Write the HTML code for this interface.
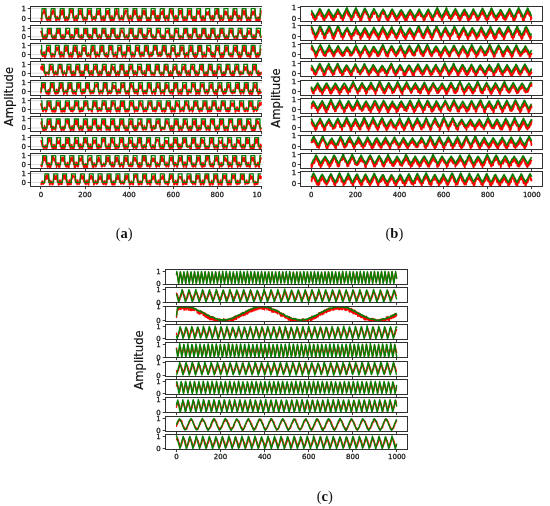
<!DOCTYPE html>
<html><head><meta charset="utf-8"><style>
html,body{margin:0;padding:0;background:#fff;width:550px;height:506px;overflow:hidden}
svg{display:block}

.tk{font-family:"DejaVu Sans","Liberation Sans",sans-serif;font-size:7px;fill:#111;stroke:#111;stroke-width:0.25px}
.yl{font-family:"DejaVu Sans","Liberation Sans",sans-serif;font-size:11.6px;fill:#111;stroke:#111;stroke-width:0.2px}
.cap{font-family:"Liberation Serif","DejaVu Serif",serif;font-size:14.5px;fill:#111}
</style></head><body>
<svg width="550" height="506" viewBox="0 0 550 506">
<rect width="550" height="506" fill="#fff"/>
<defs><clipPath id="ca"><rect x="0" y="0" width="262" height="506"/></clipPath><clipPath id="ra0"><rect x="30.30" y="6.35" width="242.50" height="15.05"/></clipPath><clipPath id="ra1"><rect x="30.30" y="25.30" width="242.50" height="14.60"/></clipPath><clipPath id="ra2"><rect x="30.30" y="43.20" width="242.50" height="15.00"/></clipPath><clipPath id="ra3"><rect x="30.30" y="61.30" width="242.50" height="15.10"/></clipPath><clipPath id="ra4"><rect x="30.30" y="80.20" width="242.50" height="15.00"/></clipPath><clipPath id="ra5"><rect x="30.30" y="98.30" width="242.50" height="14.70"/></clipPath><clipPath id="ra6"><rect x="30.30" y="116.60" width="242.50" height="14.70"/></clipPath><clipPath id="ra7"><rect x="30.30" y="135.10" width="242.50" height="14.70"/></clipPath><clipPath id="ra8"><rect x="30.30" y="153.30" width="242.50" height="15.00"/></clipPath><clipPath id="ra9"><rect x="30.30" y="171.30" width="242.50" height="15.20"/></clipPath><clipPath id="rb0"><rect x="300.60" y="6.35" width="242.50" height="15.25"/></clipPath><clipPath id="rb1"><rect x="300.60" y="25.10" width="242.50" height="15.10"/></clipPath><clipPath id="rb2"><rect x="300.60" y="43.30" width="242.50" height="15.40"/></clipPath><clipPath id="rb3"><rect x="300.60" y="61.50" width="242.50" height="15.20"/></clipPath><clipPath id="rb4"><rect x="300.60" y="80.00" width="242.50" height="15.00"/></clipPath><clipPath id="rb5"><rect x="300.60" y="98.50" width="242.50" height="14.70"/></clipPath><clipPath id="rb6"><rect x="300.60" y="116.60" width="242.50" height="14.60"/></clipPath><clipPath id="rb7"><rect x="300.60" y="135.10" width="242.50" height="14.70"/></clipPath><clipPath id="rb8"><rect x="300.60" y="153.60" width="242.50" height="14.60"/></clipPath><clipPath id="rb9"><rect x="300.60" y="171.70" width="242.50" height="14.70"/></clipPath><clipPath id="rc0"><rect x="165.20" y="269.10" width="242.50" height="15.00"/></clipPath><clipPath id="rc1"><rect x="165.20" y="287.90" width="242.50" height="14.30"/></clipPath><clipPath id="rc2"><rect x="165.20" y="306.30" width="242.50" height="14.70"/></clipPath><clipPath id="rc3"><rect x="165.20" y="324.50" width="242.50" height="14.70"/></clipPath><clipPath id="rc4"><rect x="165.20" y="342.60" width="242.50" height="15.20"/></clipPath><clipPath id="rc5"><rect x="165.20" y="361.50" width="242.50" height="14.70"/></clipPath><clipPath id="rc6"><rect x="165.20" y="379.30" width="242.50" height="15.00"/></clipPath><clipPath id="rc7"><rect x="165.20" y="397.30" width="242.50" height="15.20"/></clipPath><clipPath id="rc8"><rect x="165.20" y="416.00" width="242.50" height="15.00"/></clipPath><clipPath id="rc9"><rect x="165.20" y="434.80" width="242.50" height="14.40"/></clipPath></defs>
<g clip-path="url(#ca)"><line x1="30.30" x2="272.80" y1="18.20" y2="18.20" stroke="#d4d4d4" stroke-width="0.9"/><line x1="30.30" x2="272.80" y1="8.30" y2="8.30" stroke="#d4d4d4" stroke-width="0.9"/><g clip-path="url(#ra0)"><g transform="scale(0.1)"><path d="M409 189l2-6 2-1 3 22 2-47 2 0 2-10 2-23 3 9 2 1 2 2 2-10 2-4 3-2 2-24 2 11 2 9 2-20 3 42 2 3 2-24 2 46 3-13 2 20 2-14 2 12 2 30 3-1 2 1 2-9 2 14 2 3 3-8 2-26 2 10 2 0 2-6 3-14 2 37 2-12 2 14 2-16 3 4 2 21 2-11 2-50 2 2 3-2 2-19 2-13 2 29 2-17 3 3 2 9 2-35 2 23 2-32 3 21 2-1 2-2 2-2 3 28 2 23 2 1 2-11 2 18 3-14 2 23 2 26 2-24 2 3 3 18 2-7 2-5 2-25 2-4 3 14 2-1 2 7 2 15 2-15 3 11 2 4 2-17 2 20 2-12 3-40 2 10 2 7 2-64 2 22 3-4 2 12 2-23 2 39 2-19 3 19 2-5 2-45 2 16 3 12 2-5 2-18 2 28 2 44 3-1 2-19 2 9 2 9 2 29 3 10 2-19 2 10 2 0 2-19 3-13 2-7 2 14 2-6 2 1 3 28 2-9 2 11 2-23 2 6 3 10 2-13 2-39 2 22 2-15 3 3 2-19 2-37 2 28 2-29 3 25 2-1 2-20 2 9 2 8 3 9 2-25 2 25 2-27 3 46 2 13 2 16 2-11 2 2 3-6 2 44 2 0 2-20 2 21 3-6 2-11 2 13 2-30 2-7 3 21 2-30 2 29 2 19 2-2 3-17 2 18 2-22 2 6 2-1 3-42 2 14 2-7 2-4 2-19 3-19 2-2 2 4 2 33 2-42 3 5 2-4 2 19 2-21 3 47 2 1 2 0 2 14 2-14 3 26 2-12 2-12 2 41 2 9 3-1 2 3 2-16 2 0 2 10 3-27 2 11 2 1 2 5 2-8 3 26 2-21 2 3 2-3 2 3 3 0 2 12 2-53 2 15 2-6 3-21 2-30 2 4 2 35 2-34 3-6 2 37 2-20 2-4 3 2 2 27 2-30 2 2 2-11 3 45 2 16 2 1 2 6 2-23 3 54 2-14 2-9 2 16 2-6 3-3 2 2 2-8 2-16 2-1 3-1 2 8 2 24 2-3 2-5 3 14 2-20 2 10 2-7 2-47 3 15 2 1 2-9 2-36 2 9 3 15 2 12 2-36 2 33 3 0 2 0 2 3 2-44 2 34 3-2 2-28 2 11 2 32 2 9 3 8 2-9 2 7 2 49 2-16 3 6 2-4 2-1 2 0 2-26 3 16 2-24 2 15 2-17 2 44 3-6 2-10 2 23 2-25 2 1 3 11 2-45 2-7 2 15 2-11 3-43 2 20 2-13 2 24 2-30 3 0 2 2 2 15 2 3 3-2 2 21 2-44 2 16 2 9 3 46 2-18 2 3 2-1 2 5 3 45 2-11 2 11 2-13 2-7 3 13 2 4 2-49 2 11 2 7 3 10 2 3 2 13 2-12 2-2 3 20 2-19 2-6 2 12 2-49 3-7 2 27 2-17 2-15 2 0 3-22 2 14 2 21 2-50 3 6 2-2 2 36 2-8 2 9 3 6 2 5 2 11 2 14 2-22 3 22 2-7 2 35 2-10 2-1 3-7 2 1 2 14 2-8 2-16 3 11 2-5 2-25 2 7 2 33 3-3 2-3 2 5 2 6 2-15 3 15 2-43 2-16 2 22 2-16 3-15 2-15 2 29 2-9 3-13 2-22 2 7 2-4 2 4 3 2 2-7 2 9 2-3 2 53 3 8 2-6 2-10 2 16 2 25 3-12 2 22 2-21 2 18 2-8 3-6 2-20 2-13 2 3 2-1 3 17 2 16 2-1 2-6 2 21 3 3 2-22 2 17 2-63 2-1 3 27 2-58 2 38 2-36 3 39 2-51 2 26 2 3 2-16 3 10 2-11 2 35 2-26 2 0 3-20 2 48 2 17 2 3 2-5 3 9 2-3 2 35 2-20 2 2 3 4 2 17 2 4 2-45 2-4 3 0 2 21 2-22 2 39 2-10 3 11 2-14 2-3 2 24 2-17 3-32 2 1 2 4 2-5 3-27 2-26 2 24 2-25 2 3 3 18 2-14 2 36 2-19 2-25 3 15 2 2 2-6 2-1 2 44 3-9 2 5 2 22 2-13 2 45 3-14 2-6 2 21 2-13 2 0 3 13 2-33 2 2 2-5 2 10 3 27 2-8 2-9 2 7 2 12 3-27 2 20 2-5 2-49 3-1 2 6 2-47 2 17 2 4 3-9 2 19 2-7 2-20 2-4 3 38 2-36 2-4 2 20 2 20 3-33 2 54 2 4 2 6 2-4 3-21 2 50 2-20 2 6 2 15 3-7 2 11 2-8 2-43 2 12 3-11 2 31 2-30 2 24 2 26 3-7 2 10 2-11 2-1 2-4 3-46 2-9 2 15 2-24 3 5 2-10 2-3 2 19 2-16 3-11 2 27 2 0 2-2 2-6 3-36 2 50 2-8 2 36 2-25 3 17 2-10 2-6 2 35 2 15 3 2 2 5 2-17 2-10 2 2 3-25 2 4 2 1 2-10 2 16 3 20 2 0 2-1 2 19 2-4 3 6 2-28 2-42 2 4 3-2 2-42 2-4 2 21 2-3 3-1 2 6 2-21 2 19 2 14 3-9 2 26 2-37 2 1 2 15 3-23 2 58 2 10 2-1 2-5 3 1 2 38 2-8 2-16 2 11 3 0 2 9 2-45 2 27 2 5 3-30 2 17 2 11 2 13 2 4 3-22 2 13 2 9 2 4 3-41 2-6 2 0 2-16 2-22 3 25 2-27 2-16 2 41 2-10 3-27 2 9 2 16 2-17 2 9 3-22 2 31 2-25 2 63 2-11 3 6 2-9 2 3 2 39 2 9 3-22 2 15 2-4 2 10 2-7 3-28 2-8 2 13 2-1 2 14 3-8 2 10 2 18 2-30 3 24 2-4 2-6 2-53 2 23 3-7 2-39 2 3 2 23 2-2 3-41 2 22 2-18 2 40 2-28 3-15 2 0 2 46 2-28 2 9 3 47 2-7 2-8 2-6 2 10 3 25 2-10 2 3 2 24 2-12 3-9 2 22 2-44 2 22 2-1 3-19 2-1 2 35 2 2 2-5 3-13 2 10 2-2 2 15 3-59 2 8 2-18 2-33 2 36 3-22 2-10 2 18 2 7 2-6 3-9 2-7 2 6 2 25 2-38 3-6 2 44 2 27 2-10 2 7 3 2 2-4 2 16 2 29 2-1 3-1 2-26 2 16 2-14 2-28 3 18 2-15 2 15 2 3 2 10 3 21 2-27 2 15 2 3 3-10 2 13 2-53 2 8 2-1 3-43 2 8 2 18 2 2 2-8 3 13 2-9 2 4 2-18 2 6 3-12 2 16 2 14 2-16 2-23 3 48 2 9 2-14 2 1 2 14 3 25 2 7 2 3 2-6 2-6 3-7 2-5 2-19 2 17 2-16 3-4 2 50 2-24 2 22 3-14 2 0 2-7 2 8 2-37 3-6 2-2 2 0 2-29 2 29 3-27 2 6 2-6 2-9 2 3 3-17 2 45 2-35 2 21 2-20 3-5 2-6 2 76 2-22 2 1 3 15 2-10 2 28 2 10 2 15 3-8 2 3 2 3 2-11 2-40 3 22 2-20 2 18 2 14 3 7 2-1 2 6 2-4 2-2 3 5 2-15 2-41 2 12 2-17 3-1 2 5 2-32 2-3 2 24 3-18 2 33 2-20 2-10 2 18 3-5 2-14 2 1 2 23 2 22 3-13 2 16 2-11 2 3 2 24 3 28 2-19 2 20 2-17 2 14 3-17 2-9 2-23 2 20 3-3 2-15 2 42 2 3 2-1 3-11 2 4 2-12 2 10 2-37 3-20 2 28 2-29 2-27 2 38 3-13 2-38 2 3 2 14 2 29 3-12 2 16 2-10 2 10 2-5 3-28 2 48 2-4 2 5 2-3 3-11 2 59 2-4 2 4 2-23 3 9 2 2 2-4 2-39 3 12 2 9 2 2 2-14 2 17 3 14 2 3 2-13 2 26 2 0 3-23 2-30 2 5 2-23 2-35 3-7 2 39 2-33 2 25 2 5 3-11 2 27 2-23 2 13 2-28 3 11 2-19 2-2 2 31 2 38 3-2 2-7 2-3 2-7 2 54 3-21 2 8 2 17 2 2 2-27 3 6 2-1 2-18 2 8 3-3 2 20 2 6 2 0 2 3 3-13 2-10 2 27 2-53 2-6 3-10 2 20 2-39 2 25 2-20 3-12 2 32 2-10 2 12 2-28 3 9 2-7 2 12 2-20 2 26 3-39 2 50 2 7 2-8 2 14 3-11 2 36 2 20 2-9 2-7 3-10 2 17 2 6 2-17 3-8 2-3 2-9 2 35 2-8 3-13 2-2 2 26 2-13 2-4 3 17 2-69 2 26 2-8 2-18 3-35 2-1" fill="none" stroke="#ff0000" stroke-width="15" stroke-linejoin="round"/><path d="M409 182l2 0 2 0 3 0 2 0 2-96 2 0 2 0 3 0 2 0 2 0 2 0 2 0 3 0 2 0 2 0 2 0 2 0 3 0 2 0 2 0 2 0 3 0 2 0 2 96 2 0 2 0 3 0 2 0 2 0 2 0 2 0 3 0 2 0 2 0 2 0 2 0 3 0 2 0 2 0 2 0 2 0 3 0 2 0 2 0 2 0 2-79 3-17 2 0 2 0 2 0 2 0 3 0 2 0 2 0 2 0 2 0 3 0 2 0 2 0 2 0 3 0 2 0 2 0 2 0 2 83 3 13 2 0 2 0 2 0 2 0 3 0 2 0 2 0 2 0 2 0 3 0 2 0 2 0 2 0 2 0 3 0 2 0 2 0 2 0 2 0 3 0 2-40 2-56 2 0 2 0 3 0 2 0 2 0 2 0 2 0 3 0 2 0 2 0 2 0 3 0 2 0 2 0 2 0 2 0 3 0 2 44 2 52 2 0 2 0 3 0 2 0 2 0 2 0 2 0 3 0 2 0 2 0 2 0 2 0 3 0 2 0 2 0 2 0 2 0 3 0 2 0 2 0 2-1 2-95 3 0 2 0 2 0 2 0 2 0 3 0 2 0 2 0 2 0 2 0 3 0 2 0 2 0 2 0 3 0 2 0 2 0 2 5 2 91 3 0 2 0 2 0 2 0 2 0 3 0 2 0 2 0 2 0 2 0 3 0 2 0 2 0 2 0 2 0 3 0 2 0 2 0 2 0 2 0 3 0 2-96 2 0 2 0 2 0 3 0 2 0 2 0 2 0 2 0 3 0 2 0 2 0 2 0 3 0 2 0 2 0 2 0 2 0 3 0 2 96 2 0 2 0 2 0 3 0 2 0 2 0 2 0 2 0 3 0 2 0 2 0 2 0 2 0 3 0 2 0 2 0 2 0 2 0 3 0 2 0 2 0 2-79 2-17 3 0 2 0 2 0 2 0 2 0 3 0 2 0 2 0 2 0 3 0 2 0 2 0 2 0 2 0 3 0 2 0 2 0 2 83 2 13 3 0 2 0 2 0 2 0 2 0 3 0 2 0 2 0 2 0 2 0 3 0 2 0 2 0 2 0 2 0 3 0 2 0 2 0 2 0 2 0 3-40 2-56 2 0 2 0 2 0 3 0 2 0 2 0 2 0 3 0 2 0 2 0 2 0 2 0 3 0 2 0 2 0 2 0 2 0 3 44 2 52 2 0 2 0 2 0 3 0 2 0 2 0 2 0 2 0 3 0 2 0 2 0 2 0 2 0 3 0 2 0 2 0 2 0 2 0 3 0 2 0 2-1 2-95 2 0 3 0 2 0 2 0 2 0 2 0 3 0 2 0 2 0 2 0 3 0 2 0 2 0 2 0 2 0 3 0 2 0 2 5 2 91 2 0 3 0 2 0 2 0 2 0 2 0 3 0 2 0 2 0 2 0 2 0 3 0 2 0 2 0 2 0 2 0 3 0 2 0 2 0 2 0 2 0 3-96 2 0 2 0 2 0 2 0 3 0 2 0 2 0 2 0 3 0 2 0 2 0 2 0 2 0 3 0 2 0 2 0 2 0 2 0 3 96 2 0 2 0 2 0 2 0 3 0 2 0 2 0 2 0 2 0 3 0 2 0 2 0 2 0 2 0 3 0 2 0 2 0 2 0 2 0 3 0 2 0 2-79 2-17 2 0 3 0 2 0 2 0 2 0 3 0 2 0 2 0 2 0 2 0 3 0 2 0 2 0 2 0 2 0 3 0 2 0 2 83 2 13 2 0 3 0 2 0 2 0 2 0 2 0 3 0 2 0 2 0 2 0 2 0 3 0 2 0 2 0 2 0 2 0 3 0 2 0 2 0 2 0 2-40 3-56 2 0 2 0 2 0 3 0 2 0 2 0 2 0 2 0 3 0 2 0 2 0 2 0 2 0 3 0 2 0 2 0 2 0 2 44 3 52 2 0 2 0 2 0 2 0 3 0 2 0 2 0 2 0 2 0 3 0 2 0 2 0 2 0 2 0 3 0 2 0 2 0 2 0 2 0 3 0 2-1 2-95 2 0 3 0 2 0 2 0 2 0 2 0 3 0 2 0 2 0 2 0 2 0 3 0 2 0 2 0 2 0 2 0 3 0 2 5 2 91 2 0 2 0 3 0 2 0 2 0 2 0 2 0 3 0 2 0 2 0 2 0 2 0 3 0 2 0 2 0 2 0 2 0 3 0 2 0 2 0 2 0 3-96 2 0 2 0 2 0 2 0 3 0 2 0 2 0 2 0 2 0 3 0 2 0 2 0 2 0 2 0 3 0 2 0 2 0 2 0 2 96 3 0 2 0 2 0 2 0 2 0 3 0 2 0 2 0 2 0 2 0 3 0 2 0 2 0 2 0 2 0 3 0 2 0 2 0 2 0 2 0 3 0 2-79 2-17 2 0 3 0 2 0 2 0 2 0 2 0 3 0 2 0 2 0 2 0 2 0 3 0 2 0 2 0 2 0 2 0 3 0 2 83 2 13 2 0 2 0 3 0 2 0 2 0 2 0 2 0 3 0 2 0 2 0 2 0 2 0 3 0 2 0 2 0 2 0 2 0 3 0 2 0 2 0 2-40 3-56 2 0 2 0 2 0 2 0 3 0 2 0 2 0 2 0 2 0 3 0 2 0 2 0 2 0 2 0 3 0 2 0 2 0 2 44 2 52 3 0 2 0 2 0 2 0 2 0 3 0 2 0 2 0 2 0 2 0 3 0 2 0 2 0 2 0 2 0 3 0 2 0 2 0 2 0 3 0 2-1 2-95 2 0 2 0 3 0 2 0 2 0 2 0 2 0 3 0 2 0 2 0 2 0 2 0 3 0 2 0 2 0 2 0 2 0 3 5 2 91 2 0 2 0 2 0 3 0 2 0 2 0 2 0 2 0 3 0 2 0 2 0 2 0 2 0 3 0 2 0 2 0 2 0 3 0 2 0 2 0 2 0 2-96 3 0 2 0 2 0 2 0 2 0 3 0 2 0 2 0 2 0 2 0 3 0 2 0 2 0 2 0 2 0 3 0 2 0 2 0 2 96 2 0 3 0 2 0 2 0 2 0 2 0 3 0 2 0 2 0 2 0 2 0 3 0 2 0 2 0 2 0 2 0 3 0 2 0 2 0 2 0 3 0 2-79 2-17 2 0 2 0 3 0 2 0 2 0 2 0 2 0 3 0 2 0 2 0 2 0 2 0 3 0 2 0 2 0 2 0 2 0 3 82 2 14 2 0 2 0 2 0 3 0 2 0 2 0 2 0 2 0 3 0 2 0 2 0 2 0 2 0 3 0 2 0 2 0 2 0 3 0 2 0 2 0 2-40 2-56 3 0 2 0 2 0 2 0 2 0 3 0 2 0 2 0 2 0 2 0 3 0 2 0 2 0 2 0 2 0 3 0 2 0 2 44 2 52 2 0 3 0 2 0 2 0 2 0 2 0 3 0 2 0 2 0 2 0 2 0 3 0 2 0 2 0 2 0 3 0 2 0 2 0 2 0 2 0 3-1 2-95 2 0 2 0 2 0 3 0 2 0 2 0 2 0 2 0 3 0 2 0 2 0 2 0 2 0 3 0 2 0 2 0 2 0 2 5 3 91 2 0 2 0 2 0 2 0 3 0 2 0 2 0 2 0 2 0 3 0 2 0 2 0 2 0 3 0 2 0 2 0 2 0 2 0 3 0 2 0 2 0 2-96 2 0 3 0 2 0 2 0 2 0 2 0 3 0 2 0 2 0 2 0 2 0 3 0 2 0 2 0 2 0 2 0 3 0 2 0 2 96 2 0 2 0 3 0 2 0 2 0 2 0 2 0 3 0 2 0 2 0 2 0 3 0 2 0 2 0 2 0 2 0 3 0 2 0 2 0 2 0 2 0 3-79 2-17 2 0 2 0 2 0 3 0 2 0 2 0 2 0 2 0 3 0 2 0 2 0 2 0 2 0 3 0 2 0 2 0 2 0 2 82 3 14 2 0 2 0 2 0 2 0 3 0 2 0 2 0 2 0 3 0 2 0 2 0 2 0 2 0 3 0 2 0 2 0 2 0 2 0 3 0 2 0 2-40 2-56 2 0 3 0 2 0 2 0 2 0 2 0 3 0 2 0 2 0 2 0 2 0 3 0 2 0 2 0 2 0 2 0 3 0 2 44 2 52 2 0 2 0 3 0 2 0 2 0 2 0 2 0 3 0 2 0 2 0 2 0 3 0 2 0 2 0 2 0 2 0 3 0 2 0 2 0 2 0 2-1 3-95 2 0 2 0 2 0 2 0 3 0 2 0 2 0 2 0 2 0 3 0 2 0 2 0 2 0 2 0 3 0 2 0 2 0 2 5 2 91 3 0 2 0 2 0 2 0 2 0 3 0 2 0 2 0 2 0 3 0 2 0 2 0 2 0 2 0 3 0 2 0 2 0 2 0 2 0 3 0 2 0 2-96 2 0 2 0 3 0 2 0" fill="none" stroke="#008000" stroke-width="13" stroke-linejoin="round"/></g></g><rect x="30.5" y="6.5" width="242.0" height="15.0" fill="none" stroke="#303030" stroke-width="1"/><line x1="27.70" x2="30.50" y1="8.5" y2="8.5" stroke="#262626" stroke-width="0.9"/><text x="25.90" y="10.70" class="tk" text-anchor="end">1</text><line x1="27.70" x2="30.50" y1="18.5" y2="18.5" stroke="#262626" stroke-width="0.9"/><text x="25.90" y="20.60" class="tk" text-anchor="end">0</text><line x1="40.5" x2="40.5" y1="21.5" y2="24.1" stroke="#262626" stroke-width="0.9"/><line x1="85.5" x2="85.5" y1="21.5" y2="24.1" stroke="#262626" stroke-width="0.9"/><line x1="129.5" x2="129.5" y1="21.5" y2="24.1" stroke="#262626" stroke-width="0.9"/><line x1="173.5" x2="173.5" y1="21.5" y2="24.1" stroke="#262626" stroke-width="0.9"/><line x1="217.5" x2="217.5" y1="21.5" y2="24.1" stroke="#262626" stroke-width="0.9"/><line x1="261.5" x2="261.5" y1="21.5" y2="24.1" stroke="#262626" stroke-width="0.9"/><line x1="30.30" x2="272.80" y1="36.80" y2="36.80" stroke="#d4d4d4" stroke-width="0.9"/><line x1="30.30" x2="272.80" y1="28.10" y2="28.10" stroke="#d4d4d4" stroke-width="0.9"/><g clip-path="url(#ra1)"><g transform="scale(0.1)"><path d="M409 308l2 16 2-11 3 22 2 3 2 17 2 3 2-13 3-5 2 45 2 4 2-11 2 14 3-5 2 2 2-15 2-15 2 15 3-17 2-12 2 8 2 32 3-1 2-5 2 13 2-25 2 23 3-21 2-22 2 2 2 4 2-55 3 4 2 32 2-11 2-25 2 6 3 35 2-29 2 23 2-17 2-23 3 43 2-35 2 16 2-24 2 51 3-5 2 14 2-9 2 12 2 18 3 2 2 9 2-18 2 26 2-6 3-13 2-9 2 0 2-13 3 2 2 40 2-16 2 5 2-8 3 4 2 5 2 10 2-59 2-5 3-1 2-13 2 19 2-38 2 18 3-16 2 37 2-29 2 15 2-8 3-4 2-10 2-4 2 35 2-32 3 35 2 17 2-5 2 10 2-3 3-4 2 41 2 0 2-13 2 8 3 8 2-4 2-31 2-1 3-12 2 12 2 11 2 5 2 18 3-16 2-5 2-4 2 8 2 3 3-32 2-4 2 1 2 4 2-26 3 18 2-40 2 22 2 15 2-9 3 1 2 10 2-13 2 7 2-2 3-21 2 24 2 6 2 8 2-1 3 9 2-14 2 10 2 25 2 10 3-17 2 18 2 3 2 4 2-6 3-43 2 0 2 8 2 13 3-5 2 14 2 5 2-11 2 11 3 10 2-17 2-4 2-20 2 4 3-1 2-42 2 26 2-36 2 38 3-9 2-4 2 12 2-40 2-2 3 3 2 33 2-30 2 23 2 3 3 35 2-16 2 17 2-15 2 2 3 28 2-2 2 2 2-10 2 0 3 4 2 10 2-26 2 13 3-6 2-17 2 23 2 26 2-22 3 8 2-9 2 9 2-9 2 3 3-32 2-1 2-10 2-14 2-10 3-10 2 13 2 22 2-8 2-28 3 41 2-8 2-19 2-11 2 2 3 4 2 1 2 49 2-7 2 15 3-10 2-11 2 30 2-1 2 0 3 16 2-10 2 4 2 2 3-39 2 3 2 4 2 10 2-8 3 24 2 0 2 6 2-7 2 0 3-3 2 16 2-42 2 3 2-13 3-42 2 24 2-17 2 3 2 21 3 4 2-26 2-10 2-1 2 30 3 13 2-12 2 12 2-43 2 32 3 32 2-12 2 12 2 2 2-2 3 26 2-16 2 26 2-17 3 4 2-11 2 3 2-16 2-10 3 24 2-17 2 18 2-2 2 21 3-10 2-13 2 25 2-18 2-32 3-6 2-5 2-21 2 21 2-35 3 38 2-6 2-29 2 13 2 12 3-22 2 7 2 25 2-6 2-27 3 0 2 35 2 21 2 3 2-20 3 10 2-3 2 36 2 11 2-8 3-18 2 17 2-2 2-18 3-18 2 4 2 18 2-1 2 16 3-15 2 10 2-11 2-1 2 3 3 13 2-49 2-1 2 20 2-6 3-49 2 25 2-1 2 6 2-32 3 1 2 22 2 1 2 13 2-40 3 15 2-14 2 16 2 5 2 43 3-5 2-9 2 6 2 5 2 21 3 0 2 0 2-2 2 20 3-8 2-1 2-38 2 6 2 8 3-7 2 18 2 9 2 7 2-7 3 7 2-16 2 19 2-18 2-42 3 12 2 9 2-27 2-5 2-4 3-1 2-10 2-5 2-6 2 14 3 19 2-15 2 7 2 9 2-4 3 5 2 12 2 10 2 12 2-23 3 9 2 33 2 1 2-6 3-5 2 0 2-4 2 7 2-9 3-13 2 20 2-25 2 27 2 8 3 8 2 0 2-3 2-18 2 15 3-15 2-16 2-18 2-2 2-6 3-13 2 17 2 1 2-38 2 3 3 37 2-35 2 36 2-13 2-30 3 2 2 22 2-11 2 46 2 6 3-2 2-12 2 1 2 29 3 18 2-2 2-20 2 19 2-20 3 10 2-22 2 3 2 14 2-21 3 6 2 33 2-21 2-2 2-2 3 9 2 2 2 11 2-36 2-8 3 9 2-39 2-2 2 14 2-7 3-18 2-3 2 0 2 14 2-15 3 35 2-40 2 44 2-40 2 5 3 19 2 27 2 4 2-12 3 21 2-20 2 31 2 9 2-12 3 16 2 5 2-6 2-40 2 10 3 9 2-13 2 0 2 39 2 2 3-9 2-7 2 11 2-18 2 26 3-61 2 21 2-19 2-5 2 7 3-33 2 35 2-27 2 10 2-13 3 3 2 5 2-14 2 9 2-15 3 15 2-14 2 1 2 60 3-13 2 11 2-1 2-13 2 30 3 5 2 2 2-2 2 5 2-5 3-28 2 13 2 10 2-1 2-1 3 16 2-5 2-9 2 10 2-13 3 9 2 12 2-47 2 6 2 4 3-23 2 6 2-6 2-36 2 6 3 12 2-3 2-6 2-3 2 27 3-26 2 7 2 17 2 0 2 5 3 11 2 21 2-25 2 2 3 11 2 28 2-1 2 1 2-1 3-3 2-8 2 25 2-34 2-8 3 8 2 5 2-4 2 26 2-8 3 8 2-18 2 22 2-6 2 1 3-53 2 22 2-23 2 4 2-5 3-9 2-8 2 2 2 8 2-14 3-4 2 23 2 1 2-18 2 10 3-20 2 39 2 0 2 2 3 16 2-8 2-11 2 46 2-17 3 21 2-20 2 17 2-4 2-14 3 0 2-17 2 18 2 5 2-10 3 12 2 18 2-2 2-23 2 6 3-3 2 18 2-39 2-18 2 22 3-32 2-13 2-5 2-7 2 31 3 0 2-8 2 5 2-24 2 21 3 0 2-6 2-3 2 10 3 15 2 24 2-18 2 16 2-10 3 24 2 11 2-17 2 17 2 4 3 3 2-23 2-13 2 0 2 10 3 1 2-2 2 5 2-3 2 7 3 16 2-24 2 6 2 16 2-54 3-3 2 6 2-33 2 29 2 4 3-7 2-37 2 25 2 14 2-24 3 14 2-9 2-21 2 14 3 8 2-22 2 24 2 38 2-11 3 8 2-11 2 9 2 27 2 14 3-3 2-7 2-7 2-3 2-23 3 2 2-5 2 0 2 9 2 16 3 19 2-8 2-7 2 20 2-22 3 3 2-38 2 11 2 2 2-31 3 11 2-27 2-4 2 18 2-17 3 27 2-27 2-5 2 14 2-14 3 11 2 2 2 10 2 19 3 25 2 1 2-20 2 5 2 13 3 26 2-3 2-2 2-15 2 19 3-10 2-6 2 1 2-4 2-21 3 4 2 36 2 2 2-1 2 8 3-20 2 5 2-3 2-36 2 3 3 11 2-3 2-41 2-11 2 21 3 12 2-35 2-1 2-3 2 45 3-26 2-2 2 4 2 16 3-34 2 18 2 47 2-13 2-1 3 14 2-3 2 21 2 13 2-12 3 7 2 1 2-12 2 7 2-9 3-2 2-27 2 27 2-22 2 42 3-19 2 11 2-14 2 23 2-15 3 14 2-59 2 9 2 13 2-30 3-28 2 13 2-6 2 12 2 14 3-34 2 31 2 4 2-22 3 26 2-32 2 3 2 15 2 23 3 12 2-14 2 2 2 5 2 37 3-16 2 21 2-14 2 12 2-21 3 0 2 6 2-19 2 4 2 5 3-17 2 22 2 19 2-14 2 15 3-8 2 4 2-9 2-24 2-4 3-8 2-12 2-35 2 27 2-10 3 23 2-21 2-1 2-8 3-9 2 24 2 7 2 7 2-8 3-6 2 37 2 3 2-12 2 2 3-10 2 40 2 7 2 8 2-25 3 4 2 12 2-5 2-15 2 7 3-22 2 17 2 5 2 20 2-13 3-10 2 3 2-3 2 22 2-18 3-40 2 10 2-4 2-31 2-1 3 22 2-3 2-22 2 18 3 2 2-28 2 19 2 0 2-3 3 26 2-16 2-19 2 7 2 49 3-20 2 9 2 7 2 3 2 11 3 5 2 19 2-21 2 0 2 0 3 3 2-2 2-7 2 10 2-21 3 25 2 8 2-19 2 8 2-4 3 21 2-19 2-23 2-17 2 9 3-9 2-15 2 11 2-22 3-2 2-1 2 18 2-12 2 19 3-34 2-1 2 43 2-25 2-7 3 22 2 11 2 16 2-4 2 8 3-1 2 24 2-15 2 14 2 6 3 2 2 3 2-33 2-5 2-1 3 1 2 14 2 0 2 21 2-2 3-2 2 2 2-4 2-11 2-39 3 1 2-4 2 19 2-43 2 2 3 0 2 31 2-10 2-6 3 4 2-6 2 0 2 2 2 16 3-40 2-5 2 16 2 32 2 9 3-12 2 6 2-6 2 39 2 0 3-8 2 8 2 14 2-15 2 9 3-24 2-12 2 9 2-10 2 22 3 23 2-1 2 1 2-6 2-1 3-2 2-9 2-37 2 6 2 4 3-36 2-2 2 15 2-15 3-11 2 19 2-15 2 11 2 0 3-4 2 22 2-4 2 2 2-17 3 28 2 13 2 7 2-1 2-5 3 20 2-7" fill="none" stroke="#ff0000" stroke-width="15" stroke-linejoin="round"/><path d="M409 284l2 0 2 0 3 0 2 0 2 0 2 0 2 82 3 2 2 0 2 0 2 0 2 0 3 0 2 0 2 0 2 0 2 0 3 0 2 0 2 0 2 0 3 0 2 0 2 0 2 0 2 0 3 0 2 0 2-49 2-35 2 0 3 0 2 0 2 0 2 0 2 0 3 0 2 0 2 0 2 0 2 0 3 0 2 0 2 0 2 0 2 0 3 0 2 55 2 29 2 0 2 0 3 0 2 0 2 0 2 0 2 0 3 0 2 0 2 0 2 0 3 0 2 0 2 0 2 0 2 0 3 0 2 0 2 0 2 0 2-22 3-62 2 0 2 0 2 0 2 0 3 0 2 0 2 0 2 0 2 0 3 0 2 0 2 0 2 0 2 0 3 0 2 0 2 0 2 28 2 56 3 0 2 0 2 0 2 0 2 0 3 0 2 0 2 0 2 0 3 0 2 0 2 0 2 0 2 0 3 0 2 0 2 0 2 0 2 0 3 0 2 0 2-84 2 0 2 0 3 0 2 0 2 0 2 0 2 0 3 0 2 0 2 0 2 0 2 0 3 0 2 0 2 0 2 0 2 0 3 1 2 83 2 0 2 0 2 0 3 0 2 0 2 0 2 0 2 0 3 0 2 0 2 0 2 0 3 0 2 0 2 0 2 0 2 0 3 0 2 0 2 0 2 0 2-84 3 0 2 0 2 0 2 0 2 0 3 0 2 0 2 0 2 0 2 0 3 0 2 0 2 0 2 0 2 0 3 0 2 0 2 0 2 84 2 0 3 0 2 0 2 0 2 0 2 0 3 0 2 0 2 0 2 0 3 0 2 0 2 0 2 0 2 0 3 0 2 0 2 0 2 0 2 0 3 0 2-76 2-8 2 0 2 0 3 0 2 0 2 0 2 0 2 0 3 0 2 0 2 0 2 0 2 0 3 0 2 0 2 0 2 0 2 0 3 83 2 1 2 0 2 0 2 0 3 0 2 0 2 0 2 0 3 0 2 0 2 0 2 0 2 0 3 0 2 0 2 0 2 0 2 0 3 0 2 0 2 0 2-49 2-35 3 0 2 0 2 0 2 0 2 0 3 0 2 0 2 0 2 0 2 0 3 0 2 0 2 0 2 0 2 0 3 0 2 0 2 55 2 29 2 0 3 0 2 0 2 0 2 0 3 0 2 0 2 0 2 0 2 0 3 0 2 0 2 0 2 0 2 0 3 0 2 0 2 0 2 0 2 0 3-22 2-62 2 0 2 0 2 0 3 0 2 0 2 0 2 0 2 0 3 0 2 0 2 0 2 0 2 0 3 0 2 0 2 0 2 0 2 28 3 56 2 0 2 0 2 0 2 0 3 0 2 0 2 0 2 0 3 0 2 0 2 0 2 0 2 0 3 0 2 0 2 0 2 0 2 0 3 0 2 0 2 0 2-84 2 0 3 0 2 0 2 0 2 0 2 0 3 0 2 0 2 0 2 0 2 0 3 0 2 0 2 0 2 0 2 0 3 0 2 1 2 83 2 0 2 0 3 0 2 0 2 0 2 0 3 0 2 0 2 0 2 0 2 0 3 0 2 0 2 0 2 0 2 0 3 0 2 0 2 0 2 0 2 0 3-84 2 0 2 0 2 0 2 0 3 0 2 0 2 0 2 0 2 0 3 0 2 0 2 0 2 0 2 0 3 0 2 0 2 0 2 0 2 84 3 0 2 0 2 0 2 0 3 0 2 0 2 0 2 0 2 0 3 0 2 0 2 0 2 0 2 0 3 0 2 0 2 0 2 0 2 0 3 0 2 0 2-76 2-8 2 0 3 0 2 0 2 0 2 0 2 0 3 0 2 0 2 0 2 0 2 0 3 0 2 0 2 0 2 0 2 0 3 0 2 83 2 1 2 0 3 0 2 0 2 0 2 0 2 0 3 0 2 0 2 0 2 0 2 0 3 0 2 0 2 0 2 0 2 0 3 0 2 0 2 0 2 0 2-49 3-35 2 0 2 0 2 0 2 0 3 0 2 0 2 0 2 0 2 0 3 0 2 0 2 0 2 0 2 0 3 0 2 0 2 0 2 55 3 29 2 0 2 0 2 0 2 0 3 0 2 0 2 0 2 0 2 0 3 0 2 0 2 0 2 0 2 0 3 0 2 0 2 0 2 0 2 0 3 0 2-22 2-62 2 0 2 0 3 0 2 0 2 0 2 0 2 0 3 0 2 0 2 0 2 0 2 0 3 0 2 0 2 0 2 0 3 0 2 28 2 56 2 0 2 0 3 0 2 0 2 0 2 0 2 0 3 0 2 0 2 0 2 0 2 0 3 0 2 0 2 0 2 0 2 0 3 0 2 0 2 0 2 0 2-84 3 0 2 0 2 0 2 0 2 0 3 0 2 0 2 0 2 0 2 0 3 0 2 0 2 0 2 0 2 0 3 0 2 0 2 1 2 83 3 0 2 0 2 0 2 0 2 0 3 0 2 0 2 0 2 0 2 0 3 0 2 0 2 0 2 0 2 0 3 0 2 0 2 0 2 0 2 0 3 0 2-84 2 0 2 0 2 0 3 0 2 0 2 0 2 0 2 0 3 0 2 0 2 0 2 0 2 0 3 0 2 0 2 0 2 0 3 0 2 84 2 0 2 0 2 0 3 0 2 0 2 0 2 0 2 0 3 0 2 0 2 0 2 0 2 0 3 0 2 0 2 0 2 0 2 0 3 0 2 0 2 0 2-76 2-8 3 0 2 0 2 0 2 0 2 0 3 0 2 0 2 0 2 0 2 0 3 0 2 0 2 0 2 0 3 0 2 0 2 0 2 83 2 1 3 0 2 0 2 0 2 0 2 0 3 0 2 0 2 0 2 0 2 0 3 0 2 0 2 0 2 0 2 0 3 0 2 0 2 0 2 0 2 0 3-49 2-35 2 0 2 0 2 0 3 0 2 0 2 0 2 0 2 0 3 0 2 0 2 0 2 0 3 0 2 0 2 0 2 0 2 0 3 55 2 29 2 0 2 0 2 0 3 0 2 0 2 0 2 0 2 0 3 0 2 0 2 0 2 0 2 0 3 0 2 0 2 0 2 0 2 0 3 0 2 0 2-22 2-62 2 0 3 0 2 0 2 0 2 0 2 0 3 0 2 0 2 0 2 0 2 0 3 0 2 0 2 0 2 0 3 0 2 0 2 28 2 56 2 0 3 0 2 0 2 0 2 0 2 0 3 0 2 0 2 0 2 0 2 0 3 0 2 0 2 0 2 0 2 0 3 0 2 0 2 0 2 0 2 0 3-84 2 0 2 0 2 0 2 0 3 0 2 0 2 0 2 0 2 0 3 0 2 0 2 0 2 0 3 0 2 0 2 0 2 0 2 1 3 83 2 0 2 0 2 0 2 0 3 0 2 0 2 0 2 0 2 0 3 0 2 0 2 0 2 0 2 0 3 0 2 0 2 0 2 0 2 0 3 0 2 0 2-84 2 0 2 0 3 0 2 0 2 0 2 0 2 0 3 0 2 0 2 0 2 0 3 0 2 0 2 0 2 0 2 0 3 0 2 0 2 84 2 0 2 0 3 0 2 0 2 0 2 0 2 0 3 0 2 0 2 0 2 0 2 0 3 0 2 0 2 0 2 0 2 0 3 0 2 0 2 0 2 0 2-76 3-8 2 0 2 0 2 0 2 0 3 0 2 0 2 0 2 0 3 0 2 0 2 0 2 0 2 0 3 0 2 0 2 0 2 0 2 83 3 1 2 0 2 0 2 0 2 0 3 0 2 0 2 0 2 0 2 0 3 0 2 0 2 0 2 0 2 0 3 0 2 0 2 0 2 0 2 0 3 0 2-49 2-35 2 0 2 0 3 0 2 0 2 0 2 0 3 0 2 0 2 0 2 0 2 0 3 0 2 0 2 0 2 0 2 0 3 0 2 55 2 29 2 0 2 0 3 0 2 0 2 0 2 0 2 0 3 0 2 0 2 0 2 0 2 0 3 0 2 0 2 0 2 0 2 0 3 0 2 0 2 0 2-22 2-62 3 0 2 0 2 0 2 0 3 0 2 0 2 0 2 0 2 0 3 0 2 0 2 0 2 0 2 0 3 0 2 0 2 0 2 28 2 56 3 0 2 0 2 0 2 0 2 0 3 0 2 0 2 0 2 0 2 0 3 0 2 0 2 0 2 0 2 0 3 0 2 0 2 0 2 0 2 0 3 0 2-84 2 0 2 0 2 0 3 0 2 0 2 0 2 0 3 0 2 0 2 0 2 0 2 0 3 0 2 0 2 0 2 0 2 0 3 1 2 83 2 0 2 0 2 0 3 0 2 0 2 0 2 0 2 0 3 0 2 0 2 0 2 0 2 0 3 0 2 0 2 0 2 0 2 0 3 0 2 0 2 0 2-84 2 0 3 0 2 0 2 0 2 0 3 0 2 0 2 0 2 0 2 0 3 0 2 0 2 0 2 0 2 0 3 0 2 0 2 0 2 84 2 0 3 0 2 0" fill="none" stroke="#008000" stroke-width="13" stroke-linejoin="round"/></g></g><rect x="30.5" y="25.5" width="242.0" height="14.0" fill="none" stroke="#303030" stroke-width="1"/><line x1="27.70" x2="30.50" y1="28.5" y2="28.5" stroke="#262626" stroke-width="0.9"/><text x="25.90" y="30.50" class="tk" text-anchor="end">1</text><line x1="27.70" x2="30.50" y1="36.5" y2="36.5" stroke="#262626" stroke-width="0.9"/><text x="25.90" y="39.20" class="tk" text-anchor="end">0</text><line x1="40.5" x2="40.5" y1="39.5" y2="42.1" stroke="#262626" stroke-width="0.9"/><line x1="85.5" x2="85.5" y1="39.5" y2="42.1" stroke="#262626" stroke-width="0.9"/><line x1="129.5" x2="129.5" y1="39.5" y2="42.1" stroke="#262626" stroke-width="0.9"/><line x1="173.5" x2="173.5" y1="39.5" y2="42.1" stroke="#262626" stroke-width="0.9"/><line x1="217.5" x2="217.5" y1="39.5" y2="42.1" stroke="#262626" stroke-width="0.9"/><line x1="261.5" x2="261.5" y1="39.5" y2="42.1" stroke="#262626" stroke-width="0.9"/><line x1="30.30" x2="272.80" y1="54.60" y2="54.60" stroke="#d4d4d4" stroke-width="0.9"/><line x1="30.30" x2="272.80" y1="45.10" y2="45.10" stroke="#d4d4d4" stroke-width="0.9"/><g clip-path="url(#ra2)"><g transform="scale(0.1)"><path d="M409 495l2 39 2-13 3 5 2 6 2 0 2 25 2 0 3 7 2-1 2-7 2-5 2-28 3 14 2 12 2-28 2 32 2 17 3 4 2-4 2 3 2-11 3 0 2-17 2-40 2-1 2 24 3-51 2 7 2 12 2-15 2 6 3 22 2-33 2 13 2-22 2 2 3 40 2-8 2-22 2 25 2 22 3-8 2 17 2-1 2-7 2 39 3-20 2 19 2 8 2-2 2-26 3 17 2-25 2-4 2 15 2-1 3 0 2 0 2 16 2-2 3 9 2-8 2-15 2 0 2-30 3 0 2 5 2-11 2-18 2-20 3-1 2 6 2 10 2 18 2-12 3-17 2-2 2 8 2-14 2 17 3-15 2 70 2-13 2 0 2-15 3 17 2 39 2-7 2-18 2 23 3 3 2-4 2-46 2 20 2-20 3 20 2-1 2 5 2 17 3-7 2 13 2-7 2-11 2 22 3-40 2-6 2-12 2-28 2 23 3-13 2-27 2 45 2-37 2 23 3-23 2 30 2-25 2-10 2 40 3-45 2 43 2 10 2 14 2 1 3-1 2 2 2 10 2 26 2-13 3 1 2 2 2 5 2-1 2-39 3 26 2-28 2 12 2 11 2 21 3 5 2-10 2 8 2-9 3 5 2-58 2-3 2 1 2-27 3-13 2 43 2-10 2-24 2 13 3 6 2-21 2 40 2-48 2 35 3-30 2 1 2 0 2 11 2 51 3 1 2-12 2-10 2 46 2 14 3-11 2 11 2-28 2 19 2 3 3-24 2-23 2 23 2-14 2 20 3 14 2-11 2 13 2 5 3-17 2 6 2-15 2-38 2 10 3-11 2-12 2-12 2 11 2-14 3 32 2-14 2 13 2-32 2 17 3-18 2 0 2 37 2-30 2-10 3 64 2-2 2-9 2 0 2 4 3 28 2 3 2 2 2-15 2 11 3 6 2-25 2-4 2-8 2 18 3-3 2 13 2-3 2-1 3 5 2 12 2-14 2 19 2-52 3-13 2 12 2-29 2-9 2 27 3-3 2 6 2-19 2-31 2 12 3-4 2-3 2 35 2-22 2 12 3 3 2 44 2-14 2 3 2-14 3 17 2 41 2-7 2-9 2 14 3-11 2 0 2-4 2-35 2 20 3-8 2 16 2 6 2 6 3-10 2 8 2-10 2 21 2-4 3-39 2-20 2 6 2 12 2-41 3 18 2-30 2 24 2 18 2-33 3-17 2 13 2-12 2 44 2-9 3-25 2 16 2 15 2 16 2 3 3 2 2-5 2 10 2 19 2 5 3-3 2-4 2 17 2-2 2-20 3-13 2 12 2-16 2 24 2-4 3 27 2-18 2 3 2 3 3 3 2-2 2-53 2 11 2-17 3-3 2-36 2 25 2-11 2 1 3 12 2-21 2-2 2 21 2 9 3-32 2 12 2 17 2 10 2 30 3-7 2-1 2-2 2 12 2 29 3-20 2 17 2 2 2-15 2 8 3-12 2 0 2-18 2-6 2 26 3 0 2 7 2 16 2-24 3 9 2 9 2 7 2-58 2-1 3 12 2-28 2-15 2 15 2-21 3 26 2-19 2 22 2 1 2-33 3 8 2 4 2 9 2-15 2-14 3 66 2-19 2 1 2 20 2-11 3 38 2 10 2-7 2 5 2-15 3-3 2 0 2-22 2 24 2-34 3 30 2-22 2 32 2-4 3 19 2-25 2 13 2-10 2-42 3 17 2-5 2-16 2-38 2 14 3-12 2 11 2 29 2-27 2-8 3 14 2-11 2 13 2 18 2-39 3 34 2 0 2 19 2 7 2-16 3 23 2-1 2 17 2 13 2 5 3-25 2 16 2-15 2-12 2-12 3 19 2 6 2-8 2 17 3 13 2-2 2-22 2 17 2-11 3-7 2-35 2-2 2 1 2-45 3 29 2-18 2 36 2-9 2-13 3-12 2 28 2-32 2 12 2 23 3 5 2-19 2-22 2 63 2-20 3 2 2 18 2-9 2 38 2-1 3 5 2-13 2 15 2-23 2-17 3 15 2-25 2 26 2-21 3 22 2 13 2-8 2-2 2 3 3 8 2 2 2-39 2-8 2-5 3-3 2 2 2-16 2 13 2-43 3 30 2 20 2-33 2-3 2-12 3 36 2-4 2-22 2 7 2 55 3-6 2-11 2 5 2-11 2 34 3 19 2 3 2-11 2-6 2 11 3-15 2-10 2 9 2-27 3 5 2 7 2 18 2 13 2-15 3-1 2 2 2-3 2-30 2-8 3 1 2-6 2-32 2 20 2-25 3 35 2-22 2-7 2-10 2 31 3-26 2 15 2-2 2 19 2-31 3 41 2 29 2-16 2-3 2 7 3 1 2 35 2-8 2 1 2 2 3-5 2 5 2-35 2 8 2 8 3-20 2 1 2 44 2-17 3 9 2-11 2 12 2-12 2 6 3-48 2 4 2 1 2-17 2 17 3-1 2-16 2-27 2 23 2-24 3 25 2 2 2 23 2-4 2-40 3 9 2 7 2 52 2-16 2 19 3-3 2-7 2 26 2 8 2-3 3 9 2-18 2-5 2 4 2-14 3 9 2 4 2-19 2 31 3 7 2-20 2 18 2 4 2-9 3 10 2-58 2 13 2-10 2-48 3 38 2-1 2-27 2-3 2 26 3-24 2 17 2 17 2-12 2 5 3-15 2 0 2 4 2-27 2 50 3 22 2-3 2-5 2 17 2 12 3 9 2 1 2-5 2-11 2 15 3-35 2-5 2 3 2-6 3 5 2 20 2 3 2 6 2-8 3 10 2-12 2 2 2-29 2-6 3-14 2-23 2-5 2-9 2 31 3 12 2-28 2-10 2 5 2 13 3 11 2-24 2-6 2 32 2-25 3 62 2-4 2-10 2 13 2-6 3 36 2 4 2-15 2-4 2-9 3 22 2-35 2 20 2-8 3-12 2-7 2 27 2 2 2-1 3-8 2 13 2 12 2 3 2-63 3 13 2-2 2-17 2-5 2-4 3 10 2 8 2-47 2 29 2-12 3 26 2-38 2 5 2 37 2-9 3-28 2 38 2 20 2-20 2 12 3 1 2 33 2 2 2 0 2-3 3-6 2 0 2 21 2-43 2 3 3-5 2 10 2 8 2 26 3-24 2 5 2 4 2 4 2-4 3-33 2-19 2 24 2-9 2-57 3 10 2 28 2 10 2-45 2 10 3 8 2 5 2-24 2 46 2-5 3-9 2-35 2 16 2 40 2 3 3-2 2 9 2 42 2-7 2 9 3-4 2 0 2-11 2 4 2-21 3-19 2 23 2-4 2 4 3 7 2 17 2-17 2 11 2 5 3-2 2-17 2-38 2 8 2-12 3-12 2-18 2 14 2-20 2 14 3 2 2 2 2 24 2-29 2 21 3 5 2-1 2-3 2-23 2 40 3 6 2-10 2 3 2-6 2 47 3-12 2 1 2 12 2-12 2 18 3-45 2-1 2 29 2-12 3-4 2 31 2-10 2 4 2-6 3 18 2-24 2 12 2-54 2 17 3-3 2-56 2 38 2-39 2 18 3 0 2-3 2 21 2-9 2 11 3-30 2 25 2 9 2-38 2 28 3 21 2 16 2-13 2 10 2 7 3 10 2 25 2-2 2-16 2-6 3-4 2 26 2-42 2 1 3 4 2 6 2-11 2 43 2-13 3 11 2-11 2-2 2 2 2-49 3 9 2 7 2 1 2-35 2 19 3-15 2-10 2-20 2 36 2 8 3-34 2 7 2 14 2-2 2 3 3-17 2-11 2 45 2 15 2-15 3 24 2-7 2 19 2-2 2-3 3-1 2 18 2 4 2-18 3-20 2 2 2 8 2 10 2 9 3 6 2 5 2-20 2 6 2 13 3-18 2-40 2 14 2 4 2-39 3-3 2 14 2 3 2-31 2 8 3 27 2-34 2 39 2-41 2 1 3 36 2-44 2 4 2 60 2-4 3-7 2-4 2 7 2 33 2-9 3 17 2 13 2-6 2-6 3-22 2-17 2 2 2 19 2 8 3 22 2 0 2-20 2 8 2-4 3 4 2-8 2-45 2 4 2-4 3-21 2-4 2 22 2 5 2-33 3 0 2-14 2 25 2 22 2 0 3-46 2 12 2 29 2-13 2 37 3 8 2-8 2-12 2 0 2 32 3 13 2 0 2 1 2 2 2 0 3 0 2-41 2 23 2-11 3-6 2 12 2 9 2 19 2-3 3-13 2 0 2 18 2-43 2-15 3 16 2-17 2-21 2-18 2 36 3-14 2-16 2-14 2 37 2-40 3 16 2 24 2 10 2-47 2 13 3-2 2 42 2 10 2-12 2 12 3 9 2 30 2-11 2-10 2 15 3 11 2-7 2-37 2 18 3-17 2-4 2 3 2 32 2 8 3-12 2-1 2-1 2-4 2 5 3-26 2-8 2 5 2-32 2-4 3 6 2 1" fill="none" stroke="#ff0000" stroke-width="15" stroke-linejoin="round"/><path d="M409 454l2 0 2 0 3 0 2 92 2 0 2 0 2 0 3 0 2 0 2 0 2 0 2 0 3 0 2 0 2 0 2 0 2 0 3 0 2 0 2 0 2 0 3 0 2 0 2 0 2-22 2-70 3 0 2 0 2 0 2 0 2 0 3 0 2 0 2 0 2 0 2 0 3 0 2 0 2 0 2 0 2 0 3 0 2 0 2 88 2 4 2 0 3 0 2 0 2 0 2 0 2 0 3 0 2 0 2 0 2 0 2 0 3 0 2 0 2 0 2 0 3 0 2 0 2 0 2 0 2 0 3-92 2 0 2 0 2 0 2 0 3 0 2 0 2 0 2 0 2 0 3 0 2 0 2 0 2 0 2 0 3 0 2 0 2 0 2 33 2 59 3 0 2 0 2 0 2 0 2 0 3 0 2 0 2 0 2 0 2 0 3 0 2 0 2 0 2 0 3 0 2 0 2 0 2 0 2 0 3 0 2-64 2-28 2 0 2 0 3 0 2 0 2 0 2 0 2 0 3 0 2 0 2 0 2 0 2 0 3 0 2 0 2 0 2 0 2 0 3 92 2 0 2 0 2 0 2 0 3 0 2 0 2 0 2 0 2 0 3 0 2 0 2 0 2 0 2 0 3 0 2 0 2 0 2 0 3 0 2 0 2-9 2-83 2 0 3 0 2 0 2 0 2 0 2 0 3 0 2 0 2 0 2 0 2 0 3 0 2 0 2 0 2 0 2 0 3 0 2 75 2 17 2 0 2 0 3 0 2 0 2 0 2 0 2 0 3 0 2 0 2 0 2 0 2 0 3 0 2 0 2 0 2 0 3 0 2 0 2 0 2 0 2-92 3 0 2 0 2 0 2 0 2 0 3 0 2 0 2 0 2 0 2 0 3 0 2 0 2 0 2 0 2 0 3 0 2 0 2 20 2 72 2 0 3 0 2 0 2 0 2 0 2 0 3 0 2 0 2 0 2 0 2 0 3 0 2 0 2 0 2 0 3 0 2 0 2 0 2 0 2 0 3-51 2-41 2 0 2 0 2 0 3 0 2 0 2 0 2 0 2 0 3 0 2 0 2 0 2 0 2 0 3 0 2 0 2 0 2 0 2 92 3 0 2 0 2 0 2 0 2 0 3 0 2 0 2 0 2 0 2 0 3 0 2 0 2 0 2 0 3 0 2 0 2 0 2 0 2 0 3 0 2 0 2-92 2 0 2 0 3 0 2 0 2 0 2 0 2 0 3 0 2 0 2 0 2 0 2 0 3 0 2 0 2 0 2 0 2 0 3 62 2 30 2 0 2 0 2 0 3 0 2 0 2 0 2 0 2 0 3 0 2 0 2 0 2 0 2 0 3 0 2 0 2 0 2 0 3 0 2 0 2 0 2-92 2 0 3 0 2 0 2 0 2 0 2 0 3 0 2 0 2 0 2 0 2 0 3 0 2 0 2 0 2 0 2 0 3 0 2 7 2 85 2 0 2 0 3 0 2 0 2 0 2 0 2 0 3 0 2 0 2 0 2 0 2 0 3 0 2 0 2 0 2 0 3 0 2 0 2 0 2 0 2-38 3-54 2 0 2 0 2 0 2 0 3 0 2 0 2 0 2 0 2 0 3 0 2 0 2 0 2 0 2 0 3 0 2 0 2 0 2 92 2 0 3 0 2 0 2 0 2 0 2 0 3 0 2 0 2 0 2 0 2 0 3 0 2 0 2 0 2 0 3 0 2 0 2 0 2 0 2 0 3 0 2-92 2 0 2 0 2 0 3 0 2 0 2 0 2 0 2 0 3 0 2 0 2 0 2 0 2 0 3 0 2 0 2 0 2 0 2 49 3 43 2 0 2 0 2 0 2 0 3 0 2 0 2 0 2 0 2 0 3 0 2 0 2 0 2 0 3 0 2 0 2 0 2 0 2 0 3 0 2 0 2-81 2-11 2 0 3 0 2 0 2 0 2 0 2 0 3 0 2 0 2 0 2 0 2 0 3 0 2 0 2 0 2 0 2 0 3 0 2 92 2 0 2 0 2 0 3 0 2 0 2 0 2 0 2 0 3 0 2 0 2 0 2 0 3 0 2 0 2 0 2 0 2 0 3 0 2 0 2 0 2-25 2-67 3 0 2 0 2 0 2 0 2 0 3 0 2 0 2 0 2 0 2 0 3 0 2 0 2 0 2 0 2 0 3 0 2 0 2 91 2 1 2 0 3 0 2 0 2 0 2 0 2 0 3 0 2 0 2 0 2 0 3 0 2 0 2 0 2 0 2 0 3 0 2 0 2 0 2 0 2 0 3-92 2 0 2 0 2 0 2 0 3 0 2 0 2 0 2 0 2 0 3 0 2 0 2 0 2 0 2 0 3 0 2 0 2 0 2 36 2 56 3 0 2 0 2 0 2 0 2 0 3 0 2 0 2 0 2 0 2 0 3 0 2 0 2 0 2 0 3 0 2 0 2 0 2 0 2 0 3 0 2-68 2-24 2 0 2 0 3 0 2 0 2 0 2 0 2 0 3 0 2 0 2 0 2 0 2 0 3 0 2 0 2 0 2 0 2 0 3 92 2 0 2 0 2 0 2 0 3 0 2 0 2 0 2 0 2 0 3 0 2 0 2 0 2 0 3 0 2 0 2 0 2 0 2 0 3 0 2 0 2-13 2-79 2 0 3 0 2 0 2 0 2 0 2 0 3 0 2 0 2 0 2 0 2 0 3 0 2 0 2 0 2 0 2 0 3 0 2 78 2 14 2 0 2 0 3 0 2 0 2 0 2 0 2 0 3 0 2 0 2 0 2 0 3 0 2 0 2 0 2 0 2 0 3 0 2 0 2 0 2 0 2-92 3 0 2 0 2 0 2 0 2 0 3 0 2 0 2 0 2 0 2 0 3 0 2 0 2 0 2 0 2 0 3 0 2 0 2 23 2 69 2 0 3 0 2 0 2 0 2 0 2 0 3 0 2 0 2 0 2 0 3 0 2 0 2 0 2 0 2 0 3 0 2 0 2 0 2 0 2 0 3-55 2-37 2 0 2 0 2 0 3 0 2 0 2 0 2 0 2 0 3 0 2 0 2 0 2 0 2 0 3 0 2 0 2 0 2 0 2 92 3 0 2 0 2 0 2 0 2 0 3 0 2 0 2 0 2 0 2 0 3 0 2 0 2 0 2 0 3 0 2 0 2 0 2 0 2 0 3 0 2 0 2-92 2 0 2 0 3 0 2 0 2 0 2 0 2 0 3 0 2 0 2 0 2 0 2 0 3 0 2 0 2 0 2 0 2 0 3 65 2 27 2 0 2 0 2 0 3 0 2 0 2 0 2 0 2 0 3 0 2 0 2 0 2 0 3 0 2 0 2 0 2 0 2 0 3 0 2 0 2 0 2-92 2 0 3 0 2 0 2 0 2 0 2 0 3 0 2 0 2 0 2 0 2 0 3 0 2 0 2 0 2 0 2 0 3 0 2 10 2 82 2 0 2 0 3 0 2 0 2 0 2 0 2 0 3 0 2 0 2 0 2 0 3 0 2 0 2 0 2 0 2 0 3 0 2 0 2 0 2 0 2-42 3-50 2 0 2 0 2 0 2 0 3 0 2 0 2 0 2 0 2 0 3 0 2 0 2 0 2 0 2 0 3 0 2 0 2 0 2 92 2 0 3 0 2 0 2 0 2 0 2 0 3 0 2 0 2 0 2 0 3 0 2 0 2 0 2 0 2 0 3 0 2 0 2 0 2 0 2 0 3 0 2-92 2 0 2 0 2 0 3 0 2 0 2 0 2 0 2 0 3 0 2 0 2 0 2 0 2 0 3 0 2 0 2 0 2 0 2 52 3 40 2 0 2 0 2 0 2 0 3 0 2 0 2 0 2 0 3 0 2 0 2 0 2 0 2 0 3 0 2 0 2 0 2 0 2 0 3 0 2 0 2-84 2-8 2 0 3 0 2 0 2 0 2 0 2 0 3 0 2 0 2 0 2 0 2 0 3 0 2 0 2 0 2 0 2 0 3 0 2 92 2 0 2 0 2 0 3 0 2 0 2 0 2 0 3 0 2 0 2 0 2 0 2 0 3 0 2 0 2 0 2 0 2 0 3 0 2 0 2 0 2-29 2-63 3 0 2 0 2 0 2 0 2 0 3 0 2 0 2 0 2 0 2 0 3 0 2 0 2 0 2 0 2 0 3 0 2 0 2 92 2 0 2 0 3 0 2 0 2 0 2 0 2 0 3 0 2 0 2 0 2 0 3 0 2 0 2 0 2 0 2 0 3 0 2 0 2 0 2 0 2 0 3-92 2 0 2 0 2 0 2 0 3 0 2 0 2 0 2 0 2 0 3 0 2 0 2 0 2 0 2 0 3 0 2 0 2 0 2 39 2 53 3 0 2 0 2 0 2 0 2 0 3 0 2 0 2 0 2 0 3 0 2 0 2 0 2 0 2 0 3 0 2 0 2 0 2 0 2 0 3 0 2-71 2-21 2 0 2 0 3 0 2 0" fill="none" stroke="#008000" stroke-width="13" stroke-linejoin="round"/></g></g><rect x="30.5" y="43.5" width="242.0" height="15.0" fill="none" stroke="#303030" stroke-width="1"/><line x1="27.70" x2="30.50" y1="45.5" y2="45.5" stroke="#262626" stroke-width="0.9"/><text x="25.90" y="47.50" class="tk" text-anchor="end">1</text><line x1="27.70" x2="30.50" y1="54.5" y2="54.5" stroke="#262626" stroke-width="0.9"/><text x="25.90" y="57.00" class="tk" text-anchor="end">0</text><line x1="40.5" x2="40.5" y1="58.5" y2="61.1" stroke="#262626" stroke-width="0.9"/><line x1="85.5" x2="85.5" y1="58.5" y2="61.1" stroke="#262626" stroke-width="0.9"/><line x1="129.5" x2="129.5" y1="58.5" y2="61.1" stroke="#262626" stroke-width="0.9"/><line x1="173.5" x2="173.5" y1="58.5" y2="61.1" stroke="#262626" stroke-width="0.9"/><line x1="217.5" x2="217.5" y1="58.5" y2="61.1" stroke="#262626" stroke-width="0.9"/><line x1="261.5" x2="261.5" y1="58.5" y2="61.1" stroke="#262626" stroke-width="0.9"/><line x1="30.30" x2="272.80" y1="73.20" y2="73.20" stroke="#d4d4d4" stroke-width="0.9"/><line x1="30.30" x2="272.80" y1="64.10" y2="64.10" stroke="#d4d4d4" stroke-width="0.9"/><g clip-path="url(#ra3)"><g transform="scale(0.1)"><path d="M409 666l2 25 2-27 3 18 2-8 2-13 2 36 2 4 3-16 2-30 2 29 2-2 2-10 3 30 2 18 2-18 2 10 2 14 3-12 2 20 2 7 2 17 3-1 2-17 2-8 2-8 2 6 3 0 2-11 2 14 2 2 2-1 3 5 2-7 2 5 2-5 2 16 3-39 2-12 2 18 2-33 2 9 3-32 2 40 2-46 2 0 2 25 3 8 2 10 2-16 2-13 2 25 3-24 2 19 2 38 2-21 2 13 3-3 2 6 2 13 2 22 3-21 2-3 2 14 2-11 2-10 3-10 2-4 2 8 2 9 2 16 3-12 2 16 2 0 2-10 2-7 3 20 2-49 2 11 2-18 2-13 3-2 2-6 2-11 2-6 2 26 3-1 2-20 2 5 2 2 2-6 3-6 2 43 2-25 2 47 2-18 3 1 2 9 2 8 2 24 3-11 2 24 2-22 2 3 2-8 3 1 2-24 2 12 2 17 2-5 3 1 2 2 2 7 2 4 2 13 3-19 2-2 2-25 2-11 2 8 3-26 2-20 2 33 2-40 2 28 3 10 2-14 2 15 2-22 2-3 3 19 2 8 2-38 2 9 2 58 3-13 2 5 2 7 2-13 2 36 3-10 2 19 2-19 2 18 3-16 2-27 2 18 2-11 2-12 3 24 2 19 2-16 2-5 2 19 3-6 2 7 2 0 2-45 2 9 3-19 2-32 2 30 2-20 2-9 3 24 2-28 2 14 2 23 2-37 3 39 2-39 2 14 2 27 2-7 3 30 2-17 2 10 2-12 2 17 3 33 2-14 2-9 2 16 3 10 2-27 2-20 2 12 2-12 3 8 2-6 2 44 2-28 2 11 3 7 2-1 2-7 2 10 2-51 3 8 2-9 2-2 2-36 2 11 3 14 2-27 2 43 2-44 2 6 3 16 2-23 2 29 2 10 2 2 3-31 2 52 2 0 2 1 2-10 3-1 2 26 2 4 2 16 3-22 2 11 2 3 2-22 2 2 3-19 2 6 2-4 2 37 2-15 3 19 2-18 2 23 2-21 2 25 3-56 2 4 2-12 2 3 2-32 3 1 2 0 2 10 2 18 2-10 3 5 2-35 2 9 2-7 2 17 3 25 2-34 2 57 2-8 2-13 3 24 2-5 2 22 2 14 3-2 2-2 2-15 2 17 2-3 3-40 2 26 2-19 2-4 2 16 3 15 2-11 2 1 2 20 2-10 3 2 2-50 2 12 2 2 2-18 3-35 2 31 2 9 2-26 2 29 3-4 2-24 2-8 2 12 2-16 3 33 2-31 2 17 2 27 2 8 3-10 2 5 2 10 2 33 2 0 3-18 2 0 2-1 2 14 3 8 2-38 2 2 2-4 2 14 3 28 2-11 2 7 2 3 2-4 3-2 2-6 2-54 2 19 2 7 3-56 2 27 2-33 2 26 2-4 3-13 2 33 2-26 2 1 2 22 3 0 2 7 2-17 2-14 2 49 3-11 2 0 2 5 2-8 2 29 3 24 2-27 2 27 2-20 3 6 2 6 2-24 2 11 2-20 3-6 2 17 2 3 2 4 2 21 3-15 2-5 2 12 2-34 2-2 3-6 2 4 2-57 2 23 2 9 3-25 2 33 2-29 2 11 2-21 3 46 2-13 2-30 2 16 2 19 3-25 2 39 2 1 2 3 2-2 3 44 2-9 2 2 2-13 3 19 2 6 2-9 2-36 2 21 3-10 2 11 2-26 2 46 2-20 3 12 2 7 2-8 2 11 2-46 3-8 2 6 2 5 2-46 2 27 3 6 2-23 2-13 2 27 2-33 3 21 2-10 2-10 2 4 2 7 3 18 2 5 2 16 2 7 2-16 3 6 2 28 2 0 2 19 3-20 2 14 2-7 2 0 2-6 3-27 2 16 2 0 2-6 2 27 3-10 2 11 2 13 2-16 2 8 3-12 2-25 2-15 2-3 2 4 3-35 2 10 2 12 2-19 2 12 3 19 2-36 2 0 2 13 2-5 3 4 2 14 2 11 2 25 2-18 3 14 2-7 2-5 2 30 3 9 2-13 2 0 2 1 2 8 3-8 2 1 2-3 2-26 2 11 3 41 2-25 2 21 2 1 2-19 3 22 2-19 2-34 2-15 2 26 3-34 2-16 2 30 2-8 2-35 3 30 2 17 2-42 2 43 2-19 3-16 2-11 2 2 2-2 2 55 3-7 2 18 2 0 2-15 3 34 2 9 2-8 2 5 2-9 3 11 2-15 2-12 2 13 2 1 3 1 2 2 2 6 2 11 2-13 3 4 2 1 2-10 2-40 2 6 3 6 2-11 2-37 2 28 2 7 3-34 2-5 2 41 2-7 2-13 3-20 2 20 2 21 2-34 2-11 3 49 2 13 2 4 2-20 2 26 3 14 2-1 2-1 2-4 3 15 2 9 2-20 2-10 2-5 3-4 2 8 2 14 2-9 2 3 3-2 2-1 2 26 2-27 2-16 3-15 2 3 2-51 2 3 2 31 3-22 2 32 2-44 2 21 2 25 3-3 2-26 2-2 2 16 2-4 3-18 2 50 2-5 2 1 2 0 3 5 2 43 2-5 2-12 3-8 2 6 2 20 2-20 2-12 3-17 2 9 2 9 2 25 2 6 3-20 2 12 2 8 2-4 2 5 3-66 2 24 2 2 2-35 2 9 3-30 2 21 2 18 2-21 2 4 3 9 2-25 2 14 2-18 2 8 3-17 2 30 2 19 2 11 2 12 3-20 2 2 2 32 2-7 3 12 2-10 2 19 2-17 2-19 3-7 2 19 2 6 2-10 2 16 3 12 2-17 2 13 2 6 2-14 3-7 2-30 2 11 2-23 2 3 3 4 2-23 2 3 2-14 2 14 3-4 2-3 2 21 2-11 2-23 3-8 2 25 2 9 2 38 2-13 3-3 2 14 2-17 2 29 3 22 2-23 2 5 2 4 2-5 3-8 2-20 2 2 2 9 2-14 3 46 2-5 2-16 2 11 2 11 3-18 2 18 2-60 2-2 2 3 3-25 2-6 2 21 2-13 2 17 3-22 2 15 2-26 2 10 2 32 3-27 2 12 2 3 2 6 2 18 3 6 2 7 2 4 2-23 2 35 3 11 2 9 2-20 2 7 3-12 2-21 2-3 2 25 2 4 3-8 2 25 2-16 2 13 2-17 3 7 2-8 2 5 2-22 2-27 3 6 2-12 2 7 2-12 2-20 3 23 2-4 2-9 2 31 2-44 3 10 2 6 2 11 2-30 2 44 3 12 2 9 2-16 2 12 2 6 3 37 2-23 2-3 2 15 3 8 2-16 2 15 2-22 2-5 3-10 2 6 2 18 2 3 2-6 3 16 2-1 2 1 2 0 2-55 3 16 2-17 2-25 2 13 2 9 3-36 2 28 2-27 2-2 2 32 3-31 2-2 2 45 2-43 2 12 3 31 2 4 2 3 2 1 2 9 3-17 2 29 2 21 2 5 3-7 2-13 2-1 2 21 2-43 3-7 2 4 2 8 2 31 2-2 3-6 2-2 2 1 2 6 2 7 3-46 2 6 2 1 2-14 2-28 3 18 2-22 2 29 2-39 2 9 3 3 2 8 2-16 2 17 2-9 3 12 2 18 2 1 2 17 2-13 3 1 2 2 2 43 2-1 3-10 2 3 2-9 2 17 2 2 3-19 2-2 2-15 2-1 2 9 3 28 2-16 2-2 2 15 2-1 3-14 2-43 2 17 2 7 2-12 3-35 2-9 2-5 2 38 2-4 3 5 2-42 2 1 2 11 2 6 3 23 2-7 2 8 2-11 2 21 3 18 2-7 2 6 2 23 3-3 2-2 2 5 2-12 2 8 3 14 2-20 2-4 2-22 2 26 3-21 2 35 2 8 2-24 2 25 3-15 2 3 2-41 2 13 2-26 3 21 2-40 2-1 2 16 2-8 3-3 2-14 2-8 2 44 2-36 3 15 2-8 2 5 2-13 2 20 3 35 2-7 2 11 2-1 3 12 2 5 2 3 2 11 2-12 3 10 2-16 2-21 2 25 2-4 3 0 2-7 2 16 2-1 2-10 3 10 2-9 2 7 2-34 2-8 3 12 2 1 2-15 2-33 2 36 3-7 2 10 2-24 2 24 2-2 3-29 2 0 2 27 2-26 2 10 3-22 2 65 2-19 2 11 2 2 3-15 2 42 2-12 2 16 3-11 2 10 2 4 2-29 2 16 3-26 2 4 2 18 2-1 2 3 3 8 2 12 2-18 2 6 2-9 3-26 2 6 2-24 2 5 2-6 3-11 2-15 2 33 2-44 2 23 3 17 2-1 2-17 2 22 2-4 3-39 2 4 2 60 2 6 2-15 3 9 2 6 2 15 2-5 3 13 2-1 2 5 2 1 2-45 3 9 2 10 2 12 2-14 2 27 3-12 2 9 2-10 2 1 2-3 3 5 2-25" fill="none" stroke="#ff0000" stroke-width="15" stroke-linejoin="round"/><path d="M409 644l2 0 2 0 3 0 2 0 2 0 2 0 2 0 3 0 2 0 2 0 2 0 2 0 3 0 2 0 2 0 2 37 2 51 3 0 2 0 2 0 2 0 3 0 2 0 2 0 2 0 2 0 3 0 2 0 2 0 2 0 2 0 3 0 2 0 2 0 2 0 2 0 3 0 2-88 2 0 2 0 2 0 3 0 2 0 2 0 2 0 2 0 3 0 2 0 2 0 2 0 2 0 3 0 2 0 2 0 2 0 2 25 3 63 2 0 2 0 2 0 3 0 2 0 2 0 2 0 2 0 3 0 2 0 2 0 2 0 2 0 3 0 2 0 2 0 2 0 2 0 3 0 2 0 2-77 2-11 2 0 3 0 2 0 2 0 2 0 2 0 3 0 2 0 2 0 2 0 2 0 3 0 2 0 2 0 2 0 2 0 3 13 2 75 2 0 2 0 3 0 2 0 2 0 2 0 2 0 3 0 2 0 2 0 2 0 2 0 3 0 2 0 2 0 2 0 2 0 3 0 2 0 2 0 2-65 2-23 3 0 2 0 2 0 2 0 2 0 3 0 2 0 2 0 2 0 2 0 3 0 2 0 2 0 2 0 2 0 3 0 2 1 2 87 2 0 2 0 3 0 2 0 2 0 2 0 3 0 2 0 2 0 2 0 2 0 3 0 2 0 2 0 2 0 2 0 3 0 2 0 2 0 2 0 2-53 3-35 2 0 2 0 2 0 2 0 3 0 2 0 2 0 2 0 2 0 3 0 2 0 2 0 2 0 2 0 3 0 2 0 2 0 2 88 2 0 3 0 2 0 2 0 2 0 3 0 2 0 2 0 2 0 2 0 3 0 2 0 2 0 2 0 2 0 3 0 2 0 2 0 2 0 2 0 3-41 2-47 2 0 2 0 2 0 3 0 2 0 2 0 2 0 2 0 3 0 2 0 2 0 2 0 2 0 3 0 2 0 2 0 2 0 2 88 3 0 2 0 2 0 2 0 3 0 2 0 2 0 2 0 2 0 3 0 2 0 2 0 2 0 2 0 3 0 2 0 2 0 2 0 2 0 3 0 2-29 2-59 2 0 2 0 3 0 2 0 2 0 2 0 2 0 3 0 2 0 2 0 2 0 2 0 3 0 2 0 2 0 2 0 2 0 3 88 2 0 2 0 2 0 3 0 2 0 2 0 2 0 2 0 3 0 2 0 2 0 2 0 2 0 3 0 2 0 2 0 2 0 2 0 3 0 2 0 2-17 2-71 2 0 3 0 2 0 2 0 2 0 2 0 3 0 2 0 2 0 2 0 2 0 3 0 2 0 2 0 2 0 2 0 3 0 2 88 2 0 2 0 2 0 3 0 2 0 2 0 2 0 3 0 2 0 2 0 2 0 2 0 3 0 2 0 2 0 2 0 2 0 3 0 2 0 2 0 2-5 2-83 3 0 2 0 2 0 2 0 2 0 3 0 2 0 2 0 2 0 2 0 3 0 2 0 2 0 2 0 2 0 3 0 2 0 2 87 2 1 2 0 3 0 2 0 2 0 2 0 3 0 2 0 2 0 2 0 2 0 3 0 2 0 2 0 2 0 2 0 3 0 2 0 2 0 2 0 2 0 3-88 2 0 2 0 2 0 2 0 3 0 2 0 2 0 2 0 2 0 3 0 2 0 2 0 2 0 2 0 3 0 2 0 2 0 2 75 2 13 3 0 2 0 2 0 2 0 3 0 2 0 2 0 2 0 2 0 3 0 2 0 2 0 2 0 2 0 3 0 2 0 2 0 2 0 2 0 3 0 2-88 2 0 2 0 2 0 3 0 2 0 2 0 2 0 2 0 3 0 2 0 2 0 2 0 2 0 3 0 2 0 2 0 2 0 2 63 3 25 2 0 2 0 2 0 3 0 2 0 2 0 2 0 2 0 3 0 2 0 2 0 2 0 2 0 3 0 2 0 2 0 2 0 2 0 3 0 2 0 2-88 2 0 2 0 3 0 2 0 2 0 2 0 2 0 3 0 2 0 2 0 2 0 2 0 3 0 2 0 2 0 2 0 2 0 3 51 2 37 2 0 2 0 3 0 2 0 2 0 2 0 2 0 3 0 2 0 2 0 2 0 2 0 3 0 2 0 2 0 2 0 2 0 3 0 2 0 2 0 2-88 2 0 3 0 2 0 2 0 2 0 2 0 3 0 2 0 2 0 2 0 2 0 3 0 2 0 2 0 2 0 2 0 3 0 2 39 2 49 2 0 3 0 2 0 2 0 2 0 2 0 3 0 2 0 2 0 2 0 2 0 3 0 2 0 2 0 2 0 2 0 3 0 2 0 2 0 2 0 2-88 3 0 2 0 2 0 2 0 2 0 3 0 2 0 2 0 2 0 2 0 3 0 2 0 2 0 2 0 2 0 3 0 2 0 2 27 2 61 2 0 3 0 2 0 2 0 2 0 3 0 2 0 2 0 2 0 2 0 3 0 2 0 2 0 2 0 2 0 3 0 2 0 2 0 2 0 2 0 3-80 2-8 2 0 2 0 2 0 3 0 2 0 2 0 2 0 2 0 3 0 2 0 2 0 2 0 2 0 3 0 2 0 2 0 2 15 2 73 3 0 2 0 2 0 2 0 3 0 2 0 2 0 2 0 2 0 3 0 2 0 2 0 2 0 2 0 3 0 2 0 2 0 2 0 2 0 3 0 2-68 2-20 2 0 2 0 3 0 2 0 2 0 2 0 2 0 3 0 2 0 2 0 2 0 2 0 3 0 2 0 2 0 2 0 2 3 3 85 2 0 2 0 2 0 3 0 2 0 2 0 2 0 2 0 3 0 2 0 2 0 2 0 2 0 3 0 2 0 2 0 2 0 2 0 3 0 2 0 2-56 2-32 2 0 3 0 2 0 2 0 2 0 2 0 3 0 2 0 2 0 2 0 2 0 3 0 2 0 2 0 2 0 2 0 3 0 2 88 2 0 2 0 3 0 2 0 2 0 2 0 2 0 3 0 2 0 2 0 2 0 2 0 3 0 2 0 2 0 2 0 2 0 3 0 2 0 2 0 2-44 2-44 3 0 2 0 2 0 2 0 2 0 3 0 2 0 2 0 2 0 2 0 3 0 2 0 2 0 2 0 2 0 3 0 2 0 2 88 2 0 2 0 3 0 2 0 2 0 2 0 3 0 2 0 2 0 2 0 2 0 3 0 2 0 2 0 2 0 2 0 3 0 2 0 2 0 2 0 2-31 3-57 2 0 2 0 2 0 2 0 3 0 2 0 2 0 2 0 2 0 3 0 2 0 2 0 2 0 2 0 3 0 2 0 2 0 2 88 2 0 3 0 2 0 2 0 2 0 3 0 2 0 2 0 2 0 2 0 3 0 2 0 2 0 2 0 2 0 3 0 2 0 2 0 2 0 2 0 3-19 2-69 2 0 2 0 2 0 3 0 2 0 2 0 2 0 2 0 3 0 2 0 2 0 2 0 2 0 3 0 2 0 2 0 2 0 2 88 3 0 2 0 2 0 2 0 3 0 2 0 2 0 2 0 2 0 3 0 2 0 2 0 2 0 2 0 3 0 2 0 2 0 2 0 2 0 3 0 2-7 2-81 2 0 2 0 3 0 2 0 2 0 2 0 2 0 3 0 2 0 2 0 2 0 2 0 3 0 2 0 2 0 2 0 2 0 3 88 2 0 2 0 2 0 3 0 2 0 2 0 2 0 2 0 3 0 2 0 2 0 2 0 2 0 3 0 2 0 2 0 2 0 2 0 3 0 2 0 2 0 2-88 2 0 3 0 2 0 2 0 2 0 2 0 3 0 2 0 2 0 2 0 2 0 3 0 2 0 2 0 2 0 2 0 3 0 2 78 2 10 2 0 3 0 2 0 2 0 2 0 2 0 3 0 2 0 2 0 2 0 2 0 3 0 2 0 2 0 2 0 2 0 3 0 2 0 2 0 2 0 2-88 3 0 2 0 2 0 2 0 2 0 3 0 2 0 2 0 2 0 2 0 3 0 2 0 2 0 2 0 2 0 3 0 2 0 2 66 2 22 3 0 2 0 2 0 2 0 2 0 3 0 2 0 2 0 2 0 2 0 3 0 2 0 2 0 2 0 2 0 3 0 2 0 2 0 2 0 2 0 3-88 2 0 2 0 2 0 2 0 3 0 2 0 2 0 2 0 2 0 3 0 2 0 2 0 2 0 2 0 3 0 2 0 2 0 2 54 2 34 3 0 2 0 2 0 2 0 3 0 2 0 2 0 2 0 2 0 3 0 2 0 2 0 2 0 2 0 3 0 2 0 2 0 2 0 2 0 3 0 2-88 2 0 2 0 2 0 3 0 2 0 2 0 2 0 2 0 3 0 2 0 2 0 2 0 2 0 3 0 2 0 2 0 2 0 2 41 3 47 2 0 2 0 2 0 3 0 2 0 2 0 2 0 2 0 3 0 2 0 2 0 2 0 2 0 3 0 2 0 2 0 2 0 2 0 3 0 2 0" fill="none" stroke="#008000" stroke-width="13" stroke-linejoin="round"/></g></g><rect x="30.5" y="61.5" width="242.0" height="15.0" fill="none" stroke="#303030" stroke-width="1"/><line x1="27.70" x2="30.50" y1="64.5" y2="64.5" stroke="#262626" stroke-width="0.9"/><text x="25.90" y="66.50" class="tk" text-anchor="end">1</text><line x1="27.70" x2="30.50" y1="73.5" y2="73.5" stroke="#262626" stroke-width="0.9"/><text x="25.90" y="75.60" class="tk" text-anchor="end">0</text><line x1="40.5" x2="40.5" y1="76.5" y2="79.1" stroke="#262626" stroke-width="0.9"/><line x1="85.5" x2="85.5" y1="76.5" y2="79.1" stroke="#262626" stroke-width="0.9"/><line x1="129.5" x2="129.5" y1="76.5" y2="79.1" stroke="#262626" stroke-width="0.9"/><line x1="173.5" x2="173.5" y1="76.5" y2="79.1" stroke="#262626" stroke-width="0.9"/><line x1="217.5" x2="217.5" y1="76.5" y2="79.1" stroke="#262626" stroke-width="0.9"/><line x1="261.5" x2="261.5" y1="76.5" y2="79.1" stroke="#262626" stroke-width="0.9"/><line x1="30.30" x2="272.80" y1="91.60" y2="91.60" stroke="#d4d4d4" stroke-width="0.9"/><line x1="30.30" x2="272.80" y1="82.40" y2="82.40" stroke="#d4d4d4" stroke-width="0.9"/><g clip-path="url(#ra4)"><g transform="scale(0.1)"><path d="M409 934l2-54 2 2 3 17 2-10 2-6 2-25 2-20 3 35 2 0 2 0 2-13 2 9 3-13 2-18 2 43 2-42 2 8 3 7 2 33 2 10 2 4 3 9 2 16 2 5 2-8 2 3 3 13 2-16 2 17 2-31 2 8 3 1 2-13 2-8 2 42 2 2 3-11 2 6 2-1 2 3 2-54 3-7 2 14 2-4 2-9 2-16 3-26 2 35 2-2 2-26 2 4 3-1 2-3 2-7 2 42 2-19 3 6 2 1 2 38 2 2 3-21 2 26 2 21 2-14 2 17 3 4 2-25 2 21 2 6 2-22 3-27 2 3 2 23 2-20 2 16 3 20 2 3 2-21 2 1 2 11 3-53 2 21 2 6 2-25 2 6 3-46 2 44 2-2 2-38 2 44 3-41 2 3 2-7 2 14 2 19 3-37 2 11 2 25 2 33 3-10 2 1 2-11 2 58 2-8 3-14 2 6 2 8 2-1 2-5 3-20 2 2 2-5 2 1 2-7 3 20 2 3 2-3 2 23 2-19 3 5 2-51 2 22 2-23 2 18 3-56 2 6 2 26 2 12 2-29 3-1 2-12 2 43 2-10 2-35 3-3 2 33 2-27 2 3 2 43 3-1 2 8 2-6 2 35 3 9 2-17 2 24 2-2 2-20 3 18 2-36 2 12 2-2 2 12 3-4 2 19 2-18 2 15 2 7 3 2 2-24 2-24 2 4 2 1 3-21 2-10 2-28 2 24 2-19 3 19 2-27 2 43 2-32 2-10 3 7 2-3 2 27 2-12 2 3 3 25 2 20 2-3 2 7 3 14 2 13 2-4 2-16 2 24 3-20 2 7 2-34 2-2 2 13 3-13 2 18 2 24 2-15 2-4 3 1 2 13 2-8 2-26 2-10 3 14 2-16 2-13 2 0 2-28 3-3 2 2 2 19 2 9 2 13 3-44 2 46 2-39 2-2 2 2 3-2 2 47 2 19 2-3 3-12 2 38 2-3 2-7 2 17 3-1 2-21 2 7 2-15 2 10 3-16 2 14 2-3 2 6 2 15 3-12 2 9 2-6 2-1 2-38 3-8 2 19 2-20 2-7 2-21 3 12 2-5 2 11 2-21 2 13 3-17 2 19 2-19 2 2 2 27 3-1 2-34 2 52 2 3 3 2 2 2 2 30 2-10 2 25 3-9 2-13 2 19 2-21 2-5 3-11 2 13 2-9 2 1 2 8 3 12 2-2 2 14 2 1 2-7 3-35 2 1 2-15 2 15 2-47 3-12 2 39 2-30 2-10 2 9 3-2 2 34 2-6 2-36 2 32 3-15 2 3 2-20 2 69 2-2 3-11 2 18 2 31 2-17 3 0 2-5 2 8 2 6 2 1 3-30 2-6 2 24 2-9 2-7 3 25 2 0 2-4 2 6 2-12 3 4 2-24 2-10 2-14 2 5 3-20 2-23 2 27 2 17 2-19 3-4 2-5 2 27 2 0 2-4 3-1 2-3 2-21 2 14 2 31 3-11 2 16 2-7 2 34 3 8 2-2 2-9 2 4 2-5 3 10 2-41 2 27 2-16 2-14 3 19 2 6 2 9 2-9 2 6 3 10 2-5 2-40 2-7 2 10 3-17 2-39 2 34 2-9 2 3 3 3 2-6 2 15 2-15 2 3 3-25 2 27 2-26 2 10 2-10 3 56 2-10 2 22 2-1 3 17 2 8 2 7 2-23 2 3 3 17 2 4 2-30 2 10 2-9 3 7 2-14 2 29 2-8 2 3 3 15 2-9 2 6 2-58 2-7 3 7 2 5 2-30 2-21 2 33 3-32 2 29 2-28 2 18 2 14 3-11 2-4 2 11 2 13 2 5 3-25 2 42 2 10 2-20 3-7 2 40 2 5 2 7 2-8 3 7 2-12 2-8 2-1 2-19 3 28 2-27 2 21 2 18 2-3 3 8 2 2 2-19 2 17 2-44 3-9 2 12 2-13 2-28 2-6 3 30 2-18 2 11 2-38 2 46 3-13 2 3 2 6 2-7 2 4 3-20 2 2 2 47 2-11 3 10 2-5 2 36 2-19 2 2 3 24 2-6 2-5 2-10 2-16 3 10 2 7 2-19 2 15 2 16 3-3 2-17 2 9 2 14 2 1 3-41 2-5 2 9 2-5 2-43 3 5 2-17 2 35 2-2 2-8 3-30 2 39 2-14 2 11 2 12 3-40 2 20 2 4 2 17 3 1 2 24 2-3 2 25 2 6 3 1 2-8 2-16 2 1 2 2 3 2 2-1 2-17 2-10 2 28 3 13 2 9 2-24 2-2 2 22 3-4 2-47 2-12 2 12 2-4 3-22 2 12 2-25 2-11 2 30 3 9 2-14 2 14 2 2 2-16 3 1 2 22 2-47 2-2 2 51 3 4 2 5 2-11 2 42 3 13 2-4 2 1 2-6 2 2 3-1 2-27 2 11 2-16 2 23 3-23 2 27 2 0 2-10 2-1 3 27 2-11 2-39 2-10 2 0 3 9 2-41 2 7 2-18 2-1 3 1 2 44 2-35 2-3 2 6 3 22 2-9 2-2 2 16 2-25 3 45 2-3 2 7 2-1 3 13 2 11 2 2 2-7 2 15 3-21 2 11 2-18 2-9 2-1 3-3 2 9 2 36 2-22 2 21 3-5 2 0 2 5 2-45 2-2 3-8 2 16 2-64 2 29 2-27 3 47 2-37 2-6 2 2 2 9 3-17 2 38 2-11 2 11 2-28 3 12 2 40 2-5 2 15 3-11 2 45 2-19 2 13 2-2 3 2 2-4 2-14 2 4 2-25 3 6 2-7 2 9 2 32 2 6 3-24 2 19 2-18 2 17 2-54 3 2 2 13 2-19 2-12 2 4 3 4 2-24 2 1 2 20 2 4 3 5 2-1 2-32 2-2 2 16 3-15 2 12 2 35 2 1 3 10 2-7 2 41 2 2 2-17 3-4 2 4 2 6 2 11 2-34 3-6 2-8 2 19 2 3 2 6 3-1 2 3 2 3 2-3 2 6 3-35 2 8 2-6 2-5 2-45 3 9 2-10 2-6 2 10 2-3 3 18 2 6 2-31 2 31 2-28 3 21 2 21 2-28 2 47 2-15 3 1 2 0 2 50 2 4 3-15 2-13 2 17 2 6 2-1 3-40 2 19 2 4 2-24 2 8 3 28 2 8 2 0 2-11 2-8 3 20 2-41 2-4 2-9 2 5 3-28 2-20 2 0 2 15 2-17 3 18 2 8 2-11 2-14 2 16 3-13 2 22 2-15 2 5 2 35 3 0 2-4 2 20 2 14 3 1 2 13 2-7 2-12 2 7 3-3 2-26 2 8 2 16 2-24 3 5 2 41 2-14 2-8 2-2 3 3 2 9 2-28 2-6 2 1 3-3 2-10 2-27 2 14 2-15 3-2 2 12 2-23 2 2 2 38 3-42 2 8 2-6 2 27 2-5 3 24 2-3 2 16 2-4 3 20 2 13 2-4 2-12 2 16 3 10 2-13 2-17 2 7 2-1 3-21 2 16 2 8 2 24 2-28 3 9 2 12 2 6 2-51 2 9 3-25 2 12 2-27 2-1 2 23 3-5 2-1 2-37 2 1 2 1 3 31 2-8 2-6 2 24 2-4 3-17 2 47 2-24 2 25 3-19 2 25 2 7 2 9 2 3 3 1 2 3 2 4 2-31 2-4 3-2 2 5 2-20 2 23 2 21 3-19 2 20 2-8 2-3 2-24 3-22 2 11 2 9 2-26 2 11 3-13 2-19 2-11 2-2 2 6 3 10 2 20 2-5 2 5 2-18 3 24 2-35 2 64 2-20 3 18 2-3 2 21 2-6 2 10 3-8 2-1 2 4 2 12 2-26 3 1 2-14 2 20 2 3 2 8 3-12 2 7 2-6 2 1 2 12 3-51 2 15 2-9 2-10 2-18 3 2 2-13 2 29 2-2 2 6 3-17 2 21 2-46 2 26 2 4 3-29 2 4 2 32 2 22 3 4 2 4 2-14 2 34 2 0 3 14 2-2 2 4 2-23 2-3 3-14 2 22 2-29 2 15 2 2 3 9 2 9 2 0 2-8 2 17 3-13 2-37 2-10 2 1 2 22 3-21 2-36 2 14 2-1 2 23 3-41 2 12 2 14 2 18 2-21 3-25 2 11 2 37 2-37 2 55 3-12 2 4 2 6 2 24 3 8 2 3 2-21 2 10 2 18 3-9 2-14 2-21 2 14 2-10 3 19 2 21 2-21 2 9 2 11 3-17 2 12 2-51 2-2 2-1 3 12 2-17 2-9 2-16 2 18 3-30 2 17 2 20 2-15 2 14 3 2 2 1 2-3 2-1 2-39 3 72 2-20 2 1 2-5 3 40 2 9 2-8 2-1 2 18 3-21 2 14 2-18 2 4 2-29 3 11 2 9 2 19 2-10 2 8 3-5 2 6" fill="none" stroke="#ff0000" stroke-width="15" stroke-linejoin="round"/><path d="M409 916l2 0 2 0 3-89 2 0 2 0 2 0 2 0 3 0 2 0 2 0 2 0 2 0 3 0 2 0 2 0 2 0 2 0 3 0 2 0 2 0 2 89 3 0 2 0 2 0 2 0 2 0 3 0 2 0 2 0 2 0 2 0 3 0 2 0 2 0 2 0 2 0 3 0 2 0 2 0 2 0 2 0 3 0 2-89 2 0 2 0 2 0 3 0 2 0 2 0 2 0 2 0 3 0 2 0 2 0 2 0 2 0 3 0 2 0 2 0 2 0 3 87 2 2 2 0 2 0 2 0 3 0 2 0 2 0 2 0 2 0 3 0 2 0 2 0 2 0 2 0 3 0 2 0 2 0 2 0 2 0 3 0 2 0 2-89 2 0 2 0 3 0 2 0 2 0 2 0 2 0 3 0 2 0 2 0 2 0 2 0 3 0 2 0 2 0 2 0 3 0 2 86 2 3 2 0 2 0 3 0 2 0 2 0 2 0 2 0 3 0 2 0 2 0 2 0 2 0 3 0 2 0 2 0 2 0 2 0 3 0 2 0 2 0 2-89 2 0 3 0 2 0 2 0 2 0 2 0 3 0 2 0 2 0 2 0 2 0 3 0 2 0 2 0 2 0 2 0 3 0 2 85 2 4 2 0 3 0 2 0 2 0 2 0 2 0 3 0 2 0 2 0 2 0 2 0 3 0 2 0 2 0 2 0 2 0 3 0 2 0 2 0 2 0 2-89 3 0 2 0 2 0 2 0 2 0 3 0 2 0 2 0 2 0 2 0 3 0 2 0 2 0 2 0 2 0 3 0 2 0 2 84 2 5 3 0 2 0 2 0 2 0 2 0 3 0 2 0 2 0 2 0 2 0 3 0 2 0 2 0 2 0 2 0 3 0 2 0 2 0 2 0 2 0 3-89 2 0 2 0 2 0 2 0 3 0 2 0 2 0 2 0 2 0 3 0 2 0 2 0 2 0 2 0 3 0 2 0 2 0 2 83 3 6 2 0 2 0 2 0 2 0 3 0 2 0 2 0 2 0 2 0 3 0 2 0 2 0 2 0 2 0 3 0 2 0 2 0 2 0 2 0 3 0 2-89 2 0 2 0 2 0 3 0 2 0 2 0 2 0 2 0 3 0 2 0 2 0 2 0 2 0 3 0 2 0 2 0 2 0 3 82 2 7 2 0 2 0 2 0 3 0 2 0 2 0 2 0 2 0 3 0 2 0 2 0 2 0 2 0 3 0 2 0 2 0 2 0 2 0 3 0 2 0 2-89 2 0 2 0 3 0 2 0 2 0 2 0 2 0 3 0 2 0 2 0 2 0 2 0 3 0 2 0 2 0 2 0 2 0 3 81 2 8 2 0 2 0 3 0 2 0 2 0 2 0 2 0 3 0 2 0 2 0 2 0 2 0 3 0 2 0 2 0 2 0 2 0 3 0 2 0 2 0 2-89 2 0 3 0 2 0 2 0 2 0 2 0 3 0 2 0 2 0 2 0 2 0 3 0 2 0 2 0 2 0 2 0 3 0 2 80 2 9 2 0 3 0 2 0 2 0 2 0 2 0 3 0 2 0 2 0 2 0 2 0 3 0 2 0 2 0 2 0 2 0 3 0 2 0 2 0 2 0 2-89 3 0 2 0 2 0 2 0 2 0 3 0 2 0 2 0 2 0 2 0 3 0 2 0 2 0 2 0 2 0 3 0 2 0 2 79 2 10 3 0 2 0 2 0 2 0 2 0 3 0 2 0 2 0 2 0 2 0 3 0 2 0 2 0 2 0 2 0 3 0 2 0 2 0 2 0 2 0 3-89 2 0 2 0 2 0 2 0 3 0 2 0 2 0 2 0 2 0 3 0 2 0 2 0 2 0 2 0 3 0 2 0 2 0 2 78 3 11 2 0 2 0 2 0 2 0 3 0 2 0 2 0 2 0 2 0 3 0 2 0 2 0 2 0 2 0 3 0 2 0 2 0 2 0 2 0 3 0 2-89 2 0 2 0 2 0 3 0 2 0 2 0 2 0 2 0 3 0 2 0 2 0 2 0 2 0 3 0 2 0 2 0 2 0 3 77 2 12 2 0 2 0 2 0 3 0 2 0 2 0 2 0 2 0 3 0 2 0 2 0 2 0 2 0 3 0 2 0 2 0 2 0 2 0 3 0 2 0 2-89 2 0 2 0 3 0 2 0 2 0 2 0 2 0 3 0 2 0 2 0 2 0 2 0 3 0 2 0 2 0 2 0 3 0 2 76 2 13 2 0 2 0 3 0 2 0 2 0 2 0 2 0 3 0 2 0 2 0 2 0 2 0 3 0 2 0 2 0 2 0 2 0 3 0 2 0 2 0 2-89 2 0 3 0 2 0 2 0 2 0 2 0 3 0 2 0 2 0 2 0 2 0 3 0 2 0 2 0 2 0 2 0 3 0 2 75 2 14 2 0 3 0 2 0 2 0 2 0 2 0 3 0 2 0 2 0 2 0 2 0 3 0 2 0 2 0 2 0 2 0 3 0 2 0 2 0 2 0 2-89 3 0 2 0 2 0 2 0 2 0 3 0 2 0 2 0 2 0 2 0 3 0 2 0 2 0 2 0 2 0 3 0 2 0 2 74 2 15 3 0 2 0 2 0 2 0 2 0 3 0 2 0 2 0 2 0 2 0 3 0 2 0 2 0 2 0 2 0 3 0 2 0 2 0 2 0 2 0 3-89 2 0 2 0 2 0 2 0 3 0 2 0 2 0 2 0 2 0 3 0 2 0 2 0 2 0 2 0 3 0 2 0 2 0 2 73 3 16 2 0 2 0 2 0 2 0 3 0 2 0 2 0 2 0 2 0 3 0 2 0 2 0 2 0 2 0 3 0 2 0 2 0 2 0 2 0 3 0 2-89 2 0 2 0 2 0 3 0 2 0 2 0 2 0 2 0 3 0 2 0 2 0 2 0 2 0 3 0 2 0 2 0 2 0 3 72 2 17 2 0 2 0 2 0 3 0 2 0 2 0 2 0 2 0 3 0 2 0 2 0 2 0 2 0 3 0 2 0 2 0 2 0 2 0 3 0 2 0 2-89 2 0 2 0 3 0 2 0 2 0 2 0 2 0 3 0 2 0 2 0 2 0 2 0 3 0 2 0 2 0 2 0 2 0 3 71 2 18 2 0 2 0 3 0 2 0 2 0 2 0 2 0 3 0 2 0 2 0 2 0 2 0 3 0 2 0 2 0 2 0 2 0 3 0 2 0 2 0 2-89 2 0 3 0 2 0 2 0 2 0 2 0 3 0 2 0 2 0 2 0 2 0 3 0 2 0 2 0 2 0 2 0 3 0 2 70 2 19 2 0 3 0 2 0 2 0 2 0 2 0 3 0 2 0 2 0 2 0 2 0 3 0 2 0 2 0 2 0 2 0 3 0 2 0 2 0 2 0 2-89 3 0 2 0 2 0 2 0 2 0 3 0 2 0 2 0 2 0 2 0 3 0 2 0 2 0 2 0 2 0 3 0 2 0 2 69 2 20 3 0 2 0 2 0 2 0 2 0 3 0 2 0 2 0 2 0 2 0 3 0 2 0 2 0 2 0 2 0 3 0 2 0 2 0 2 0 2 0 3-89 2 0 2 0 2 0 2 0 3 0 2 0 2 0 2 0 2 0 3 0 2 0 2 0 2 0 2 0 3 0 2 0 2 0 2 68 3 21 2 0 2 0 2 0 2 0 3 0 2 0 2 0 2 0 2 0 3 0 2 0 2 0 2 0 2 0 3 0 2 0 2 0 2 0 2 0 3 0 2-89 2 0 2 0 2 0 3 0 2 0 2 0 2 0 2 0 3 0 2 0 2 0 2 0 2 0 3 0 2 0 2 0 2 0 3 67 2 22 2 0 2 0 2 0 3 0 2 0 2 0 2 0 2 0 3 0 2 0 2 0 2 0 2 0 3 0 2 0 2 0 2 0 2 0 3 0 2 0 2-89 2 0 2 0 3 0 2 0 2 0 2 0 2 0 3 0 2 0 2 0 2 0 2 0 3 0 2 0 2 0 2 0 3 0 2 66 2 23 2 0 2 0 3 0 2 0 2 0 2 0 2 0 3 0 2 0 2 0 2 0 2 0 3 0 2 0 2 0 2 0 2 0 3 0 2 0 2 0 2-89 2 0 3 0 2 0 2 0 2 0 2 0 3 0 2 0 2 0 2 0 2 0 3 0 2 0 2 0 2 0 2 0 3 0 2 65 2 24 2 0 3 0 2 0 2 0 2 0 2 0 3 0 2 0 2 0 2 0 2 0 3 0 2 0 2 0 2 0 2 0 3 0 2 0 2 0 2 0 2-89 3 0 2 0 2 0 2 0 2 0 3 0 2 0 2 0 2 0 2 0 3 0 2 0 2 0 2 0 2 0 3 0 2 0 2 64 2 25 3 0 2 0 2 0 2 0 2 0 3 0 2 0 2 0 2 0 2 0 3 0 2 0 2 0 2 0 2 0 3 0 2 0" fill="none" stroke="#008000" stroke-width="13" stroke-linejoin="round"/></g></g><rect x="30.5" y="80.5" width="242.0" height="15.0" fill="none" stroke="#303030" stroke-width="1"/><line x1="27.70" x2="30.50" y1="82.5" y2="82.5" stroke="#262626" stroke-width="0.9"/><text x="25.90" y="84.80" class="tk" text-anchor="end">1</text><line x1="27.70" x2="30.50" y1="91.5" y2="91.5" stroke="#262626" stroke-width="0.9"/><text x="25.90" y="94.00" class="tk" text-anchor="end">0</text><line x1="40.5" x2="40.5" y1="95.5" y2="98.1" stroke="#262626" stroke-width="0.9"/><line x1="85.5" x2="85.5" y1="95.5" y2="98.1" stroke="#262626" stroke-width="0.9"/><line x1="129.5" x2="129.5" y1="95.5" y2="98.1" stroke="#262626" stroke-width="0.9"/><line x1="173.5" x2="173.5" y1="95.5" y2="98.1" stroke="#262626" stroke-width="0.9"/><line x1="217.5" x2="217.5" y1="95.5" y2="98.1" stroke="#262626" stroke-width="0.9"/><line x1="261.5" x2="261.5" y1="95.5" y2="98.1" stroke="#262626" stroke-width="0.9"/><line x1="30.30" x2="272.80" y1="109.40" y2="109.40" stroke="#d4d4d4" stroke-width="0.9"/><line x1="30.30" x2="272.80" y1="100.60" y2="100.60" stroke="#d4d4d4" stroke-width="0.9"/><g clip-path="url(#ra5)"><g transform="scale(0.1)"><path d="M409 1057l2-21 2 0 3 36 2 7 2-14 2 21 2-4 3 33 2-15 2 16 2-8 2 3 3-12 2-8 2-13 2 0 2 9 3-14 2 20 2 11 2 4 3 7 2 4 2-23 2 8 2 2 3-33 2-12 2 10 2-53 2 16 3 10 2-15 2 2 2 16 2-25 3 37 2 5 2-8 2-22 2-16 3 28 2 13 2 23 2 2 2-19 3 19 2 4 2 19 2-9 2 19 3-22 2 17 2 1 2 6 2-26 3-8 2 10 2-3 2-19 3 39 2-1 2 8 2-8 2 5 3-2 2 2 2-38 2-21 2 20 3-52 2 10 2 18 2-20 2-8 3 29 2-6 2-9 2 15 2-22 3-6 2 17 2 20 2-14 2-18 3 35 2 10 2-9 2 14 2 7 3 19 2 11 2-11 2-13 2 3 3 3 2 19 2-32 2 5 3-10 2 4 2-6 2 30 2 6 3-21 2 22 2-17 2 14 2 4 3-59 2 15 2 5 2-61 2 24 3-10 2 29 2-32 2 31 2-8 3-25 2 5 2 17 2 11 2-1 3-31 2 24 2 1 2 33 2-2 3-9 2 1 2 6 2 17 2-5 3 17 2-15 2 16 2 3 2-15 3-13 2-16 2 21 2 7 3 19 2-25 2 6 2 9 2-6 3-8 2 6 2-44 2 2 2 12 3 4 2-40 2 15 2-14 2 20 3-37 2 7 2 31 2-2 2-14 3-5 2 14 2-25 2 36 2-22 3 31 2 16 2-13 2 5 2-2 3 33 2 10 2-10 2 7 2 2 3 0 2-4 2-29 2 4 3 0 2-15 2 15 2 18 2 8 3-1 2 0 2-16 2 1 2 8 3-28 2-14 2-8 2-28 2-9 3 22 2 23 2 0 2-15 2-31 3 27 2-21 2-2 2 25 2-19 3 6 2 3 2 15 2 16 2-3 3 4 2 11 2-1 2 18 2 11 3-15 2 6 2-2 2-4 3-4 2 4 2 1 2 3 2-1 3 5 2 0 2 14 2-16 2 7 3 13 2-18 2-43 2 4 2 1 3 9 2-32 2-18 2 28 2 0 3-31 2 9 2-9 2 13 2 32 3-27 2 10 2 4 2-19 2-7 3 58 2-6 2 8 2 3 2-4 3 33 2 0 2-16 2-7 3 6 2 9 2-4 2-29 2 8 3 12 2-19 2 7 2 22 2 4 3-13 2 4 2 9 2-8 2 6 3-38 2-10 2-3 2-18 2-6 3 15 2-4 2-14 2 23 2-6 3-10 2-17 2 13 2 19 2-31 3 31 2-10 2 11 2 36 2-19 3-6 2 20 2-11 2 45 2-20 3 12 2 0 2 7 2-15 3 8 2-29 2 3 2 10 2-16 3 34 2-10 2-7 2 0 2 13 3 3 2 9 2-14 2-41 2-8 3 1 2-40 2 41 2 5 2-21 3-6 2-19 2 3 2 12 2 5 3-11 2 22 2-11 2-3 2 25 3 4 2 5 2 8 2 11 2-9 3 25 2 7 2-4 2-7 3 19 2 1 2-12 2-33 2 9 3-9 2-1 2 22 2 11 2-5 3 13 2-3 2-16 2 20 2 3 3-62 2 15 2-6 2-39 2 9 3-11 2-2 2 15 2 24 2-44 3 37 2-19 2 28 2-1 2-39 3-6 2 33 2-9 2 41 2-12 3 3 2 14 2-17 2 47 3-3 2-21 2 5 2 13 2 6 3-15 2-10 2-3 2 6 2-6 3 6 2 14 2 9 2-4 2-11 3-7 2-2 2 12 2-39 2 5 3-14 2 2 2-6 2-30 2 3 3-4 2 20 2-5 2-19 2 7 3 32 2-31 2 25 2-17 2 28 3-18 2 25 2 7 2 8 3-9 2-11 2 45 2 9 2-26 3-1 2 17 2-3 2-6 2-30 3 4 2-6 2 10 2 27 2 5 3-4 2 9 2-18 2 8 2-3 3-34 2-2 2 5 2-8 2-28 3 19 2-34 2 0 2 27 2-18 3-10 2 19 2 3 2-7 2 29 3-4 2-20 2 6 2 17 3 23 2-4 2-11 2 4 2 42 3-15 2 16 2-5 2-18 2 9 3 8 2-30 2 15 2 4 2-28 3 10 2 21 2 13 2-4 2-11 3-5 2-3 2 0 2-38 2 10 3 10 2-37 2-2 2-14 2 5 3 1 2 13 2 3 2-16 2-5 3 29 2 6 2-9 2-4 3-28 2 9 2 41 2-2 2 19 3 2 2-1 2 26 2-14 2 5 3 2 2-11 2 15 2-28 2-2 3 16 2-12 2-12 2 45 2-19 3 20 2-23 2 16 2-15 2 13 3-38 2 4 2-2 2-6 2-22 3 11 2-29 2 11 2-3 2-3 3 16 2-23 2 39 2-22 2 1 3 0 2-4 2-5 2 44 3 3 2-2 2 1 2-4 2 35 3 5 2-2 2 5 2-1 2-13 3-1 2-18 2 16 2 0 2-8 3-13 2 29 2 11 2-15 2-12 3 23 2-4 2-8 2-25 2-5 3-12 2-31 2 21 2-31 2 3 3-4 2 16 2 1 2 11 2 15 3-35 2 7 2 15 2-13 3-14 2 34 2 22 2 7 2-2 3-16 2 9 2 35 2-8 2 16 3-17 2 17 2-5 2-16 2-28 3 27 2-6 2-8 2 23 2 4 3-4 2 12 2-10 2-12 2 1 3 16 2-57 2 16 2 2 2-50 3 32 2-31 2 32 2-16 2-21 3 37 2-3 2-11 2-10 3 29 2-18 2 8 2 1 2 18 3 5 2 1 2 2 2-13 2 52 3-17 2 9 2-4 2 4 2-7 3 6 2-18 2-4 2 6 2-18 3-5 2 27 2 7 2-3 2 13 3-12 2 11 2-21 2-32 2 19 3-9 2-48 2 19 2-8 2 17 3-20 2-10 2 26 2-21 3-7 2 17 2 10 2 2 2 14 3-15 2 2 2 37 2-13 2-6 3 1 2-5 2 50 2 2 2-16 3-5 2 9 2 3 2 0 2-14 3 2 2 1 2-12 2-11 2 25 3-1 2 24 2-17 2 7 2 2 3-19 2-35 2 17 2 0 2-24 3-30 2 9 2 27 2 3 2-9 3-31 2-2 2 20 2 20 3-17 2-17 2 14 2 23 2-21 3 28 2 5 2 2 2 8 2-11 3 25 2 7 2 10 2-21 2 16 3 10 2-25 2-12 2 12 2-15 3 1 2 15 2 1 2 15 2-12 3 0 2 12 2-19 2-13 2-14 3 10 2-4 2-19 2-4 2 7 3-35 2 1 2 26 2-26 3 38 2-28 2 22 2-31 2 38 3-13 2-17 2 58 2-15 2 11 3-5 2 1 2 40 2-26 2 0 3 20 2-22 2 12 2 11 2-39 3-6 2 20 2-19 2 1 2 46 3-5 2-10 2 6 2-1 2 5 3-6 2-27 2-20 2 1 2-3 3-17 2-9 2-9 2 23 3-2 2-23 2 39 2-22 2-10 3 23 2-28 2 10 2 21 2-23 3 52 2-3 2-1 2 10 2-15 3 20 2 8 2 7 2-16 2 1 3 20 2-16 2 2 2-29 2 11 3 13 2 3 2-4 2 12 2 8 3-12 2 11 2-1 2-35 2-18 3 12 2-16 2-22 2-4 3-8 2 16 2-19 2 10 2 30 3-13 2-14 2 24 2-32 2 4 3 8 2 18 2 17 2 3 2 15 3-8 2-4 2 35 2-16 2 7 3 9 2-9 2 15 2-22 2 0 3-18 2 9 2 12 2-20 2 39 3-1 2-8 2-7 2-1 2 14 3-14 2-26 2-7 2 9 3-48 2 21 2 6 2-22 2 24 3-3 2-18 2 24 2-1 2-26 3 8 2 17 2-21 2-8 2 13 3 29 2-5 2 14 2-9 2 9 3 40 2-8 2 8 2-5 2-14 3-4 2 8 2-8 2-26 2 0 3 3 2 8 2 16 2 14 2-7 3 1 2 7 2-5 2 7 3-39 2-3 2-4 2-33 2 3 3 7 2-13 2-11 2-1 2 38 3 0 2-11 2-17 2 27 2-3 3-3 2-12 2 40 2-16 2 2 3 16 2 3 2 24 2 3 2-13 3 8 2-8 2 17 2-11 2-14 3-4 2-12 2 15 2-13 2 24 3-1 2 16 2-10 2 4 2 2 3-16 2-17 2-8 2-10 3-37 2-4 2 23 2 17 2-37 3-4 2 41 2-8 2-2 2-1 3-25 2 25 2 14 2-34 2 12 3 47 2-1 2 2 2-18 2-7 3 53 2-21 2 8 2 11 2-7 3-8 2 3 2-32 2 21 2-4 3-16 2 15 2 7 2 1 2 17 3-13 2 6 2-4 2-5 3-32 2 13 2-8 2-13 2-14 3-1 2-4 2 26 2-35 2 4 3 4 2 12 2-13 2 2 2 15 3-6 2-26" fill="none" stroke="#ff0000" stroke-width="15" stroke-linejoin="round"/><path d="M409 1009l2 0 2 0 3 0 2 0 2 20 2 65 2 0 3 0 2 0 2 0 2 0 2 0 3 0 2 0 2 0 2 0 2 0 3 0 2 0 2 0 2 0 3 0 2 0 2 0 2 0 2 0 3 0 2-85 2 0 2 0 2 0 3 0 2 0 2 0 2 0 2 0 3 0 2 0 2 0 2 0 2 0 3 0 2 0 2 0 2 0 2 0 3 79 2 6 2 0 2 0 2 0 3 0 2 0 2 0 2 0 2 0 3 0 2 0 2 0 2 0 3 0 2 0 2 0 2 0 2 0 3 0 2 0 2 0 2-17 2-68 3 0 2 0 2 0 2 0 2 0 3 0 2 0 2 0 2 0 2 0 3 0 2 0 2 0 2 0 2 0 3 0 2 0 2 0 2 85 2 0 3 0 2 0 2 0 2 0 2 0 3 0 2 0 2 0 2 0 3 0 2 0 2 0 2 0 2 0 3 0 2 0 2 0 2 0 2 0 3 0 2-76 2-9 2 0 2 0 3 0 2 0 2 0 2 0 2 0 3 0 2 0 2 0 2 0 2 0 3 0 2 0 2 0 2 0 2 0 3 59 2 26 2 0 2 0 2 0 3 0 2 0 2 0 2 0 2 0 3 0 2 0 2 0 2 0 3 0 2 0 2 0 2 0 2 0 3 0 2 0 2 0 2 0 2-85 3 0 2 0 2 0 2 0 2 0 3 0 2 0 2 0 2 0 2 0 3 0 2 0 2 0 2 0 2 0 3 0 2 0 2 0 2 85 2 0 3 0 2 0 2 0 2 0 2 0 3 0 2 0 2 0 2 0 3 0 2 0 2 0 2 0 2 0 3 0 2 0 2 0 2 0 2 0 3 0 2-56 2-29 2 0 2 0 3 0 2 0 2 0 2 0 2 0 3 0 2 0 2 0 2 0 2 0 3 0 2 0 2 0 2 0 2 0 3 39 2 46 2 0 2 0 2 0 3 0 2 0 2 0 2 0 3 0 2 0 2 0 2 0 2 0 3 0 2 0 2 0 2 0 2 0 3 0 2 0 2 0 2 0 2-85 3 0 2 0 2 0 2 0 2 0 3 0 2 0 2 0 2 0 2 0 3 0 2 0 2 0 2 0 2 0 3 0 2 0 2 0 2 85 2 0 3 0 2 0 2 0 2 0 3 0 2 0 2 0 2 0 2 0 3 0 2 0 2 0 2 0 2 0 3 0 2 0 2 0 2 0 2 0 3 0 2-37 2-48 2 0 2 0 3 0 2 0 2 0 2 0 2 0 3 0 2 0 2 0 2 0 2 0 3 0 2 0 2 0 2 0 2 0 3 19 2 66 2 0 2 0 2 0 3 0 2 0 2 0 2 0 3 0 2 0 2 0 2 0 2 0 3 0 2 0 2 0 2 0 2 0 3 0 2 0 2 0 2 0 2-85 3 0 2 0 2 0 2 0 2 0 3 0 2 0 2 0 2 0 2 0 3 0 2 0 2 0 2 0 2 0 3 0 2 0 2 0 2 78 2 7 3 0 2 0 2 0 2 0 3 0 2 0 2 0 2 0 2 0 3 0 2 0 2 0 2 0 2 0 3 0 2 0 2 0 2 0 2 0 3 0 2-17 2-68 2 0 2 0 3 0 2 0 2 0 2 0 2 0 3 0 2 0 2 0 2 0 2 0 3 0 2 0 2 0 2 0 2 0 3 0 2 85 2 0 2 0 3 0 2 0 2 0 2 0 2 0 3 0 2 0 2 0 2 0 2 0 3 0 2 0 2 0 2 0 2 0 3 0 2 0 2 0 2 0 2-75 3-10 2 0 2 0 2 0 2 0 3 0 2 0 2 0 2 0 2 0 3 0 2 0 2 0 2 0 2 0 3 0 2 0 2 0 2 58 3 27 2 0 2 0 2 0 2 0 3 0 2 0 2 0 2 0 2 0 3 0 2 0 2 0 2 0 2 0 3 0 2 0 2 0 2 0 2 0 3 0 2 0 2-85 2 0 2 0 3 0 2 0 2 0 2 0 2 0 3 0 2 0 2 0 2 0 2 0 3 0 2 0 2 0 2 0 3 0 2 0 2 85 2 0 2 0 3 0 2 0 2 0 2 0 2 0 3 0 2 0 2 0 2 0 2 0 3 0 2 0 2 0 2 0 2 0 3 0 2 0 2 0 2 0 2-56 3-29 2 0 2 0 2 0 2 0 3 0 2 0 2 0 2 0 2 0 3 0 2 0 2 0 2 0 3 0 2 0 2 0 2 0 2 38 3 47 2 0 2 0 2 0 2 0 3 0 2 0 2 0 2 0 2 0 3 0 2 0 2 0 2 0 2 0 3 0 2 0 2 0 2 0 2 0 3 0 2 0 2-85 2 0 2 0 3 0 2 0 2 0 2 0 2 0 3 0 2 0 2 0 2 0 2 0 3 0 2 0 2 0 2 0 3 0 2 0 2 85 2 0 2 0 3 0 2 0 2 0 2 0 2 0 3 0 2 0 2 0 2 0 2 0 3 0 2 0 2 0 2 0 2 0 3 0 2 0 2 0 2 0 2-36 3-49 2 0 2 0 2 0 2 0 3 0 2 0 2 0 2 0 2 0 3 0 2 0 2 0 2 0 3 0 2 0 2 0 2 0 2 19 3 66 2 0 2 0 2 0 2 0 3 0 2 0 2 0 2 0 2 0 3 0 2 0 2 0 2 0 2 0 3 0 2 0 2 0 2 0 2 0 3 0 2 0 2-85 2 0 2 0 3 0 2 0 2 0 2 0 2 0 3 0 2 0 2 0 2 0 3 0 2 0 2 0 2 0 2 0 3 0 2 0 2 77 2 8 2 0 3 0 2 0 2 0 2 0 2 0 3 0 2 0 2 0 2 0 2 0 3 0 2 0 2 0 2 0 2 0 3 0 2 0 2 0 2 0 2-16 3-69 2 0 2 0 2 0 2 0 3 0 2 0 2 0 2 0 3 0 2 0 2 0 2 0 2 0 3 0 2 0 2 0 2 0 2 0 3 85 2 0 2 0 2 0 2 0 3 0 2 0 2 0 2 0 2 0 3 0 2 0 2 0 2 0 2 0 3 0 2 0 2 0 2 0 2 0 3 0 2 0 2-75 2-10 2 0 3 0 2 0 2 0 2 0 2 0 3 0 2 0 2 0 2 0 3 0 2 0 2 0 2 0 2 0 3 0 2 0 2 58 2 27 2 0 3 0 2 0 2 0 2 0 2 0 3 0 2 0 2 0 2 0 2 0 3 0 2 0 2 0 2 0 2 0 3 0 2 0 2 0 2 0 2 0 3-85 2 0 2 0 2 0 2 0 3 0 2 0 2 0 2 0 3 0 2 0 2 0 2 0 2 0 3 0 2 0 2 0 2 0 2 0 3 85 2 0 2 0 2 0 2 0 3 0 2 0 2 0 2 0 2 0 3 0 2 0 2 0 2 0 2 0 3 0 2 0 2 0 2 0 2 0 3 0 2 0 2-55 2-30 2 0 3 0 2 0 2 0 2 0 3 0 2 0 2 0 2 0 2 0 3 0 2 0 2 0 2 0 2 0 3 0 2 0 2 38 2 47 2 0 3 0 2 0 2 0 2 0 2 0 3 0 2 0 2 0 2 0 2 0 3 0 2 0 2 0 2 0 2 0 3 0 2 0 2 0 2 0 2 0 3-85 2 0 2 0 2 0 3 0 2 0 2 0 2 0 2 0 3 0 2 0 2 0 2 0 2 0 3 0 2 0 2 0 2 0 2 0 3 85 2 0 2 0 2 0 2 0 3 0 2 0 2 0 2 0 2 0 3 0 2 0 2 0 2 0 2 0 3 0 2 0 2 0 2 0 2 0 3 0 2 0 2-35 2-50 3 0 2 0 2 0 2 0 2 0 3 0 2 0 2 0 2 0 2 0 3 0 2 0 2 0 2 0 2 0 3 0 2 0 2 18 2 67 2 0 3 0 2 0 2 0 2 0 2 0 3 0 2 0 2 0 2 0 2 0 3 0 2 0 2 0 2 0 2 0 3 0 2 0 2 0 2 0 3 0 2-85 2 0 2 0 2 0 3 0 2 0 2 0 2 0 2 0 3 0 2 0 2 0 2 0 2 0 3 0 2 0 2 0 2 0 2 0 3 77 2 8 2 0 2 0 2 0 3 0 2 0 2 0 2 0 2 0 3 0 2 0 2 0 2 0 2 0 3 0 2 0 2 0 2 0 2 0 3 0 2 0 2-16 2-69 3 0 2 0 2 0 2 0 2 0 3 0 2 0 2 0 2 0 2 0 3 0 2 0 2 0 2 0 2 0 3 0 2 0 2 0 2 85 2 0 3 0 2 0 2 0 2 0 2 0 3 0 2 0 2 0 2 0 2 0 3 0 2 0 2 0 2 0 2 0 3 0 2 0 2 0 2 0 3 0 2-74 2-11 2 0 2 0 3 0 2 0 2 0 2 0 2 0 3 0 2 0 2 0 2 0 2 0 3 0 2 0" fill="none" stroke="#008000" stroke-width="13" stroke-linejoin="round"/></g></g><rect x="30.5" y="98.5" width="242.0" height="15.0" fill="none" stroke="#303030" stroke-width="1"/><line x1="27.70" x2="30.50" y1="100.5" y2="100.5" stroke="#262626" stroke-width="0.9"/><text x="25.90" y="103.00" class="tk" text-anchor="end">1</text><line x1="27.70" x2="30.50" y1="109.5" y2="109.5" stroke="#262626" stroke-width="0.9"/><text x="25.90" y="111.80" class="tk" text-anchor="end">0</text><line x1="40.5" x2="40.5" y1="113.5" y2="116.1" stroke="#262626" stroke-width="0.9"/><line x1="85.5" x2="85.5" y1="113.5" y2="116.1" stroke="#262626" stroke-width="0.9"/><line x1="129.5" x2="129.5" y1="113.5" y2="116.1" stroke="#262626" stroke-width="0.9"/><line x1="173.5" x2="173.5" y1="113.5" y2="116.1" stroke="#262626" stroke-width="0.9"/><line x1="217.5" x2="217.5" y1="113.5" y2="116.1" stroke="#262626" stroke-width="0.9"/><line x1="261.5" x2="261.5" y1="113.5" y2="116.1" stroke="#262626" stroke-width="0.9"/><line x1="30.30" x2="272.80" y1="128.00" y2="128.00" stroke="#d4d4d4" stroke-width="0.9"/><line x1="30.30" x2="272.80" y1="118.70" y2="118.70" stroke="#d4d4d4" stroke-width="0.9"/><g clip-path="url(#ra6)"><g transform="scale(0.1)"><path d="M409 1234l2 4 2-14 3-12 2 43 2 15 2 2 2 2 3 17 2-13 2 29 2-13 2-10 3 22 2 1 2-32 2-19 2 30 3-12 2-6 2 30 2-5 3-14 2 22 2-3 2-9 2-5 3-20 2-16 2-8 2-33 2 8 3-6 2 2 2-1 2 37 2-29 3 16 2 9 2-37 2 10 2 2 3-17 2 32 2 14 2 25 2-14 3 16 2-20 2 2 2 48 2-22 3-4 2 17 2 5 2-5 2-29 3 20 2-5 2-10 2 2 3 8 2 12 2 2 2-16 2 14 3 8 2-18 2-41 2 21 2-12 3-31 2 18 2 2 2-17 2-19 3 3 2-5 2 14 2 8 2 16 3-29 2 8 2-14 2 19 2 4 3 36 2 10 2-4 2 2 2-8 3 25 2 16 2-1 2 3 2-6 3-22 2-4 2 11 2-10 3-13 2 9 2 22 2-7 2 16 3-22 2 13 2-12 2-1 2-26 3 0 2 2 2-6 2-30 2-14 3 12 2-4 2-2 2 2 2-12 3 15 2 16 2 2 2-28 2-5 3 40 2-41 2 61 2 7 2-18 3-3 2 19 2 17 2 1 2 16 3-5 2-18 2 25 2-29 2 10 3-23 2 20 2-25 2 35 3-12 2 14 2 8 2-19 2 6 3 15 2-57 2 0 2-3 2 1 3-42 2 39 2-29 2 1 2 22 3-34 2 46 2-35 2 2 2 15 3-29 2 45 2-9 2-17 2 48 3-2 2-16 2 20 2-10 2 32 3 9 2-3 2-19 2 22 2-9 3-5 2-1 2-29 2 1 3 17 2-3 2 21 2 14 2-26 3 21 2 0 2-21 2 8 2-37 3 6 2-4 2-40 2 12 2-3 3-15 2 23 2 12 2-34 2 39 3-40 2 20 2 20 2-38 2 19 3 0 2 45 2-6 2 1 2-16 3 11 2 41 2 3 2-11 2 1 3 7 2-16 2 6 2-19 3-13 2 2 2 17 2-19 2 39 3-18 2 23 2 0 2-5 2-22 3 0 2-14 2-16 2 4 2-16 3 4 2-17 2 2 2 20 2-41 3 41 2-22 2-8 2-13 2 12 3-16 2 20 2 1 2 27 2 20 3-9 2 6 2-12 2 34 2 5 3 0 2 14 2-26 2 2 3 17 2-44 2 8 2 13 2-3 3-2 2 22 2-7 2-7 2 14 3-8 2-7 2 27 2-58 2-8 3 9 2-38 2 17 2-11 2 10 3 6 2-13 2-16 2 33 2-23 3 36 2-43 2 8 2 12 2 12 3-27 2 51 2 1 2-2 2 9 3-16 2 47 2-7 2-15 2 11 3 7 2 1 2-38 2 27 3-1 2-2 2-16 2 31 2 1 3 0 2 0 2-9 2 14 2 2 3-46 2-15 2 0 2-1 2-1 3-12 2-19 2 9 2 21 2-17 3-22 2 41 2-38 2 12 2-3 3-12 2 30 2-7 2 41 2-7 3 0 2-5 2 6 2 44 2-17 3 13 2 3 2-21 2 13 3-33 2-4 2 16 2 1 2-12 3 27 2-1 2 15 2-19 2 6 3 13 2-13 2-47 2 16 2-14 3-27 2 0 2 28 2-32 2 14 3-29 2 34 2-7 2-18 2-7 3 0 2 43 2-45 2 42 2-27 3 40 2 11 2 3 2-20 2 18 3 18 2-1 2-5 2-2 3 24 2-17 2 0 2-29 2 21 3-3 2-4 2 11 2 24 2-16 3 3 2 4 2 1 2 7 2-44 3-19 2 15 2-16 2-9 2 10 3-24 2 29 2-5 2-4 2-33 3 25 2-17 2 6 2 19 2 7 3-1 2-37 2 63 2-2 2-16 3 20 2-18 2 35 2-3 3 10 2-10 2 16 2-4 2 7 3-48 2 23 2-9 2-14 2 47 3-8 2-3 2 6 2 1 2-6 3-15 2-32 2 2 2 15 2-8 3-28 2 16 2-6 2-2 2 8 3 2 2-17 2 6 2 11 2 0 3-43 2 15 2 24 2-21 2 40 3-10 2-2 2 7 2-8 3 50 2-18 2 6 2 13 2 1 3-20 2 8 2-16 2-16 2 8 3 1 2 22 2 10 2-4 2-14 3 16 2 2 2-2 2-16 2-20 3 0 2-11 2-7 2-34 2 12 3-8 2 0 2 3 2-1 2-13 3 26 2-22 2 23 2-16 2 23 3-27 2 67 2-1 2 0 3-20 2 0 2 52 2 1 2-2 3 1 2-24 2 3 2 10 2-30 3-2 2-8 2 1 2 0 2 25 3 3 2 8 2-8 2 3 2-5 3 1 2-33 2-9 2 20 2-40 3-6 2 13 2 1 2-11 2-5 3 14 2 10 2-32 2 17 2-9 3 8 2-20 2 40 2 10 2 17 3-16 2 20 2-16 2 44 3-18 2 10 2 14 2-7 2 1 3-14 2-15 2 13 2-6 2 2 3-7 2 8 2 10 2-3 2-7 3 13 2-10 2 12 2-30 2-16 3 13 2-50 2 36 2-41 2 22 3-17 2-4 2 24 2-21 2 8 3 14 2-24 2 21 2 14 2-14 3 9 2 20 2 1 2 6 3 6 2-5 2 23 2 11 2-1 3-12 2 2 2 17 2-52 2 18 3-10 2-5 2 2 2 24 2 5 3 11 2 5 2 1 2-1 2-6 3-37 2-8 2-4 2-20 2 0 3-13 2-9 2 39 2-35 2 7 3 12 2 2 2 14 2-43 2 22 3-15 2 35 2-27 2 35 3-2 2 10 2 10 2-22 2 54 3-18 2 5 2 4 2 6 2-11 3-26 2 19 2-23 2 2 2 23 3-4 2 27 2-7 2 2 2-24 3 5 2 0 2-20 2-23 2 7 3 11 2-46 2-8 2 36 2-32 3 34 2-25 2-17 2 26 2-14 3 24 2 4 2-3 2 9 3-12 2 29 2 7 2 3 2-20 3 17 2 19 2 3 2 3 2 9 3-26 2 9 2-15 2-6 2 12 3 5 2-23 2 46 2-2 2 0 3-8 2 11 2-25 2 11 2-29 3-4 2 0 2 5 2-45 2 10 3 6 2 7 2-35 2 20 2-7 3 12 2 14 2-38 2 15 2-6 3-17 2 31 2 34 2-12 3 20 2-17 2-2 2 51 2 1 3-10 2-15 2-3 2 6 2 21 3-34 2 5 2-24 2 17 2 13 3-5 2 16 2 5 2-5 2-15 3 2 2 11 2-46 2 4 2-7 3-23 2-7 2-3 2 22 2 7 3-33 2 29 2 0 2 12 2 0 3-5 2-10 2 9 2-34 3 60 2-3 2-8 2 16 2-16 3 27 2 10 2 11 2-23 2 7 3 4 2-9 2 3 2 0 2-32 3 22 2-13 2 27 2 11 2-6 3-18 2 9 2 17 2-20 2-22 3-20 2-1 2-17 2-6 2-18 3 7 2 0 2 5 2 3 2 9 3-24 2 43 2-29 2 4 3 30 2-43 2 52 2-9 2 0 3 10 2 7 2 30 2 4 2-19 3 28 2-18 2 7 2 3 2-20 3-12 2 10 2-22 2 21 2 20 3-2 2-5 2-10 2 8 2 11 3-8 2-46 2 21 2-3 2-37 3-21 2 13 2 20 2-34 2 9 3 35 2-8 2-4 2-37 3 7 2 17 2-18 2 11 2-6 3 41 2 15 2 7 2-22 2 41 3 13 2-21 2 6 2 10 2 4 3-21 2-17 2 9 2-5 2 9 3-14 2 22 2 0 2 16 2-4 3-7 2 13 2-3 2-42 2 1 3 4 2-33 2 7 2-29 2-10 3 2 2 22 2-19 2 1 3 0 2 18 2-24 2 11 2-7 3 15 2 4 2 32 2-3 2 12 3 3 2 8 2 11 2-1 2 17 3-16 2-4 2 20 2-45 2 0 3 8 2 17 2-20 2 19 2 8 3 4 2 12 2-23 2-2 2 20 3-52 2-1 2 16 2-57 2 2 3-2 2 42 2-23 2-24 3 8 2 8 2 10 2 19 2-17 3-24 2 13 2 23 2-37 2 52 3 17 2 2 2 0 2-2 2 35 3-11 2-13 2-2 2 9 2 5 3-20 2-21 2 27 2 0 2-16 3 38 2-25 2 22 2-5 2-18 3 11 2-4 2-45 2 15 2-16 3 18 2-33 2-18 2 29 2-3 3-31 2 6 2 26 2-16 3 25 2-24 2 17 2 12 2-15 3-6 2 36 2-3 2-2 2 7 3-14 2 45 2-8 2 18 2-26 3 17 2-5 2 13 2-18 2-16 3-7 2-7 2 42 2 8 2-13 3 14 2-20 2-1 2 12 2-45 3-12 2 1 2 17 2-50 2-6 3 25 2 8 2-35 2 30 3 6 2 0 2-10 2-13 2 13 3 1 2 11 2-9 2 32 2 6 3-13 2 5 2 11 2 30 2-19 3-2 2 11" fill="none" stroke="#ff0000" stroke-width="15" stroke-linejoin="round"/><path d="M409 1190l2 0 2 0 3 0 2 0 2 0 2 76 2 14 3 0 2 0 2 0 2 0 2 0 3 0 2 0 2 0 2 0 2 0 3 0 2 0 2 0 2 0 3 0 2 0 2 0 2 0 2 0 3 0 2-44 2-46 2 0 2 0 3 0 2 0 2 0 2 0 2 0 3 0 2 0 2 0 2 0 2 0 3 0 2 0 2 0 2 0 2 0 3 54 2 36 2 0 2 0 2 0 3 0 2 0 2 0 2 0 2 0 3 0 2 0 2 0 2 0 3 0 2 0 2 0 2 0 2 0 3 0 2 0 2 0 2-22 2-68 3 0 2 0 2 0 2 0 2 0 3 0 2 0 2 0 2 0 2 0 3 0 2 0 2 0 2 0 2 0 3 0 2 0 2 32 2 58 2 0 3 0 2 0 2 0 2 0 2 0 3 0 2 0 2 0 2 0 3 0 2 0 2 0 2 0 2 0 3 0 2 0 2 0 2 0 2 0 3 0 2-90 2 0 2 0 2 0 3 0 2 0 2 0 2 0 2 0 3 0 2 0 2 0 2 0 2 0 3 0 2 0 2 0 2 0 2 10 3 80 2 0 2 0 2 0 2 0 3 0 2 0 2 0 2 0 2 0 3 0 2 0 2 0 2 0 3 0 2 0 2 0 2 0 2 0 3 0 2 0 2 0 2-90 2 0 3 0 2 0 2 0 2 0 2 0 3 0 2 0 2 0 2 0 2 0 3 0 2 0 2 0 2 0 2 0 3 0 2 0 2 90 2 0 2 0 3 0 2 0 2 0 2 0 2 0 3 0 2 0 2 0 2 0 3 0 2 0 2 0 2 0 2 0 3 0 2 0 2 0 2 0 2 0 3-90 2 0 2 0 2 0 2 0 3 0 2 0 2 0 2 0 2 0 3 0 2 0 2 0 2 0 2 0 3 0 2 0 2 0 2 0 2 90 3 0 2 0 2 0 2 0 2 0 3 0 2 0 2 0 2 0 3 0 2 0 2 0 2 0 2 0 3 0 2 0 2 0 2 0 2 0 3 0 2 0 2-79 2-11 2 0 3 0 2 0 2 0 2 0 2 0 3 0 2 0 2 0 2 0 2 0 3 0 2 0 2 0 2 0 2 0 3 0 2 89 2 1 2 0 2 0 3 0 2 0 2 0 2 0 3 0 2 0 2 0 2 0 2 0 3 0 2 0 2 0 2 0 2 0 3 0 2 0 2 0 2 0 2-57 3-33 2 0 2 0 2 0 2 0 3 0 2 0 2 0 2 0 2 0 3 0 2 0 2 0 2 0 2 0 3 0 2 0 2 0 2 67 2 23 3 0 2 0 2 0 2 0 2 0 3 0 2 0 2 0 2 0 3 0 2 0 2 0 2 0 2 0 3 0 2 0 2 0 2 0 2 0 3 0 2-35 2-55 2 0 2 0 3 0 2 0 2 0 2 0 2 0 3 0 2 0 2 0 2 0 2 0 3 0 2 0 2 0 2 0 2 0 3 45 2 45 2 0 2 0 2 0 3 0 2 0 2 0 2 0 3 0 2 0 2 0 2 0 2 0 3 0 2 0 2 0 2 0 2 0 3 0 2 0 2 0 2-13 2-77 3 0 2 0 2 0 2 0 2 0 3 0 2 0 2 0 2 0 2 0 3 0 2 0 2 0 2 0 2 0 3 0 2 0 2 23 2 67 2 0 3 0 2 0 2 0 2 0 3 0 2 0 2 0 2 0 2 0 3 0 2 0 2 0 2 0 2 0 3 0 2 0 2 0 2 0 2 0 3 0 2-90 2 0 2 0 2 0 3 0 2 0 2 0 2 0 2 0 3 0 2 0 2 0 2 0 2 0 3 0 2 0 2 0 2 0 2 0 3 90 2 0 2 0 2 0 3 0 2 0 2 0 2 0 2 0 3 0 2 0 2 0 2 0 2 0 3 0 2 0 2 0 2 0 2 0 3 0 2 0 2 0 2-90 2 0 3 0 2 0 2 0 2 0 2 0 3 0 2 0 2 0 2 0 2 0 3 0 2 0 2 0 2 0 2 0 3 0 2 0 2 90 2 0 3 0 2 0 2 0 2 0 2 0 3 0 2 0 2 0 2 0 2 0 3 0 2 0 2 0 2 0 2 0 3 0 2 0 2 0 2 0 2 0 3-90 2 0 2 0 2 0 2 0 3 0 2 0 2 0 2 0 2 0 3 0 2 0 2 0 2 0 2 0 3 0 2 0 2 0 2 0 3 90 2 0 2 0 2 0 2 0 3 0 2 0 2 0 2 0 2 0 3 0 2 0 2 0 2 0 2 0 3 0 2 0 2 0 2 0 2 0 3 0 2 0 2-70 2-20 2 0 3 0 2 0 2 0 2 0 2 0 3 0 2 0 2 0 2 0 2 0 3 0 2 0 2 0 2 0 2 0 3 0 2 80 2 10 2 0 3 0 2 0 2 0 2 0 2 0 3 0 2 0 2 0 2 0 2 0 3 0 2 0 2 0 2 0 2 0 3 0 2 0 2 0 2 0 2-48 3-42 2 0 2 0 2 0 2 0 3 0 2 0 2 0 2 0 2 0 3 0 2 0 2 0 2 0 2 0 3 0 2 0 2 0 2 58 3 32 2 0 2 0 2 0 2 0 3 0 2 0 2 0 2 0 2 0 3 0 2 0 2 0 2 0 2 0 3 0 2 0 2 0 2 0 2 0 3 0 2-26 2-64 2 0 2 0 3 0 2 0 2 0 2 0 2 0 3 0 2 0 2 0 2 0 2 0 3 0 2 0 2 0 2 0 3 0 2 36 2 54 2 0 2 0 3 0 2 0 2 0 2 0 2 0 3 0 2 0 2 0 2 0 2 0 3 0 2 0 2 0 2 0 2 0 3 0 2 0 2 0 2-3 2-87 3 0 2 0 2 0 2 0 2 0 3 0 2 0 2 0 2 0 2 0 3 0 2 0 2 0 2 0 3 0 2 0 2 0 2 13 2 77 3 0 2 0 2 0 2 0 2 0 3 0 2 0 2 0 2 0 2 0 3 0 2 0 2 0 2 0 2 0 3 0 2 0 2 0 2 0 2 0 3 0 2-90 2 0 2 0 2 0 3 0 2 0 2 0 2 0 2 0 3 0 2 0 2 0 2 0 2 0 3 0 2 0 2 0 2 0 3 0 2 90 2 0 2 0 2 0 3 0 2 0 2 0 2 0 2 0 3 0 2 0 2 0 2 0 2 0 3 0 2 0 2 0 2 0 2 0 3 0 2 0 2 0 2-90 2 0 3 0 2 0 2 0 2 0 2 0 3 0 2 0 2 0 2 0 2 0 3 0 2 0 2 0 2 0 3 0 2 0 2 0 2 90 2 0 3 0 2 0 2 0 2 0 2 0 3 0 2 0 2 0 2 0 2 0 3 0 2 0 2 0 2 0 2 0 3 0 2 0 2 0 2 0 2 0 3-83 2-7 2 0 2 0 2 0 3 0 2 0 2 0 2 0 2 0 3 0 2 0 2 0 2 0 3 0 2 0 2 0 2 0 2 0 3 90 2 0 2 0 2 0 2 0 3 0 2 0 2 0 2 0 2 0 3 0 2 0 2 0 2 0 2 0 3 0 2 0 2 0 2 0 2 0 3 0 2 0 2-61 2-29 2 0 3 0 2 0 2 0 2 0 2 0 3 0 2 0 2 0 2 0 3 0 2 0 2 0 2 0 2 0 3 0 2 0 2 71 2 19 2 0 3 0 2 0 2 0 2 0 2 0 3 0 2 0 2 0 2 0 2 0 3 0 2 0 2 0 2 0 2 0 3 0 2 0 2 0 2 0 2-39 3-51 2 0 2 0 2 0 2 0 3 0 2 0 2 0 2 0 3 0 2 0 2 0 2 0 2 0 3 0 2 0 2 0 2 0 2 49 3 41 2 0 2 0 2 0 2 0 3 0 2 0 2 0 2 0 2 0 3 0 2 0 2 0 2 0 2 0 3 0 2 0 2 0 2 0 2 0 3 0 2-16 2-74 2 0 2 0 3 0 2 0 2 0 2 0 3 0 2 0 2 0 2 0 2 0 3 0 2 0 2 0 2 0 2 0 3 0 2 26 2 64 2 0 2 0 3 0 2 0 2 0 2 0 2 0 3 0 2 0 2 0 2 0 2 0 3 0 2 0 2 0 2 0 2 0 3 0 2 0 2 0 2 0 2-90 3 0 2 0 2 0 2 0 2 0 3 0 2 0 2 0 2 0 3 0 2 0 2 0 2 0 2 0 3 0 2 0 2 0 2 4 2 86 3 0 2 0 2 0 2 0 2 0 3 0 2 0 2 0 2 0 2 0 3 0 2 0 2 0 2 0 2 0 3 0 2 0 2 0 2 0 2 0 3 0 2-90 2 0 2 0 2 0 3 0 2 0 2 0 2 0 3 0 2 0 2 0 2 0 2 0 3 0 2 0 2 0 2 0 2 0 3 0 2 90 2 0 2 0 2 0 3 0 2 0" fill="none" stroke="#008000" stroke-width="13" stroke-linejoin="round"/></g></g><rect x="30.5" y="116.5" width="242.0" height="15.0" fill="none" stroke="#303030" stroke-width="1"/><line x1="27.70" x2="30.50" y1="118.5" y2="118.5" stroke="#262626" stroke-width="0.9"/><text x="25.90" y="121.10" class="tk" text-anchor="end">1</text><line x1="27.70" x2="30.50" y1="128.5" y2="128.5" stroke="#262626" stroke-width="0.9"/><text x="25.90" y="130.40" class="tk" text-anchor="end">0</text><line x1="40.5" x2="40.5" y1="131.5" y2="134.1" stroke="#262626" stroke-width="0.9"/><line x1="85.5" x2="85.5" y1="131.5" y2="134.1" stroke="#262626" stroke-width="0.9"/><line x1="129.5" x2="129.5" y1="131.5" y2="134.1" stroke="#262626" stroke-width="0.9"/><line x1="173.5" x2="173.5" y1="131.5" y2="134.1" stroke="#262626" stroke-width="0.9"/><line x1="217.5" x2="217.5" y1="131.5" y2="134.1" stroke="#262626" stroke-width="0.9"/><line x1="261.5" x2="261.5" y1="131.5" y2="134.1" stroke="#262626" stroke-width="0.9"/><line x1="30.30" x2="272.80" y1="146.60" y2="146.60" stroke="#d4d4d4" stroke-width="0.9"/><line x1="30.30" x2="272.80" y1="137.30" y2="137.30" stroke="#d4d4d4" stroke-width="0.9"/><g clip-path="url(#ra7)"><g transform="scale(0.1)"><path d="M409 1416l2-5 2-7 3 27 2-15 2 37 2-13 2 21 3-11 2-2 2 17 2 13 2-6 3 13 2 5 2-16 2-3 2 0 3 0 2-17 2 17 2-22 3 15 2 21 2 9 2-4 2 1 3-16 2 2 2-35 2 4 2 2 3-18 2-1 2-6 2-33 2 3 3-7 2 30 2-10 2-18 2 1 3 10 2 7 2-3 2 32 2 15 3-15 2 19 2-16 2 3 2 40 3-9 2 3 2 8 2-17 2 26 3-23 2-7 2-17 2 26 3-13 2-9 2 38 2-2 2-19 3 26 2-24 2-2 2 23 2-40 3-14 2-11 2-13 2-25 2 40 3 9 2-1 2-13 2 9 2 4 3 0 2-24 2 17 2 5 2-11 3-23 2 45 2 10 2 6 2 1 3-3 2 26 2 10 2-8 2 1 3-13 2 13 2-2 2-39 3 15 2 7 2-23 2 28 2 22 3-17 2 10 2-13 2-6 2 11 3-39 2 9 2-10 2 5 2-46 3 19 2-26 2 23 2 6 2-4 3 17 2 0 2-7 2-39 2-1 3 48 2-9 2-35 2 66 2-1 3-14 2-3 2 7 2 27 2 19 3-5 2 0 2-6 2-1 2-13 3-20 2 11 2 12 2-3 3 20 2-11 2 0 2 5 2-8 3 2 2 9 2-52 2 17 2-2 3-10 2-23 2-26 2-2 2 9 3 31 2 7 2-17 2 19 2-13 3-14 2 24 2-28 2 0 2 18 3 35 2-14 2 13 2-18 2 7 3 23 2 21 2 1 2 0 2-16 3 3 2-35 2 22 2 8 3-19 2 19 2 1 2-3 2 23 3 1 2-28 2 4 2 1 2-44 3 25 2-22 2-23 2 0 2-20 3-1 2 37 2 4 2-28 2-13 3 43 2-18 2-18 2 8 2 2 3-1 2 10 2 33 2-1 2 1 3 1 2-10 2 49 2-18 2 25 3-26 2 25 2 3 2-32 3-1 2-19 2 10 2 1 2 20 3 21 2 1 2-14 2 12 2-8 3 4 2-47 2 9 2-8 2-43 3 23 2-9 2-13 2 34 2-29 3 5 2 15 2-16 2 18 2-2 3 0 2-26 2-1 2 36 2 15 3-1 2-9 2 15 2 30 2 2 3 1 2 4 2-26 2 25 3 1 2-49 2 5 2 2 2 3 3 7 2 20 2-2 2-8 2 6 3 0 2-6 2 9 2-28 2 1 3-5 2-60 2 24 2 0 2 11 3-23 2 6 2 4 2 5 2-22 3 7 2 14 2-25 2 14 2 1 3 41 2 13 2-1 2-7 2 4 3 40 2-4 2 3 2-26 2 13 3-3 2 11 2-19 2-3 3-8 2 0 2-16 2 51 2 1 3 2 2-12 2-14 2-1 2 23 3-56 2 18 2-15 2-20 2-10 3-8 2 14 2-28 2 18 2 20 3-34 2 37 2-5 2 13 2-16 3 1 2 6 2 16 2 15 2-4 3 4 2-17 2 51 2-24 2 22 3-10 2-12 2 26 2 2 3-49 2 18 2-3 2-2 2 20 3-13 2 6 2 11 2-12 2 11 3-12 2-26 2-12 2 13 2-5 3-36 2 14 2 2 2-24 2 17 3-23 2 26 2 7 2-32 2 27 3-31 2 29 2 2 2-20 2 50 3 14 2-16 2-4 2-1 2 52 3-18 2 14 2-2 2 5 3-18 2-4 2-22 2-3 2 19 3 10 2-1 2 3 2 15 2-6 3-15 2 7 2 3 2-47 2 4 3 6 2-19 2-38 2 1 2 14 3 33 2-40 2 12 2 27 2-1 3-17 2-9 2 17 2-3 2-2 3 18 2 26 2-4 2-5 2 0 3-18 2 35 2 14 2-8 3-2 2 2 2-6 2-18 2-11 3 29 2 2 2-19 2 17 2 21 3-16 2 19 2-18 2-10 2 9 3-46 2 2 2 20 2-40 2-14 3 19 2 11 2-16 2-12 2 15 3-28 2 14 2 32 2-29 2-7 3-8 2 7 2 0 2 63 2-9 3 3 2-3 2 37 2-3 3 2 2 8 2-21 2 13 2-14 3-4 2-16 2 1 2-4 2 21 3 5 2 2 2 5 2-15 2 15 3 10 2-22 2-37 2 6 2-12 3-33 2 39 2-10 2-1 2-30 3 30 2-27 2 0 2-3 2 14 3-15 2 24 2 20 2-4 2 23 3-1 2-13 2 21 2 1 3 14 2 15 2-22 2 14 2 3 3-5 2-3 2-17 2-11 2 2 3 5 2 11 2 9 2-5 2 23 3-12 2 8 2 0 2-12 2-51 3 10 2-6 2-28 2-9 2 26 3-9 2 2 2-16 2 10 2-7 3 5 2-10 2 3 2 11 2-1 3 2 2 41 2 5 2 6 2-27 3 6 2 47 2-8 2-12 3 11 2 1 2 14 2-18 2-13 3-11 2-1 2 14 2-18 2 40 3-5 2-4 2-3 2 15 2-20 3-4 2-39 2 13 2 8 2-36 3-6 2 2 2 10 2-5 2 13 3-18 2 6 2 22 2-26 2 5 3-4 2 22 2-16 2 22 2 4 3 11 2-3 2-10 2 24 3 18 2 9 2-17 2-1 2-5 3 15 2-38 2 17 2-22 2 12 3 14 2 2 2 3 2 18 2-10 3 6 2-19 2-40 2 18 2-6 3-12 2-27 2 8 2-17 2 3 3 37 2-33 2-3 2-2 2 11 3 20 2 9 2-40 2 4 2 18 3 39 2-5 2-2 2 4 3-11 2 46 2-13 2 19 2-12 3 5 2-7 2-26 2-10 2 4 3 19 2-10 2 37 2 0 2-20 3 2 2-6 2 6 2-5 2-42 3 5 2 2 2-46 2 2 2 45 3-21 2 8 2-10 2 6 2-25 3 27 2 6 2-38 2 34 2-21 3 10 2-11 2 50 2 9 3-11 2-4 2 10 2 12 2 8 3-6 2 2 2-4 2 1 2 2 3-5 2-2 2 6 2-14 2 13 3 28 2-19 2 15 2 1 2-12 3 14 2-62 2 10 2 1 2-55 3 0 2 13 2 27 2 6 2-31 3-2 2 30 2-16 2-15 2-12 3 5 2 3 2 35 2-40 2 59 3-9 2 13 2-18 2 44 3-13 2 5 2-4 2 25 2-21 3 21 2-49 2 28 2-17 2 7 3-2 2 26 2 8 2-25 2 23 3-16 2 1 2-2 2-41 2 8 3 9 2-33 2-2 2-22 2 26 3-4 2-14 2 30 2-36 2 30 3-15 2 12 2-14 2 12 2-6 3 26 2 3 2 13 2 3 3-24 2 55 2-4 2-3 2-9 3 0 2 14 2-17 2-10 2 10 3 0 2 1 2-10 2 11 2 16 3 0 2-8 2 10 2-15 2-1 3-30 2 4 2 0 2-33 2 5 3 5 2-5 2 11 2-44 2 28 3-29 2 37 2-8 2-28 2 34 3-8 2-5 2 37 2-12 3 16 2 4 2-12 2 38 2-3 3 10 2-10 2-5 2-3 2 7 3-10 2-19 2 7 2-2 2 3 3 23 2 9 2 0 2-16 2 9 3 10 2-46 2-5 2-5 2 11 3-39 2 17 2-14 2 4 2 10 3 1 2 1 2 8 2-4 2 1 3-10 2 10 2-28 2-3 3 44 2 14 2-14 2-3 2 9 3 37 2-9 2 15 2-7 2-6 3-11 2-27 2 4 2 16 2-2 3-4 2 13 2 0 2 1 2 18 3-10 2 13 2-23 2-17 2 0 3-26 2 0 2-10 2 14 2-42 3 4 2 40 2-15 2-5 2-6 3-3 2-2 2 19 2-5 3 16 2-19 2 44 2 4 2-9 3 0 2 2 2 23 2 15 2 2 3-14 2 10 2-3 2-11 2-5 3 0 2-27 2 4 2 35 2-12 3 16 2 1 2 8 2-13 2-6 3-38 2 9 2-21 2-26 2 23 3-26 2 26 2-11 2 0 2 14 3-13 2 22 2-32 2 1 3 32 2-17 2 2 2 14 2 20 3 7 2-21 2 15 2 1 2 14 3-3 2 0 2 21 2-6 2-16 3-5 2-14 2 6 2 2 2-11 3 26 2 11 2 3 2 6 2-20 3 2 2-5 2-17 2 3 2-10 3-32 2-23 2 40 2-16 2-23 3 0 2 47 2-40 2 34 2-4 3 9 2-12 2-23 2-2 3 4 2 36 2 2 2 10 2 3 3 13 2 22 2-20 2 16 2 3 3-20 2 22 2-28 2 2 2-9 3-9 2 5 2 41 2-11 2-7 3 3 2-5 2 14 2-18 2-29 3 14 2-8 2-52 2 19 2-11 3 12 2 21 2-25 2-11 2 20 3 11 2-36 2-4 2 3 3 5 2 26 2 36 2-10 2-10 3 16 2 1 2 17 2-5 2 22 3-14 2 16 2-20 2 18 2-46 3 30 2-25" fill="none" stroke="#ff0000" stroke-width="15" stroke-linejoin="round"/><path d="M409 1376l2 0 2 0 3 0 2 0 2 0 2 0 2 0 3 82 2 8 2 0 2 0 2 0 3 0 2 0 2 0 2 0 2 0 3 0 2 0 2 0 2 0 3 0 2 0 2 0 2 0 2 0 3 0 2 0 2 0 2-75 2-15 3 0 2 0 2 0 2 0 2 0 3 0 2 0 2 0 2 0 2 0 3 0 2 0 2 0 2 0 2 0 3 0 2 0 2 90 2 0 2 0 3 0 2 0 2 0 2 0 2 0 3 0 2 0 2 0 2 0 3 0 2 0 2 0 2 0 2 0 3 0 2 0 2 0 2 0 2 0 3-90 2 0 2 0 2 0 2 0 3 0 2 0 2 0 2 0 2 0 3 0 2 0 2 0 2 0 2 0 3 0 2 0 2 0 2 0 2 90 3 0 2 0 2 0 2 0 2 0 3 0 2 0 2 0 2 0 3 0 2 0 2 0 2 0 2 0 3 0 2 0 2 0 2 0 2 0 3 0 2 0 2-90 2 0 2 0 3 0 2 0 2 0 2 0 2 0 3 0 2 0 2 0 2 0 2 0 3 0 2 0 2 0 2 0 2 0 3 11 2 79 2 0 2 0 2 0 3 0 2 0 2 0 2 0 2 0 3 0 2 0 2 0 2 0 3 0 2 0 2 0 2 0 2 0 3 0 2 0 2 0 2-4 2-86 3 0 2 0 2 0 2 0 2 0 3 0 2 0 2 0 2 0 2 0 3 0 2 0 2 0 2 0 2 0 3 0 2 0 2 36 2 54 2 0 3 0 2 0 2 0 2 0 2 0 3 0 2 0 2 0 2 0 3 0 2 0 2 0 2 0 2 0 3 0 2 0 2 0 2 0 2 0 3-30 2-60 2 0 2 0 2 0 3 0 2 0 2 0 2 0 2 0 3 0 2 0 2 0 2 0 2 0 3 0 2 0 2 0 2 0 2 62 3 28 2 0 2 0 2 0 2 0 3 0 2 0 2 0 2 0 3 0 2 0 2 0 2 0 2 0 3 0 2 0 2 0 2 0 2 0 3 0 2 0 2-55 2-35 2 0 3 0 2 0 2 0 2 0 2 0 3 0 2 0 2 0 2 0 2 0 3 0 2 0 2 0 2 0 2 0 3 0 2 87 2 3 2 0 2 0 3 0 2 0 2 0 2 0 3 0 2 0 2 0 2 0 2 0 3 0 2 0 2 0 2 0 2 0 3 0 2 0 2 0 2 0 2-80 3-10 2 0 2 0 2 0 2 0 3 0 2 0 2 0 2 0 2 0 3 0 2 0 2 0 2 0 2 0 3 0 2 0 2 0 2 90 2 0 3 0 2 0 2 0 2 0 2 0 3 0 2 0 2 0 2 0 3 0 2 0 2 0 2 0 2 0 3 0 2 0 2 0 2 0 2 0 3 0 2-90 2 0 2 0 2 0 3 0 2 0 2 0 2 0 2 0 3 0 2 0 2 0 2 0 2 0 3 0 2 0 2 0 2 0 2 0 3 90 2 0 2 0 2 0 2 0 3 0 2 0 2 0 2 0 3 0 2 0 2 0 2 0 2 0 3 0 2 0 2 0 2 0 2 0 3 0 2 0 2 0 2-90 2 0 3 0 2 0 2 0 2 0 2 0 3 0 2 0 2 0 2 0 2 0 3 0 2 0 2 0 2 0 2 0 3 0 2 16 2 74 2 0 2 0 3 0 2 0 2 0 2 0 3 0 2 0 2 0 2 0 2 0 3 0 2 0 2 0 2 0 2 0 3 0 2 0 2 0 2 0 2-9 3-81 2 0 2 0 2 0 2 0 3 0 2 0 2 0 2 0 2 0 3 0 2 0 2 0 2 0 2 0 3 0 2 0 2 0 2 41 2 49 3 0 2 0 2 0 2 0 3 0 2 0 2 0 2 0 2 0 3 0 2 0 2 0 2 0 2 0 3 0 2 0 2 0 2 0 2 0 3 0 2-35 2-55 2 0 2 0 3 0 2 0 2 0 2 0 2 0 3 0 2 0 2 0 2 0 2 0 3 0 2 0 2 0 2 0 2 0 3 67 2 23 2 0 2 0 3 0 2 0 2 0 2 0 2 0 3 0 2 0 2 0 2 0 2 0 3 0 2 0 2 0 2 0 2 0 3 0 2 0 2 0 2-60 2-30 3 0 2 0 2 0 2 0 2 0 3 0 2 0 2 0 2 0 2 0 3 0 2 0 2 0 2 0 2 0 3 0 2 0 2 90 2 0 3 0 2 0 2 0 2 0 2 0 3 0 2 0 2 0 2 0 2 0 3 0 2 0 2 0 2 0 2 0 3 0 2 0 2 0 2 0 2 0 3-85 2-5 2 0 2 0 2 0 3 0 2 0 2 0 2 0 2 0 3 0 2 0 2 0 2 0 2 0 3 0 2 0 2 0 2 0 2 90 3 0 2 0 2 0 2 0 3 0 2 0 2 0 2 0 2 0 3 0 2 0 2 0 2 0 2 0 3 0 2 0 2 0 2 0 2 0 3 0 2 0 2-90 2 0 2 0 3 0 2 0 2 0 2 0 2 0 3 0 2 0 2 0 2 0 2 0 3 0 2 0 2 0 2 0 2 0 3 0 2 90 2 0 2 0 3 0 2 0 2 0 2 0 2 0 3 0 2 0 2 0 2 0 2 0 3 0 2 0 2 0 2 0 2 0 3 0 2 0 2 0 2 0 2-90 3 0 2 0 2 0 2 0 2 0 3 0 2 0 2 0 2 0 2 0 3 0 2 0 2 0 2 0 2 0 3 0 2 0 2 21 2 69 3 0 2 0 2 0 2 0 2 0 3 0 2 0 2 0 2 0 2 0 3 0 2 0 2 0 2 0 2 0 3 0 2 0 2 0 2 0 2 0 3-14 2-76 2 0 2 0 2 0 3 0 2 0 2 0 2 0 2 0 3 0 2 0 2 0 2 0 2 0 3 0 2 0 2 0 2 0 3 46 2 44 2 0 2 0 2 0 3 0 2 0 2 0 2 0 2 0 3 0 2 0 2 0 2 0 2 0 3 0 2 0 2 0 2 0 2 0 3 0 2 0 2-40 2-50 2 0 3 0 2 0 2 0 2 0 2 0 3 0 2 0 2 0 2 0 2 0 3 0 2 0 2 0 2 0 2 0 3 0 2 72 2 18 2 0 3 0 2 0 2 0 2 0 2 0 3 0 2 0 2 0 2 0 2 0 3 0 2 0 2 0 2 0 2 0 3 0 2 0 2 0 2 0 2-65 3-25 2 0 2 0 2 0 2 0 3 0 2 0 2 0 2 0 2 0 3 0 2 0 2 0 2 0 2 0 3 0 2 0 2 0 2 90 3 0 2 0 2 0 2 0 2 0 3 0 2 0 2 0 2 0 2 0 3 0 2 0 2 0 2 0 2 0 3 0 2 0 2 0 2 0 2 0 3 0 2-90 2 0 2 0 2 0 3 0 2 0 2 0 2 0 2 0 3 0 2 0 2 0 2 0 2 0 3 0 2 0 2 0 2 0 3 0 2 90 2 0 2 0 2 0 3 0 2 0 2 0 2 0 2 0 3 0 2 0 2 0 2 0 2 0 3 0 2 0 2 0 2 0 2 0 3 0 2 0 2 0 2-90 2 0 3 0 2 0 2 0 2 0 2 0 3 0 2 0 2 0 2 0 2 0 3 0 2 0 2 0 2 0 3 0 2 0 2 1 2 89 2 0 3 0 2 0 2 0 2 0 2 0 3 0 2 0 2 0 2 0 2 0 3 0 2 0 2 0 2 0 2 0 3 0 2 0 2 0 2 0 2 0 3-90 2 0 2 0 2 0 2 0 3 0 2 0 2 0 2 0 2 0 3 0 2 0 2 0 2 0 3 0 2 0 2 0 2 0 2 26 3 64 2 0 2 0 2 0 2 0 3 0 2 0 2 0 2 0 2 0 3 0 2 0 2 0 2 0 2 0 3 0 2 0 2 0 2 0 2 0 3 0 2-19 2-71 2 0 2 0 3 0 2 0 2 0 2 0 2 0 3 0 2 0 2 0 2 0 3 0 2 0 2 0 2 0 2 0 3 0 2 52 2 38 2 0 2 0 3 0 2 0 2 0 2 0 2 0 3 0 2 0 2 0 2 0 2 0 3 0 2 0 2 0 2 0 2 0 3 0 2 0 2 0 2-45 2-45 3 0 2 0 2 0 2 0 2 0 3 0 2 0 2 0 2 0 2 0 3 0 2 0 2 0 2 0 3 0 2 0 2 0 2 77 2 13 3 0 2 0 2 0 2 0 2 0 3 0 2 0 2 0 2 0 2 0 3 0 2 0 2 0 2 0 2 0 3 0 2 0 2 0 2 0 2 0 3-70 2-20 2 0 2 0 2 0 3 0 2 0 2 0 2 0 2 0 3 0 2 0 2 0 2 0 3 0 2 0 2 0 2 0 2 0 3 90 2 0 2 0 2 0 2 0 3 0 2 0 2 0 2 0 2 0 3 0 2 0" fill="none" stroke="#008000" stroke-width="13" stroke-linejoin="round"/></g></g><rect x="30.5" y="135.5" width="242.0" height="14.0" fill="none" stroke="#303030" stroke-width="1"/><line x1="27.70" x2="30.50" y1="137.5" y2="137.5" stroke="#262626" stroke-width="0.9"/><text x="25.90" y="139.70" class="tk" text-anchor="end">1</text><line x1="27.70" x2="30.50" y1="146.5" y2="146.5" stroke="#262626" stroke-width="0.9"/><text x="25.90" y="149.00" class="tk" text-anchor="end">0</text><line x1="40.5" x2="40.5" y1="149.5" y2="152.1" stroke="#262626" stroke-width="0.9"/><line x1="85.5" x2="85.5" y1="149.5" y2="152.1" stroke="#262626" stroke-width="0.9"/><line x1="129.5" x2="129.5" y1="149.5" y2="152.1" stroke="#262626" stroke-width="0.9"/><line x1="173.5" x2="173.5" y1="149.5" y2="152.1" stroke="#262626" stroke-width="0.9"/><line x1="217.5" x2="217.5" y1="149.5" y2="152.1" stroke="#262626" stroke-width="0.9"/><line x1="261.5" x2="261.5" y1="149.5" y2="152.1" stroke="#262626" stroke-width="0.9"/><line x1="30.30" x2="272.80" y1="164.60" y2="164.60" stroke="#d4d4d4" stroke-width="0.9"/><line x1="30.30" x2="272.80" y1="155.40" y2="155.40" stroke="#d4d4d4" stroke-width="0.9"/><g clip-path="url(#ra8)"><g transform="scale(0.1)"><path d="M409 1646l2 9 2 8 3 3 2-18 2 17 2-42 2 1 3-9 2 13 2-62 2 1 2 25 3 11 2-32 2-3 2 18 2-3 3-4 2 11 2 22 2-41 3 30 2-34 2 65 2-11 2 16 3-1 2-9 2 42 2-14 2 11 3-19 2 22 2-5 2-35 2 24 3-3 2-15 2-3 2 41 2-17 3 2 2-6 2 20 2-27 2 18 3-34 2-14 2-1 2 15 2-24 3-18 2-20 2 3 2 9 2-12 3 4 2 8 2 29 2-9 3-2 2 6 2-18 2 23 2 16 3-1 2 10 2-7 2-1 2 22 3 26 2-20 2 7 2-4 2 2 3-7 2-21 2 6 2-4 2-2 3 41 2-2 2-7 2 5 2 5 3-9 2-19 2-18 2 0 2-9 3-5 2-32 2 25 2-9 2-14 3-1 2-3 2 30 2-33 3 6 2 11 2 19 2-7 2-1 3-35 2 51 2 7 2-9 2 2 3 20 2 6 2 20 2-8 2-1 3 13 2 1 2-12 2-20 2-5 3-8 2 18 2 27 2-11 2-8 3 14 2 3 2 6 2-27 2-30 3 15 2-20 2 19 2-18 2-22 3-8 2 2 2 23 2-18 2 1 3-19 2 37 2-30 2-1 3-8 2 18 2-8 2 35 2 15 3 10 2-5 2-16 2 54 2-2 3-12 2 10 2 4 2-17 2 10 3-44 2 18 2-15 2 0 2-1 3 26 2 11 2-12 2 0 2 21 3-7 2 2 2-57 2 3 2 4 3-34 2 24 2 5 2-28 2 29 3-21 2-3 2-2 2 1 3 15 2-17 2 22 2-40 2 1 3 71 2-5 2 1 2 7 2-24 3 51 2-23 2 27 2-6 2-13 3 4 2 15 2-32 2 4 2-6 3 12 2-13 2 35 2-20 2 18 3-18 2 8 2-7 2 20 2-48 3 1 2-8 2-20 2 2 2 3 3-10 2 12 2-14 2-9 3 21 2-15 2 13 2-19 2-6 3 31 2-17 2 35 2 0 2-9 3 5 2-3 2 51 2-23 2 19 3 7 2-17 2 17 2-6 2-33 3-4 2 23 2-13 2 2 2 12 3-4 2 19 2-11 2 11 2-8 3-14 2-36 2 22 2-9 2-17 3-15 2 11 2 4 2-24 3 33 2-44 2 18 2-5 2-3 3 26 2 8 2-15 2-3 2 36 3-11 2 10 2-5 2 7 2 33 3 2 2-4 2-16 2 14 2 2 3-11 2-12 2-3 2 0 2-8 3 6 2 22 2-10 2 2 2 13 3-13 2-6 2 1 2-31 2 8 3 5 2-57 2 24 2-21 2 18 3 16 2-15 2-17 2 40 3-30 2 11 2-7 2-19 2 27 3-13 2 50 2-16 2 8 2-9 3-2 2 29 2 3 2 6 2 0 3 5 2 9 2-7 2-29 2-10 3 31 2-31 2 25 2 21 2 2 3-6 2 4 2-19 2 4 2 7 3-48 2 14 2-6 2-14 2-38 3 24 2 4 2 9 2 10 3-37 2 24 2 8 2-38 2 26 3-10 2 14 2 0 2 38 2-24 3 15 2 3 2-18 2 51 2 0 3-5 2 5 2-8 2-6 2-4 3-14 2 2 2 0 2-12 2 27 3 6 2-9 2 15 2 9 2-13 3 9 2-10 2-30 2-21 2 24 3-42 2-21 2 38 2-16 3-18 2 22 2-6 2-3 2 28 3-9 2-19 2-2 2 13 2-28 3 61 2-11 2 1 2 10 2 5 3 21 2 7 2-5 2-12 2 15 3 3 2-18 2-7 2 12 2-18 3-11 2 28 2 18 2-23 2 5 3-1 2 1 2 0 2 15 2-47 3-8 2-4 2-32 2 22 3 6 2 5 2-29 2 10 2 15 3-10 2 14 2-30 2 36 2-5 3-5 2-6 2 23 2 9 2-4 3 7 2 3 2 17 2 15 2-19 3-4 2 14 2-14 2 28 2-44 3 3 2 19 2-26 2 17 2 30 3-15 2-6 2-1 2-3 2 21 3-6 2-30 2 1 2-10 3-25 2-29 2 31 2 8 2-39 3 23 2-8 2-9 2 5 2 28 3-39 2 40 2-9 2 8 2-35 3 49 2-1 2 7 2-11 2 35 3 13 2-17 2 0 2 17 2-1 3-15 2-18 2 14 2-3 2-1 3 7 2 9 2 16 2-5 2-6 3-12 2-3 2 18 2-41 3-18 2 12 2-20 2-7 2 14 3 1 2 10 2-35 2 24 2-21 3 22 2 5 2 2 2-1 2-29 3 7 2 6 2 30 2-7 2 7 3-7 2 44 2-7 2-5 2 22 3-10 2-8 2 5 2-34 2 18 3 2 2-11 2 4 2 24 2-1 3 3 2-11 2 14 2-12 2-9 3-27 2-7 2 10 2-25 3-7 2-7 2-17 2 22 2-17 3 44 2-48 2 29 2-19 2 8 3 17 2 10 2-1 2-19 2 28 3 2 2-4 2 23 2-26 2 38 3-6 2 7 2-1 2 4 2 12 3-16 2-18 2-2 2-10 2 16 3 21 2-14 2 7 2 13 2 4 3-2 2 0 2-37 2-1 3-23 2-25 2 19 2-23 2 18 3 10 2-27 2 3 2 9 2-4 3 23 2-41 2 35 2-14 2 7 3-22 2 65 2-7 2 7 2-6 3-15 2 41 2 8 2-3 2-16 3-2 2 8 2-27 2 19 2-19 3 5 2 19 2-4 2 6 2 15 3-11 2 13 2-22 2 3 3-44 2 15 2 2 2-48 2 26 3-31 2 15 2 6 2 19 2-19 3-13 2-1 2 24 2-7 2 7 3 0 2-37 2 4 2 58 2-11 3 14 2-13 2 2 2 39 2-2 3-1 2 16 2-26 2 6 2-6 3-24 2 18 2 10 2-27 2 31 3-1 2 7 2 13 2-2 3-17 2-8 2-21 2-8 2-8 3-8 2-5 2-22 2 23 2-17 3-9 2 16 2-15 2 42 2-12 3-10 2-11 2 20 2-32 2 23 3 46 2-5 2-11 2 17 2-16 3 41 2-8 2-4 2 13 2-4 3 9 2-27 2 0 2-12 2 21 3-10 2 10 2 13 2-2 2 0 3 7 2-11 2-12 2-29 3-3 2 14 2-28 2-17 2 19 3-28 2 40 2-25 2 9 2-22 3 0 2-8 2 0 2 2 2 31 3-5 2 4 2 36 2 3 2-15 3 11 2-13 2 33 2 5 2 4 3-6 2 14 2-11 2-22 2-7 3-9 2 7 2 16 2 20 2-11 3 0 2 5 2 2 2-12 3 14 2-58 2 12 2 4 2-34 3-11 2-10 2 34 2 8 2-19 3 10 2-29 2-5 2 1 2 8 3 9 2-17 2-2 2 21 2 29 3 23 2-6 2 7 2-25 2 46 3-3 2 6 2 2 2-15 2 14 3-26 2 2 2 9 2-16 2-4 3 37 2-21 2 26 2-16 3-8 2 5 2 1 2-42 2-7 3 8 2 2 2-3 2-1 2-25 3 0 2 20 2-39 2 9 2 0 3-5 2 2 2 39 2-23 2 7 3 5 2 39 2 1 2-27 2 26 3-18 2 32 2 19 2-7 2-1 3-14 2 2 2-7 2-5 2-7 3-9 2 4 2 38 2-16 3 3 2-9 2 13 2-11 2 3 3-24 2-9 2-1 2-6 2-23 3-18 2 37 2-32 2 23 2-13 3-6 2 18 2-4 2 21 2-9 3-7 2-7 2 10 2 15 2 13 3 8 2-21 2 25 2 17 2 14 3-25 2 5 2 4 2 9 2-41 3 8 2 17 2-20 2 11 3 17 2-4 2 15 2-18 2 0 3 24 2-18 2-39 2-11 2 17 3-17 2-31 2 20 2-4 2 10 3 7 2-29 2-5 2 17 2 24 3-21 2-27 2 22 2 1 2 10 3 38 2-3 2-3 2-16 2 15 3 21 2 21 2-24 2 21 2-16 3-7 2 3 2-25 2-2 3 26 2-7 2 19 2-1 2 8 3 2 2-9 2-3 2-12 2-20 3-3 2 0 2-4 2-30 2 21 3-35 2 7 2 2 2 16 2 13 3-4 2-3 2-30 2 38 2-6 3-3 2-24 2 34 2 23 2-6 3-3 2-11 2 37 2 11 2-17 3 18 2-2 2-8 2-7 2-22 3 19 2-22 2 20 2 21 3-12 2 18 2-10 2-12 2 7 3 15 2-42 2-13 2-10 2 11 3-34 2-10 2 15 2-6 2 2 3-6 2 0 2 28 2-18 2 23 3-17 2-21 2 6 2 6 2 56 3-14 2 6 2-17 2 3 2 51 3-1 2-1 2-2 2-12 2-1 3 5 2-8 2-16 2 0 3-10 2 26 2 5 2 5 2 0 3 11 2 0 2 1 2-55 2-10 3 7 2 9 2-19 2-16 2-15 3 17 2-5" fill="none" stroke="#ff0000" stroke-width="15" stroke-linejoin="round"/><path d="M409 1646l2 0 2 0 3 0 2 0 2 0 2 0 2 0 3-89 2 0 2 0 2 0 2 0 3 0 2 0 2 0 2 0 2 0 3 0 2 0 2 0 2 0 3 0 2 0 2 0 2 0 2 9 3 80 2 0 2 0 2 0 2 0 3 0 2 0 2 0 2 0 2 0 3 0 2 0 2 0 2 0 2 0 3 0 2 0 2 0 2 0 2 0 3 0 2 0 2-89 2 0 2 0 3 0 2 0 2 0 2 0 2 0 3 0 2 0 2 0 2 0 3 0 2 0 2 0 2 0 2 0 3 0 2 2 2 87 2 0 2 0 3 0 2 0 2 0 2 0 2 0 3 0 2 0 2 0 2 0 2 0 3 0 2 0 2 0 2 0 2 0 3 0 2 0 2 0 2 0 2-89 3 0 2 0 2 0 2 0 2 0 3 0 2 0 2 0 2 0 3 0 2 0 2 0 2 0 2 0 3 0 2 0 2 0 2 0 2 89 3 0 2 0 2 0 2 0 2 0 3 0 2 0 2 0 2 0 2 0 3 0 2 0 2 0 2 0 2 0 3 0 2 0 2 0 2 0 2 0 3 0 2-89 2 0 2 0 2 0 3 0 2 0 2 0 2 0 2 0 3 0 2 0 2 0 2 0 3 0 2 0 2 0 2 0 2 0 3 0 2 89 2 0 2 0 2 0 3 0 2 0 2 0 2 0 2 0 3 0 2 0 2 0 2 0 2 0 3 0 2 0 2 0 2 0 2 0 3 0 2 0 2 0 2-89 2 0 3 0 2 0 2 0 2 0 2 0 3 0 2 0 2 0 2 0 3 0 2 0 2 0 2 0 2 0 3 0 2 0 2 0 2 89 2 0 3 0 2 0 2 0 2 0 2 0 3 0 2 0 2 0 2 0 2 0 3 0 2 0 2 0 2 0 2 0 3 0 2 0 2 0 2 0 2 0 3-89 2 0 2 0 2 0 2 0 3 0 2 0 2 0 2 0 3 0 2 0 2 0 2 0 2 0 3 0 2 0 2 0 2 0 2 0 3 89 2 0 2 0 2 0 2 0 3 0 2 0 2 0 2 0 2 0 3 0 2 0 2 0 2 0 2 0 3 0 2 0 2 0 2 0 2 0 3 0 2 0 2-89 2 0 2 0 3 0 2 0 2 0 2 0 3 0 2 0 2 0 2 0 2 0 3 0 2 0 2 0 2 0 2 0 3 0 2 0 2 89 2 0 2 0 3 0 2 0 2 0 2 0 2 0 3 0 2 0 2 0 2 0 2 0 3 0 2 0 2 0 2 0 2 0 3 0 2 0 2 0 2 0 2-88 3-1 2 0 2 0 2 0 2 0 3 0 2 0 2 0 2 0 3 0 2 0 2 0 2 0 2 0 3 0 2 0 2 0 2 0 2 89 3 0 2 0 2 0 2 0 2 0 3 0 2 0 2 0 2 0 2 0 3 0 2 0 2 0 2 0 2 0 3 0 2 0 2 0 2 0 2 0 3 0 2-81 2-8 2 0 2 0 3 0 2 0 2 0 2 0 3 0 2 0 2 0 2 0 2 0 3 0 2 0 2 0 2 0 2 0 3 0 2 89 2 0 2 0 2 0 3 0 2 0 2 0 2 0 2 0 3 0 2 0 2 0 2 0 2 0 3 0 2 0 2 0 2 0 2 0 3 0 2 0 2 0 2-74 2-15 3 0 2 0 2 0 2 0 3 0 2 0 2 0 2 0 2 0 3 0 2 0 2 0 2 0 2 0 3 0 2 0 2 0 2 89 2 0 3 0 2 0 2 0 2 0 2 0 3 0 2 0 2 0 2 0 2 0 3 0 2 0 2 0 2 0 2 0 3 0 2 0 2 0 2 0 2 0 3-67 2-22 2 0 2 0 3 0 2 0 2 0 2 0 2 0 3 0 2 0 2 0 2 0 2 0 3 0 2 0 2 0 2 0 2 0 3 84 2 5 2 0 2 0 2 0 3 0 2 0 2 0 2 0 2 0 3 0 2 0 2 0 2 0 2 0 3 0 2 0 2 0 2 0 2 0 3 0 2 0 2-60 2-29 3 0 2 0 2 0 2 0 2 0 3 0 2 0 2 0 2 0 2 0 3 0 2 0 2 0 2 0 2 0 3 0 2 0 2 77 2 12 2 0 3 0 2 0 2 0 2 0 2 0 3 0 2 0 2 0 2 0 2 0 3 0 2 0 2 0 2 0 2 0 3 0 2 0 2 0 2 0 3-53 2-36 2 0 2 0 2 0 3 0 2 0 2 0 2 0 2 0 3 0 2 0 2 0 2 0 2 0 3 0 2 0 2 0 2 0 2 70 3 19 2 0 2 0 2 0 2 0 3 0 2 0 2 0 2 0 2 0 3 0 2 0 2 0 2 0 2 0 3 0 2 0 2 0 2 0 2 0 3 0 2-46 2-43 2 0 3 0 2 0 2 0 2 0 2 0 3 0 2 0 2 0 2 0 2 0 3 0 2 0 2 0 2 0 2 0 3 0 2 63 2 26 2 0 2 0 3 0 2 0 2 0 2 0 2 0 3 0 2 0 2 0 2 0 2 0 3 0 2 0 2 0 2 0 2 0 3 0 2 0 2 0 2-39 3-50 2 0 2 0 2 0 2 0 3 0 2 0 2 0 2 0 2 0 3 0 2 0 2 0 2 0 2 0 3 0 2 0 2 0 2 56 2 33 3 0 2 0 2 0 2 0 2 0 3 0 2 0 2 0 2 0 2 0 3 0 2 0 2 0 2 0 2 0 3 0 2 0 2 0 2 0 3 0 2-32 2-57 2 0 2 0 3 0 2 0 2 0 2 0 2 0 3 0 2 0 2 0 2 0 2 0 3 0 2 0 2 0 2 0 2 0 3 49 2 40 2 0 2 0 2 0 3 0 2 0 2 0 2 0 2 0 3 0 2 0 2 0 2 0 2 0 3 0 2 0 2 0 2 0 3 0 2 0 2 0 2-25 2-64 3 0 2 0 2 0 2 0 2 0 3 0 2 0 2 0 2 0 2 0 3 0 2 0 2 0 2 0 2 0 3 0 2 0 2 42 2 47 2 0 3 0 2 0 2 0 2 0 2 0 3 0 2 0 2 0 2 0 2 0 3 0 2 0 2 0 2 0 2 0 3 0 2 0 2 0 2 0 3-18 2-71 2 0 2 0 2 0 3 0 2 0 2 0 2 0 2 0 3 0 2 0 2 0 2 0 2 0 3 0 2 0 2 0 2 0 2 35 3 54 2 0 2 0 2 0 2 0 3 0 2 0 2 0 2 0 2 0 3 0 2 0 2 0 2 0 2 0 3 0 2 0 2 0 2 0 3 0 2 0 2-11 2-78 2 0 3 0 2 0 2 0 2 0 2 0 3 0 2 0 2 0 2 0 2 0 3 0 2 0 2 0 2 0 2 0 3 0 2 28 2 61 2 0 2 0 3 0 2 0 2 0 2 0 2 0 3 0 2 0 2 0 2 0 2 0 3 0 2 0 2 0 2 0 3 0 2 0 2 0 2 0 2-4 3-85 2 0 2 0 2 0 2 0 3 0 2 0 2 0 2 0 2 0 3 0 2 0 2 0 2 0 2 0 3 0 2 0 2 0 2 21 2 68 3 0 2 0 2 0 2 0 2 0 3 0 2 0 2 0 2 0 2 0 3 0 2 0 2 0 2 0 3 0 2 0 2 0 2 0 2 0 3 0 2 0 2-89 2 0 2 0 3 0 2 0 2 0 2 0 2 0 3 0 2 0 2 0 2 0 2 0 3 0 2 0 2 0 2 0 2 0 3 14 2 75 2 0 2 0 2 0 3 0 2 0 2 0 2 0 2 0 3 0 2 0 2 0 2 0 3 0 2 0 2 0 2 0 2 0 3 0 2 0 2 0 2 0 2-89 3 0 2 0 2 0 2 0 2 0 3 0 2 0 2 0 2 0 2 0 3 0 2 0 2 0 2 0 2 0 3 0 2 0 2 7 2 82 2 0 3 0 2 0 2 0 2 0 2 0 3 0 2 0 2 0 2 0 3 0 2 0 2 0 2 0 2 0 3 0 2 0 2 0 2 0 2 0 3 0 2-89 2 0 2 0 2 0 3 0 2 0 2 0 2 0 2 0 3 0 2 0 2 0 2 0 2 0 3 0 2 0 2 0 2 0 2 0 3 89 2 0 2 0 2 0 2 0 3 0 2 0 2 0 2 0 2 0 3 0 2 0 2 0 2 0 3 0 2 0 2 0 2 0 2 0 3 0 2 0 2 0 2-89 2 0 3 0 2 0 2 0 2 0 2 0 3 0 2 0 2 0 2 0 2 0 3 0 2 0 2 0 2 0 2 0 3 0 2 0 2 89 2 0 2 0 3 0 2 0 2 0 2 0 2 0 3 0 2 0 2 0 2 0 3 0 2 0 2 0 2 0 2 0 3 0 2 0 2 0 2 0 2 0 3-89 2 0 2 0 2 0 2 0 3 0 2 0" fill="none" stroke="#008000" stroke-width="13" stroke-linejoin="round"/></g></g><rect x="30.5" y="153.5" width="242.0" height="15.0" fill="none" stroke="#303030" stroke-width="1"/><line x1="27.70" x2="30.50" y1="155.5" y2="155.5" stroke="#262626" stroke-width="0.9"/><text x="25.90" y="157.80" class="tk" text-anchor="end">1</text><line x1="27.70" x2="30.50" y1="164.5" y2="164.5" stroke="#262626" stroke-width="0.9"/><text x="25.90" y="167.00" class="tk" text-anchor="end">0</text><line x1="40.5" x2="40.5" y1="168.5" y2="171.1" stroke="#262626" stroke-width="0.9"/><line x1="85.5" x2="85.5" y1="168.5" y2="171.1" stroke="#262626" stroke-width="0.9"/><line x1="129.5" x2="129.5" y1="168.5" y2="171.1" stroke="#262626" stroke-width="0.9"/><line x1="173.5" x2="173.5" y1="168.5" y2="171.1" stroke="#262626" stroke-width="0.9"/><line x1="217.5" x2="217.5" y1="168.5" y2="171.1" stroke="#262626" stroke-width="0.9"/><line x1="261.5" x2="261.5" y1="168.5" y2="171.1" stroke="#262626" stroke-width="0.9"/><line x1="30.30" x2="272.80" y1="182.40" y2="182.40" stroke="#d4d4d4" stroke-width="0.9"/><line x1="30.30" x2="272.80" y1="173.60" y2="173.60" stroke="#d4d4d4" stroke-width="0.9"/><g clip-path="url(#ra9)"><g transform="scale(0.1)"><path d="M409 1850l2-3 2-13 3-6 2 8 2-19 2-6 2-1 3 13 2 6 2 14 2-12 2-7 3 6 2-7 2 1 2 7 2-30 3 5 2-17 2-27 2 11 3 20 2 0 2-14 2-26 2 9 3-13 2 37 2-6 2 6 2-2 3-30 2-5 2 49 2 3 2 16 3-6 2-17 2 47 2 3 2 5 3-18 2 4 2-4 2-24 2 19 3-7 2-3 2 5 2 15 2 12 3-9 2 3 2-6 2 9 2-14 3-42 2 9 2-5 2-45 3 16 2 23 2 6 2-20 2-6 3 23 2 2 2-35 2 28 2-6 3-24 2 34 2-16 2 21 2 23 3-12 2 14 2-9 2 21 2 18 3-11 2-4 2 12 2-8 2-16 3-21 2 22 2-9 2-8 2 36 3-9 2-9 2 15 2 2 2-3 3 2 2-42 2-12 2 14 3-24 2 0 2-11 2-14 2 33 3-20 2-11 2 29 2 5 2-14 3-5 2-17 2 44 2-42 2 26 3 32 2-16 2 1 2 6 2 29 3 18 2-10 2 8 2 2 2-3 3-15 2-5 2 1 2-23 2-1 3-4 2 47 2-5 2-14 2-1 3 9 2-3 2 13 2-59 2 9 3-5 2-21 2 19 2-33 3 11 2 10 2-24 2 12 2-1 3 5 2-3 2 4 2 0 2-2 3-6 2 43 2 7 2-9 2-8 3 21 2 14 2-1 2 1 2 1 3 15 2-9 2-22 2-15 2 22 3 8 2-5 2 3 2 11 2 8 3-15 2 6 2-3 2-6 2-38 3 16 2-13 2-37 2 18 3 8 2-33 2 23 2-5 2 11 3 4 2-19 2 6 2 26 2-17 3-8 2-12 2 60 2-12 2-1 3-1 2 8 2 21 2 5 2 2 3 0 2-14 2 20 2-36 2 20 3-13 2-16 2 4 2 26 2 1 3-2 2 14 2-11 2-6 2 22 3-50 2-5 2 9 2-41 3 16 2 14 2-14 2-18 2 7 3 20 2-9 2-23 2 18 2 4 3-3 2-6 2 24 2 15 2 0 3 11 2-3 2-15 2 48 2-18 3-5 2 16 2-10 2-9 2 4 3-13 2 4 2-13 2 10 2 15 3 11 2-6 2-2 2-3 2 6 3 2 2-42 2 9 2-12 3 12 2-48 2 10 2 24 2-11 3 13 2-12 2 1 2 1 2-7 3-18 2 35 2-7 2-18 2 17 3 33 2 1 2-14 2 4 2 3 3 26 2-3 2 10 2-7 2 5 3 0 2-32 2 2 2 8 2-4 3-7 2 28 2 5 2-4 2 10 3-23 2 6 2 9 2-30 2-20 3 11 2-53 2 22 2 22 3-38 2-2 2 18 2 19 2-5 3 4 2-32 2 15 2 6 2-29 3 37 2 9 2 7 2 6 2 11 3-18 2 36 2 8 2-20 2 15 3-14 2 25 2-28 2 2 2-11 3 10 2-16 2 38 2-23 2 21 3 3 2-17 2-5 2 0 2-14 3-22 2 13 2-12 2-12 3 16 2-3 2-14 2-5 2-21 3 13 2 30 2-17 2-19 2 12 3 13 2-1 2 29 2 8 2-9 3 10 2-15 2 22 2 8 2 6 3-1 2-1 2-6 2-3 2-3 3-16 2 10 2 6 2 4 2 7 3 5 2 0 2-1 2-12 2 6 3-49 2 18 2-1 2-4 3-41 2-1 2 11 2 2 2 25 3-7 2-23 2 5 2-17 2 8 3 18 2-24 2 9 2 27 2 18 3-8 2 15 2-11 2 13 2 29 3-10 2-7 2-3 2 19 2-21 3 3 2-10 2-8 2 8 2 3 3 10 2 11 2-13 2-5 2 21 3-6 2 8 2-38 2-10 3-3 2-40 2 2 2 16 2 3 3-14 2-2 2-6 2-4 2 5 3-7 2 11 2 21 2-4 2 2 3 31 2-14 2 8 2-7 2 9 3 42 2-21 2 8 2-6 2 19 3-3 2-16 2-17 2 5 2 5 3-11 2 17 2-3 2 19 2 1 3-21 2 19 2-21 2-11 3-11 2 3 2-47 2 23 2-29 3 18 2-6 2 4 2 19 2-33 3 21 2-20 2-4 2 12 2 27 3-16 2 42 2 3 2-7 2-16 3 10 2 39 2-15 2 5 2 7 3-7 2 5 2-14 2-6 2 9 3-24 2 19 2-18 2 43 2-15 3 2 2 15 2-23 2 5 3-35 2 3 2 11 2-13 2-39 3 23 2 11 2-15 2 0 2 7 3-8 2-13 2 26 2-25 2-9 3 30 2-21 2 0 2 54 2-18 3 0 2 3 2 15 2 20 2-7 3-7 2-1 2 20 2-8 2-16 3 8 2-4 2-11 2-10 2 22 3 5 2 6 2 12 2-2 2 1 3 2 2-58 2 6 2 3 3-15 2 1 2-9 2 2 2 15 3-30 2 19 2-21 2 26 2-35 3 7 2 8 2 23 2-26 2 33 3 14 2 7 2-22 2 21 2 12 3 7 2-4 2-4 2 12 2-3 3-16 2-7 2 16 2-5 2-10 3 33 2-25 2 4 2 23 2-4 3-8 2 0 2-34 2-16 3-1 2-6 2-30 2 33 2 9 3-15 2-24 2 22 2-8 2-4 3 15 2-28 2 4 2 2 2 14 3 46 2-7 2-4 2-2 2-9 3 53 2-4 2-5 2 6 2-7 3 3 2-12 2-9 2-14 2 21 3-19 2 17 2 12 2 7 2-9 3 12 2-14 2 9 2-37 3-16 2 7 2 3 2-15 2-21 3 0 2 15 2-6 2-2 2-4 3 8 2-5 2 4 2 14 2-6 3-15 2 17 2 19 2-3 2-5 3 21 2 9 2 25 2-3 2-13 3-5 2 15 2 0 2-43 2 16 3-9 2 5 2 8 2 19 2-7 3 1 2 10 2-18 2 13 3 5 2-52 2 12 2-16 2-24 3 15 2-13 2 17 2-20 2 3 3 23 2 0 2 2 2-35 2-2 3 1 2 34 2-24 2 52 2-9 3 8 2-3 2 3 2 14 2-5 3 8 2-7 2 5 2 16 2-36 3 10 2 8 2 1 2-11 2 8 3 0 2 14 2-16 2 6 2 17 3-6 2-34 2-18 2-4 3-33 2 25 2 16 2-18 2-19 3 11 2-14 2 26 2 5 2-10 3-16 2 26 2 1 2-22 2 52 3-11 2-9 2-1 2 12 2 41 3-6 2-11 2 17 2-9 2 1 3 1 2-33 2 10 2-6 2-10 3 29 2-3 2 4 2 17 2-5 3-14 2 4 2-37 2-2 3-7 2-26 2-3 2 6 2-15 3 27 2 9 2-6 2-23 2-5 3 15 2 19 2-23 2 30 2-44 3 4 2 61 2 1 2-3 2 2 3 30 2 6 2-16 2-6 2-4 3 27 2-25 2 5 2-9 2-3 3 3 2-19 2 36 2 4 2 1 3 3 2-7 2 5 2-18 3-26 2-15 2 25 2-19 2-6 3-31 2 34 2-39 2 9 2 23 3-4 2-12 2 11 2-20 2 35 3-39 2 20 2 32 2 14 2-7 3 8 2-20 2 50 2-15 2 13 3 0 2-16 2 0 2-10 2 5 3 1 2-26 2 7 2 36 2-19 3 14 2 11 2-15 2 13 3-21 2-41 2 17 2-9 2-40 3 22 2-18 2 25 2-23 2 1 3 22 2-10 2-17 2 8 2 0 3-3 2-5 2 36 2 14 2-10 3 3 2 1 2 4 2 21 2 18 3-15 2 22 2-6 2-18 2 24 3-35 2-2 2-10 2 11 2 12 3-1 2 21 2-2 2 0 3-1 2 4 2-40 2-10 2 14 3-31 2-25 2 26 2-23 2-6 3 33 2-4 2-4 2-13 2-7 3 18 2-18 2 21 2 8 2-35 3 54 2-3 2 12 2-12 2 35 3-6 2 1 2 3 2-1 2 13 3-10 2-34 2 22 2-20 2 6 3 2 2 28 2-14 2 13 3-5 2 0 2-8 2 6 2-40 3 16 2-13 2-39 2-6 2 11 3 9 2-5 2-13 2 34 2 7 3-5 2-37 2 36 2-37 2 4 3 22 2 26 2-6 2-1 2 18 3 0 2 30 2-16 2-1 2 5 3 6 2-7 2-8 2-22 2 2 3 21 2 6 2 3 2 0 2 6 3-10 2-6 2 8 2 1 3-28 2 7 2-14 2-38 2 11 3 23 2-18 2-22 2 4 2 24 3 5 2-21 2 16 2-9 2 3 3-9 2 9 2 22 2 11 2 10 3-3 2-15 2 28 2 2 2 17 3 0 2-3 2 5 2-27 2-4 3-3 2 3 2 3 2 4 2 17 3-7 2-6 2 13 2-11 3 9 2-43 2 3 2 2 2-31 3-23 2 40 2-26 2 0 2 15 3-18 2 26 2-27 2 4 2 20 3 2 2-21" fill="none" stroke="#ff0000" stroke-width="15" stroke-linejoin="round"/><path d="M409 1824l2 0 2 0 3 0 2 0 2 0 2 0 2 0 3 0 2 0 2 0 2 0 2 0 3 0 2 0 2 0 2 0 2 0 3-85 2 0 2 0 2 0 3 0 2 0 2 0 2 0 2 0 3 0 2 0 2 0 2 0 2 0 3 0 2 0 2 0 2 0 2 27 3 58 2 0 2 0 2 0 2 0 3 0 2 0 2 0 2 0 2 0 3 0 2 0 2 0 2 0 2 0 3 0 2 0 2 0 2 0 2 0 3 0 2-60 2-25 2 0 3 0 2 0 2 0 2 0 2 0 3 0 2 0 2 0 2 0 2 0 3 0 2 0 2 0 2 0 2 0 3 0 2 85 2 0 2 0 2 0 3 0 2 0 2 0 2 0 2 0 3 0 2 0 2 0 2 0 2 0 3 0 2 0 2 0 2 0 2 0 3 0 2 0 2-15 2-70 3 0 2 0 2 0 2 0 2 0 3 0 2 0 2 0 2 0 2 0 3 0 2 0 2 0 2 0 2 0 3 0 2 0 2 79 2 6 2 0 3 0 2 0 2 0 2 0 2 0 3 0 2 0 2 0 2 0 2 0 3 0 2 0 2 0 2 0 2 0 3 0 2 0 2 0 2 0 2-85 3 0 2 0 2 0 2 0 3 0 2 0 2 0 2 0 2 0 3 0 2 0 2 0 2 0 2 0 3 0 2 0 2 0 2 34 2 51 3 0 2 0 2 0 2 0 2 0 3 0 2 0 2 0 2 0 2 0 3 0 2 0 2 0 2 0 2 0 3 0 2 0 2 0 2 0 2 0 3-66 2-19 2 0 2 0 3 0 2 0 2 0 2 0 2 0 3 0 2 0 2 0 2 0 2 0 3 0 2 0 2 0 2 0 2 0 3 85 2 0 2 0 2 0 2 0 3 0 2 0 2 0 2 0 2 0 3 0 2 0 2 0 2 0 2 0 3 0 2 0 2 0 2 0 2 0 3 0 2-21 2-64 2 0 3 0 2 0 2 0 2 0 2 0 3 0 2 0 2 0 2 0 2 0 3 0 2 0 2 0 2 0 2 0 3 0 2 85 2 0 2 0 2 0 3 0 2 0 2 0 2 0 2 0 3 0 2 0 2 0 2 0 2 0 3 0 2 0 2 0 2 0 2 0 3 0 2 0 2 0 2-85 3 0 2 0 2 0 2 0 2 0 3 0 2 0 2 0 2 0 2 0 3 0 2 0 2 0 2 0 2 0 3 0 2 0 2 40 2 45 2 0 3 0 2 0 2 0 2 0 2 0 3 0 2 0 2 0 2 0 2 0 3 0 2 0 2 0 2 0 2 0 3 0 2 0 2 0 2 0 2-73 3-12 2 0 2 0 2 0 3 0 2 0 2 0 2 0 2 0 3 0 2 0 2 0 2 0 2 0 3 0 2 0 2 0 2 0 2 85 3 0 2 0 2 0 2 0 2 0 3 0 2 0 2 0 2 0 2 0 3 0 2 0 2 0 2 0 2 0 3 0 2 0 2 0 2 0 2 0 3-28 2-57 2 0 2 0 3 0 2 0 2 0 2 0 2 0 3 0 2 0 2 0 2 0 2 0 3 0 2 0 2 0 2 0 2 0 3 85 2 0 2 0 2 0 2 0 3 0 2 0 2 0 2 0 2 0 3 0 2 0 2 0 2 0 2 0 3 0 2 0 2 0 2 0 2 0 3 0 2 0 2-85 2 0 3 0 2 0 2 0 2 0 2 0 3 0 2 0 2 0 2 0 2 0 3 0 2 0 2 0 2 0 2 0 3 0 2 47 2 38 2 0 2 0 3 0 2 0 2 0 2 0 2 0 3 0 2 0 2 0 2 0 2 0 3 0 2 0 2 0 2 0 2 0 3 0 2 0 2 0 2-79 3-6 2 0 2 0 2 0 2 0 3 0 2 0 2 0 2 0 2 0 3 0 2 0 2 0 2 0 2 0 3 0 2 0 2 2 2 83 2 0 3 0 2 0 2 0 2 0 2 0 3 0 2 0 2 0 2 0 2 0 3 0 2 0 2 0 2 0 2 0 3 0 2 0 2 0 2 0 3-34 2-51 2 0 2 0 2 0 3 0 2 0 2 0 2 0 2 0 3 0 2 0 2 0 2 0 2 0 3 0 2 0 2 0 2 0 2 85 3 0 2 0 2 0 2 0 2 0 3 0 2 0 2 0 2 0 2 0 3 0 2 0 2 0 2 0 2 0 3 0 2 0 2 0 2 0 3 0 2 0 2-85 2 0 2 0 3 0 2 0 2 0 2 0 2 0 3 0 2 0 2 0 2 0 2 0 3 0 2 0 2 0 2 0 2 0 3 53 2 32 2 0 2 0 2 0 3 0 2 0 2 0 2 0 2 0 3 0 2 0 2 0 2 0 2 0 3 0 2 0 2 0 2 0 2 0 3 0 2 0 2-85 2 0 3 0 2 0 2 0 2 0 2 0 3 0 2 0 2 0 2 0 2 0 3 0 2 0 2 0 2 0 2 0 3 0 2 8 2 77 2 0 2 0 3 0 2 0 2 0 2 0 2 0 3 0 2 0 2 0 2 0 2 0 3 0 2 0 2 0 2 0 2 0 3 0 2 0 2 0 2-41 3-44 2 0 2 0 2 0 2 0 3 0 2 0 2 0 2 0 2 0 3 0 2 0 2 0 2 0 2 0 3 0 2 0 2 0 2 85 2 0 3 0 2 0 2 0 2 0 2 0 3 0 2 0 2 0 2 0 2 0 3 0 2 0 2 0 2 0 2 0 3 0 2 0 2 0 2 0 3 0 2-85 2 0 2 0 2 0 3 0 2 0 2 0 2 0 2 0 3 0 2 0 2 0 2 0 2 0 3 0 2 0 2 0 2 0 2 60 3 25 2 0 2 0 2 0 2 0 3 0 2 0 2 0 2 0 2 0 3 0 2 0 2 0 2 0 2 0 3 0 2 0 2 0 2 0 3 0 2 0 2-85 2 0 2 0 3 0 2 0 2 0 2 0 2 0 3 0 2 0 2 0 2 0 2 0 3 0 2 0 2 0 2 0 2 0 3 15 2 70 2 0 2 0 2 0 3 0 2 0 2 0 2 0 2 0 3 0 2 0 2 0 2 0 2 0 3 0 2 0 2 0 2 0 2 0 3 0 2 0 2-47 2-38 3 0 2 0 2 0 2 0 2 0 3 0 2 0 2 0 2 0 2 0 3 0 2 0 2 0 2 0 2 0 3 0 2 0 2 85 2 0 2 0 3 0 2 0 2 0 2 0 2 0 3 0 2 0 2 0 2 0 2 0 3 0 2 0 2 0 2 0 2 0 3 0 2 0 2 0 2-3 3-82 2 0 2 0 2 0 2 0 3 0 2 0 2 0 2 0 2 0 3 0 2 0 2 0 2 0 2 0 3 0 2 0 2 0 2 66 2 19 3 0 2 0 2 0 2 0 2 0 3 0 2 0 2 0 2 0 2 0 3 0 2 0 2 0 2 0 2 0 3 0 2 0 2 0 2 0 3 0 2-85 2 0 2 0 2 0 3 0 2 0 2 0 2 0 2 0 3 0 2 0 2 0 2 0 2 0 3 0 2 0 2 0 2 0 2 21 3 64 2 0 2 0 2 0 2 0 3 0 2 0 2 0 2 0 2 0 3 0 2 0 2 0 2 0 2 0 3 0 2 0 2 0 2 0 3 0 2 0 2-54 2-31 2 0 3 0 2 0 2 0 2 0 2 0 3 0 2 0 2 0 2 0 2 0 3 0 2 0 2 0 2 0 2 0 3 0 2 85 2 0 2 0 2 0 3 0 2 0 2 0 2 0 2 0 3 0 2 0 2 0 2 0 2 0 3 0 2 0 2 0 2 0 3 0 2 0 2 0 2-9 2-76 3 0 2 0 2 0 2 0 2 0 3 0 2 0 2 0 2 0 2 0 3 0 2 0 2 0 2 0 2 0 3 0 2 0 2 73 2 12 2 0 3 0 2 0 2 0 2 0 2 0 3 0 2 0 2 0 2 0 2 0 3 0 2 0 2 0 2 0 3 0 2 0 2 0 2 0 2 0 3-85 2 0 2 0 2 0 2 0 3 0 2 0 2 0 2 0 2 0 3 0 2 0 2 0 2 0 2 0 3 0 2 0 2 0 2 28 2 57 3 0 2 0 2 0 2 0 2 0 3 0 2 0 2 0 2 0 2 0 3 0 2 0 2 0 2 0 2 0 3 0 2 0 2 0 2 0 3 0 2-60 2-25 2 0 2 0 3 0 2 0 2 0 2 0 2 0 3 0 2 0 2 0 2 0 2 0 3 0 2 0 2 0 2 0 2 0 3 85 2 0 2 0 2 0 2 0 3 0 2 0 2 0 2 0 2 0 3 0 2 0 2 0 2 0 2 0 3 0 2 0 2 0 2 0 3 0 2 0 2-15 2-70 2 0 3 0 2 0 2 0 2 0 2 0 3 0 2 0 2 0 2 0 2 0 3 0 2 0" fill="none" stroke="#008000" stroke-width="13" stroke-linejoin="round"/></g></g><rect x="30.5" y="171.5" width="242.0" height="15.0" fill="none" stroke="#303030" stroke-width="1"/><line x1="27.70" x2="30.50" y1="173.5" y2="173.5" stroke="#262626" stroke-width="0.9"/><text x="25.90" y="176.00" class="tk" text-anchor="end">1</text><line x1="27.70" x2="30.50" y1="182.5" y2="182.5" stroke="#262626" stroke-width="0.9"/><text x="25.90" y="184.80" class="tk" text-anchor="end">0</text><line x1="40.5" x2="40.5" y1="186.5" y2="189.1" stroke="#262626" stroke-width="0.9"/><line x1="85.5" x2="85.5" y1="186.5" y2="189.1" stroke="#262626" stroke-width="0.9"/><line x1="129.5" x2="129.5" y1="186.5" y2="189.1" stroke="#262626" stroke-width="0.9"/><line x1="173.5" x2="173.5" y1="186.5" y2="189.1" stroke="#262626" stroke-width="0.9"/><line x1="217.5" x2="217.5" y1="186.5" y2="189.1" stroke="#262626" stroke-width="0.9"/><line x1="261.5" x2="261.5" y1="186.5" y2="189.1" stroke="#262626" stroke-width="0.9"/><text x="40.90" y="196.70" class="tk" text-anchor="middle">0</text><text x="85.00" y="196.70" class="tk" text-anchor="middle">200</text><text x="129.10" y="196.70" class="tk" text-anchor="middle">400</text><text x="173.20" y="196.70" class="tk" text-anchor="middle">600</text><text x="217.30" y="196.70" class="tk" text-anchor="middle">800</text><text x="261.40" y="196.70" class="tk" text-anchor="middle">1000</text></g>
<g><g clip-path="url(#rb0)"><g transform="scale(0.1)"><path d="M3113 138l2 7 2 5 3-28 2 15 2 1 2 3 2 36 3-37 2 36 2-28 2 41 2-26 3 18 2-19 2 10 2 22 2 16 3 2 2-40 2 11 2 5 3-12 2 14 2-10 2 8 2-46 3-5 2 19 2-15 2-7 2 5 3-15 2 26 2-3 2-1 2-27 3 3 2-32 2 18 2-6 2-3 3 8 2 24 2 0 2 30 2-5 3-29 2 33 2 3 2-28 2 47 3 2 2-35 2 50 2-14 2-16 3 5 2 9 2 14 2 7 3-7 2-26 2 2 2 4 2-17 3 19 2-14 2 9 2 3 2-20 3 8 2-30 2 15 2 4 2-10 3-4 2-25 2 3 2 16 2-15 3-5 2 32 2-12 2 2 2 21 3-19 2-7 2 32 2 16 2-40 3 17 2 13 2-14 2 15 2 28 3-25 2 31 2 0 2-13 3-4 2-3 2 27 2-5 2-31 3-21 2 35 2 0 2-36 2 20 3-38 2 25 2 15 2-11 2-33 3 13 2-1 2-29 2 29 2-20 3-28 2 26 2 10 2 7 2-16 3 23 2-25 2 17 2-5 2 14 3-5 2 2 2 24 2 15 2-32 3 21 2-12 2 25 2-17 2 16 3-10 2 21 2 14 2-7 3-6 2 6 2-50 2 12 2 19 3-4 2-45 2 3 2 23 2-6 3-11 2-33 2 10 2-8 2-15 3 31 2-4 2-33 2 37 2-20 3 1 2 37 2-2 2-27 2 34 3 9 2-18 2 10 2-19 2 17 3-2 2 6 2 24 2-6 2 20 3 5 2 3 2 5 2 16 3-6 2-27 2 16 2-29 2-1 3 3 2 4 2-20 2 2 2 10 3-6 2-34 2 4 2-25 2 0 3 23 2-2 2-36 2-5 2 3 3 16 2-4 2-1 2 30 2-3 3 21 2-10 2-25 2 17 2 15 3 19 2 2 2-24 2-4 2 32 3-14 2 22 2-10 2 35 3-26 2 24 2-28 2 29 2-35 3 26 2 1 2-39 2 10 2-13 3 20 2-21 2-18 2 8 2-25 3 27 2-37 2-3 2 16 2-18 3 6 2 0 2 5 2 8 2-28 3 17 2 11 2-7 2 26 2-2 3 1 2-2 2 2 2 6 2-7 3 5 2 34 2-6 2-10 3 27 2 6 2 17 2-15 2-7 3 11 2 3 2-32 2 9 2-14 3 1 2-8 2 14 2-40 2 5 3 26 2-46 2 15 2-13 2-7 3 22 2-6 2-14 2 8 2-4 3 19 2-18 2-2 2 5 2 6 3-3 2 1 2-3 2 2 2 6 3 8 2 29 2-6 2 13 3 1 2-4 2 8 2 8 2 13 3 4 2-1 2-5 2 2 2-3 3 4 2-27 2-10 2 12 2-42 3 33 2-36 2-9 2 0 2 17 3-22 2 11 2-19 2-9 2 21 3-4 2 13 2-30 2 33 2 5 3-21 2 4 2-8 2 10 2 11 3-4 2 39 2-15 2-1 2-2 3 35 2-24 2 1 2 9 3 18 2 16 2-29 2 16 2-19 3-2 2 14 2 10 2-17 2-4 3-18 2-12 2 29 2-25 2-24 3 33 2-16 2-35 2-4 2 31 3-30 2 22 2-11 2 7 2 14 3-23 2 5 2 9 2-3 2 9 3 26 2-11 2 2 2-17 2-2 3 47 2-3 2-12 2 5 3 27 2-3 2 1 2-24 2 29 3-26 2-1 2 1 2 21 2-4 3-30 2 16 2-18 2 8 2-36 3 31 2 11 2-37 2 20 2-17 3 17 2-19 2-22 2 7 2-12 3 31 2-3 2-5 2 13 2-21 3 11 2-17 2 25 2 16 2-27 3 39 2 1 2-16 2 26 3 3 2-5 2-10 2 29 2 12 3 6 2-35 2 3 2-23 2 27 3-19 2 11 2 15 2-45 2-11 3 12 2-9 2 28 2-38 2-12 3 18 2 0 2 9 2-22 2-3 3 6 2-32 2 27 2 7 2 11 3-24 2 4 2 20 2-8 2 14 3 8 2 7 2-1 2 17 3-13 2-9 2-13 2 22 2 25 3-23 2 40 2-7 2 3 2-27 3-4 2 30 2-31 2-6 2-9 3-1 2 9 2-25 2 11 2 1 3-1 2-19 2 4 2 4 2-11 3 18 2-47 2 2 2 20 2-4 3-10 2 22 2-17 2 3 2 10 3 32 2-21 2 11 2-1 3 10 2 6 2 1 2 1 2-2 3-3 2 0 2 25 2 2 2 12 3-5 2 9 2-15 2-28 2 11 3-10 2 30 2-22 2-29 2 15 3 0 2-22 2 15 2 13 2-46 3 36 2-12 2-21 2 15 2-32 3 4 2 29 2-40 2 38 2-2 3-13 2 9 2 11 2 19 2 4 3-2 2 16 2 0 2 1 3 3 2 7 2 11 2-31 2-5 3 3 2 40 2 0 2-9 2 15 3-48 2 9 2-20 2-9 2 3 3-3 2 18 2-1 2-39 2 16 3 0 2 4 2-12 2-4 2 1 3 3 2-12 2-36 2 3 2 24 3-4 2 36 2-27 2 35 2-10 3 6 2 3 2 19 2-27 3 21 2-14 2-5 2 25 2 2 3-4 2 19 2 6 2-21 2 31 3-11 2-11 2 21 2-1 2-13 3-29 2-16 2 25 2-14 2 16 3-2 2-39 2 14 2 9 2-42 3 36 2-14 2-14 2-26 2 1 3-7 2 49 2-7 2-11 2 36 3-1 2 1 2-32 2 29 3 10 2 15 2 8 2-21 2 19 3-9 2 12 2-15 2 4 2 8 3 21 2-27 2 7 2-16 2 20 3 3 2-33 2 3 2 23 2-14 3-23 2-12 2 31 2-38 2 34 3-7 2-23 2 9 2-20 2 6 3 8 2-40 2 17 2 32 2-10 3-22 2 32 2 12 2-1 3 2 2-23 2 23 2-10 2 39 3-9 2 13 2-2 2 3 2-27 3 43 2-7 2 11 2-11 2-22 3 7 2 18 2-10 2-8 2-24 3 8 2 13 2-14 2-14 2 12 3-34 2-4 2 14 2 11 2-25 3 27 2-36 2 33 2-12 2-28 3-7 2 7 2 24 2 17 2-21 3 25 2-32 2 29 2 9 3-27 2 28 2 26 2-12 2-10 3 36 2-38 2 11 2 2 2 27 3-17 2 5 2 8 2-3 2-4 3-14 2-4 2-2 2 13 2 1 3-17 2-11 2 9 2-28 2-7 3-11 2 0 2 26 2-35 2 7 3 6 2-16 2 3 2 33 2-27 3 24 2-14 2 2 2 15 3 12 2 13 2-32 2 40 2-1 3-12 2 21 2 2 2 17 2-5 3-31 2-1 2 28 2-4 2 8 3-20 2-3 2 11 2-27 2 0 3 4 2 7 2-18 2-14 2 4 3-8 2-17 2 29 2-38 2 38 3-47 2-3 2 4 2-14 2 39 3 12 2-33 2 5 2 40 3-9 2 20 2-32 2 4 2 31 3 6 2 17 2-28 2 2 2 22 3 14 2-18 2 7 2 26 2 0 3-23 2-5 2-1 2-21 2 26 3 3 2-11 2-1 2-24 2-8 3-21 2 18 2 10 2-26 2 19 3-21 2 12 2-23 2-16 2-15 3 36 2 1 2-25 2 29 3 17 2-25 2 34 2 13 2-27 3 13 2 10 2 15 2-33 2 29 3-14 2 8 2 15 2-9 2 25 3 19 2-8 2-38 2 13 2-11 3-11 2 29 2 5 2-32 2-2 3-17 2 12 2 17 2-34 2 19 3 7 2-12 2-1 2-29 2-4 3 12 2-6 2 13 2-7 3 18 2-33 2 38 2-13 2-17 3 36 2-21 2 18 2 25 2-14 3 4 2-6 2-6 2 34 2-17 3-13 2 11 2 17 2 9 2-17 3 6 2-16 2 22 2-41 2 18 3 12 2-19 2 7 2-38 2 32 3-23 2 11 2-1 2-16 2-23 3 4 2-3 2-24 2 41 3-28 2 34 2-4 2-8 2-7 3 8 2 36 2-18 2-6 2 19 3 6 2-10 2 3 2-9 2 35 3 17 2-38 2 27 2 21 2-12 3 8 2-30 2 0 2 24 2-6 3-29 2 20 2-37 2 15 2-21 3 26 2-25 2-22 2 0 2-11 3 23 2-4 2-33 2 14 2-18 3 15 2 5 2 14 2-14 3 19 2-27 2 2 2 17 2-1 3 15 2 22 2 5 2-14 2-4 3 3 2 20 2-7 2 4 2 26 3-20 2 37 2-29 2 28 2-41 3 37 2 0 2-49 2 28 2-24 3 13 2-13 2 12 2-26 2-1 3-1 2-22 2 2 2 20 2-11 3-38 2 37 2-29 2-9 3 3 2 41 2-11 2 7 2 11 3-6 2 15 2 6 2-2 2-29 3 14 2 21 2-10 2 46 2-34 3 11 2 11" fill="none" stroke="#ff0000" stroke-width="16" stroke-linejoin="round"/><path d="M3113 102l2 2 2 4 3 8 2 3 2 4 2 2 2 5 3 3 2 3 2 3 2 6 2 3 3 4 2 0 2 7 2 5 2 6 3 1 2-5 2-4 2-3 3-2 2-6 2-4 2-7 2-2 3-4 2-5 2-4 2-5 2-2 3-5 2-6 2-6 2-2 2-4 3-6 2-4 2 1 2 6 2 3 3 3 2 4 2 7 2 4 2 3 3 6 2 3 2 4 2 1 2 5 3 7 2 4 2 3 2 2 2 6 3 6 2 4 2 2 2-2 3-1 2-3 2-8 2-3 2-4 3-2 2-5 2-3 2-6 2-3 3-5 2-3 2-5 2-4 2-3 3-7 2-3 2-4 2-2 2 1 3 6 2 3 2 4 2 2 2 4 3 5 2 5 2 5 2 3 2 2 3 3 2 5 2 2 2 4 2 2 3 8 2 4 2 6 2 3 3 3 2-5 2-4 2-4 2-6 3-2 2-6 2-3 2-6 2-2 3-2 2-3 2-2 2-5 2-7 3-8 2-6 2-1 2-3 2-1 3-6 2 2 2 6 2 4 2 2 3 3 2 7 2 5 2 4 2 2 3 4 2 3 2 6 2 4 2 4 3 2 2 4 2 2 2 3 2 4 3 8 2 4 2-7 2-7 3-5 2-2 2-6 2-6 2-6 3-2 2-4 2-6 2-4 2-5 3 0 2-8 2-5 2-8 2-1 3-3 2-5 2-6 2 0 2 6 3 5 2 6 2 5 2 5 2 7 3 2 2 4 2 1 2 6 2 7 3 5 2 3 2 4 2 7 2 4 3 4 2 3 2 8 2 3 3-4 2-8 2-5 2-2 2-1 3-5 2-8 2-4 2-4 2-6 3-7 2-3 2-4 2-6 2-5 3-2 2-5 2-7 2-5 2-3 3 1 2 4 2 3 2 6 2 6 3 6 2 4 2 3 2 5 2 6 3 3 2 3 2 4 2 7 2 7 3 5 2 7 2 1 2 3 3 1 2 5 2-3 2-2 2-4 3-4 2-6 2-9 2-5 2-4 3 0 2-4 2-5 2-7 2-5 3-2 2-5 2-5 2-8 2-3 3-5 2 0 2 3 2 5 2 2 3 4 2 7 2 4 2 4 2 1 3 4 2 4 2 7 2 7 2 2 3 5 2 4 2 7 2 5 3 6 2 3 2 5 2 1 2-3 3-4 2-2 2-7 2-5 2-6 3-4 2-6 2-4 2-3 2-2 3-6 2-4 2-4 2-2 2-6 3-8 2-5 2-4 2-2 2 2 3 6 2 3 2 2 2 5 2 5 3 6 2 5 2 0 2 2 2 2 3 5 2 5 2 5 2 5 3 4 2 7 2 3 2 5 2 3 3 4 2-4 2-6 2-2 2 0 3-1 2-5 2-7 2-8 2-3 3-4 2 0 2-6 2-5 2-6 3-3 2-1 2-1 2-5 2-4 3-7 2 1 2 0 2 7 2 4 3 3 2 3 2 4 2 5 2 2 3 6 2 7 2 6 2 4 2 3 3 5 2 4 2 2 2 3 3 4 2 5 2 3 2-4 2-7 3-2 2-4 2-4 2-4 2-2 3-3 2-3 2-6 2-1 2-7 3-6 2-6 2-4 2-4 2-4 3-3 2-3 2-5 2-1 2 4 3 4 2 5 2 2 2 4 2 5 3 5 2 5 2 2 2 5 2 4 3 5 2 3 2 5 2 5 3 5 2 2 2 2 2 3 2 3 3-3 2-3 2-3 2-2 2-5 3-2 2-4 2-6 2-4 2-3 3-2 2-2 2-5 2-5 2-5 3-2 2-4 2-3 2-4 2-1 3-3 2 3 2 3 2 5 2 4 3 0 2 3 2 6 2 6 2 3 3 2 2 7 2 7 2 1 3 1 2 3 2 9 2 6 2 3 3 4 2 1 2-6 2-7 2-5 3 1 2 0 2-4 2-9 2-4 3-3 2-2 2-6 2-5 2-4 3-1 2-5 2-4 2-4 2-1 3-6 2-3 2-1 2 7 2 3 3 4 2 1 2 2 2 5 2 4 3 6 2 2 2 4 2 2 3 5 2 5 2 1 2 3 2 5 3 7 2 6 2 5 2 3 2-4 3-4 2-5 2-6 2-5 2-4 3-5 2-3 2-4 2-1 2-4 3-3 2-7 2-4 2-3 2-4 3-3 2-7 2-3 2-5 2 1 3 6 2 6 2 5 2 5 2 1 3 4 2 2 2 6 2 6 3 2 2 2 2 3 2 7 2 3 3 2 2 3 2 5 2 5 2 5 3 1 2-5 2-6 2 1 2-4 3-3 2-7 2-4 2-2 2-4 3-3 2-5 2-4 2-4 2-6 3-4 2-3 2-2 2-3 2-5 3-4 2-2 2 5 2 5 2 6 3 5 2 5 2 5 2 1 2 3 3 2 2 7 2 1 2 4 3 4 2 6 2 6 2 4 2 0 3 0 2 5 2 5 2-1 2-6 3-6 2-8 2-6 2 0 2-3 3-3 2-10 2-5 2-8 2-3 3-4 2-3 2-6 2-5 2-6 3-3 2-4 2-5 2 3 2 3 3 7 2 6 2 4 2 2 2 2 3 9 2 7 2 4 2 5 3 0 2 6 2 4 2 7 2 2 3 3 2 6 2 4 2 6 2 5 3-3 2-5 2-5 2-6 2-5 3-5 2-3 2-3 2-2 2-5 3-3 2-5 2-5 2-5 2-4 3-2 2-4 2-5 2-8 2-7 3-2 2 6 2 8 2 7 2 6 3 3 2 5 2 1 2 6 3 3 2 9 2 4 2 5 2 0 3 5 2 4 2 5 2 3 2 3 3 5 2 2 2-4 2-6 2-4 3-3 2-5 2-5 2-3 2-3 3-4 2-6 2-3 2-3 2-4 3-7 2-4 2-3 2-3 2-3 3-5 2-5 2 0 2 6 2 6 3 4 2 1 2 3 2 3 3 7 2 4 2 5 2 7 2 3 3 3 2 2 2 5 2 3 2 6 3 4 2 2 2 2 2 4 2 1 3 1 2-3 2-6 2-7 2-5 3-3 2-6 2-5 2-4 2-2 3-2 2-2 2-8 2-5 2-6 3 1 2-1 2-3 2-6 2-2 3 2 2 4 2 5 2 6 2 4 3 2 2 2 2 4 2 3 3 6 2 4 2 7 2 4 2 2 3 4 2 4 2 6 2 3 2 3 3 3 2-3 2-2 2-4 2-4 3-4 2-5 2-3 2-3 2-3 3-4 2-4 2-4 2-4 2-7 3-4 2-6 2-5 2-8 2-4 3 0 2 0 2 5 2 4 2 8 3 4 2 3 2 4 2 4 3 4 2 2 2 5 2 6 2 2 3 2 2 5 2 5 2 7 2 2 3 3 2-2 2 4 2-2 2-2 3-4 2-3 2-5 2-5 2-5 3-3 2-5 2-3 2-4 2-7 3-7 2-7 2-1 2-2 2-2 3-8 2-5 2-4 2 2 2 5 3 5 2 4 2 3 2 4 3 7 2 3 2 5 2 1 2 5 3 4 2 7 2 6 2 4 2 5 3 2 2 5 2 6 2 5 2 1 3-6 2-2 2-4 2-5 2-5 3-3 2-4 2-4 2-6 2-6 3-4 2-3 2-2 2-4 2-7 3-7 2-6 2-5 2-2 2-5 3 2 2 4 2 6 2 5 3 3 2 4 2 4 2 6 2 4 3 5 2 7 2 3 2 4 2 4 3 5 2 4 2 5 2 4 2 3 3 2 2 4 2-5 2-4 2-3 3-2 2-5 2-5 2-3 2-3 3-4 2-3 2-2 2-3 2-2 3-4 2-3 2-6 2-4 2-5 3-4 2-4 2 1 2 4 3 4 2 4 2 5 2 2 2 3 3 6 2 5 2 5 2 3 2 3 3 3 2 3 2 4 2 4 2 3 3 3 2 5 2 3 2 2 2-5 3-2 2-5 2-4 2-8 2-4 3-3 2-4 2-3 2-5 2-2 3-5 2-4 2-5 2-3 2-4 3-6 2-4 2-6 2-3 3 1 2 7 2 7 2 3 2 2 3 6 2 2 2 6 2 2 2 6 3 3 2 3 2 4 2 7 2 4 3 4 2 2 2 6 2 3 2 4 3 2 2-4 2-3 2-6 2-4 3-6 2-5 2-5 2-5 2-4 3-4 2-5 2-7 2-1 2-6 3-3 2-8 2-1 2-4 2-5 3-7 2 0 2 5 2 6 3 5 2 5 2 5 2 6 2 3 3 3 2 4 2 4 2 7 2 4 3 2 2 2 2 9 2 10 2 5 3 5 2 2 2 3 2-7 2-4 3-4 2-2 2-2 2-7 2-7 3-4 2-3 2-3 2-7 2-5 3-7 2-2 2-4 2-3 2-6 3-6 2-4 2-5 2 3 3 4 2 6 2 7 2 5 2 4 3 3 2 3 2 2 2 2 2 5 3 5 2 8 2 6 2 9 2 1 3 4 2 2" fill="none" stroke="#008000" stroke-width="16" stroke-linejoin="round"/></g></g><rect x="300.5" y="6.5" width="242.0" height="15.0" fill="none" stroke="#303030" stroke-width="1"/><line x1="297.70" x2="300.50" y1="7.5" y2="7.5" stroke="#262626" stroke-width="0.9"/><text x="296.20" y="9.80" class="tk" text-anchor="end">1</text><line x1="297.70" x2="300.50" y1="18.5" y2="18.5" stroke="#262626" stroke-width="0.9"/><text x="296.20" y="20.70" class="tk" text-anchor="end">0</text><line x1="311.5" x2="311.5" y1="21.5" y2="24.1" stroke="#262626" stroke-width="0.9"/><line x1="355.5" x2="355.5" y1="21.5" y2="24.1" stroke="#262626" stroke-width="0.9"/><line x1="399.5" x2="399.5" y1="21.5" y2="24.1" stroke="#262626" stroke-width="0.9"/><line x1="443.5" x2="443.5" y1="21.5" y2="24.1" stroke="#262626" stroke-width="0.9"/><line x1="487.5" x2="487.5" y1="21.5" y2="24.1" stroke="#262626" stroke-width="0.9"/><line x1="531.5" x2="531.5" y1="21.5" y2="24.1" stroke="#262626" stroke-width="0.9"/><g clip-path="url(#rb1)"><g transform="scale(0.1)"><path d="M3113 280l2-4 2 24 3-20 2 14 2 35 2-18 2-3 3 16 2 19 2-32 2 10 2 9 3 22 2-6 2 31 2-12 2 13 3 1 2 17 2-25 2 3 3-29 2 6 2 1 2 23 2-43 3 29 2-6 2-5 2-11 2-28 3 2 2 20 2-2 2-38 2-3 3-7 2-8 2-4 2 12 2-8 3 16 2 20 2-28 2 4 2 2 3 23 2-3 2 32 2 2 2-18 3 8 2 6 2 5 2-16 2 46 3-10 2 24 2-30 2 22 3 7 2-3 2-37 2 4 2 26 3-13 2-31 2 9 2-7 2-31 3 8 2 22 2-27 2 26 2-21 3-21 2 24 2-6 2-23 2-17 3 8 2 24 2-15 2-11 2 39 3 12 2-27 2 7 2-6 2 5 3 21 2 28 2-11 2-15 2 45 3 8 2 0 2-18 2 1 3 0 2 26 2 8 2-18 2-14 3 8 2-31 2-1 2 12 2 9 3-42 2 21 2-18 2-1 2 9 3-39 2 25 2-29 2-5 2-3 3 1 2-6 2-1 2 9 2 26 3-34 2 5 2 16 2 1 2 7 3 31 2-19 2 13 2 20 2-17 3 37 2 0 2-22 2 13 2 0 3-7 2 1 2 11 2 25 3-30 2 12 2-7 2-30 2 11 3 21 2-36 2-4 2-1 2 20 3-34 2-3 2 0 2-10 2 1 3-7 2-1 2 19 2 5 2-26 3 13 2 2 2 7 2-12 2 20 3-15 2 40 2-29 2 17 2-5 3 31 2-27 2 26 2 10 2-12 3 25 2-8 2 17 2-16 3 19 2-4 2-43 2 16 2-3 3-2 2-2 2-15 2-16 2 9 3 22 2-6 2-16 2-9 2 3 3 7 2-22 2-16 2-6 2-18 3 24 2 8 2-4 2-4 2 9 3 39 2-36 2 30 2-22 2 23 3-20 2 5 2 20 2-17 2 7 3 5 2 17 2-14 2 25 3 20 2-30 2 41 2-45 2 26 3-2 2-45 2 41 2-33 2 13 3 2 2 8 2-29 2 14 2-42 3 24 2-26 2 22 2-3 2-6 3 3 2-25 2 30 2-34 2 0 3 43 2 6 2-26 2-5 2 31 3 13 2-32 2 2 2 49 2-34 3 8 2 3 2-5 2 24 3-5 2 14 2 20 2-31 2 8 3 7 2-11 2-24 2 28 2-24 3-5 2-7 2 13 2-25 2 11 3-24 2 11 2 8 2-17 2-12 3-4 2-8 2 16 2-5 2-8 3 34 2-23 2 3 2 21 2 14 3-29 2 22 2 17 2-4 2-12 3 20 2-8 2 19 2-4 3-17 2-3 2 7 2 41 2-4 3-29 2 10 2 22 2-15 2-33 3-5 2 8 2 22 2-15 2-30 3-15 2 19 2-1 2 15 2-17 3-32 2-2 2 23 2-28 2 30 3-33 2 16 2 8 2 3 2 15 3-19 2 2 2 34 2-34 2 34 3-11 2 11 2 17 2-30 2 43 3-32 2 40 2-21 2 29 3 11 2-2 2-29 2 11 2-15 3-18 2 24 2 4 2 0 2-20 3-29 2 23 2-33 2 31 2 4 3-16 2-12 2-32 2-3 2 34 3-25 2 7 2-23 2 48 2-14 3 17 2-16 2 12 2-11 2-9 3 8 2 29 2-5 2-6 2 8 3 9 2 24 2-10 2 1 3-10 2 20 2-9 2 25 2-13 3 2 2-39 2 38 2-15 2 6 3-4 2-30 2-9 2 14 2-19 3 23 2-49 2 8 2 6 2 5 3 2 2-13 2-10 2-2 2 15 3-16 2 40 2-29 2 16 2-10 3 14 2 11 2 22 2-12 2 19 3 1 2 6 2 3 2-10 3-3 2-6 2 26 2 6 2 1 3 15 2-45 2 37 2-45 2 0 3 29 2-14 2 1 2-22 2-7 3 2 2 5 2-1 2-4 2-23 3 3 2-7 2-12 2 11 2 20 3-5 2-26 2 25 2-29 2 47 3-17 2-12 2 32 2 4 2-18 3 33 2-16 2 22 2-9 3-21 2 24 2 22 2-15 2 23 3 2 2-15 2-1 2-7 2-25 3-4 2 2 2 13 2-6 2-25 3 10 2-23 2-6 2 9 2 7 3-22 2 18 2 1 2-5 2-16 3-20 2 0 2-11 2 1 2 18 3 22 2 14 2-19 2 9 2 4 3-8 2 10 2 30 2 2 3 13 2-16 2-13 2 20 2 14 3 8 2 5 2 1 2-14 2-21 3 37 2-29 2-2 2 20 2-7 3-32 2-12 2 2 2 23 2-5 3-43 2 23 2-7 2 2 2-14 3-24 2 11 2 4 2 5 2 17 3-11 2 19 2-26 2 37 2-22 3 4 2-3 2 28 2-7 2 20 3 13 2 2 2-37 2 29 3-1 2 8 2 24 2 7 2-17 3-28 2 1 2-10 2 27 2-15 3 3 2-40 2-13 2 34 2-8 3-21 2-8 2 10 2-10 2 11 3-22 2 7 2 0 2-35 2 24 3 5 2 5 2-18 2 16 2 17 3 6 2-4 2 2 2 5 2-16 3 34 2-26 2 39 2-8 3 3 2 22 2-1 2-22 2 27 3-19 2 44 2-30 2-25 2 27 3-20 2 0 2-2 2 6 2-2 3-34 2-8 2 8 2 1 2-15 3 3 2 7 2-1 2 7 2-41 3 33 2-16 2-15 2 26 2 1 3-8 2 32 2-25 2 35 2-40 3 33 2 20 2-9 2-3 3-20 2 20 2 20 2-4 2 0 3-5 2 33 2 2 2-3 2-35 3-9 2 1 2 16 2-17 2 6 3-9 2-5 2-9 2-9 2 25 3-19 2 11 2-41 2 3 2 6 3-31 2 20 2 10 2-20 2-5 3 31 2 5 2-26 2 33 2 8 3-12 2 12 2 4 2 2 3-8 2-4 2 48 2-17 2-2 3-5 2 8 2 0 2 22 2 21 3-31 2-9 2 16 2-24 2 8 3 11 2-17 2 3 2-39 2 23 3 9 2-11 2-10 2-1 2 3 3-39 2 27 2-18 2 8 2-19 3-2 2 5 2 2 2 22 2-4 3 2 2-11 2 22 2 25 2-39 3 20 2 12 2-17 2 26 3-2 2 27 2-3 2-11 2 28 3-33 2 32 2-21 2 18 2-23 3-22 2-7 2 4 2 22 2-14 3 6 2-32 2 34 2-26 2 12 3-21 2-24 2 27 2-3 2-28 3-7 2 19 2-4 2 1 2 28 3-22 2 2 2 22 2 11 2-20 3 1 2 14 2 22 2-35 3 45 2-18 2 22 2 4 2 12 3 8 2-26 2 3 2-21 2-5 3 21 2 6 2-32 2-7 2 10 3-4 2 20 2-9 2 3 2-21 3-12 2-14 2-12 2 15 2-22 3-1 2-7 2 36 2-10 2 10 3-23 2 33 2-10 2 20 2-7 3 4 2-17 2 37 2-10 3-24 2 19 2 0 2-1 2 39 3-20 2 11 2 1 2 18 2 2 3-25 2 5 2-19 2-7 2 0 3 28 2-15 2 3 2-5 2-6 3-30 2-7 2 34 2-4 2-21 3 10 2-23 2 0 2 1 2 5 3-20 2 14 2-12 2-6 2 42 3-16 2-5 2 16 2 0 3 1 2 29 2 7 2-24 2-6 3 28 2 22 2-28 2 4 2 28 3-15 2 20 2-8 2-31 2 30 3 0 2-14 2-4 2-28 2 34 3-40 2 13 2-11 2-24 2 15 3-13 2-4 2-7 2 11 2 17 3-1 2-38 2-5 2 17 2 5 3-9 2 44 2-3 2 2 3-10 2-8 2-3 2 39 2-28 3 35 2 0 2-20 2 7 2 9 3-13 2 48 2-18 2 15 2-33 3 24 2-19 2-19 2 21 2-21 3-31 2 14 2 11 2 0 2-24 3 12 2-28 2-8 2 33 2-5 3-29 2-19 2 19 2-8 2 8 3 3 2 19 2 4 2-4 3-14 2 14 2-2 2-3 2 28 3 8 2-26 2 26 2 25 2-7 3-1 2 0 2-3 2 7 2 17 3 7 2-28 2-2 2-10 2-2 3 22 2-42 2 21 2 1 2-37 3 7 2-7 2 19 2-20 2-26 3 3 2 28 2-15 2-4 2-25 3 33 2 10 2-29 2 37 2-22 3 11 2 21 2 12 2 6 3-35 2 14 2 15 2-25 2 40 3-2 2 7 2 9 2 6 2 7 3-20 2 22 2-45 2 7 2 31 3-17 2-4 2-21 2 3 2-7 3-9 2 6 2 14 2-5 2-40 3-10 2-8 2 34 2-33 2 20 3-13 2 15 2-27 2 34 2-22 3 35 2-29 2 10 2-3 3 39 2-5 2 2 2-2 2 23 3 5 2-34 2 19 2 27 2-18 3 30 2-24 2-9 2 27 2-25 3 11 2 2" fill="none" stroke="#ff0000" stroke-width="16" stroke-linejoin="round"/><path d="M3113 262l2 4 2 4 3 6 2 2 2 5 2 3 2 6 3 3 2 9 2 3 2 8 2 2 3 8 2 2 2 3 2 5 2 5 3 5 2 4 2 2 2-3 3-6 2-6 2-6 2-4 2-4 3-4 2-6 2-2 2-3 2-4 3-6 2-8 2-4 2-9 2-2 3-6 2-2 2-5 2-5 2 4 3 4 2 7 2 6 2 3 2 4 3 5 2 5 2 7 2 4 2 5 3 2 2 5 2 4 2 4 2 6 3 5 2 6 2 5 2 6 3-3 2-6 2-5 2-6 2-3 3-5 2-5 2-7 2-7 2-5 3-2 2-2 2-4 2-4 2-5 3-3 2-6 2-7 2-7 2-4 3 4 2 5 2 1 2 3 2 5 3 4 2 3 2 5 2 9 2 7 3 3 2 4 2 6 2 7 2 6 3 5 2 2 2 7 2 2 3 4 2 3 2-1 2-4 2-8 3-8 2-4 2-4 2-2 2-6 3-3 2-6 2-3 2-6 2-7 3-7 2-3 2-4 2-5 2-5 3-2 2-5 2 2 2 4 2 5 3 3 2 2 2 8 2 3 2 9 3 4 2 6 2 3 2 7 2 5 3 3 2 4 2 4 2 6 2 4 3 6 2 3 2 2 2-6 3-2 2-4 2-3 2-7 2-3 3-5 2-2 2-6 2-2 2-6 3-3 2-4 2-4 2-1 2-5 3-1 2-4 2-4 2-5 2 0 3 3 2 7 2 5 2 7 2 1 3 6 2 3 2 6 2 2 2 3 3 2 2 7 2 5 2 5 2 0 3 1 2 2 2 3 2 5 3-1 2-3 2 0 2-5 2-5 3-5 2-4 2-3 2-3 2-3 3-6 2-5 2-5 2-3 2-5 3-3 2-1 2-5 2-5 2-9 3 0 2 5 2 8 2 7 2 5 3 2 2 1 2 4 2 3 2 3 3 4 2 4 2 5 2 4 2 5 3 2 2 5 2 3 2 4 3 5 2 4 2-3 2-6 2-7 3-3 2-4 2-1 2-4 2-3 3-3 2-3 2-3 2-7 2-6 3-5 2 1 2-2 2-3 2-6 3-5 2-2 2 3 2 3 2 1 3 7 2 4 2 6 2 1 2 4 3 1 2 3 2 6 2 7 2 4 3 4 2 5 2 4 2 1 3 2 2 5 2 6 2-2 2-4 3-5 2-5 2-4 2-4 2-5 3-5 2-3 2-1 2-4 2-3 3-5 2-3 2-4 2-4 2-4 3-6 2-6 2-4 2 0 2 4 3 4 2 4 2 7 2 5 2-1 3 4 2 3 2 5 2 4 2 4 3 5 2 4 2 3 2 4 3 5 2 3 2 5 2 6 2 3 3-2 2-7 2 0 2-9 2-4 3-4 2-3 2-3 2-5 2-5 3-6 2-4 2-4 2-4 2-6 3-3 2-6 2-4 2-5 2-2 3 2 2 7 2 6 2 6 2 0 3 2 2 0 2 4 2 4 2 5 3 6 2 5 2 4 2 2 2 4 3 6 2 6 2 3 2 4 3 8 2 3 2-5 2-7 2-5 3-6 2-1 2-2 2-3 2-8 3-3 2-6 2-2 2-5 2-1 3-5 2-8 2-5 2-5 2 0 3-6 2-3 2 4 2 6 2 6 3 6 2 3 2 2 2 1 2 4 3 8 2 5 2 6 2 3 2 4 3 1 2 4 2 5 2 2 3 4 2 6 2 4 2-1 2-5 3-4 2-5 2-6 2-2 2-3 3-4 2-5 2-5 2-6 2-6 3-5 2-4 2-3 2-2 2-4 3-4 2-7 2-4 2-4 2 6 3 5 2 7 2 5 2 5 2 6 3 1 2 1 2 6 2 4 2 6 3 2 2 4 2 3 2 3 3 5 2 8 2 4 2 7 2 1 3-1 2-4 2-4 2-4 2-5 3-3 2-4 2-5 2-2 2-5 3-4 2-4 2-5 2-1 2-6 3-1 2-5 2-2 2-4 2-5 3 2 2 3 2 3 2 3 2 3 3 7 2 3 2 4 2-1 2 5 3 3 2 8 2 1 2 4 3 2 2 5 2 6 2 6 2 4 3 3 2 0 2-8 2-5 2-7 3-1 2-6 2-6 2-4 2-4 3-3 2-4 2-8 2-6 2-5 3-4 2-5 2-4 2-4 2-3 3-6 2-4 2 3 2 6 2 3 3 7 2 5 2 6 2 4 2 4 3 7 2 6 2 3 2 2 3 8 2 7 2 6 2 1 2 3 3 5 2 5 2 6 2-1 2-7 3-5 2-5 2-1 2-4 2-5 3-7 2-4 2-6 2-4 2-6 3-5 2-5 2-1 2-3 2-3 3-5 2-3 2-6 2-2 2 4 3 2 2 6 2 5 2 7 2 6 3 3 2 2 2 1 2 5 2 9 3 8 2 3 2 4 2 2 3 6 2 4 2 6 2 4 2 2 3-5 2-9 2-2 2-5 2-3 3-8 2-8 2-7 2-4 2-3 3-3 2-4 2-2 2-1 2-3 3-4 2-8 2-7 2-5 2-3 3 3 2 3 2 3 2 4 2 8 3 6 2 4 2 4 2 2 2 3 3 4 2 5 2 7 2 5 3 6 2 4 2 4 2 4 2 9 3 5 2 1 2-6 2-3 2-4 3-7 2-6 2-2 2 0 2-5 3-7 2-6 2-5 2-3 2-5 3-4 2-2 2-5 2-4 2-5 3-3 2-1 2 3 2 5 2 3 3 4 2 3 2 6 2 5 2 4 3 3 2 3 2 5 2 4 3 5 2 5 2 4 2 2 2 3 3 3 2 5 2 4 2-3 2-3 3-5 2-2 2-5 2-4 2-7 3-5 2-4 2-6 2-4 2-6 3-1 2-2 2-4 2-5 2-9 3-4 2-5 2-1 2 1 2 5 3 3 2 5 2 6 2 2 2 4 3 3 2 5 2 6 2 3 3 8 2 4 2 4 2 6 2 5 3 6 2 1 2 2 2 3 2 4 3-3 2-3 2-6 2-5 2-3 3-3 2-4 2-5 2-4 2-4 3-4 2-7 2-3 2-3 2-2 3-4 2-4 2-2 2-5 2-5 3-1 2 2 2 5 2 8 2 5 3 3 2 2 2 6 2 1 2 3 3 3 2 6 2 6 2 5 3 4 2 7 2 5 2 6 2 2 3 3 2-4 2-2 2-5 2-1 3-6 2-2 2-6 2-4 2-5 3-4 2-2 2-3 2-5 2-2 3-2 2-6 2-7 2-6 2-1 3-3 2 0 2 5 2 4 2 3 3 4 2 5 2-1 2 2 2 5 3 8 2 4 2 3 2 3 3 2 2 6 2 3 2 6 2 3 3 6 2 7 2 4 2-7 2-6 3-3 2-2 2-8 2-8 2-2 3-1 2-2 2-7 2-4 2-5 3-5 2-5 2-3 2-5 2-4 3-5 2-1 2-5 2 3 2 4 3 4 2 3 2 4 2 4 2 4 3 5 2 6 2 5 2 2 3 4 2 3 2 5 2 4 2 4 3 3 2 4 2 4 2 4 2 2 3-1 2-5 2-5 2-7 2-3 3-3 2-5 2-5 2-6 2-3 3-6 2-3 2-3 2-1 2-5 3-5 2-4 2-4 2-7 2-5 3 1 2 4 2 6 2 6 2 5 3 3 2 2 2 8 2 4 3 4 2 4 2 5 2 5 2 3 3 5 2 4 2 4 2 6 2 3 3 4 2-6 2-2 2-3 2 1 3-3 2-4 2-6 2-3 2-3 3-5 2-8 2-5 2-3 2 0 3-7 2-3 2-7 2-1 2-3 3 0 2 0 2-1 2 1 2 2 3 8 2 4 2 3 2 5 3 5 2 5 2 2 2 3 2 4 3 4 2 3 2 4 2 5 2 3 3 4 2 4 2 5 2-4 2-5 3-7 2-5 2-4 2-5 2-5 3-6 2-2 2-3 2-4 2-7 3-5 2-5 2-3 2-7 2-3 3-5 2-4 2-5 2 5 2 5 3 4 2 4 2 4 2 9 3 3 2 8 2 1 2 2 2 1 3 2 2 6 2 6 2 7 2 6 3 5 2 7 2 2 2 3 2-2 3-2 2-1 2-3 2-7 2-5 3-6 2-3 2-7 2-4 2-6 3-2 2-5 2-4 2-6 2-3 3-3 2-5 2-6 2-6 2-3 3 4 2 5 2 6 2 5 2 8 3 4 2 5 2 4 2 3 3 1 2 1 2 4 2 6 2 8 3 4 2 6 2 3 2 6 2 3 3 4 2-6 2-3 2-2 2-4 3-5 2-6 2-5 2-3 2-4 3-2 2-6 2-4 2-6 2-6 3-5 2-6 2-3 2-1 2-2 3-2 2-3 2 5 2 3 2 2 3 5 2 6 2 6 2 3 3 2 2 5 2 4 2 5 2 4 3 4 2 6 2 8 2 5 2 3 3 3 2 5 2 2 2-7 2-6 3-2 2-3" fill="none" stroke="#008000" stroke-width="16" stroke-linejoin="round"/></g></g><rect x="300.5" y="25.5" width="242.0" height="15.0" fill="none" stroke="#303030" stroke-width="1"/><line x1="297.70" x2="300.50" y1="25.5" y2="25.5" stroke="#262626" stroke-width="0.9"/><text x="296.20" y="27.90" class="tk" text-anchor="end">1</text><line x1="297.70" x2="300.50" y1="36.5" y2="36.5" stroke="#262626" stroke-width="0.9"/><text x="296.20" y="38.80" class="tk" text-anchor="end">0</text><line x1="311.5" x2="311.5" y1="40.5" y2="43.1" stroke="#262626" stroke-width="0.9"/><line x1="355.5" x2="355.5" y1="40.5" y2="43.1" stroke="#262626" stroke-width="0.9"/><line x1="399.5" x2="399.5" y1="40.5" y2="43.1" stroke="#262626" stroke-width="0.9"/><line x1="443.5" x2="443.5" y1="40.5" y2="43.1" stroke="#262626" stroke-width="0.9"/><line x1="487.5" x2="487.5" y1="40.5" y2="43.1" stroke="#262626" stroke-width="0.9"/><line x1="531.5" x2="531.5" y1="40.5" y2="43.1" stroke="#262626" stroke-width="0.9"/><g clip-path="url(#rb2)"><g transform="scale(0.1)"><path d="M3113 486l2 6 2-20 3-11 2 15 2 25 2-5 2-12 3-1 2 12 2 18 2-13 2 12 3 2 2 16 2-1 2 14 2 4 3 9 2 9 2 6 2 2 3-37 2-8 2 33 2-12 2-6 3 10 2-37 2 2 2-1 2 9 3-20 2 7 2-12 2 0 2 2 3 1 2-3 2-5 2-5 2-4 3 3 2-21 2 16 2 10 2 1 3-8 2 28 2 8 2-9 2-3 3 7 2 2 2 24 2 6 2-15 3 19 2-12 2-17 2 33 3-3 2-12 2 18 2-22 2-2 3 20 2-21 2 13 2-43 2 23 3-19 2-7 2 2 2 16 2 0 3-13 2-9 2 13 2-15 2-36 3 14 2 7 2 7 2-6 2 25 3 2 2 7 2-17 2 12 2-2 3-14 2 40 2-29 2 29 2 4 3 2 2 6 2-20 2 31 3 6 2 2 2 0 2-35 2 29 3-7 2-26 2 20 2-18 2 3 3-28 2 2 2 14 2-26 2 27 3-17 2 1 2 11 2-29 2-17 3 32 2-40 2 0 2 3 2 38 3-19 2 31 2 4 2-3 2 13 3 2 2-13 2 22 2-13 2-3 3-6 2 17 2 16 2-19 2 1 3 27 2-11 2-3 2 9 3-23 2 26 2-10 2 3 2-23 3 18 2 1 2 2 2-27 2 2 3-1 2-31 2 12 2 1 2-22 3 24 2-33 2 37 2-23 2 3 3 22 2-22 2-12 2 33 2-12 3 10 2 8 2-15 2 27 2-26 3 35 2 15 2-3 2-5 2-14 3 25 2-9 2 0 2 2 3 2 2 0 2-8 2 1 2-28 3-1 2 13 2 0 2 4 2-22 3 5 2 4 2-5 2-15 2-21 3 1 2-4 2 9 2 10 2-37 3 20 2-2 2 25 2-6 2-13 3 28 2-5 2 16 2-16 2 24 3-16 2 11 2-10 2 0 2 36 3 4 2-29 2 21 2 17 3 10 2-12 2 2 2-6 2-20 3 14 2-6 2-25 2-9 2 17 3-21 2 10 2 14 2-11 2-4 3-20 2-15 2 15 2-15 2 6 3-12 2-9 2 35 2-32 2 11 3 25 2-25 2 27 2-11 2 32 3 2 2-18 2-11 2 39 2-10 3-7 2 18 2 15 2 4 3-23 2-8 2 41 2-30 2 6 3 17 2-5 2-6 2-16 2 18 3-10 2-3 2-6 2 2 2-22 3-2 2-16 2 15 2-27 2 28 3 0 2-2 2-13 2-32 2 28 3-5 2 28 2 6 2-13 2 12 3 3 2-19 2 21 2-11 2 10 3-1 2 26 2-19 2 26 3 3 2-20 2-2 2 11 2-9 3 20 2-21 2-5 2-15 2 27 3-15 2 13 2-7 2-19 2-14 3-3 2 18 2-26 2-16 2-7 3 32 2-23 2-10 2 0 2-18 3 36 2-26 2 12 2 17 2-17 3 26 2-13 2 27 2-18 2 14 3 25 2-2 2-16 2 36 2 4 3-33 2 31 2-15 2 9 3-14 2 27 2-36 2 41 2-41 3 34 2-11 2-14 2 0 2-14 3 2 2-16 2 3 2-24 2 20 3-30 2 22 2-28 2 28 2-33 3 26 2 9 2-21 2 16 2-21 3 42 2-12 2-9 2-5 2 32 3-21 2 9 2-9 2 41 2-20 3 3 2 14 2 13 2-4 3 12 2-15 2 18 2-26 2-2 3 1 2 12 2-7 2 1 2-26 3 21 2-12 2-26 2 31 2-11 3-4 2-10 2-12 2 13 2-19 3 8 2-18 2 15 2-11 2 16 3-24 2 4 2 7 2 1 2 29 3 13 2-16 2-10 2 16 2 4 3-5 2 34 2-7 2 9 3 14 2-21 2-3 2 29 2-3 3-11 2-17 2 6 2-12 2 0 3 0 2-12 2-22 2-4 2 32 3-9 2-30 2-10 2-4 2 35 3-14 2-16 2 14 2-28 2-2 3 10 2 16 2-17 2 45 2-7 3-24 2 9 2 7 2 16 2 17 3 3 2 6 2-27 2 9 3 25 2-9 2-6 2 15 2-7 3 12 2-27 2 5 2 10 2-21 3 25 2-13 2-24 2-15 2 6 3-11 2 11 2-24 2 32 2-32 3 27 2-4 2-40 2 7 2-6 3-7 2 17 2-12 2 2 2 0 3 13 2 21 2 20 2 8 2 5 3 7 2-32 2-4 2 33 3-25 2 25 2 1 2 19 2 0 3-7 2 14 2-32 2-5 2 37 3-31 2-4 2-14 2 36 2-37 3 10 2-7 2-20 2 26 2-7 3-4 2-1 2-44 2 11 2-11 3 27 2-4 2-1 2 9 2-18 3-5 2-4 2 35 2-11 2 19 3 14 2-21 2 35 2-37 2 12 3 24 2-7 2 27 2-37 3 33 2-15 2 16 2 8 2-21 3 12 2-7 2-17 2-1 2 2 3-21 2 13 2-6 2-25 2 33 3-31 2-4 2 9 2-14 2 27 3-37 2 30 2-5 2-1 2-19 3 33 2-36 2 39 2-20 2 13 3-15 2 25 2-4 2-15 2 44 3 2 2 7 2-4 2-18 3 4 2 25 2-12 2 13 2 11 3-3 2-3 2-36 2 27 2-38 3 31 2-19 2-23 2 4 2 22 3-8 2-29 2 2 2-9 2-10 3 28 2-2 2-24 2 6 2 3 3-11 2 26 2 1 2-5 2-13 3 25 2 10 2-1 2 12 2-3 3 2 2 8 2-15 2 19 3-31 2 19 2 29 2-22 2 25 3-31 2 6 2 2 2 15 2-10 3-27 2 3 2 6 2-14 2 4 3-5 2-25 2 3 2 19 2-16 3-19 2 31 2-31 2-3 2 15 3-8 2-20 2 37 2-34 2 7 3 17 2 9 2 11 2-14 2-4 3 37 2-4 2 8 2-5 3 8 2 2 2-1 2 18 2-4 3 0 2-7 2 14 2 11 2 0 3-20 2 1 2 1 2-17 2-22 3 20 2 8 2-14 2-27 2 27 3-29 2-3 2-2 2 6 2-3 3-2 2-19 2 13 2 20 2-36 3 0 2 39 2-18 2 34 2-19 3-7 2 11 2 2 2 11 2-15 3 29 2-6 2 11 2-20 3 39 2-3 2 14 2-22 2 16 3-1 2-4 2-6 2-31 2 27 3 0 2-39 2-4 2-8 2 13 3 1 2-2 2-21 2 8 2-12 3 13 2-13 2-18 2-10 2 17 3 7 2-15 2 14 2 32 2-19 3 15 2 1 2 0 2 6 2 13 3-26 2 33 2-27 2 34 3-25 2 28 2-15 2 35 2 6 3-32 2 7 2-16 2 26 2-36 3 34 2-42 2 24 2 5 2-25 3 21 2-18 2-20 2 1 2-13 3 8 2 14 2-36 2-5 2 18 3-12 2-6 2 4 2 5 2 11 3 0 2 32 2-27 2 1 2-1 3 10 2 27 2-5 2-14 3 44 2-11 2-13 2 17 2-20 3 22 2 2 2-19 2-6 2 7 3-15 2 31 2-18 2 7 2-7 3-7 2-37 2 2 2 14 2 16 3-10 2-10 2-26 2-14 2-6 3-2 2 9 2 23 2-4 2 6 3-25 2 14 2 33 2-1 2 2 3 10 2 2 2-19 2 8 3 29 2-21 2 12 2 0 2 21 3 15 2-17 2 0 2 3 2-1 3 13 2-15 2-15 2 10 2-12 3-2 2-5 2-8 2-2 2 9 3-13 2-32 2 7 2 7 2-29 3 9 2-13 2 3 2 28 2-33 3 23 2 6 2-11 2-4 2 11 3 6 2-2 2 16 2 21 3-17 2-8 2 20 2 28 2-36 3 5 2 46 2-12 2 1 2-6 3-17 2 4 2 32 2-19 2 5 3-39 2 7 2 22 2-6 2-30 3-3 2-10 2 15 2 3 2-19 3-10 2-7 2-2 2 32 2-25 3 11 2 14 2-31 2 41 2 1 3 4 2-16 2 0 2 13 3-7 2 18 2 18 2-24 2 14 3 17 2-16 2-4 2 32 2 9 3-30 2 3 2 20 2-31 2-17 3 36 2-42 2 23 2-9 2-22 3 7 2 1 2 1 2-18 2-9 3-3 2 2 2 7 2-19 2 8 3-5 2-17 2 8 2 2 2 27 3 16 2-28 2-1 2 29 2 20 3-30 2 15 2 3 2 11 3 15 2-13 2 19 2 9 2-11 3-23 2 31 2-1 2-28 2 8 3-11 2-8 2 24 2-25 2-1 3 17 2-15 2 6 2-20 2-5 3 23 2-5 2 3 2-2 2-5 3-44 2 30 2-35 2 40 2-18 3 10 2 20 2-14 2 2 2-2 3 11 2 10 2-5 2-6 3 32 2-7 2 9 2-19 2 1 3-1 2 42 2-13 2 21 2-39 3 15 2 10 2-21 2-13 2 13 3-1 2-13" fill="none" stroke="#ff0000" stroke-width="16" stroke-linejoin="round"/><path d="M3113 454l2-1 2 2 3 3 2 3 2 5 2 4 2 5 3 5 2 6 2 3 2 4 2 5 3 3 2 3 2 3 2 5 2 4 3 5 2 6 2 5 2 2 3-6 2-5 2-5 2-3 2-4 3-2 2-5 2-3 2-6 2-4 3-8 2-2 2-5 2-4 2-5 3-4 2-3 2-4 2-4 2-5 3 5 2 4 2 4 2 3 2 4 3 5 2 6 2 3 2 3 2 4 3 5 2 5 2 3 2 5 2 5 3 1 2 6 2 4 2 9 3 3 2-1 2-3 2-3 2-6 3-6 2-4 2-3 2-5 2-1 3-5 2-3 2-6 2-3 2-5 3-5 2-3 2-4 2-5 2-7 3-5 2 3 2 4 2 5 2 5 3 6 2 4 2 2 2 5 2 4 3 4 2 2 2 3 2 4 2 6 3 3 2 3 2 3 2 6 3 4 2 5 2 0 2-5 2-5 3-3 2-2 2-4 2-3 2-5 3-5 2-3 2-3 2-4 2-5 3-4 2-2 2-4 2-3 2-4 3-3 2-4 2-5 2 5 2 4 3 8 2 2 2 5 2 2 2 5 3 3 2 5 2 1 2 4 2 2 3 6 2 3 2 5 2 3 2 5 3 2 2 4 2 3 2-2 3-4 2-5 2-2 2-2 2-2 3-2 2-3 2-4 2-5 2-2 3-5 2-4 2-4 2-4 2-3 3-5 2-2 2-1 2-2 2 0 3 0 2 3 2 5 2 4 2 2 3 3 2 4 2 3 2 3 2 4 3 4 2 5 2 3 2 5 2 2 3 1 2 1 2 4 2 7 3 2 2-2 2-4 2-6 2-6 3-4 2-4 2-3 2-6 2-5 3-5 2-4 2-6 2-4 2-3 3-3 2-5 2-4 2-6 2-4 3-1 2 6 2 5 2 3 2 4 3 4 2 3 2 8 2 4 2 5 3 4 2 4 2 5 2 3 2 4 3 1 2 5 2 5 2 5 3 2 2 1 2-1 2-3 2-3 3-7 2-3 2-4 2 0 2-3 3-3 2-6 2-6 2-3 2-4 3-4 2-4 2-2 2-3 2-4 3-6 2-7 2 3 2 3 2 7 3 3 2 3 2 4 2 3 2 7 3 3 2 5 2 2 2 4 2 2 3 5 2 4 2 5 2 3 3 2 2 5 2 4 2 2 2-5 3-3 2-6 2-3 2-3 2-3 3-2 2-3 2-3 2-5 2-2 3-5 2-5 2-8 2-2 2-4 3-1 2-3 2-3 2 1 2 4 3 4 2 3 2 3 2 3 2 3 3 6 2 2 2 2 2 3 2 4 3 4 2 4 2 4 2 4 3 2 2 4 2 5 2 5 2 1 3-5 2-4 2-6 2-4 2-7 3-5 2-3 2-4 2-5 2-5 3-4 2-3 2-3 2-6 2-4 3-5 2-2 2-3 2-5 2-5 3 1 2 3 2 5 2 4 2 6 3 6 2 6 2 4 2 4 2 4 3 5 2 4 2 5 2 6 2 4 3 1 2 2 2 4 2 6 3 4 2-1 2-5 2-1 2-6 3-1 2-8 2-4 2-7 2 0 3-3 2-4 2-4 2-6 2-3 3-5 2-5 2-2 2-5 2-1 3-4 2 0 2 6 2 2 2 5 3 4 2 4 2 5 2 3 2 4 3 2 2 3 2 3 2 9 2 5 3 6 2 1 2 4 2 1 3 3 2 4 2 1 2-8 2-4 3-3 2-2 2-6 2-3 2-2 3-3 2-6 2-2 2-4 2-1 3-7 2-6 2-7 2-3 2-1 3-3 2-4 2-4 2 3 2 6 3 5 2 6 2 2 2 5 2 3 3 3 2 5 2 7 2 4 2 5 3 0 2 1 2 3 2 6 3 6 2 2 2 4 2 5 2-4 3-2 2-3 2-3 2-6 2-5 3-5 2-6 2-6 2-3 2-3 3-4 2-5 2-3 2-4 2-4 3-4 2-4 2-2 2-4 2 5 3 4 2 4 2 3 2 6 2 5 3 4 2 3 2 3 2 4 2 3 3 2 2 3 2 7 2 6 3 4 2 3 2 3 2 3 2 2 3-2 2-3 2-4 2-3 2-5 3-5 2-6 2-3 2-4 2-7 3-5 2-6 2-1 2-1 2-4 3-7 2-6 2-5 2-3 2-3 3-1 2 5 2 2 2 4 2 3 3 5 2 5 2 7 2 5 2 7 3 4 2 2 2 2 2 5 3 5 2 5 2 3 2 3 2 4 3 4 2 4 2-4 2-4 2-1 3-4 2-5 2-4 2-4 2-4 3-6 2-5 2-3 2-5 2-5 3-5 2-6 2-4 2-5 2-5 3-3 2-4 2 4 2 3 2 4 3 4 2 5 2 6 2 4 2 4 3 7 2 6 2 3 2 4 2 4 3 5 2 4 2 3 2 5 3 2 2 5 2 5 2-2 2-4 3-5 2-3 2-2 2-3 2-4 3-6 2-4 2-6 2-3 2-4 3-3 2-6 2-4 2-2 2-1 3-2 2-3 2-5 2 1 2 5 3 5 2 3 2 2 2 2 2 2 3 6 2 5 2 4 2 3 2 4 3 5 2 3 2 1 2 3 3 5 2 7 2 4 2 2 2 1 3-4 2-4 2-4 2-2 2-1 3-3 2-6 2-5 2-5 2-6 3-3 2-2 2 0 2-5 2-3 3-6 2-4 2-3 2-4 2-2 3 4 2 7 2 4 2 2 2 2 3 2 2 5 2 4 2 7 2 2 3 5 2 3 2 3 2 0 3 1 2 5 2 5 2 6 2 2 3 4 2-4 2-2 2-4 2-6 3-5 2-3 2-3 2-7 2-4 3-3 2-4 2-4 2-5 2-4 3-4 2-5 2-5 2-4 2-2 3-2 2 3 2 2 2 4 2 5 3 5 2 4 2 4 2 3 2 5 3 4 2 4 2 3 2 4 3 6 2 4 2 4 2 2 2 6 3 5 2 6 2-1 2-5 2-3 3-4 2-4 2-5 2-4 2-6 3-5 2-4 2-3 2-3 2-4 3-1 2-5 2-4 2-6 2-4 3-5 2-4 2 1 2 5 2 4 3 2 2 4 2 3 2 7 2 1 3 1 2 4 2 5 2 3 2 2 3 5 2 6 2 7 2 3 3 4 2 2 2 4 2 5 2-1 3-3 2-7 2-6 2-4 2-2 3-5 2-7 2-6 2-4 2-3 3-7 2-5 2-2 2-3 2-4 3-8 2-4 2-4 2-3 2 4 3 5 2 5 2 5 2 4 2 4 3 2 2 5 2 6 2 5 2 5 3 2 2 5 2 4 2 6 3 4 2 4 2 3 2 4 2 4 3-1 2-2 2-4 2-5 2-2 3-4 2-3 2-6 2-4 2-3 3-3 2-2 2-4 2-4 2-2 3-4 2-4 2-6 2-6 2-4 3 1 2 4 2 5 2 4 2 4 3 2 2 2 2 3 2 4 2 5 3 5 2 6 2 3 2 2 3 2 2 3 2 6 2 4 2 4 3 2 2 1 2-6 2-6 2-4 3-5 2-3 2-4 2-2 2-3 3-5 2-5 2-5 2-4 2-1 3-7 2-4 2-7 2-4 2-4 3-5 2-3 2 4 2 5 2 3 3 4 2 5 2 5 2 3 2 5 3 6 2 6 2 5 2 3 3 2 2 5 2 5 2 7 2 4 3 6 2 5 2 5 2-4 2-5 3-6 2-5 2-5 2-4 2-5 3-3 2-5 2-4 2-6 2-3 3-4 2-5 2-4 2-3 2-5 3-5 2-4 2-4 2 4 2 2 3 5 2 2 2 7 2 2 2 4 3 2 2 4 2 5 2 6 3 3 2 5 2 4 2 3 2 3 3 5 2 6 2 5 2 4 2 1 3-2 2-3 2-4 2-7 2-4 3-3 2-2 2-1 2-6 2-4 3-5 2-1 2-5 2-3 2-7 3-4 2-2 2-2 2-3 2-3 3 2 2 4 2 5 2 4 2 5 3 2 2 3 2 1 2 7 3 4 2 6 2 1 2 6 2 2 3 5 2 1 2 5 2 3 2 6 3 4 2-3 2-6 2-7 2-4 3-3 2-3 2-4 2-5 2-4 3-4 2-6 2-5 2-5 2 0 3-4 2-2 2-8 2-4 2-7 3-2 2 4 2 7 2 4 2 6 3 1 2 5 2 5 2 7 2 5 3 2 2 1 2 4 2 5 3 4 2 2 2 3 2 5 2 3 3 3 2 2 2 1 2-3 2-1 3-3 2-5 2-2 2-7 2-3 3-4 2-2 2-2 2-4 2-4 3-5 2-1 2-3 2-3 2-6 3-4 2-4 2-3 2 4 2 3 3 5 2 2 2 5 2 5 2 6 3 2 2 4 2 3 2 1 3 2 2 4 2 7 2 6 2 4 3 2 2 4 2 3 2 2 2-5 3-5 2-2 2-5 2-5 2-5 3-1 2-4" fill="none" stroke="#008000" stroke-width="16" stroke-linejoin="round"/></g></g><rect x="300.5" y="43.5" width="242.0" height="15.0" fill="none" stroke="#303030" stroke-width="1"/><line x1="297.70" x2="300.50" y1="44.5" y2="44.5" stroke="#262626" stroke-width="0.9"/><text x="296.20" y="46.90" class="tk" text-anchor="end">1</text><line x1="297.70" x2="300.50" y1="54.5" y2="54.5" stroke="#262626" stroke-width="0.9"/><text x="296.20" y="56.80" class="tk" text-anchor="end">0</text><line x1="311.5" x2="311.5" y1="58.5" y2="61.1" stroke="#262626" stroke-width="0.9"/><line x1="355.5" x2="355.5" y1="58.5" y2="61.1" stroke="#262626" stroke-width="0.9"/><line x1="399.5" x2="399.5" y1="58.5" y2="61.1" stroke="#262626" stroke-width="0.9"/><line x1="443.5" x2="443.5" y1="58.5" y2="61.1" stroke="#262626" stroke-width="0.9"/><line x1="487.5" x2="487.5" y1="58.5" y2="61.1" stroke="#262626" stroke-width="0.9"/><line x1="531.5" x2="531.5" y1="58.5" y2="61.1" stroke="#262626" stroke-width="0.9"/><g clip-path="url(#rb3)"><g transform="scale(0.1)"><path d="M3113 675l2 24 2-11 3 16 2-34 2 24 2 10 2-2 3-14 2 28 2-5 2 16 2 13 3-1 2 1 2-18 2 22 2 0 3-5 2 13 2-27 2 6 3-6 2 18 2-4 2-13 2 0 3-15 2-22 2 5 2-3 2 14 3-28 2-2 2-5 2 20 2-27 3-7 2 22 2-23 2 10 2 8 3-20 2 29 2 6 2-15 2 27 3 11 2-27 2 7 2 16 2-16 3 18 2 10 2 20 2 13 2-4 3 3 2-12 2 15 2 3 3-31 2-15 2 15 2 15 2-14 3 5 2-45 2 25 2-20 2-6 3-7 2 17 2-5 2-13 2 15 3-23 2 12 2-29 2-1 2-1 3 30 2 5 2-2 2-15 2 34 3-9 2-5 2 21 2-27 2 42 3-17 2-8 2 28 2 9 2-14 3 6 2 26 2-21 2-10 3 16 2-17 2 22 2-10 2-11 3 17 2-29 2-20 2 17 2-26 3 16 2 1 2-18 2 4 2 1 3-19 2-14 2 19 2-18 2-7 3 14 2-19 2 40 2-26 2 37 3 8 2-19 2 1 2 36 2-38 3 29 2 20 2-33 2 20 2-14 3 29 2-9 2 5 2 10 2 27 3-7 2-23 2 16 2-5 3-17 2-1 2 15 2-3 2-34 3-13 2-7 2 23 2 2 2-15 3 14 2-9 2-14 2-18 2-10 3 23 2-12 2-4 2 10 2 23 3-5 2-28 2 40 2-30 2 30 3-8 2-5 2 34 2-9 2 5 3-4 2 21 2-11 2-4 2 2 3 36 2-31 2-13 2 27 3-3 2 8 2-15 2 2 2-39 3-4 2 16 2-24 2 0 2 11 3 10 2-34 2 15 2-15 2-4 3 8 2-9 2-27 2 35 2 0 3-15 2 18 2-9 2 22 2-2 3 1 2 28 2-4 2 1 2 6 3-2 2-3 2 3 2-15 2 8 3 4 2 25 2-7 2-7 3 17 2-21 2-5 2-16 2 29 3-9 2-8 2 2 2-1 2-15 3 0 2 11 2-13 2 5 2-14 3-17 2-22 2 27 2-7 2-13 3 14 2 12 2-30 2 17 2 8 3 5 2-10 2 12 2-5 2 21 3 6 2 17 2-8 2-5 2-5 3-4 2 43 2-29 2 18 3 14 2-29 2 24 2 3 2-13 3-5 2 2 2-26 2 24 2-36 3 31 2-9 2-11 2 5 2-6 3-15 2-10 2-9 2 24 2-2 3-23 2 24 2-38 2 42 2 7 3-16 2 21 2-19 2-12 2 36 3-19 2-5 2 35 2-17 2 6 3 17 2-9 2 1 2-4 3 38 2 2 2-31 2 31 2-34 3 26 2 0 2-39 2-5 2-5 3-5 2 17 2 2 2-5 2-4 3 12 2-28 2-7 2-3 2-11 3-1 2 7 2 9 2 0 2 22 3-12 2-23 2 29 2 5 2-16 3 7 2 9 2 7 2 17 2-23 3 3 2 3 2 12 2-2 2-9 3 37 2 8 2-24 2 22 3-36 2-4 2 8 2 0 2-18 3 25 2-36 2 22 2-19 2-21 3 2 2 6 2 10 2-9 2 3 3-39 2 24 2-18 2 10 2-26 3 29 2-25 2 37 2-23 2 24 3-3 2 27 2-12 2 27 2 1 3-14 2-12 2 38 2-4 2-10 3-2 2 17 2 17 2-25 3 38 2-30 2 14 2-28 2-2 3-15 2 28 2-26 2-11 2 34 3-27 2-1 2 2 2 7 2-25 3-14 2 18 2-18 2-8 2-5 3 6 2 9 2 1 2 18 2 8 3-26 2 27 2-21 2 22 2-14 3 1 2 3 2 13 2-3 2 39 3 5 2-30 2 2 2 29 3 12 2-15 2-2 2-24 2 22 3 12 2-7 2-4 2-6 2-13 3-25 2 31 2-20 2-28 2 7 3 20 2-18 2-4 2-4 2 19 3-22 2-3 2 13 2-21 2 15 3 1 2 1 2-1 2 19 2-19 3 29 2 4 2 6 2-23 2 21 3 17 2 10 2-30 2 33 3 4 2-30 2 32 2-4 2-4 3 2 2-8 2-32 2-9 2 4 3-1 2 5 2 7 2-35 2-5 3-2 2-3 2 22 2-29 2 11 3 21 2-23 2-28 2 32 2-4 3 13 2-22 2 16 2-14 2 42 3-33 2 11 2-2 2 35 2-32 3 45 2-16 2-2 2 2 3 20 2-10 2-8 2 2 2 38 3-22 2-16 2 22 2-32 2 18 3-12 2 15 2 5 2-35 2 10 3-7 2 10 2-14 2 4 2-6 3-34 2 11 2 14 2-15 2-1 3 9 2 2 2-24 2 24 2-2 3 17 2-14 2 11 2 16 2-3 3-4 2 28 2-32 2 10 2 30 3 7 2-3 2 6 2-24 3-3 2 24 2-18 2-14 2 10 3-6 2 22 2-47 2 1 2-6 3 7 2 7 2 14 2-23 2-20 3 13 2 7 2-1 2-30 2 27 3-34 2-9 2 32 2-27 2 22 3-1 2 10 2 29 2-2 2-16 3 2 2 18 2-4 2 18 2-2 3-10 2 15 2 2 2 15 3 3 2 4 2-18 2 15 2-10 3 7 2-37 2-9 2 24 2-25 3 2 2 13 2-9 2-10 2-10 3 17 2-17 2-2 2-35 2 11 3-11 2 8 2 5 2 11 2-1 3-20 2 3 2 24 2 14 2 4 3 3 2 2 2-12 2-3 2 17 3 6 2 21 2-2 2-7 3 18 2 4 2-28 2 45 2-7 3-31 2-17 2 31 2-12 2 6 3 2 2-19 2 8 2-16 2-27 3 23 2 8 2-10 2 3 2-46 3 31 2-29 2 18 2-2 2-8 3-25 2 41 2 2 2 6 2-18 3 24 2-29 2 31 2-2 2 11 3 6 2-21 2 21 2 7 3 13 2 10 2-23 2 21 2 16 3-39 2 36 2-19 2 9 2-20 3-23 2 27 2 1 2-32 2 2 3-21 2 6 2-15 2 40 2-46 3 4 2-2 2-6 2 3 2 22 3-28 2-7 2 28 2 1 2-22 3 45 2-15 2-13 2 39 2-5 3-8 2 10 2 11 2 16 2-15 3-22 2 10 2 33 2-17 3 28 2 5 2-15 2-24 2-12 3-1 2 31 2-39 2 38 2-10 3-17 2 8 2-3 2-32 2 26 3-36 2 27 2-8 2-4 2-30 3-9 2 32 2-3 2-5 2 2 3 0 2-9 2 33 2-6 2 20 3-32 2 8 2 30 2-2 2 5 3-17 2 5 2 10 2 27 3 0 2-17 2 1 2 19 2 3 3-18 2-17 2-10 2 25 2-9 3-6 2-28 2 33 2-41 2 20 3-10 2-12 2-15 2 12 2-11 3 27 2-13 2-16 2 6 2-15 3 21 2-16 2 26 2 11 2-18 3 14 2-9 2 8 2 19 2-8 3-13 2 37 2-18 2 15 3-16 2 3 2 17 2 8 2 4 3 15 2-8 2-33 2-2 2 14 3 13 2-7 2-3 2-6 2-21 3-13 2-1 2-14 2 22 2 4 3-9 2-35 2 32 2-11 2-1 3-21 2 39 2-16 2 0 2 24 3-19 2-5 2 6 2 7 2 15 3-9 2 11 2-7 2 14 3-7 2 12 2 14 2 2 2 18 3-31 2 15 2 12 2 0 2-9 3-25 2 8 2-22 2 6 2-15 3 26 2-32 2 30 2-28 2 4 3 8 2-18 2-33 2 25 2-34 3 32 2-13 2 7 2-8 2 27 3 2 2-6 2 14 2 13 2-8 3-22 2 12 2 7 2 14 3 24 2-5 2-2 2-13 2 5 3 12 2 25 2-22 2 20 2-34 3 5 2-18 2 14 2-1 2-13 3-6 2 20 2-30 2 13 2 5 3-10 2-32 2 16 2 15 2-12 3-12 2-25 2 2 2 19 2-12 3 7 2 29 2 4 2-13 2-15 3 33 2 9 2-25 2 15 3 17 2 12 2-38 2 29 2 19 3-33 2 43 2-31 2 16 2 23 3-33 2 25 2-5 2-13 2 7 3-20 2-10 2-4 2-14 2 28 3-13 2-15 2 9 2-36 2 34 3-5 2-24 2-15 2 14 2-17 3 27 2-17 2-8 2 35 2-5 3-12 2 36 2-17 2 1 2 30 3-6 2 15 2-18 2-6 3 33 2-35 2 27 2-1 2 11 3-16 2 17 2-19 2-22 2 17 3 3 2 1 2-3 2-2 2-38 3-4 2 19 2-1 2 0 2-32 3 27 2-34 2 15 2-4 2 12 3-34 2 22 2-17 2 18 2 1 3 29 2-25 2 32 2-32 2 1 3 44 2-35 2 12 2 14 3 1 2-4 2 38 2-6 2-1 3 6 2 7 2-11 2-26 2 9 3 10 2 7 2-33 2-13 2 19 3 15 2-14" fill="none" stroke="#ff0000" stroke-width="16" stroke-linejoin="round"/><path d="M3113 650l2 3 2 4 3 3 2 5 2 2 2 3 2 6 3 6 2 5 2 4 2 4 2 3 3 2 2 5 2 2 2 4 2 5 3 4 2-2 2-6 2-4 3-6 2-3 2 0 2-3 2-5 3-8 2-4 2-5 2-5 2-5 3-5 2-2 2-6 2-2 2-7 3-2 2-5 2 1 2 3 2 5 3 6 2 6 2 5 2 3 2 2 3 3 2 6 2 6 2 3 2 2 3 3 2 8 2 5 2 6 2 2 3 5 2 5 2 2 2-4 3-6 2-4 2-5 2-4 2-5 3-5 2-5 2-3 2-5 2-4 3-4 2-4 2-5 2-4 2-3 3-5 2-4 2-5 2-4 2 5 3 5 2 5 2 6 2 5 2 4 3 2 2 5 2 5 2 5 2 3 3 5 2 5 2 5 2 2 2 3 3 2 2 6 2 5 2 4 3-3 2-4 2-2 2-6 2-5 3-5 2-4 2-4 2-5 2-3 3-5 2-4 2-5 2-4 2-5 3-3 2-6 2-4 2-5 2-3 3 1 2 3 2 4 2 4 2 5 3 6 2 4 2 5 2 6 2 4 3 5 2 2 2 5 2 1 2 5 3 4 2 7 2 6 2 3 2 7 3-1 2 0 2-7 2-4 3-3 2-3 2-4 2-6 2-3 3-5 2-3 2-6 2-3 2-3 3-4 2-3 2-3 2-3 2-4 3-4 2 0 2 2 2 3 2 2 3 3 2 3 2 5 2 6 2 4 3 1 2 3 2 3 2 6 2 6 3 4 2 0 2 3 2 6 2 6 3 2 2 2 2-5 2 0 3-2 2-6 2-4 2-8 2-3 3-5 2-3 2-4 2-4 2-5 3-6 2-2 2-1 2 0 2-5 3-6 2-8 2-5 2 4 2 4 3 4 2 4 2 6 2 3 2 5 3 4 2 4 2 2 2 3 2 5 3 6 2 4 2 4 2 2 2 7 3 4 2 4 2 3 2-2 3 0 2-5 2-5 2-8 2-6 3-1 2-2 2-2 2-5 2-5 3-5 2-4 2-4 2-2 2-4 3-6 2-5 2-8 2-3 2-1 3 3 2 3 2 6 2 8 2 5 3 2 2 2 2 3 2 6 2 5 3 3 2 3 2 5 2 6 2 3 3 0 2 7 2 6 2 6 3 3 2-4 2-2 2-4 2-4 3-6 2-5 2-3 2-5 2-3 3-3 2-3 2-4 2-4 2-1 3-6 2-5 2-7 2-2 2-1 3-4 2 3 2 1 2 4 2 6 3 4 2 4 2 0 2 5 2 3 3 5 2 3 2 4 2 4 2 4 3 4 2 3 2 6 2 4 3 4 2 2 2 0 2-2 2-4 3-3 2-4 2-3 2-5 2-5 3-4 2-3 2-4 2-3 2-1 3-3 2-3 2-5 2-3 2-4 3-1 2-6 2 3 2 2 2 5 3 0 2 2 2 4 2 3 2 5 3 5 2 3 2 1 2 1 2 3 3 6 2 4 2 5 2 0 2 6 3 5 2 6 2 2 2-4 3-4 2-5 2-5 2-9 2-3 3-6 2-2 2-7 2-2 2-5 3-3 2-4 2-5 2-7 2-2 3-3 2-3 2-7 2-6 2 5 3 2 2 3 2 3 2 8 2 8 3 5 2 5 2 3 2 3 2 4 3 3 2 5 2 4 2 5 2 4 3 4 2 6 2 5 2 6 3-2 2-3 2-5 2-4 2-6 3-4 2-4 2-4 2-2 2-2 3-2 2-6 2-5 2-6 2-5 3-2 2-3 2-3 2-5 2-3 3 0 2 2 2 2 2 3 2 6 3 5 2 1 2 3 2 5 2 8 3 4 2 2 2 4 2 5 2 5 3 4 2 2 2 1 2 2 3 3 2 4 2-2 2-2 2-2 3-3 2-2 2-4 2-6 2-5 3-5 2-1 2-4 2-4 2-4 3-5 2-4 2-2 2-3 2-3 3-6 2-2 2 3 2 7 2-2 3 4 2 2 2 4 2 3 2 5 3 5 2 3 2 2 2 4 2 7 3 6 2 6 2 2 2 1 3 1 2 4 2 2 2-1 2-3 3-2 2-6 2-3 2-4 2-5 3-6 2-5 2-3 2-5 2-4 3-4 2-2 2-5 2-4 2-3 3-2 2-5 2-5 2-2 2 4 3 3 2 3 2 4 2 5 2 7 3 3 2 2 2 4 2 7 2 4 3 3 2 3 2 5 2 2 3 4 2 4 2 5 2 4 2 4 3-3 2-3 2-3 2-4 2-4 3-3 2-4 2-3 2-6 2-5 3-3 2-3 2-2 2-5 2-4 3-6 2-3 2-5 2-4 2-2 3 4 2 3 2 4 2 5 2 6 3 2 2 3 2 1 2 8 2 5 3 6 2 2 2 2 2 5 2 3 3 4 2 1 2 3 2 4 3 5 2-1 2-5 2-2 2-5 3-2 2-6 2-5 2-6 2-4 3-1 2 0 2-3 2-5 2-5 3-3 2-5 2-4 2-7 2-2 3-4 2 2 2 2 2 3 2 5 3 6 2 4 2 2 2 2 2 4 3 4 2 4 2 4 2 3 2 5 3 3 2 3 2 5 2 5 3 5 2 3 2 0 2-4 2-3 3-5 2-4 2-6 2-5 2-7 3-4 2-5 2-4 2-4 2-3 3-2 2-3 2-6 2-6 2-4 3-4 2-5 2-5 2 3 2 5 3 5 2 6 2 5 2 4 2 6 3 5 2 3 2 4 2 3 2 9 3 3 2 6 2 3 2 6 3 4 2 3 2 3 2 3 2-4 3-6 2-5 2-3 2-4 2-1 3-5 2-6 2-5 2-4 2 0 3-4 2 0 2-6 2-3 2-7 3-4 2-7 2-5 2-7 2 2 3 8 2 7 2 6 2 2 2 2 3 5 2 4 2 6 2 3 2 5 3 3 2 1 2 2 2 6 3 8 2 5 2 3 2 2 2 3 3 1 2-2 2-3 2-2 2-5 3-3 2-6 2-5 2-5 2-4 3-3 2-3 2-4 2-2 2-4 3-4 2-5 2-5 2-3 2-3 3-1 2 3 2 1 2 3 2 6 3 6 2 4 2-1 2 4 2 3 3 5 2 3 2 8 2 6 2 5 3 0 2 6 2 2 2 5 3 1 2 4 2-2 2-4 2-3 3-4 2-2 2-3 2-6 2-2 3-6 2-4 2-5 2-2 2-3 3-5 2-3 2-6 2-2 2-6 3-5 2-4 2 0 2 8 2 6 3 4 2 1 2 3 2 3 2 5 3 2 2 4 2 5 2 6 2 7 3 4 2 2 2 5 2 1 3 5 2 2 2 5 2-1 2-3 3-2 2-5 2-5 2-6 2-2 3-5 2-2 2-3 2-3 2-4 3-5 2-5 2-3 2-4 2-3 3-4 2-5 2-1 2-1 2 5 3 2 2 5 2 2 2 2 2 4 3 5 2 4 2 3 2 4 2 4 3 1 2 3 2 4 2 7 3 5 2 4 2 4 2 4 2 1 3-4 2-5 2-1 2-4 2-1 3-5 2-4 2-7 2-4 2-4 3-1 2-4 2-4 2-4 2-3 3-5 2-3 2-5 2-3 2-6 3 4 2 5 2 5 2 4 2 2 3 4 2 2 2 3 2 2 2 6 3 2 2 5 2 5 2 5 3 5 2 3 2 5 2 4 2 4 3 1 2-2 2-3 2-5 2-2 3-8 2-2 2-10 2-2 2-6 3 0 2-3 2-1 2-3 2-5 3-6 2-6 2-6 2-4 2-4 3-4 2-2 2 2 2 5 2 6 3 5 2 4 2 4 2 6 2 5 3 4 2 3 2 5 2 6 3 5 2 4 2 2 2 5 2 7 3 4 2 3 2-3 2-3 2-4 3-2 2-5 2-4 2-1 2-3 3-3 2-7 2-2 2-1 2-5 3-6 2-5 2-2 2-2 2-5 3-4 2-6 2-3 2 4 2 6 3 3 2 3 2 2 2 4 2 4 3 4 2 3 2 4 2 6 3 5 2 4 2-1 2 6 2 3 3 5 2 4 2 3 2 6 2-3 3-3 2-5 2-6 2-4 2-1 3-6 2-4 2-5 2-3 2-3 3-3 2-2 2-5 2-4 2-4 3-3 2-5 2-6 2-5 2 0 3 5 2 3 2 2 2 6 2 3 3 7 2 3 2 4 2 3 2 3 3 4 2 6 2 5 2 4 3 1 2 4 2 5 2 4 2 4 3 2 2-4 2-7 2-4 2-3 3-3 2-5 2-6 2-3 2-4 3-3 2-6 2-5 2-4 2-3 3-1 2-4 2-6 2-6 2-3 3-1 2 5 2 4 2 2 2 4 3 4 2 5 2 5 2 3 2 4 3 4 2 3 2 3 2 3 3 4 2 9 2 4 2 8 2 2 3 1 2 4 2-5 2-1 2-4 3-3 2-3 2-5 2-4 2-6 3-3 2-3" fill="none" stroke="#008000" stroke-width="16" stroke-linejoin="round"/></g></g><rect x="300.5" y="61.5" width="242.0" height="15.0" fill="none" stroke="#303030" stroke-width="1"/><line x1="297.70" x2="300.50" y1="63.5" y2="63.5" stroke="#262626" stroke-width="0.9"/><text x="296.20" y="65.60" class="tk" text-anchor="end">1</text><line x1="297.70" x2="300.50" y1="73.5" y2="73.5" stroke="#262626" stroke-width="0.9"/><text x="296.20" y="75.60" class="tk" text-anchor="end">0</text><line x1="311.5" x2="311.5" y1="76.5" y2="79.1" stroke="#262626" stroke-width="0.9"/><line x1="355.5" x2="355.5" y1="76.5" y2="79.1" stroke="#262626" stroke-width="0.9"/><line x1="399.5" x2="399.5" y1="76.5" y2="79.1" stroke="#262626" stroke-width="0.9"/><line x1="443.5" x2="443.5" y1="76.5" y2="79.1" stroke="#262626" stroke-width="0.9"/><line x1="487.5" x2="487.5" y1="76.5" y2="79.1" stroke="#262626" stroke-width="0.9"/><line x1="531.5" x2="531.5" y1="76.5" y2="79.1" stroke="#262626" stroke-width="0.9"/><g clip-path="url(#rb4)"><g transform="scale(0.1)"><path d="M3113 876l2 18 2-11 3 34 2 0 2-15 2-1 2 34 3-17 2 0 2-2 2 7 2 15 3-28 2-13 2-6 2 15 2-6 3-25 2 5 2 24 2-18 3-16 2-11 2 25 2-32 2 4 3-11 2-3 2-8 2 4 2 21 3 19 2 16 2-36 2 3 2 38 3-29 2 29 2 17 2-21 2 4 3-19 2 13 2 12 2 7 2 13 3 7 2-6 2-10 2 30 2-43 3 33 2-32 2 12 2 6 2-9 3-25 2-15 2 11 2-5 3 23 2-43 2 6 2 21 2-3 3-6 2 5 2-15 2-13 2 15 3 7 2-30 2 9 2-3 2 22 3 12 2-23 2 25 2-6 2 25 3-8 2 7 2-23 2 48 2-19 3 12 2-6 2 19 2-29 2 31 3-40 2 34 2-31 2 15 2 8 3-6 2-30 2-2 2-10 3 19 2 6 2-3 2-5 2-10 3-6 2 6 2-24 2 11 2-36 3 37 2-15 2 19 2 3 2 6 3 10 2-27 2 11 2 4 2 7 3 0 2 22 2-15 2 30 2-22 3 23 2-6 2-1 2 18 2 11 3-31 2 7 2-18 2 13 2-2 3-22 2 15 2 9 2-30 2-23 3 19 2 9 2-5 2 0 3-23 2 20 2-40 2 24 2 9 3-10 2 1 2-2 2 15 2-1 3-22 2 18 2-17 2 33 2-1 3 9 2 6 2 7 2-39 2 9 3 34 2 3 2-7 2 23 2-9 3-4 2-22 2 1 2 7 2-12 3-14 2 24 2 0 2 8 2-16 3-34 2-1 2 4 2 10 3-32 2 0 2 23 2 4 2-20 3 11 2-36 2 2 2 1 2-2 3 8 2 17 2 4 2-12 2 2 3 17 2 23 2-16 2 16 2-15 3 8 2 13 2 12 2-9 2 22 3-20 2 29 2 3 2-30 2 34 3-35 2-7 2 19 2-2 2-32 3 6 2 12 2 12 2-7 3-33 2 1 2 17 2-21 2 2 3-8 2-8 2-6 2-6 2 12 3 1 2 7 2 18 2-32 2 27 3-12 2 13 2-5 2 19 2-3 3 17 2 8 2-7 2-22 2 32 3 23 2-23 2-13 2 36 2-38 3 21 2 5 2 0 2-24 2-3 3-2 2-5 2-15 2-2 3-10 2-4 2 1 2 20 2 14 3-19 2-20 2 8 2-24 2-1 3-5 2 13 2 7 2-5 2 36 3 1 2-13 2 8 2 10 2-24 3 18 2 2 2-9 2 29 2-6 3 13 2-21 2 24 2-19 2 34 3 9 2-21 2 9 2-21 2-20 3 16 2 3 2-12 2 7 3-27 2-18 2-4 2-6 2 15 3-22 2 29 2-4 2-34 2 17 3-23 2 18 2-22 2 3 2 32 3 5 2 19 2 6 2 3 2-8 3-5 2 26 2-19 2 18 2-26 3 25 2 28 2-35 2 9 2 22 3 2 2 0 2 9 2-6 2 3 3-5 2-34 2 16 2-12 2-6 3 22 2-22 2 4 2-28 3 17 2-11 2-22 2 5 2-15 3 26 2-10 2-4 2-23 2 10 3 18 2 21 2-26 2 18 2 9 3 8 2-15 2-7 2 21 2-8 3 13 2 24 2-32 2 48 2-6 3 2 2-1 2-19 2-6 2 12 3 3 2 6 2-3 2-8 2-34 3 27 2-2 2-7 2-22 3-15 2 0 2 11 2 9 2-35 3 17 2-17 2 14 2-20 2-9 3 27 2 12 2-2 2-16 2 17 3-17 2 20 2 16 2 5 2 8 3 1 2 10 2-19 2 30 2-20 3 4 2 4 2 26 2-26 2 5 3 10 2 17 2-46 2-3 2-12 3 28 2-34 2 10 2-2 3-18 2 4 2 11 2 12 2-17 3-1 2-22 2 15 2-8 2-18 3-3 2 12 2 12 2-8 2 0 3 26 2-26 2 32 2-18 2 21 3-9 2 7 2-10 2 11 2 9 3 2 2 14 2-8 2-2 2 19 3-8 2 18 2-8 2-24 2 5 3 15 2-24 2-7 2-5 3 12 2-23 2 10 2-9 2 20 3-40 2 2 2-5 2-8 2 37 3-40 2 16 2-1 2 28 2-29 3 13 2 9 2 17 2-4 2 5 3-18 2 21 2 5 2 18 2-26 3-7 2 5 2 22 2-7 2 18 3-4 2-3 2 19 2-33 2 14 3-22 2 34 2-2 2-14 3-25 2-4 2-16 2 2 2 23 3-16 2-23 2 34 2-9 2-38 3 27 2-35 2 5 2 6 2-11 3 38 2 2 2-18 2-6 2 44 3-20 2 7 2 15 2 11 2-14 3 4 2-3 2 29 2 3 2-3 3 17 2-2 2-4 2-28 2 32 3-34 2 26 2-12 2-34 2-5 3 3 2 30 2-32 2 27 3-39 2-1 2 25 2-40 2 0 3 5 2-9 2 2 2-12 2 9 3-11 2 31 2 6 2-11 2-7 3 9 2 20 2-19 2 8 2 12 3 13 2 10 2 0 2-7 2 0 3 3 2 26 2-6 2-14 2 0 3 15 2-25 2 32 2-6 2-37 3 31 2-11 2 8 2-17 3 2 2-4 2 3 2-7 2-2 3-15 2-3 2 10 2-24 2-22 3 11 2 7 2 10 2 18 2 3 3 1 2 1 2-5 2-18 2 10 3 15 2-21 2 42 2-15 2 11 3 15 2-28 2 43 2-43 2 45 3-7 2-30 2 27 2 8 2-6 3-6 2-6 2-6 2-18 3-8 2 20 2-46 2 31 2 1 3-34 2 1 2 17 2-29 2 19 3-23 2 26 2-37 2 2 2 38 3-18 2-11 2 11 2 17 2 9 3-6 2-2 2 34 2-21 2 2 3 36 2-39 2 28 2 0 2 8 3 11 2-19 2-13 2 7 2 24 3-44 2 12 2 19 2-6 3-10 2-4 2 11 2-35 2 23 3-19 2 6 2-31 2-4 2 0 3-2 2-17 2 9 2-18 2 3 3 13 2 12 2-8 2 16 2-3 3 13 2 26 2-8 2-14 2 4 3 8 2 20 2 11 2-10 2-11 3 28 2-15 2 35 2-2 2-24 3 7 2-20 2-11 2 28 2-13 3 5 2-19 2-21 2-1 3 38 2-27 2 3 2 0 2-28 3 6 2 18 2-7 2-9 2 7 3 3 2 1 2 7 2-9 2 0 3-15 2 43 2-28 2 30 2-34 3 11 2 29 2 6 2 8 2-22 3-5 2 40 2-17 2 8 2-14 3 20 2-21 2-22 2 14 2-3 3 13 2-5 2-34 2 35 3-40 2 0 2 4 2-24 2 25 3 2 2-7 2-36 2 26 2-36 3 17 2-10 2 11 2 8 2-15 3 3 2 16 2-2 2 4 2 23 3 7 2 14 2-6 2 21 2-31 3 12 2 28 2 1 2-23 2 28 3-19 2 17 2-8 2-2 2 17 3-7 2-34 2-8 2 20 3-8 2 0 2-15 2 17 2-15 3 7 2-28 2-4 2-2 2 7 3-21 2-13 2 15 2 0 2 4 3 12 2 6 2-4 2 13 2 0 3 19 2-1 2-1 2-14 2 24 3-5 2 4 2 23 2-35 2 4 3 15 2 0 2 25 2 5 2-40 3 2 2 31 2-24 2-17 3-9 2 1 2 28 2-26 2-21 3 18 2 10 2-33 2 28 2-8 3 3 2-10 2-28 2 4 2 26 3-8 2-3 2-9 2 10 2-8 3-3 2 36 2-24 2 14 2 23 3 1 2-12 2 12 2-6 2 24 3 5 2-5 2 15 2-4 2 7 3-24 2-6 2 15 2-32 3 13 2-10 2-3 2-5 2 6 3 6 2-4 2-24 2-11 2 0 3-8 2-9 2 21 2-1 2-37 3 29 2-30 2 41 2-25 2 1 3 3 2 26 2-8 2 21 2 15 3 3 2-26 2 6 2-4 2 8 3 26 2 6 2-12 2-9 2-1 3 18 2 14 2-3 2-11 3 6 2-32 2 19 2-16 2 20 3-42 2 3 2 19 2-8 2-19 3-5 2 19 2-15 2 10 2-16 3 6 2-24 2 16 2-11 2 9 3-7 2 38 2-16 2-11 2 11 3 17 2 19 2-27 2 37 2-27 3 31 2-27 2 41 2-1 2 0 3-16 2-11 2 21 2-14 2 13 3-3 2-10 2-1 2-34 3 13 2-2 2-1 2-13 2 20 3-29 2 28 2-17 2 3 2-11 3 4 2 6 2-42 2 44 2-33 3 27 2-16 2 1 2-1 2 9 3 8 2 33 2-32 2 5 2 28 3-12 2 15 2 12 2 1 2-3 3-14 2-2 2 3 2 6 2 1 3-5 2 9 2-19 2-14 3 28 2-23 2-16 2 26 2-14 3-9 2-3 2-25 2 10 2 3 3-31 2 14 2-12 2 11 2 7 3-25 2 38" fill="none" stroke="#ff0000" stroke-width="16" stroke-linejoin="round"/><path d="M3113 864l2 6 2 6 3 6 2 5 2 7 2 2 2 4 3 4 2-2 2-3 2-6 2-1 3-3 2-3 2-3 2-6 2-5 3-3 2-2 2-4 2-2 3-5 2-5 2-6 2-3 2-2 3-5 2-3 2-1 2 5 2 3 3 5 2 3 2 3 2 4 2 2 3 4 2 5 2 6 2 3 2 1 3 3 2 5 2 5 2 6 2 2 3 5 2 3 2 2 2-6 2-3 3-4 2-3 2-4 2-3 2-1 3-9 2-3 2-7 2 0 3-4 2-5 2-4 2-2 2-4 3-4 2-4 2-2 2-3 2 1 3 2 2 5 2 5 2 3 2 5 3 2 2 3 2 5 2 6 2 4 3 0 2 2 2 4 2 9 2 5 3 2 2 1 2 1 2 4 2-2 3-3 2-2 2-3 2-4 2-6 3-4 2-2 2-2 2-5 3-4 2-3 2-3 2-2 2-4 3-2 2-5 2-7 2-3 2-2 3 4 2 2 2 2 2 7 2 1 3 2 2 2 2 5 2 6 2 3 3 5 2 4 2 3 2 2 2 4 3 4 2 4 2 5 2 4 2 6 3-6 2-4 2-6 2 0 2-5 3-3 2-5 2-2 2-6 2-6 3-3 2-1 2-4 2-3 3-5 2-4 2-6 2 0 2-1 3-4 2-1 2 3 2 4 2 3 3 1 2 5 2 7 2 4 2 0 3 1 2 4 2 7 2 4 2 7 3 1 2 2 2 1 2 7 2 6 3 4 2-2 2-4 2-4 2-5 3-5 2-6 2-3 2-2 2-3 3-7 2-8 2-3 2-2 3-3 2-4 2-4 2-4 2-7 3-4 2-5 2-1 2 5 2 5 3 5 2 4 2 4 2 4 2 3 3 3 2 5 2 6 2 5 2 3 3 4 2 6 2 4 2 5 2 4 3 5 2 5 2 2 2-2 2-5 3-6 2-3 2-4 2 0 2-6 3-2 2-5 2-4 2-6 3-4 2-4 2-4 2-5 2-4 3-3 2-3 2-5 2-2 2 2 3 5 2 3 2 3 2 6 2 4 3 8 2 2 2 2 2-1 2 3 3 4 2 6 2 4 2 2 2 4 3 8 2 5 2 2 2 3 2-4 3-3 2-7 2-2 2-3 2-1 3-5 2-3 2-4 2-3 3-4 2-6 2-4 2 0 2-2 3-3 2-9 2-6 2-5 2-4 3 1 2 3 2 6 2 5 2 5 3 4 2 2 2 3 2 4 2 3 3 7 2 1 2 7 2 4 2 4 3 2 2 4 2 4 2 4 2 3 3 1 2-3 2-2 2-6 2-3 3-5 2-5 2-6 2-5 3-4 2-6 2-5 2-7 2-5 3-4 2-2 2-7 2-5 2-5 3 1 2 0 2 3 2 2 2 5 3 6 2 6 2 3 2 7 2 2 3 5 2 4 2 6 2 3 2 5 3 5 2 4 2 1 2 2 2 9 3 6 2 5 2-5 2-5 2-2 3-5 2-4 2-4 2-1 2-4 3-7 2-6 2-2 2-4 3-3 2-5 2-4 2-7 2-3 3-1 2-2 2-5 2 2 2 3 3 3 2 4 2 4 2 5 2 5 3 5 2 4 2 0 2 3 2 3 3 8 2 4 2 4 2 5 2 4 3 7 2 1 2 4 2-5 2-6 3-5 2-3 2-3 2-3 2-5 3-2 2-6 2-5 2-4 3-1 2-6 2-6 2-7 2-4 3-3 2-4 2-5 2-5 2-2 3 7 2 5 2 7 2 0 2 6 3 3 2 5 2 4 2 3 2 6 3 4 2 4 2 5 2 6 2 6 3 3 2 3 2 4 2 5 2 4 3-5 2-3 2-7 2-6 2-8 3-5 2-2 2-2 2-3 3-5 2-4 2-2 2-3 2-7 3-5 2-2 2-2 2-6 2-7 3-3 2 6 2 3 2 5 2 4 3 4 2 3 2 3 2 6 2 5 3 6 2 2 2 5 2 3 2 7 3-1 2 7 2 3 2 9 2 2 3 2 2-1 2-3 2-2 2-10 3-6 2-4 2-1 2-2 3-5 2-5 2-3 2 1 2-5 3-4 2-5 2-4 2-5 2-3 3-3 2-4 2 5 2 5 2 4 3 4 2 4 2 2 2 2 2 4 3 5 2 3 2 3 2 6 2 5 3 4 2 2 2 5 2 2 2 3 3 0 2 6 2-2 2-3 2-7 3-2 2-3 2-3 2-2 3-4 2-5 2-6 2-6 2-5 3 0 2-4 2-2 2-6 2-3 3-3 2-8 2-4 2 0 2 5 3 4 2 3 2 7 2 2 2 6 3 3 2 7 2 6 2 4 2 2 3 2 2 4 2 3 2 3 2 4 3 5 2 3 2 3 2 1 2-2 3-1 2-2 2-7 2-7 2-5 3-4 2-4 2-4 2-2 3 0 2-3 2-2 2-9 2-5 3-2 2-2 2-5 2-5 2-3 3 2 2 4 2 7 2 6 2 3 3 3 2 3 2 2 2 4 2 6 3 4 2 6 2 4 2 2 2 1 3 0 2 6 2 6 2 4 2 2 3-4 2-3 2-5 2-6 2-3 3-1 2-2 2-3 2-4 3-4 2-2 2-4 2-3 2-6 3-3 2-6 2-3 2-5 2-1 3-3 2 2 2 3 2 2 2 8 3 3 2 4 2 0 2 7 2 4 3 4 2 0 2 5 2 5 2 4 3 4 2 3 2 5 2-1 2 5 3 3 2 1 2-6 2-4 2-5 3-6 2-2 2-2 2-2 3-4 2-6 2-6 2-5 2-4 3-2 2-4 2-4 2-7 2-2 3-6 2 0 2-1 2 5 2 3 3 4 2 6 2 4 2 4 2 2 3 4 2 4 2 6 2 3 2 3 3 7 2 5 2 3 2-2 2 5 3 3 2 6 2 1 2-1 2-6 3-8 2-4 2-3 2-1 3-4 2-2 2-7 2-4 2-7 3-6 2-4 2-2 2-1 2-6 3-5 2-7 2-3 2-5 2 6 3 5 2 4 2 2 2 5 2 6 3 6 2 2 2 4 2 2 2 6 3 7 2 6 2 5 2 2 2 5 3 3 2 7 2 4 2 4 2-4 3-5 2-4 2-5 2-2 2-5 3-5 2-5 2 0 2-2 3-5 2-8 2-3 2 1 2-2 3-2 2-5 2-4 2-6 2-4 3 5 2 5 2 1 2 1 2 3 3 5 2 6 2 4 2 4 2 4 3 1 2 4 2 2 2 5 2 3 3 3 2 4 2 6 2 3 2 4 3-4 2-3 2-8 2-2 2-7 3-3 2-4 2-1 2-6 3-6 2-3 2-2 2-6 2-4 3-4 2-4 2-7 2-6 2-3 3-6 2 2 2 4 2 8 2 0 3 8 2 4 2 7 2 1 2 5 3 4 2 4 2 6 2 5 2 5 3 0 2 5 2 7 2 8 2 4 3 2 2 0 2-3 2-3 2-5 3-5 2-2 2-5 2-4 3-7 2-2 2-3 2-2 2-4 3-4 2-7 2-3 2-6 2-1 3-5 2-4 2-4 2 4 2 5 3 3 2 3 2 5 2 6 2 5 3 2 2 2 2 4 2 3 2 6 3 3 2 5 2 3 2 5 2 6 3 4 2 5 2-1 2-2 2-6 3-1 2-3 2-6 2-5 3-5 2-1 2-1 2-4 2-3 3-4 2-3 2-3 2-6 2-4 3-7 2-3 2-4 2-4 2 5 3 5 2 3 2 1 2 1 2 6 3 2 2 6 2 5 2 5 2 3 3 4 2 5 2 2 2 3 2 2 3 7 2 6 2 4 2 6 2-6 3-5 2-9 2-6 2 0 3-2 2-3 2-6 2-5 2-2 3-4 2-6 2-5 2-6 2-4 3-3 2-3 2-3 2-5 2-6 3-3 2 4 2 3 2 8 2 3 3 9 2 2 2 8 2 3 2 4 3 1 2 3 2 5 2 7 2 2 3 6 2 4 2 4 2 3 2 2 3 3 2-3 2-1 2-6 3-5 2-6 2-3 2 0 2-3 3-4 2-7 2-3 2-2 2-5 3-3 2-5 2-3 2-4 2-4 3-4 2-2 2 4 2 5 2 5 3 3 2 2 2 5 2 4 2 5 3 2 2 6 2 4 2 5 2 4 3 4 2 4 2 3 2 2 2 3 3 3 2 5 2-4 2-5 2-4 3-4 2-3 2-5 2-5 3-5 2-2 2-3 2-3 2-4 3-2 2-5 2-5 2-4 2-1 3-2 2-4 2-4 2 5 2 3 3 2 2 3 2 3 2 3 2 5 3 4 2 7 2 1 2 3 2 2 3 5 2 5 2 4 2 3 2 1 3 2 2 3 2 5 2-3 2-6 3-3 2-2 2-2 2-3 3-4 2-2 2-3 2-6 2-5 3-8 2-3 2-4 2-5 2-5 3-4 2-3 2-2 2-4 2 1 3 3 2 5" fill="none" stroke="#008000" stroke-width="16" stroke-linejoin="round"/></g></g><rect x="300.5" y="80.5" width="242.0" height="15.0" fill="none" stroke="#303030" stroke-width="1"/><line x1="297.70" x2="300.50" y1="81.5" y2="81.5" stroke="#262626" stroke-width="0.9"/><text x="296.20" y="83.50" class="tk" text-anchor="end">1</text><line x1="297.70" x2="300.50" y1="91.5" y2="91.5" stroke="#262626" stroke-width="0.9"/><text x="296.20" y="93.80" class="tk" text-anchor="end">0</text><line x1="311.5" x2="311.5" y1="95.5" y2="98.1" stroke="#262626" stroke-width="0.9"/><line x1="355.5" x2="355.5" y1="95.5" y2="98.1" stroke="#262626" stroke-width="0.9"/><line x1="399.5" x2="399.5" y1="95.5" y2="98.1" stroke="#262626" stroke-width="0.9"/><line x1="443.5" x2="443.5" y1="95.5" y2="98.1" stroke="#262626" stroke-width="0.9"/><line x1="487.5" x2="487.5" y1="95.5" y2="98.1" stroke="#262626" stroke-width="0.9"/><line x1="531.5" x2="531.5" y1="95.5" y2="98.1" stroke="#262626" stroke-width="0.9"/><g clip-path="url(#rb5)"><g transform="scale(0.1)"><path d="M3113 1078l2-11 2 17 3-39 2 3 2 10 2-29 2 11 3 19 2-30 2 33 2-19 2-11 3 20 2-10 2 5 2 2 2 24 3 9 2-8 2 0 2-10 3 0 2 23 2 3 2 14 2-27 3 21 2-10 2 37 2-6 2-26 3 10 2-13 2-9 2 19 2-31 3 8 2 4 2-22 2 15 2 9 3-11 2-23 2 19 2-1 2-16 3-9 2 7 2-37 2 17 2 19 3-2 2 11 2-31 2 44 2-24 3 40 2-25 2 7 2 22 3-8 2 23 2-26 2 34 2 5 3-21 2-11 2 7 2 22 2 11 3-31 2 8 2-30 2 25 2-12 3 11 2-17 2-4 2-4 2-32 3 33 2-9 2-10 2-32 2 6 3-4 2 17 2-30 2 20 2-11 3 4 2 7 2 1 2 19 2-16 3 10 2 23 2 11 2-21 3 25 2-7 2 17 2-9 2-13 3 7 2 36 2-31 2 11 2-5 3 22 2 3 2-29 2 16 2-33 3-6 2 23 2-8 2-7 2 4 3-19 2 5 2 10 2-18 2-21 3-5 2 1 2 1 2 8 2 9 3-31 2 39 2 4 2-33 2 28 3 12 2-19 2 40 2-6 2-14 3 22 2-8 2 1 2 7 3-10 2 8 2 24 2-12 2 28 3-9 2-20 2-8 2 15 2 14 3-21 2 0 2-30 2-7 2 16 3 8 2-24 2 22 2-34 2 31 3-39 2-8 2 15 2 11 2-17 3-22 2 18 2 10 2 3 2 3 3 11 2 9 2-31 2 15 2 4 3 28 2-15 2-11 2 35 3 5 2 6 2-16 2-6 2 6 3 15 2 2 2-5 2 6 2-2 3-24 2-11 2 25 2-36 2 10 3 5 2 12 2-25 2-26 2 11 3-24 2 35 2-14 2 2 2-9 3-19 2 13 2-15 2 16 2 22 3 7 2-23 2 16 2-19 2 39 3 11 2-21 2 6 2 14 3 9 2-20 2 14 2 0 2-3 3 16 2-13 2 24 2-24 2-1 3-5 2 24 2-23 2 10 2-35 3 37 2-15 2-13 2-6 2 5 3-6 2-31 2 40 2-31 2-13 3 26 2-29 2 18 2-17 2 18 3 24 2-21 2 13 2 18 2-34 3 40 2-17 2 13 2 23 3-2 2-15 2-13 2 36 2-6 3-9 2 10 2-4 2 33 2-5 3-22 2-14 2 19 2-25 2 5 3 1 2-13 2 12 2-30 2 20 3-15 2 11 2-49 2 0 2 10 3 13 2 4 2-23 2 19 2-5 3-5 2 11 2-20 2 23 2 13 3-19 2 6 2 30 2-8 3 21 2-32 2 41 2-30 2 15 3 11 2-8 2 1 2 36 2-18 3-3 2 2 2 2 2-23 2-18 3 30 2-10 2-10 2-34 2 19 3 11 2-9 2 3 2-10 2-26 3 20 2-7 2-11 2-21 2 2 3 14 2-1 2 23 2-24 2 30 3 7 2-12 2 11 2-11 2 32 3 6 2-28 2 20 2-4 3 25 2 13 2-3 2 11 2-23 3-7 2-16 2 40 2-20 2-26 3 29 2-18 2-17 2-13 2 36 3-43 2 33 2-37 2 28 2-14 3-22 2 16 2 8 2-8 2-26 3 26 2-6 2 8 2 17 2-25 3-6 2 2 2 37 2-1 2-24 3 33 2-19 2 9 2-11 3 5 2 27 2 15 2 7 2-3 3-13 2-8 2 18 2-36 2 23 3 10 2-5 2-29 2 18 2-27 3 11 2 1 2-11 2-8 2-22 3 31 2-44 2 14 2 8 2-28 3-2 2 2 2-3 2 48 2-30 3 1 2 37 2-26 2-2 2 33 3-4 2-5 2 14 2 20 3-39 2 36 2-7 2 2 2 4 3-12 2 5 2 9 2 7 2 3 3-39 2 37 2-40 2 4 2-12 3 4 2 11 2 8 2-29 2 5 3-9 2-20 2 22 2 1 2-15 3-31 2 26 2-12 2 8 2 27 3-16 2-1 2-9 2 12 2 31 3-11 2 15 2 13 2-5 3-11 2-7 2 33 2 16 2-19 3 22 2 1 2-39 2 9 2 0 3 18 2-4 2-20 2 15 2-9 3-11 2-15 2-7 2-23 2-5 3 39 2-37 2 35 2-34 2 12 3-16 2-8 2-6 2 1 2-4 3 24 2 23 2-7 2-20 2 12 3-2 2 34 2-8 2-10 3 24 2-3 2 18 2-2 2 7 3-27 2 37 2 14 2-20 2-3 3-1 2-22 2 5 2 5 2-23 3 32 2-36 2 19 2-10 2-28 3 1 2-12 2-3 2 14 2 4 3-21 2 25 2-45 2 37 2-8 3-4 2 9 2-15 2 43 2 0 3-32 2 16 2 10 2-3 2 6 3 0 2 24 2-2 2 11 3 11 2 4 2-13 2 17 2-27 3-2 2 27 2-23 2-16 2-6 3 33 2-21 2-25 2 38 2-27 3-18 2 27 2-19 2-15 2 26 3-21 2 6 2-15 2-29 2 36 3 5 2 6 2-17 2-7 2-1 3 38 2-26 2 9 2-5 2 40 3-11 2 19 2-22 2 6 3-9 2 17 2 3 2 19 2-25 3 35 2-19 2-11 2-12 2 16 3-32 2 12 2-11 2-1 2-4 3 0 2-10 2 16 2 0 2-24 3-5 2 13 2-14 2 6 2 5 3-11 2 2 2-19 2 24 2-14 3 11 2-5 2 5 2 34 2-2 3 20 2-31 2 15 2 12 3 14 2-27 2 24 2-14 2-1 3 24 2 0 2 6 2-33 2 29 3-7 2-11 2 4 2-20 2-22 3 12 2-26 2 22 2 6 2-1 3-22 2 6 2-1 2-35 2 14 3 13 2-14 2 6 2-4 2-2 3 34 2-30 2 6 2 20 2 2 3 23 2-31 2 10 2 21 3 10 2 18 2-11 2 11 2 5 3-35 2 34 2-3 2-24 2 27 3 0 2-39 2 15 2 1 2-16 3-8 2 11 2 1 2-12 2-4 3 0 2 11 2-10 2-3 2-9 3 5 2-15 2 14 2-13 2-5 3 34 2-10 2 5 2-9 2 23 3-7 2-11 2-4 2 5 2 44 3-36 2 22 2-1 2-13 3 39 2-3 2-18 2-5 2-6 3-8 2 12 2 14 2-25 2 8 3 10 2-4 2-19 2 12 2-46 3 18 2 4 2-32 2 1 2-11 3 17 2 3 2-28 2 26 2-9 3 7 2-3 2 24 2 2 2-7 3 21 2 11 2-33 2 21 2 1 3 6 2-4 2 18 2-10 3 13 2 19 2-27 2 28 2-28 3 26 2-24 2 5 2-10 2-2 3-4 2-30 2 20 2-22 2-7 3 13 2 9 2-27 2-8 2 14 3-20 2-5 2-8 2-2 2 41 3-14 2 6 2 12 2-1 2 14 3 8 2-15 2 17 2-13 2-8 3 26 2-17 2 26 2 16 3 13 2 2 2-14 2-9 2 11 3 16 2-25 2-24 2 3 2 0 3 14 2-29 2 2 2 3 2-4 3-11 2 7 2 5 2-24 2 29 3-26 2-17 2-2 2 23 2-11 3-8 2 30 2-7 2-8 2 13 3 23 2-32 2 18 2-2 2 24 3 0 2 9 2 3 2-15 3-11 2 1 2 3 2 37 2 16 3 0 2-40 2 15 2-20 2-12 3-5 2 13 2-23 2-2 2 17 3-19 2 9 2 14 2-17 2-9 3-6 2-10 2-2 2-19 2 10 3 15 2-3 2-6 2-4 2 1 3 10 2 8 2 21 2-7 2-6 3 8 2 24 2-3 2 10 3-2 2-25 2 20 2 9 2 16 3 17 2-30 2-15 2-9 2 39 3-4 2-20 2-23 2 22 2-29 3 10 2-1 2-11 2 25 2-31 3-20 2 14 2 6 2-20 2 22 3-13 2-26 2 6 2 2 2 17 3 6 2-14 2 19 2-4 2 20 3-13 2 18 2 9 2-15 3 27 2 13 2-3 2 4 2 1 3 1 2-19 2 17 2-18 2 22 3-18 2 10 2-47 2 38 2-40 3 40 2-47 2 2 2 8 2 17 3-33 2-11 2-10 2-7 2 0 3-5 2 12 2 2 2 23 2-6 3-5 2 1 2 21 2-10 2 8 3 8 2 23 2-39 2 21 2-1 3 30 2 4 2-16 2 0 3 3 2 28 2-1 2 15 2-9 3-1 2-38 2 27 2 1 2-3 3-6 2-44 2 10 2 8 2-4 3-5 2 5 2 2 2-5 2-42 3 31 2-24 2 5 2-8 2 7 3 7 2 14 2-6 2-11 2 17 3-2 2 6 2 10 2-12 2 17 3 9 2 12 2-20 2 1 3 3 2 37 2 4 2 5 2-14 3-28 2 23 2 4 2-24 2 12 3-7 2-25 2-15 2 29 2-7 3-24 2 28" fill="none" stroke="#ff0000" stroke-width="16" stroke-linejoin="round"/><path d="M3113 1045l2-6 2-3 3-4 2-5 2-7 2-2 2-3 3-1 2-2 2 3 2 3 2 1 3 3 2 6 2 5 2 3 2 2 3 4 2 8 2 4 2 3 3 2 2 1 2 3 2 4 2 4 3 5 2 2 2 7 2-5 2-1 3-4 2-1 2-3 2-6 2-6 3-6 2-4 2-6 2-4 2-2 3-4 2-1 2-5 2-2 2-5 3-3 2-4 2-5 2 2 2 4 3 3 2 4 2 3 2 4 2 7 3 7 2 4 2 1 2 2 3 4 2 6 2 5 2 4 2 4 3 5 2 4 2 5 2 3 2-6 3-7 2-8 2-4 2-4 2-3 3-2 2-5 2-6 2-4 2-4 3-5 2-6 2-4 2-3 2-3 3-5 2-7 2-5 2-3 2 4 3 2 2 6 2 6 2 7 2 4 3 6 2 4 2 5 2 2 3 6 2 4 2 5 2 3 2 2 3 5 2 5 2 8 2 4 2 4 3-6 2-7 2-5 2-4 2-4 3-3 2-4 2-3 2-6 2-6 3-3 2-3 2-4 2-1 2-6 3-4 2-4 2-5 2-3 2-5 3 7 2 3 2 4 2 4 2 5 3 4 2 5 2 6 2 4 2 3 3 3 2 5 2 5 2 5 3 8 2 1 2 3 2 2 2 6 3 1 2-5 2-3 2-2 2-3 3-4 2-4 2-3 2-6 2-5 3-5 2-5 2-4 2-2 2-2 3-1 2-8 2-4 2-6 2-1 3-4 2 2 2 4 2 7 2 6 3 4 2 4 2 2 2 4 2 2 3 5 2 2 2 4 2 5 3 3 2 2 2 2 2 4 2 6 3 4 2 3 2-5 2-1 2-4 3-5 2-3 2-5 2-4 2-4 3-8 2-3 2-5 2-2 2-8 3-4 2-4 2-4 2-4 2-7 3-2 2-1 2 4 2 6 2 5 3 5 2 4 2 3 2 6 2 5 3 6 2 4 2 4 2 0 3 4 2 5 2 7 2 5 2 4 3 4 2 5 2 1 2-5 2-3 3-5 2-6 2-4 2-4 2-3 3-5 2-5 2-4 2-6 2-2 3-5 2-3 2-4 2 0 2-4 3-4 2-2 2-2 2 5 2 3 3 6 2 1 2 4 2 2 2 4 3 5 2 7 2 3 2 3 3 2 2 7 2 3 2 3 2 3 3 6 2 5 2 5 2-3 2-5 3-7 2-4 2-4 2-3 2-3 3-6 2-4 2-5 2-3 2-3 3-5 2-5 2-6 2-6 2-3 3-3 2 0 2-3 2 1 2 2 3 2 2 3 2 4 2 5 2 3 3 5 2 2 2 5 2 4 3 6 2 7 2 6 2 3 2 3 3 3 2 3 2 5 2 5 2-1 3-6 2-3 2-3 2-4 2-7 3-2 2-3 2-3 2-7 2-3 3-5 2-4 2-4 2-4 2-4 3-4 2-5 2-6 2-3 2 6 3 5 2 3 2 1 2 4 2 5 3 5 2 3 2 3 2 5 2 2 3 5 2 5 2 5 2 2 3 7 2 5 2 6 2 2 2 4 3-4 2-2 2-2 2-5 2-4 3-3 2-2 2-5 2-6 2-4 3-2 2-6 2-3 2-3 2 0 3-6 2-4 2-7 2-3 2-3 3 5 2 6 2 4 2 3 2 3 3 1 2 5 2 2 2 4 2 3 3 5 2 4 2 0 2 2 3 7 2 6 2 6 2 2 2 1 3 3 2-6 2-2 2-1 2-2 3-3 2-6 2-8 2-3 2-5 3 0 2-6 2-4 2-5 2-4 3-3 2-2 2-2 2-5 2-3 3-4 2 4 2 3 2 3 2 4 3 4 2 4 2 4 2 4 2 2 3 6 2 3 2 6 2 2 3 1 2 5 2 3 2 7 2 0 3 7 2 2 2-4 2-6 2-3 3-1 2-6 2-4 2-5 2-5 3-4 2-6 2-1 2-1 2-3 3-4 2-8 2-5 2-6 2-3 3-4 2-2 2 3 2 3 2 4 3 6 2 5 2 5 2 3 2 5 3 5 2 4 2 3 2 5 3 6 2 8 2 2 2 3 2-1 3 4 2 4 2 2 2-4 2-3 3-2 2-6 2-3 2-7 2-1 3-5 2-4 2-7 2-6 2-5 3 0 2-3 2-3 2-8 2-4 3-7 2-3 2-2 2 7 2 5 3 5 2 1 2 4 2 5 2 9 3 4 2 1 2 3 2 5 3 3 2 6 2 4 2 5 2 2 3 6 2 6 2 8 2 0 2-6 3-8 2-5 2-3 2-4 2-2 3-5 2-5 2-3 2-2 2-4 3-7 2-3 2-4 2-5 2-9 3-2 2-3 2-2 2-2 2 4 3 5 2 2 2 3 2 6 2 6 3 3 2 2 2 7 2 7 2 7 3 2 2 1 2 3 2 2 3 5 2 3 2 3 2 6 2 2 3-2 2-5 2-3 2-2 2-3 3-6 2-4 2-4 2-2 2-3 3-7 2-3 2-4 2-3 2-4 3-5 2-3 2-7 2-4 2 1 3 9 2 3 2 4 2-1 2 4 3 3 2 4 2 4 2 6 2 5 3 4 2 3 2 4 2 5 3 3 2 3 2 3 2 5 2 3 3-1 2-3 2-3 2-5 2-5 3-5 2-3 2-6 2-3 2-3 3-3 2-7 2-4 2-5 2-1 3-3 2 0 2-5 2-6 2-9 3 4 2 3 2 5 2 2 2 6 3 3 2 5 2 2 2 7 2 4 3 4 2 1 2 4 2 4 3 7 2 5 2 4 2 4 2 4 3 4 2-2 2-6 2-6 2-3 3-3 2-4 2-8 2-3 2-5 3-2 2-7 2-2 2-5 2-3 3-7 2-7 2-4 2-1 2-4 3-6 2 4 2 4 2 6 2 3 3 8 2 4 2 3 2 3 2 3 3 5 2 3 2 5 2 5 3 6 2 4 2 3 2 4 2 4 3 4 2 4 2-1 2-2 2-3 3-4 2-4 2-4 2-3 2-3 3-6 2-2 2-6 2-1 2-5 3-2 2-6 2 0 2-6 2-3 3-7 2-2 2 4 2 4 2 3 3 5 2 5 2 5 2 1 2 1 3 3 2 6 2 5 2 6 2 3 3 3 2 2 2 3 2 3 3 4 2 4 2 3 2-2 2-5 3-3 2-7 2-3 2-3 2-3 3-5 2-5 2-4 2-3 2-5 3-2 2-3 2-3 2-6 2-6 3-4 2-5 2-2 2 2 2 5 3 5 2 5 2 3 2 6 2 2 3 4 2 4 2 4 2 5 2 3 3 4 2 2 2 5 2 5 3 4 2 2 2 4 2 1 2-5 3-6 2-1 2-6 2-2 2-4 3-4 2-7 2-6 2-2 2-3 3-2 2-6 2-4 2-6 2-4 3-4 2-4 2-4 2-2 2 3 3 0 2 3 2 6 2 7 2 7 3 3 2 4 2 5 2 4 2 7 3 3 2 7 2 4 2 7 3 3 2 4 2 1 2 4 2 3 3-4 2-3 2-5 2-3 2-5 3-4 2-4 2-3 2-2 2-4 3-4 2-5 2-4 2-3 2-2 3-6 2-4 2-5 2-3 2-2 3 2 2 5 2 6 2 6 2 4 3 5 2 3 2 3 2 2 2 4 3 1 2 4 2 3 2 6 3 6 2 3 2 2 2 3 2 9 3-1 2-5 2-7 2-3 2-6 3-5 2-2 2-4 2-1 2-6 3-4 2-6 2-4 2-7 2-6 3-5 2-4 2 1 2-3 2-3 3-5 2 4 2 4 2 5 2 4 3 3 2 1 2 6 2 7 2 8 3 6 2 5 2 5 2 0 3 5 2 2 2 5 2 3 2 6 3 4 2-2 2-5 2-3 2-1 3-3 2-7 2-5 2-4 2-3 3-5 2-4 2-1 2-3 2-4 3-8 2-4 2-4 2-4 2-4 3-7 2 0 2 4 2 4 2 6 3 4 2 4 2 4 2 6 2 6 3 3 2 3 2 2 2 5 3 4 2 3 2 4 2 4 2 6 3 4 2 7 2-2 2-5 2-4 3-7 2-6 2-8 2-1 2-2 3-2 2-7 2-3 2-5 2-5 3-6 2-5 2-3 2-6 2-4 3-2 2-2 2 1 2 3 2 5 3 3 2 3 2 5 2 4 2 6 3 3 2 6 2 5 2 5 2 4 3 4 2 5 2 6 2 2 3 6 2 2 2 9 2-2 2-3 3-5 2-7 2-1 2-4 2-2 3-7 2-4 2-7 2-4 2-3 3-4 2-5 2-4 2-4 2-4 3-7 2-2 2-5 2 2 2 3 3 2 2 6 2 6 2 4 2 1 3 4 2 5 2 5 2 5 2 3 3 5 2 3 2 5 2 5 3 6 2 4 2 4 2 3 2-6 3-2 2-5 2-1 2-5 2-2 3-5 2-4 2-4 2-5 2-4 3-1 2-1" fill="none" stroke="#008000" stroke-width="16" stroke-linejoin="round"/></g></g><rect x="300.5" y="98.5" width="242.0" height="15.0" fill="none" stroke="#303030" stroke-width="1"/><line x1="297.70" x2="300.50" y1="99.5" y2="99.5" stroke="#262626" stroke-width="0.9"/><text x="296.20" y="101.70" class="tk" text-anchor="end">1</text><line x1="297.70" x2="300.50" y1="109.5" y2="109.5" stroke="#262626" stroke-width="0.9"/><text x="296.20" y="112.00" class="tk" text-anchor="end">0</text><line x1="311.5" x2="311.5" y1="113.5" y2="116.1" stroke="#262626" stroke-width="0.9"/><line x1="355.5" x2="355.5" y1="113.5" y2="116.1" stroke="#262626" stroke-width="0.9"/><line x1="399.5" x2="399.5" y1="113.5" y2="116.1" stroke="#262626" stroke-width="0.9"/><line x1="443.5" x2="443.5" y1="113.5" y2="116.1" stroke="#262626" stroke-width="0.9"/><line x1="487.5" x2="487.5" y1="113.5" y2="116.1" stroke="#262626" stroke-width="0.9"/><line x1="531.5" x2="531.5" y1="113.5" y2="116.1" stroke="#262626" stroke-width="0.9"/><g clip-path="url(#rb6)"><g transform="scale(0.1)"><path d="M3113 1221l2-4 2 19 3-1 2-27 2 45 2-26 2 14 3 7 2 17 2-17 2 7 2-5 3 14 2-4 2 30 2-25 2 26 3 1 2 13 2-39 2 32 3-11 2-11 2 0 2 11 2-5 3-47 2 20 2-12 2 10 2-7 3-13 2 3 2-9 2-13 2 2 3 20 2-29 2 13 2-15 2-7 3 25 2-10 2 16 2 11 2-27 3 4 2 44 2-6 2-16 2 3 3-1 2 37 2-21 2 1 2 29 3 15 2-32 2 33 2-21 3 25 2-9 2-12 2 8 2-34 3-3 2-15 2 16 2-15 2 3 3 3 2 0 2-21 2-12 2 11 3-10 2 1 2 14 2-13 2 7 3 2 2-3 2-14 2 28 2-20 3 39 2 2 2-30 2 4 2 12 3-12 2 24 2-4 2 14 2 1 3 2 2 22 2-8 2 0 3-2 2-14 2-4 2 12 2-8 3 16 2-3 2-13 2 9 2-29 3 14 2 5 2-31 2 1 2-5 3-4 2-23 2 13 2 0 2-18 3 15 2 4 2-11 2 30 2-9 3-22 2 35 2-22 2 5 2 19 3 28 2-14 2-19 2 28 2 8 3 2 2-11 2-5 2 14 2 25 3 0 2-24 2-7 2-14 3-8 2 3 2 10 2-16 2 9 3-12 2-17 2 40 2-12 2-36 3-6 2 28 2-23 2-19 2-2 3 27 2-27 2 30 2-8 2-24 3 11 2 38 2-7 2-24 2 30 3-20 2 33 2 5 2-26 2 22 3 15 2-14 2 32 2-16 2 29 3-6 2-3 2-24 2 36 3-41 2 28 2-26 2-8 2 13 3-34 2 4 2-6 2 21 2 8 3-32 2 5 2 11 2-18 2-9 3 9 2-27 2-11 2 3 2 22 3 23 2-8 2 2 2-6 2 33 3-27 2 33 2-5 2-7 2-12 3 2 2 3 2 40 2 1 2-26 3 12 2-6 2 20 2 12 3-39 2 16 2 14 2-12 2-35 3-5 2 11 2 8 2 3 2-4 3-2 2-36 2 7 2 18 2-44 3 25 2-31 2 30 2-18 2-25 3 32 2-13 2 32 2-20 2 13 3-7 2 27 2-17 2-3 2 42 3-28 2 20 2 23 2-4 2-9 3 8 2-12 2 37 2 9 3-32 2-2 2 12 2-21 2 18 3-36 2 9 2-6 2 8 2-13 3-6 2-21 2 22 2-3 2-28 3 11 2 1 2-15 2-7 2-10 3 0 2 15 2 29 2-33 2 22 3 15 2 8 2 0 2-3 2-18 3 42 2-21 2-11 2 26 2 13 3 13 2-12 2-9 2-8 3 26 2 23 2-42 2 19 2 8 3-23 2-17 2-6 2 29 2-36 3-3 2-1 2-16 2 15 2 6 3-18 2-8 2-6 2 17 2-29 3-6 2 22 2-15 2 20 2 5 3-2 2-22 2 50 2 6 2-34 3 40 2-23 2-1 2 12 2 20 3 2 2-21 2 36 2-5 2-2 3 23 2-3 2 8 2-28 3-23 2 32 2 1 2-27 2 10 3 7 2-15 2-28 2-6 2 31 3-24 2 19 2-15 2-9 2-3 3-12 2 12 2-14 2-14 2 26 3 0 2 3 2-16 2 45 2-20 3-7 2 25 2-11 2 30 2-32 3 26 2 6 2-4 2-7 2-7 3 11 2-6 2 15 2 8 3-13 2 22 2 0 2-7 2-14 3-12 2-6 2-10 2-3 2-15 3 12 2 8 2 2 2-5 2-23 3 11 2-2 2-35 2 27 2 1 3 1 2-13 2 18 2-19 2 36 3 11 2-23 2 34 2-35 2 42 3-34 2 37 2-11 2 3 2 1 3 11 2 18 2 3 2-6 3-11 2 3 2-33 2 15 2 16 3-24 2 3 2-17 2 8 2-33 3 18 2 2 2 5 2-40 2 31 3-36 2 20 2-13 2-4 2-14 3-7 2 40 2-12 2 8 2 7 3-16 2 14 2-11 2 7 2 37 3 4 2-19 2 36 2-20 2 26 3 5 2-16 2 4 2 18 3 8 2-38 2-6 2-3 2 6 3 10 2-18 2-21 2 13 2 3 3-2 2-3 2-23 2 14 2-14 3 12 2-18 2 13 2-42 2 19 3 8 2-13 2 8 2 21 2-16 3 9 2 10 2-20 2 13 2 16 3 18 2-29 2 17 2 11 2 7 3-1 2 24 2-13 2 10 3-18 2 26 2-12 2-26 2 19 3-6 2 2 2-3 2 2 2-34 3 38 2-21 2 6 2-7 2-7 3-2 2-28 2 11 2-23 2 6 3 7 2-37 2 14 2 10 2-3 3 13 2 17 2 13 2-25 2 33 3-18 2 4 2-2 2 30 2-12 3-4 2 18 2-18 2 41 2-32 3 34 2 19 2-37 2 19 3-20 2 5 2 0 2-23 2-9 3 4 2-10 2-14 2 5 2 1 3 4 2-16 2-17 2 19 2 2 3-26 2-1 2-17 2 2 2 32 3-22 2 6 2 42 2-3 2 8 3-23 2 12 2 11 2-6 2 22 3-23 2 31 2-8 2 1 2-2 3 0 2 7 2 11 2 27 3-29 2-5 2 17 2-7 2-5 3-28 2-17 2 25 2-4 2 7 3-9 2-10 2-16 2-9 2 13 3-21 2 11 2-38 2-2 2 21 3-14 2 28 2-5 2 7 2-1 3 0 2 7 2 12 2 10 2 11 3 0 2 9 2-7 2-12 2 4 3 34 2 3 2-21 2 1 3 34 2-7 2-25 2 4 2-18 3-8 2 20 2-13 2-13 2 20 3-33 2-9 2 28 2-8 2-26 3-12 2 22 2-35 2-1 2 9 3-7 2 4 2 24 2-6 2-10 3 3 2 46 2-21 2 7 2-6 3 7 2 28 2-3 2-27 2 51 3-28 2 12 2 7 2 14 3-8 2-11 2 26 2 1 2-18 3 12 2-11 2-15 2-12 2-17 3 0 2-4 2 1 2 13 2-31 3 18 2-23 2 12 2-17 2 4 3-11 2 19 2-22 2 5 2 37 3-11 2-14 2 6 2 9 2 0 3 32 2-26 2 2 2 20 2 5 3 14 2-16 2 9 2 1 2-7 3 18 2-6 2 16 2 8 3-17 2-12 2-11 2-2 2-2 3-2 2-12 2 18 2 8 2-12 3-2 2-26 2 3 2 6 2-26 3 0 2 1 2-8 2 36 2-11 3 21 2-29 2 7 2-13 2 16 3 30 2-1 2-13 2 10 2-19 3 6 2 20 2 6 2-4 2-2 3 29 2-18 2 25 2-6 3-36 2 33 2-23 2 13 2-30 3 5 2-20 2 30 2-34 2 30 3-29 2 5 2 19 2-23 2-9 3 15 2-18 2-18 2 19 2-13 3 11 2 0 2 32 2-24 2 30 3-30 2 5 2 34 2-6 2-6 3 8 2 3 2-5 2 14 2-4 3-12 2 25 2-17 2 7 3 21 2-11 2 0 2-14 2-26 3-2 2-4 2 21 2-10 2-27 3 23 2 2 2-19 2-21 2-4 3 19 2-12 2-22 2 35 2-27 3 17 2-10 2 27 2-21 2 10 3-14 2 19 2 18 2 14 2-2 3-19 2 5 2 25 2 3 2-17 3 18 2 5 2 9 2-1 3-9 2-8 2 2 2 5 2-22 3 35 2-41 2 14 2 21 2-33 3 4 2 11 2-16 2-3 2-9 3 13 2-16 2-12 2 19 2-20 3-9 2 8 2-18 2 41 2-9 3 15 2-13 2 14 2 6 2 13 3-11 2 7 2 3 2 19 2-14 3-9 2 35 2-33 2 24 3-25 2 5 2 19 2 9 2-8 3 8 2-28 2-11 2 25 2-25 3 8 2-23 2 13 2 6 2-37 3 2 2-4 2 19 2-28 2-17 3 38 2-32 2-2 2-4 2 5 3 6 2 18 2 25 2-32 2 7 3 29 2-22 2 4 2 19 2 16 3-22 2 16 2-8 2 39 3-31 2 38 2 2 2 1 2-11 3-1 2-11 2-1 2-7 2-27 3 5 2-5 2-20 2 24 2 1 3-26 2-9 2 1 2 9 2-8 3 0 2 1 2-18 2-10 2 39 3-9 2 15 2-34 2 35 2 7 3 4 2 9 2-1 2 0 2 0 3-9 2 13 2-5 2-5 2 29 3 22 2-20 2 29 2-31 3 4 2-15 2 0 2 6 2 15 3-11 2-17 2-25 2 35 2-20 3-22 2 29 2-44 2 0 2 35 3-17 2 1 2-28 2-19 2 39 3-22 2 26 2 12 2-5 2-9 3 16 2 15 2-12 2 16 2 9 3 6 2 3 2 0 2-31 2 7 3 36 2 3 2-16 2-8 3-6 2 19 2-10 2 5 2-7 3-28 2 29 2-39 2 25 2-38 3 20 2 13 2-26 2 20 2-41 3 20 2-30" fill="none" stroke="#ff0000" stroke-width="16" stroke-linejoin="round"/><path d="M3113 1186l2 6 2 4 3 4 2 4 2 5 2 5 2 3 3 5 2 2 2 2 2 3 2 7 3 5 2 5 2 3 2 4 2 3 3 4 2 3 2 1 2-7 3-4 2-3 2-2 2-7 2-5 3-5 2-3 2-3 2-4 2-1 3-4 2-4 2-4 2-4 2-6 3-5 2-3 2-4 2-2 2 2 3 4 2 6 2 5 2 5 2 4 3 4 2 4 2 5 2 2 2 6 3 2 2 5 2 4 2 7 2 3 3 4 2 3 2 5 2 2 3-6 2-2 2-4 2-4 2-6 3-2 2-4 2-4 2-5 2-4 3-2 2-3 2-3 2-5 2-4 3-4 2-2 2-4 2-4 2-5 3 2 2 2 2 6 2 7 2 4 3 3 2 3 2 4 2 5 2 4 3 1 2 4 2 3 2 9 2 2 3 4 2 2 2 5 2 6 3 3 2-6 2-4 2-6 2-2 3-6 2-3 2-4 2-5 2-2 3-4 2-2 2-8 2-7 2-2 3-3 2-1 2-5 2-5 2-5 3-5 2 6 2 4 2 5 2 3 3 4 2 2 2 5 2 6 2 5 3 3 2 1 2 4 2 7 2 7 3 4 2 2 2 2 2 5 2 4 3 5 2-7 2-6 2-7 3-2 2-4 2-3 2-5 2-4 3-5 2-5 2 0 2-5 2-6 3-8 2-4 2-1 2-5 2-5 3-7 2-4 2 3 2 5 2 5 3 5 2 5 2 3 2 6 2 3 3 6 2 4 2 5 2 3 2 2 3 5 2 5 2 8 2 5 2 7 3 2 2 5 2-5 2-4 3-5 2-3 2-3 2-5 2-5 3-5 2-4 2-1 2-4 2-3 3-5 2-2 2-2 2-6 2-5 3-5 2-4 2-3 2 1 2 6 3 3 2 3 2 4 2 4 2 7 3 4 2 2 2 2 2 2 2 6 3 5 2 7 2 5 2 4 2 4 3 3 2 5 2 3 2-4 3-6 2-4 2-4 2-4 2-5 3-4 2-7 2-7 2-3 2-5 3-1 2-6 2-4 2-7 2-5 3-7 2-3 2-2 2-3 2 3 3 3 2 5 2 4 2 6 2 3 3 3 2 6 2 6 2 5 2 1 3 6 2 9 2 5 2 2 2 4 3 4 2 8 2 1 2 7 3-7 2-3 2-6 2-1 2-4 3-3 2-5 2-6 2-2 2-2 3-4 2-8 2-7 2-2 2-4 3-5 2-7 2-4 2-5 2-6 3 1 2 7 2 6 2 3 2 5 3 3 2 3 2 5 2 5 2 10 3 1 2 5 2 2 2 7 2 3 3 6 2 2 2 4 2 3 3 6 2-1 2-4 2-4 2-3 3-8 2-3 2-4 2-2 2-3 3-7 2-9 2-3 2-5 2-1 3-8 2-2 2-6 2-3 2-4 3-4 2 1 2 2 2 4 2 1 3 4 2 6 2 7 2 6 2 4 3 6 2 3 2 2 2 7 2 4 3 6 2 1 2 8 2 4 2 5 3 2 2 0 2-1 2-5 3-4 2-5 2-2 2-3 2-3 3-3 2-3 2-4 2-6 2-5 3-3 2-3 2-2 2-4 2-1 3-4 2-5 2-5 2 3 2 4 3 6 2 3 2 5 2 3 2 4 3 3 2 5 2 5 2 2 2 4 3 1 2 6 2 2 2 5 2 1 3 6 2 2 2 2 2-6 3-1 2-2 2-5 2-3 2-9 3-2 2-8 2 2 2-9 2-4 3-6 2-4 2-1 2-5 2-4 3-3 2-5 2-3 2-4 2 4 3 5 2 8 2 5 2 4 2 1 3 8 2 4 2 6 2 0 2 3 3 4 2 5 2 4 2 5 2 6 3 3 2 4 2 1 2 1 3-3 2-3 2-2 2-6 2-5 3-6 2-6 2-2 2-7 2-3 3-5 2-1 2 0 2-5 2-8 3-8 2-4 2-3 2-3 2-3 3 3 2 5 2 2 2 8 2 2 3 8 2 1 2 5 2 3 2 6 3 7 2 7 2 2 2 5 2 1 3 8 2 2 2 7 2 1 3 5 2-7 2-2 2-5 2-3 3-8 2-4 2-6 2-3 2-8 3-4 2-3 2-2 2-3 2-5 3-4 2-5 2-5 2-5 2-2 3-4 2 4 2 5 2 5 2 4 3 5 2 5 2 5 2 2 2 2 3 4 2 3 2 5 2 9 2 4 3 5 2 0 2 6 2 2 3 5 2 2 2-2 2-5 2-3 3-4 2-2 2-5 2-3 2-5 3-1 2-4 2-4 2-7 2-4 3-3 2-3 2-7 2-7 2-7 3-3 2-2 2 5 2 7 2 1 3 3 2 2 2 8 2 7 2 8 3 4 2 4 2 0 2 4 2 4 3 7 2 4 2 3 2 1 2 3 3 6 2 6 2-1 2-6 3-5 2-6 2-3 2-6 2-2 3-6 2-3 2-7 2-5 2-7 3-1 2-5 2-3 2-5 2-5 3-4 2-4 2-3 2 1 2 3 3 5 2 6 2 2 2 5 2 5 3 4 2 4 2 5 2 7 2 7 3 1 2 1 2 4 2 7 2 6 3 2 2 5 2 3 2-1 3-7 2-3 2-2 2-4 2-5 3-6 2-5 2-5 2-3 2-5 3-5 2-10 2-7 2-1 2-1 3-2 2-8 2-4 2-4 2 4 3 2 2 6 2 3 2 6 2 3 3 5 2 3 2 4 2 3 2 6 3 5 2 7 2 7 2 3 2 4 3 3 2 6 2 4 2 4 3-2 2-4 2-3 2-2 2-7 3-8 2-6 2-4 2-2 2-3 3-1 2-3 2-4 2-7 2-3 3-5 2-4 2-7 2-3 2-4 3 1 2 5 2 4 2 6 2 2 3 5 2 3 2 5 2 6 2 5 3 4 2 0 2 4 2 4 2 8 3 9 2 3 2 2 2 0 3 11 2 0 2-3 2-5 2-5 3-4 2-7 2-5 2-6 2-5 3-2 2-2 2-1 2-4 2-3 3-5 2-2 2-6 2-2 2-3 3-2 2-2 2 1 2 5 2 6 3 4 2 1 2 2 2 4 2 5 3 4 2 7 2 2 2 4 2 1 3 4 2 2 2 5 2 5 2 5 3 2 2 0 2-4 2-4 3-4 2-3 2-4 2-4 2-6 3-2 2-1 2-2 2-2 2-7 3-2 2-6 2-3 2-3 2-3 3-3 2-5 2-4 2 4 2 5 3 5 2 3 2 1 2 2 2 6 3 4 2 5 2 1 2 5 2 4 3 3 2 3 2 2 2 6 2 4 3 6 2 2 2-1 2-5 3-2 2-1 2-6 2-2 2-4 3-3 2-5 2-2 2-3 2-4 3-5 2-3 2-4 2-2 2-3 3-3 2-4 2-3 2-4 2 3 3 2 2 6 2 4 2 5 2 2 3 2 2 2 2 4 2 4 2 6 3 5 2 6 2 2 2 3 2 4 3 4 2 3 2 3 2 1 3-3 2-5 2-7 2-5 2-5 3-3 2-4 2-3 2-6 2-6 3-5 2-4 2-5 2-5 2-5 3-4 2 0 2-4 2-3 2-5 3 4 2 4 2 6 2 2 2 6 3 2 2 6 2 3 2 5 2 3 3 6 2 4 2 7 2 3 2 6 3 4 2 6 2 3 2 5 3 2 2-3 2-3 2-4 2-6 3-1 2-4 2 2 2-6 2-5 3-9 2-6 2-1 2-3 2-3 3-3 2-4 2-5 2-4 2-3 3-2 2 3 2 3 2 5 2 2 3 6 2 5 2 4 2 2 2 1 3 4 2 4 2 4 2 6 2 5 3 6 2 2 2 2 2 2 3 2 2 6 2-6 2-3 2-5 3-2 2-3 2-1 2-5 2-6 3-6 2-4 2-3 2-2 2-2 3-5 2-8 2-4 2-4 2-2 3-4 2-7 2 5 2 2 2 6 3 4 2 4 2 3 2 1 2 6 3 3 2 6 2 3 2 4 2 5 3 6 2 5 2 2 2 2 3 5 2 5 2 6 2-2 2-5 3-5 2-3 2-3 2-5 2-5 3-5 2-5 2-6 2-4 2-4 3-6 2-5 2-3 2-3 2-4 3-6 2-6 2-5 2 4 2 6 3 4 2 5 2 4 2 4 2 4 3 3 2 4 2 8 2 5 2 4 3 2 2 4 2 6 2 4 2 4 3 6 2 5 2 5 2-1 3-5 2-4 2-6 2-2 2-3 3-3 2-5 2-5 2-5 2-6 3-4 2-3 2-4 2-3 2-4 3-2 2-7 2-6 2-7 2 4 3 8 2 7 2 4 2 1 2 3 3 2 2 2 2 3 2 6 2 8 3 6 2 4 2 3 2 1 2 4 3 4 2 4 2 3 2 4 3-3 2 0 2-7 2-4 2-7 3-5 2-4 2-5 2-2 2-6 3-4 2-4 2-4 2-3 2-5 3-2 2-8" fill="none" stroke="#008000" stroke-width="16" stroke-linejoin="round"/></g></g><rect x="300.5" y="116.5" width="242.0" height="15.0" fill="none" stroke="#303030" stroke-width="1"/><line x1="297.70" x2="300.50" y1="117.5" y2="117.5" stroke="#262626" stroke-width="0.9"/><text x="296.20" y="119.70" class="tk" text-anchor="end">1</text><line x1="297.70" x2="300.50" y1="127.5" y2="127.5" stroke="#262626" stroke-width="0.9"/><text x="296.20" y="130.00" class="tk" text-anchor="end">0</text><line x1="311.5" x2="311.5" y1="131.5" y2="134.1" stroke="#262626" stroke-width="0.9"/><line x1="355.5" x2="355.5" y1="131.5" y2="134.1" stroke="#262626" stroke-width="0.9"/><line x1="399.5" x2="399.5" y1="131.5" y2="134.1" stroke="#262626" stroke-width="0.9"/><line x1="443.5" x2="443.5" y1="131.5" y2="134.1" stroke="#262626" stroke-width="0.9"/><line x1="487.5" x2="487.5" y1="131.5" y2="134.1" stroke="#262626" stroke-width="0.9"/><line x1="531.5" x2="531.5" y1="131.5" y2="134.1" stroke="#262626" stroke-width="0.9"/><g clip-path="url(#rb7)"><g transform="scale(0.1)"><path d="M3113 1418l2 7 2-8 3 4 2-20 2 4 2 16 2-35 3 32 2-40 2 20 2-12 2-13 3 43 2-32 2 27 2 11 2-5 3 20 2-34 2 5 2 10 3 34 2-21 2 27 2-22 2 35 3-19 2 3 2-10 2 27 2-16 3 17 2-14 2 12 2 10 2-7 3-28 2-1 2 14 2-20 2-3 3-24 2 7 2 4 2 4 2-26 3-16 2 20 2 4 2-25 2-6 3 27 2-26 2 2 2 19 2-11 3 22 2-1 2-6 2 21 3-1 2 9 2 7 2-7 2-7 3 44 2 4 2-6 2 14 2-7 3 4 2 12 2-17 2 17 2-36 3 11 2-23 2 7 2 8 2-13 3-10 2 2 2-17 2 16 2-26 3 19 2-26 2 4 2 30 2-32 3-1 2 21 2 0 2-19 2-15 3 39 2 12 2-16 2 8 3-27 2 46 2-20 2 16 2-6 3 14 2 15 2-21 2 23 2 6 3 1 2 5 2 4 2-6 2-21 3-15 2-8 2 2 2 3 2-9 3 10 2 2 2-16 2 17 2-22 3-2 2 3 2-38 2 25 2-29 3 7 2-8 2 8 2-5 2 4 3-6 2 22 2 6 2 3 2-10 3-8 2 37 2 7 2-35 3 21 2 4 2 32 2-30 2 36 3-8 2 16 2-9 2-13 2-3 3 20 2-16 2 13 2-26 2 13 3-12 2-2 2 15 2-42 2 29 3-8 2-31 2 6 2 3 2-23 3 9 2 21 2-6 2 3 2-43 3 24 2 15 2-20 2-13 2 43 3-18 2 14 2 7 2-25 3 11 2 21 2 7 2-17 2 8 3 32 2-29 2 22 2 7 2-12 3 30 2 12 2-5 2-29 2 4 3-23 2 25 2-20 2-22 2 9 3-1 2 9 2-9 2 9 2-11 3-7 2-2 2 12 2-44 2 3 3-3 2 22 2-23 2 34 2-6 3-22 2 31 2 9 2 3 3-12 2-4 2 12 2-17 2 23 3 23 2-34 2 34 2-1 2-14 3 7 2 16 2-6 2 2 2 22 3-20 2-14 2 5 2-10 2 12 3-6 2-11 2 16 2-32 2-17 3-5 2 35 2-35 2 12 2-13 3 13 2-1 2-9 2-26 2 23 3-12 2-10 2 14 2 24 3-13 2 5 2 28 2-17 2-9 3 10 2 19 2 11 2-21 2 5 3 12 2 23 2 1 2 5 2 15 3-24 2-21 2 31 2-41 2 7 3 23 2-16 2 18 2-36 2 19 3-25 2 12 2 4 2-7 2-30 3 25 2-8 2-24 2 9 2 8 3-30 2-5 2 23 2 14 3-28 2 27 2-4 2 18 2 14 3-32 2 40 2-11 2-7 2 3 3-10 2 18 2 18 2 9 2-19 3 10 2 15 2-20 2 7 2 0 3 4 2-13 2-28 2 0 2 6 3 10 2-22 2-13 2 24 2-15 3 18 2-30 2-12 2 10 2-1 3-16 2 14 2-30 2 20 2 34 3-27 2 3 2 20 2-15 3 23 2 8 2-27 2 17 2 18 3-17 2 24 2-19 2 30 2-2 3 3 2 13 2-13 2 3 2 23 3-39 2-5 2 14 2-30 2 7 3-8 2-5 2-6 2 8 2-1 3 4 2 1 2-35 2 21 2-29 3 2 2-9 2 14 2-10 2 15 3 17 2 4 2-38 2 12 3 22 2-11 2 35 2 4 2-17 3-7 2 21 2-21 2 12 2-1 3 10 2 32 2 5 2-13 2 9 3-16 2 6 2-15 2 8 2 9 3-40 2 28 2-3 2-26 2-1 3 12 2-4 2-13 2-2 2-7 3-19 2 23 2 6 2-15 2-1 3-25 2 3 2 18 2-15 3 45 2-40 2 11 2 40 2-22 3 20 2-28 2 46 2 3 2-33 3 26 2 19 2-43 2 38 2 9 3 0 2 14 2-30 2 8 2-18 3-1 2-14 2 22 2-24 2 17 3-20 2-7 2-9 2 17 2-26 3 6 2 3 2-9 2 15 2 7 3-19 2-19 2 5 2-9 3 1 2 17 2-8 2 29 2 18 3-16 2 16 2-26 2 9 2-9 3 23 2 22 2 3 2-3 2-18 3 22 2-22 2 20 2 6 2-25 3 25 2-10 2-6 2 2 2-35 3 34 2-17 2-25 2 7 2-8 3 2 2 1 2 10 2 0 2 3 3-23 2-12 2 22 2-41 3 18 2 4 2 23 2-1 2-16 3 15 2 1 2-1 2 5 2-9 3 22 2-12 2-1 2 42 2-20 3 21 2 7 2-2 2-24 2 23 3 16 2-19 2-16 2-4 2-5 3 0 2 10 2-25 2 32 2-35 3-21 2 35 2-43 2 0 2 30 3-30 2 10 2-28 2 31 2-37 3 7 2 23 2-3 2 5 3 0 2 4 2 19 2-28 2 40 3-41 2 42 2-30 2 45 2-32 3 23 2-1 2-7 2 36 2-34 3 11 2 35 2-4 2-25 2 19 3-36 2 14 2-5 2 19 2-42 3-6 2 6 2 8 2 10 2-13 3-22 2 2 2 1 2-10 2 9 3-27 2 25 2-4 2 7 3-15 2 4 2-11 2 39 2-12 3-9 2-5 2 34 2-21 2 7 3 1 2 26 2-22 2 40 2 4 3-5 2-11 2 24 2-7 2 20 3-26 2-14 2 24 2-27 2-17 3-7 2-6 2 18 2 13 2-27 3-1 2 2 2-6 2 6 2-15 3 7 2-31 2-4 2-9 3 15 2-10 2 37 2-6 2 8 3-26 2 17 2 9 2-15 2 17 3 31 2 5 2-23 2-3 2 25 3-3 2-4 2 5 2 31 2-3 3-20 2 20 2-5 2-13 2-11 3-2 2 7 2-15 2 18 2-6 3-13 2-7 2-9 2 4 2-24 3 22 2 4 2-17 2-28 3 12 2-9 2-9 2-3 2 34 3-10 2 15 2 15 2-19 2-3 3 36 2 1 2 15 2 1 2-5 3-23 2 19 2 22 2-10 2 20 3-6 2-7 2-12 2-1 2-4 3 21 2-31 2-10 2 15 2-29 3 29 2 4 2-27 2 19 2-40 3 24 2-31 2 16 2-30 2 9 3-21 2-8 2 17 2-16 3 16 2 6 2 22 2-2 2-12 3 26 2 6 2-7 2 0 2 6 3-8 2 25 2-15 2 23 2-8 3 28 2-23 2 24 2 10 2-10 3-9 2 6 2 1 2-17 2-13 3 21 2-34 2-16 2 16 2 3 3-10 2 7 2-15 2-3 2 9 3-25 2 8 2-6 2-3 3-11 2-4 2 28 2 7 2 3 3-23 2 36 2-8 2 15 2-16 3 25 2-16 2 30 2-23 2-4 3 38 2-19 2-8 2 41 2-32 3 27 2-9 2 18 2-20 2-14 3 1 2 8 2-32 2 24 2 4 3-9 2-41 2 8 2 4 2-11 3 23 2-33 2 25 2-18 3-25 2-3 2 37 2-22 2 34 3-20 2 5 2-1 2 31 2 0 3 2 2-25 2-1 2 31 2-23 3 25 2 10 2-20 2 28 2-20 3 1 2 31 2-6 2 3 2-6 3-29 2 12 2-12 2-2 2 17 3 7 2-22 2-5 2 13 2-36 3 22 2-25 2-3 2-5 3 20 2-24 2-14 2 34 2-3 3-2 2-24 2 30 2 11 2-35 3 19 2 27 2-5 2-10 2-5 3 39 2-30 2 31 2-16 2 25 3-14 2 21 2-11 2 14 2-8 3-1 2 8 2-39 2 7 2 15 3-15 2-16 2 13 2-15 2-24 3 38 2-37 2 11 2 15 3-20 2 17 2-25 2-4 2 2 3 9 2-36 2 26 2 14 2-9 3-10 2 2 2 18 2-2 2 37 3-20 2 15 2-7 2 19 2 8 3-5 2 10 2-26 2 38 2 4 3-15 2 16 2-4 2-40 2 30 3-19 2-1 2 0 2-25 2 27 3-40 2-5 2 0 2 11 3 1 2-26 2 27 2-13 2 8 3-1 2-20 2-24 2 16 2 25 3 11 2-39 2 10 2 13 2 3 3-6 2 24 2 16 2 14 2-3 3-19 2 21 2 7 2-15 2-8 3 32 2 3 2-17 2 0 2-12 3-3 2-17 2 22 2 11 2-30 3-7 2 3 2 20 2-18 2-23 3 1 2 7 2 21 2-14 3-10 2-27 2 17 2-27 2 15 3 7 2 26 2 0 2 10 2-7 3 16 2-16 2 6 2 14 2-11 3 16 2-7 2-8 2 15 2-19 3 37 2-15 2-3 2 29 2 9 3-26 2 14 2-32 2 2 2 4 3 1 2 6 2-11 2-1 2-11 3-25 2 3 2-7 2-11 3-14 2 17 2-5 2-1 2 1 3-24 2-4 2 11 2 14 2 3 3 2 2 17 2 3 2-14 2 12 3 32 2-18" fill="none" stroke="#ff0000" stroke-width="16" stroke-linejoin="round"/><path d="M3113 1411l2-4 2-6 3-5 2-6 2-3 2-3 2-2 3-4 2-4 2-7 2-6 2 5 3 8 2 4 2 3 2 2 2 6 3 3 2 6 2 3 2 4 3 3 2 6 2 5 2 7 2 4 3 4 2 0 2 2 2 6 2 8 3 0 2-5 2-5 2-4 2-4 3-5 2-1 2-4 2-7 2-7 3-6 2-3 2-2 2-5 2-5 3-6 2-3 2-4 2-5 2-5 3-4 2 4 2 4 2 7 2 7 3 5 2 4 2 3 2 4 3 7 2 4 2 3 2 3 2 7 3 6 2 2 2 5 2 3 2 7 3 2 2 4 2-2 2-4 2-2 3-5 2-5 2-3 2-2 2-4 3-4 2-3 2-2 2-6 2-6 3-3 2-2 2-3 2-2 2-1 3-2 2-6 2-3 2 2 2 6 3 4 2 5 2 1 2 3 3 3 2 4 2 6 2 5 2 2 3 2 2 1 2 6 2 5 2 7 3 0 2 4 2 1 2 2 2-7 3-5 2-4 2 0 2-5 2-3 3-10 2-5 2 0 2-3 2-3 3-8 2-3 2-6 2-5 2-6 3-4 2-3 2-5 2-6 2 5 3 6 2 7 2 5 2 4 2 4 3 4 2 2 2 1 2 4 3 6 2 8 2 4 2 7 2 3 3 4 2 4 2 4 2 7 2 3 3-3 2-8 2-6 2-2 2-1 3-1 2-4 2-5 2-9 2-5 3-2 2-2 2-2 2-6 2-6 3-5 2-4 2-1 2-1 2-4 3-6 2 3 2 5 2 4 2 4 3 5 2 4 2 3 2 5 3 4 2 2 2 3 2 4 2 7 3 3 2 4 2 4 2 7 2 5 3 5 2 2 2-4 2-4 2-5 3-1 2-5 2-2 2-7 2-5 3-6 2-1 2-4 2 1 2-7 3-3 2-6 2-4 2-4 2-8 3-2 2-4 2 4 2 3 2 6 3 3 2 3 2 3 2 2 3 5 2 4 2 4 2 3 2 5 3 4 2 8 2 5 2 3 2 3 3 2 2 6 2 4 2 3 2-4 3-5 2-5 2-4 2-5 2-2 3-3 2-2 2-6 2-4 2-5 3-2 2-5 2-5 2-6 2-3 3-5 2-1 2-5 2-5 2 1 3 4 2 4 2 6 2 4 3 6 2 4 2 3 2 3 2 2 3 5 2 2 2 6 2 2 2 7 3 3 2 6 2 6 2 2 2 3 3 0 2-3 2-4 2-4 2-3 3-2 2-4 2-3 2-3 2-5 3-6 2-7 2-2 2-4 2-3 3-3 2-4 2-4 2-2 2 0 3-4 2-1 2 3 2 3 3 4 2 2 2 5 2 3 2 4 3 2 2 6 2 6 2 4 2 1 3 2 2 4 2 6 2 4 2 6 3 4 2 2 2-3 2-3 2-3 3-2 2-6 2-3 2-4 2-5 3-7 2-4 2-2 2-2 2-4 3-3 2-6 2-3 2-3 2-1 3-5 2-8 2 1 2 6 2 5 3 1 2 3 2 6 2 5 3 4 2 3 2 3 2 4 2 4 3 3 2 2 2 5 2 4 2 7 3 3 2 2 2 3 2 4 2-2 3-3 2-7 2-4 2-5 2-3 3-4 2-2 2-5 2-4 2-5 3-2 2-3 2-4 2-5 2-6 3-4 2-4 2-4 2-4 2 2 3 6 2 2 2 4 2 4 3 7 2 5 2 3 2 4 2 4 3 4 2 2 2 3 2 3 2 5 3 3 2 7 2 3 2 5 2 2 3 1 2-4 2-1 2-2 2-6 3-7 2-5 2-2 2-1 2-2 3-2 2-5 2-4 2-8 2-2 3-6 2 0 2-7 2-1 2-6 3-4 2 1 2 7 2 3 3 5 2 3 2 4 2 3 2 3 3 2 2 5 2 4 2 7 2 8 3 2 2 2 2-2 2 5 2 4 3 8 2 6 2-3 2-6 2-5 3-1 2-3 2-3 2-6 2-3 3-5 2-2 2-5 2-3 2-3 3-3 2-4 2-3 2-1 2-3 3-7 2-6 2-2 2 4 3 3 2 5 2 4 2 5 2 3 3 3 2 4 2 2 2 4 2 2 3 4 2 3 2 5 2 2 2 5 3 4 2 6 2 5 2 0 2-5 3-5 2-2 2-4 2-5 2-7 3-4 2-3 2 0 2-3 2-5 3-5 2-3 2-1 2-5 2-3 3-5 2-2 2-7 2-4 3-1 2 6 2 4 2 3 2 3 3 3 2 4 2 3 2 4 2 6 3 6 2 5 2 2 2 4 2 6 3 4 2 4 2 4 2 5 2 0 3-1 2-5 2-2 2-3 2-4 3-2 2-5 2-3 2-7 2-5 3-7 2-4 2-6 2-2 2-1 3-5 2-6 2-7 2-4 2-4 3-4 2 5 2 4 2 3 3 3 2 7 2 5 2 4 2 4 3 2 2 2 2 3 2 9 2 7 3 7 2 4 2 4 2 2 2 4 3 5 2 6 2-1 2-5 2-5 3-4 2-2 2-5 2-3 2-7 3 0 2-4 2-4 2-8 2-4 3-4 2-2 2-6 2-4 2-5 3-4 2-4 2-1 2 4 3 4 2 1 2 4 2 5 2 8 3 5 2 2 2 3 2 5 2 5 3 3 2 3 2 3 2 6 2 6 3 7 2 6 2 2 2 2 2-4 3-4 2-6 2-4 2-5 2-5 3-4 2-2 2-4 2-2 2-5 3-3 2-7 2-5 2-3 2-4 3-6 2-3 2-2 2-3 3-1 2 3 2 5 2 4 2 4 3 5 2 3 2 5 2 3 2 5 3 2 2 4 2 4 2 5 2 7 3 5 2 0 2 4 2 2 2 7 3 4 2-2 2-5 2-6 2-5 3-1 2-2 2-5 2-5 2-6 3-6 2-4 2-5 2-3 2-5 3-1 2-3 2-1 2-4 3-8 2-6 2 2 2 6 2 5 3 4 2 3 2 2 2 4 2 5 3 5 2 4 2 7 2 5 2 5 3 3 2 6 2 2 2 1 2 2 3 6 2 4 2 1 2-4 2-4 3-4 2-5 2-6 2-5 2-4 3-1 2-6 2-5 2-5 2-5 3-7 2-3 2-2 2-5 2-6 3-6 2-5 2-5 2 7 3 6 2 6 2 5 2 3 2 4 3 5 2 5 2 4 2 5 2 4 3 5 2 4 2 5 2 2 2 6 3 3 2 5 2 0 2 4 2-3 3-2 2-3 2-3 2-1 2-7 3-5 2-9 2-3 2-5 2-3 3-4 2-3 2-4 2-4 2-6 3-5 2-4 2-5 2-4 3-1 2 3 2 4 2 2 2 8 3 7 2 6 2 4 2 4 2 4 3 7 2 2 2 3 2 2 2 7 3 7 2 3 2 4 2 5 2 4 3 5 2-4 2-5 2-2 2-7 3-4 2-7 2 0 2-2 2-3 3-6 2-7 2-4 2-4 2-3 3-2 2-1 2-5 2-6 3-5 2-2 2 2 2 5 2 2 3 4 2 2 2 5 2 4 2 6 3 4 2 5 2 4 2 4 2 6 3 1 2 3 2 4 2 3 2 4 3 3 2 7 2 0 2-5 2-6 3-5 2-2 2-3 2-2 2-3 3-3 2-4 2-3 2-3 2-6 3-5 2-3 2-3 2-4 3-6 2-4 2-3 2-1 2 2 3 5 2 4 2 6 2 1 2 1 3 6 2 5 2 4 2 0 2 2 3 5 2 7 2 5 2 1 2 3 3 4 2 4 2 3 2 4 2-1 3-6 2-5 2-4 2-1 2-6 3-3 2-3 2-3 2-4 2-7 3-5 2-2 2-1 2-1 3-4 2-7 2-4 2-4 2-5 3-1 2 4 2 7 2 5 2 4 3 4 2 0 2 2 2 5 2 6 3 2 2 1 2 4 2 4 2 6 3 4 2 8 2 2 2 3 2 2 3 5 2-2 2-6 2-4 2-3 3-5 2-3 2-4 2-2 2-6 3-6 2-6 2-5 2-1 3-1 2-2 2-6 2-6 2-3 3-3 2-5 2 2 2 3 2 5 3 3 2 4 2 2 2 2 2 5 3 6 2 5 2 4 2 6 2 6 3 4 2-1 2 0 2 6 2 4 3 7 2 3 2 5 2-5 2-5 3-7 2-4 2-2 2 1 2-5 3-2 2-7 2-3 2-4 2-5 3-3 2-2 2-3 2-3 3-6 2-4 2-6 2-7 2 5 3 5 2 4 2 3 2 5 2 8 3 3 2 4 2 3 2 5 2 2 3 3 2 0 2 4 2 4 2 4 3 4 2 4 2 5 2 4 2 0 3-4 2-4 2-6 2-4 2-7 3-2 2-6 2-3 2-8 2-3 3-6 2-3 2-3 2-2 3-5 2-6 2-7 2-2 2-6 3-2 2 4 2 5 2 7 2 4 3 1 2 7 2 2 2 8 2 2 3 4 2 5" fill="none" stroke="#008000" stroke-width="16" stroke-linejoin="round"/></g></g><rect x="300.5" y="135.5" width="242.0" height="14.0" fill="none" stroke="#303030" stroke-width="1"/><line x1="297.70" x2="300.50" y1="135.5" y2="135.5" stroke="#262626" stroke-width="0.9"/><text x="296.20" y="138.30" class="tk" text-anchor="end">1</text><line x1="297.70" x2="300.50" y1="146.5" y2="146.5" stroke="#262626" stroke-width="0.9"/><text x="296.20" y="148.60" class="tk" text-anchor="end">0</text><line x1="311.5" x2="311.5" y1="149.5" y2="152.1" stroke="#262626" stroke-width="0.9"/><line x1="355.5" x2="355.5" y1="149.5" y2="152.1" stroke="#262626" stroke-width="0.9"/><line x1="399.5" x2="399.5" y1="149.5" y2="152.1" stroke="#262626" stroke-width="0.9"/><line x1="443.5" x2="443.5" y1="149.5" y2="152.1" stroke="#262626" stroke-width="0.9"/><line x1="487.5" x2="487.5" y1="149.5" y2="152.1" stroke="#262626" stroke-width="0.9"/><line x1="531.5" x2="531.5" y1="149.5" y2="152.1" stroke="#262626" stroke-width="0.9"/><g clip-path="url(#rb8)"><g transform="scale(0.1)"><path d="M3113 1636l2 38 2 0 3-40 2 33 2-22 2-16 2 13 3-23 2-1 2 11 2 5 2-20 3 5 2 13 2-28 2 16 2-34 3 2 2 5 2-14 2-16 3 0 2 1 2 36 2-27 2 0 3 9 2 26 2 9 2-18 2 10 3 6 2 10 2 21 2 2 2-10 3-14 2 5 2 29 2 1 2-6 3 20 2-34 2 30 2-32 2 20 3-23 2 23 2-19 2-23 2 14 3 2 2-20 2 20 2-37 2 13 3 6 2-24 2 15 2-19 3 10 2-27 2 12 2-7 2 29 3 6 2-8 2 15 2-8 2-6 3 15 2 13 2 1 2 18 2-40 3 17 2 23 2-6 2-7 2 9 3 27 2 1 2-31 2 22 2-28 3 11 2 15 2-2 2-11 2-21 3 5 2 6 2-35 2 7 2 20 3-22 2 0 2-22 2 26 3-21 2-12 2-10 2 20 2-1 3-24 2 15 2 7 2 1 2 10 3-14 2 39 2-17 2 6 2 8 3 9 2-8 2 27 2-3 2 17 3-29 2 32 2-5 2-3 2 10 3-23 2 7 2-3 2 12 2-40 3-1 2 2 2-8 2-13 2 5 3 0 2-8 2-8 2 14 2-8 3 4 2-6 2 7 2-45 3 7 2 25 2-35 2 41 2-15 3 10 2-8 2 5 2 25 2 7 3-15 2 21 2-4 2-7 2 5 3 15 2-4 2 22 2-19 2 34 3 0 2-18 2 5 2-2 2-20 3 31 2-20 2-22 2 20 2-1 3-34 2 8 2 17 2-16 2-21 3 19 2-18 2 8 2-37 3 15 2 7 2-5 2-18 2 27 3-9 2-11 2 24 2 8 2-22 3 34 2-14 2-8 2 11 2 32 3 7 2-23 2 7 2 22 2-4 3 1 2-8 2 3 2 14 2-5 3 5 2-1 2-24 2-7 2 22 3-13 2 12 2-13 2-19 2 18 3-41 2 4 2 7 2 18 3-2 2-28 2 11 2-21 2 18 3 9 2-33 2 38 2 4 2 3 3-10 2 13 2-3 2 7 2-2 3-2 2-4 2 12 2 3 2-6 3 27 2 10 2-18 2 31 2 1 3 5 2-6 2-39 2 1 2 12 3-11 2-22 2-6 2 26 2-15 3-1 2 1 2-6 2 1 3-35 2 17 2-28 2 16 2 9 3-13 2 9 2-16 2-2 2-4 3 28 2-11 2 16 2-10 2 24 3-3 2 16 2-21 2 32 2-7 3-11 2 34 2 5 2 7 2-10 3-23 2 15 2-1 2-4 2 24 3-37 2 21 2 1 2-40 2 13 3 18 2-8 2 2 2-41 3 13 2-11 2 14 2-2 2-10 3-20 2 8 2 0 2-27 2 20 3-9 2 14 2-1 2 4 2 25 3-18 2 21 2-15 2 13 2-1 3 21 2 15 2-28 2 36 2-15 3 2 2-8 2 29 2-2 2 0 3 3 2-9 2-19 2 8 2 5 3-14 2-25 2 7 2-14 2 19 3-24 2-16 2 2 2 29 3-18 2-31 2 32 2-8 2-30 3 25 2 3 2-2 2 1 2 16 3-24 2 42 2-38 2 16 2 33 3-9 2 3 2-8 2 6 2 1 3 12 2 11 2 4 2-12 2 1 3-7 2 28 2-1 2-27 2 3 3 1 2 20 2-8 2-11 2-26 3 14 2 14 2-31 2 15 3-30 2 31 2-14 2-31 2 1 3 24 2-25 2 1 2 29 2-4 3-1 2 3 2-6 2-13 2 6 3 30 2-10 2 4 2 26 2-15 3 0 2 22 2-8 2-13 2 16 3-9 2 10 2 6 2-11 2 16 3-5 2-12 2-4 2-32 2 31 3-8 2-30 2-9 2 0 3 27 2-20 2 8 2-24 2 25 3-47 2 31 2-39 2 35 2 1 3 11 2-24 2 25 2 6 2-1 3-30 2 43 2-6 2 16 2 12 3-14 2-21 2 15 2 18 2 5 3 9 2-1 2-14 2 1 2 33 3-19 2 7 2 2 2-37 2-3 3 39 2-4 2-5 2-42 3 24 2 4 2-43 2 5 2 31 3-4 2-39 2 25 2-25 2-3 3 21 2-14 2-13 2 2 2 31 3 4 2-22 2 34 2-11 2-4 3 30 2-7 2-7 2 19 2-3 3-15 2-6 2 14 2 21 2 11 3-10 2-21 2 13 2 5 2-13 3 19 2-29 2 20 2-26 3 7 2-26 2 2 2 15 2-23 3 17 2-30 2-4 2 7 2-14 3 15 2 13 2-29 2 21 2-25 3 41 2-6 2 9 2 7 2-2 3 13 2-9 2 13 2-8 2-26 3 38 2 8 2-20 2 20 2 15 3-36 2 16 2 21 2-20 2 1 3 18 2-3 2-29 2-11 2 6 3 8 2 5 2-5 2-44 3 32 2-27 2-9 2 19 2 4 3-37 2 20 2-5 2 0 2-33 3 20 2 3 2 13 2 15 2 3 3-12 2 7 2-6 2 11 2 9 3-16 2 1 2 22 2-11 2 11 3 4 2 31 2 7 2-19 2-3 3 22 2-34 2 20 2 3 2-16 3 14 2-5 2-24 2-18 3 27 2-36 2 27 2-30 2-5 3 24 2-19 2-15 2-7 2 23 3 2 2-24 2-1 2 2 2 7 3 17 2 12 2 6 2-7 2-13 3 6 2 25 2 0 2-21 2 8 3 1 2 18 2 8 2-12 2 25 3-7 2 20 2 1 2-11 2-25 3 26 2-17 2 11 2-22 3-26 2 10 2-15 2 0 2 22 3-15 2 5 2-21 2 15 2-12 3-23 2 24 2-26 2-1 2-1 3 43 2 0 2 9 2-38 2 25 3-19 2 48 2-17 2 11 2-23 3 20 2-12 2 8 2 11 2-6 3 3 2 36 2-9 2-15 2 5 3-12 2 16 2-14 2 5 3-13 2-12 2 23 2-36 2 11 3-24 2 4 2 10 2 18 2-11 3-37 2-1 2-15 2 21 2-25 3 46 2 3 2-20 2 2 2-6 3 1 2 34 2-2 2-24 2 14 3 19 2-16 2 38 2-35 2 33 3-17 2 4 2 30 2 2 2-10 3 27 2-25 2-26 2 23 2-2 3-33 2 21 2-21 2 23 3-24 2 4 2-17 2-11 2 12 3 4 2-23 2-18 2-1 2 17 3-5 2-3 2-20 2 21 2-9 3 39 2 7 2-29 2-8 2 16 3-7 2 44 2 3 2-2 2 2 3 11 2-16 2 5 2 16 2 17 3 4 2 7 2-7 2-19 2-3 3 5 2-16 2 4 2 13 3-8 2-40 2-4 2 26 2-18 3-1 2-4 2 19 2-21 2-19 3 15 2-17 2 24 2-10 2 5 3-12 2 16 2-25 2 16 2 14 3 12 2-4 2 7 2-10 2 20 3 14 2-12 2-16 2 13 2-5 3 3 2 19 2 24 2-11 2-11 3-17 2 14 2 6 2-26 3 19 2 3 2-5 2-40 2 25 3 0 2-12 2-35 2 8 2-16 3 26 2-6 2-21 2-5 2-8 3-2 2 27 2-28 2 6 2 26 3 7 2 9 2 6 2-15 2 31 3-6 2 13 2-30 2 1 2 26 3 14 2 6 2-15 2 28 2-11 3 9 2-19 2 1 2-15 3 21 2-25 2 8 2 15 2-29 3 4 2-8 2 1 2-10 2-30 3 31 2-30 2 13 2-11 2-16 3 35 2-22 2-19 2 12 2-4 3 32 2-26 2 5 2 23 2-5 3 30 2-4 2 16 2-27 2 32 3-15 2 18 2-10 2-5 2 10 3-7 2 5 2 33 2-1 3-24 2-11 2-7 2-3 2-13 3 14 2-12 2 6 2-5 2 22 3-18 2-26 2 26 2-9 2-11 3 10 2-4 2 1 2-5 2-34 3 31 2 4 2-19 2 7 2 33 3-20 2-17 2 15 2 4 2 15 3 5 2 18 2-9 2 23 2-30 3 27 2-9 2 26 2-15 3 1 2-25 2-6 2-1 2 22 3 2 2-29 2 32 2-37 2-9 3 3 2-6 2-2 2 16 2 3 3-30 2 25 2-5 2-12 2 8 3-33 2-3 2 27 2 7 2-13 3 21 2 9 2 7 2-22 2 3 3-7 2 30 2-23 2 11 2 34 3 1 2-7 2-21 2 35 2-12 3 15 2-21 2 8 2-26 3 35 2 2 2-21 2-8 2-28 3 40 2-33 2 25 2-8 2-5 3-10 2 11 2-11 2-11 2-29 3 21 2-16 2 16 2 10 2-20 3-2 2-7 2 33 2-17 2-3 3 40 2 6 2-2 2 11 2-16 3 5 2 18 2 6 2 4 2 3 3 5 2-22 2 20 2-22 3 13 2-19 2 15 2-24 2-7 3 22 2-9 2-9 2-5 2-18 3 30 2-1 2-34 2-2 2 3 3 5 2-7" fill="none" stroke="#ff0000" stroke-width="16" stroke-linejoin="round"/><path d="M3113 1631l2 3 2-1 3-6 2-3 2-3 2-3 2-7 3-8 2-5 2 0 2-3 2-1 3-4 2-5 2-5 2-6 2-4 3-6 2-5 2-5 2-3 3-1 2 6 2 4 2 1 2 3 3 3 2 4 2 7 2 4 2 6 3 3 2 4 2 4 2 4 2 4 3 2 2 7 2 6 2 6 2 2 3 4 2-3 2-4 2-4 2-1 3-2 2-7 2-6 2-4 2 1 3-1 2-5 2-5 2-5 2-1 3-2 2-3 2-5 2-7 3-3 2-3 2 1 2 4 2 2 3 2 2 3 2 5 2 6 2 2 3 3 2 3 2 3 2 4 2 3 3 3 2 3 2 4 2 5 2 4 3 3 2 2 2 3 2-5 2-1 3-5 2-1 2-5 2-5 2-5 3-3 2-2 2-3 2-6 2-4 3-5 2-4 2-6 2-4 3-6 2-4 2-4 2-2 2 1 3 4 2 5 2 3 2 4 2 2 3 5 2 2 2 6 2 7 2 6 3 3 2 1 2 2 2 6 2 5 3 4 2 5 2 5 2 6 2 1 3-5 2-6 2 0 2-5 2-4 3-7 2-3 2-5 2-5 2-5 3-3 2-4 2-6 2-6 2-5 3-2 2-4 2-4 2-6 3-6 2 0 2 5 2 8 2 10 3 4 2 3 2 1 2 5 2 3 3 4 2 5 2 4 2 3 2 6 3 5 2 6 2 4 2 5 2 5 3 2 2 0 2-5 2-4 2-3 3-6 2-6 2-3 2-2 2-3 3-4 2-5 2-2 2-5 2-4 3-6 2-4 2-5 2-5 3-6 2-5 2-8 2 4 2 4 3 8 2 6 2 3 2 4 2 3 3 6 2 5 2 2 2 6 2 5 3 7 2 3 2 6 2 6 2 6 3 5 2 1 2 4 2-1 2-4 3-4 2-3 2-4 2-6 2-4 3-2 2-5 2-5 2-7 2-3 3-4 2-4 2-5 2-2 3-3 2-3 2-6 2-5 2-3 3 5 2 4 2 4 2 5 2 5 3 6 2 1 2 5 2 3 2 6 3 4 2 1 2 3 2 3 2 5 3 3 2 6 2 6 2 7 2 4 3-2 2-7 2-5 2-6 2-2 3-4 2-5 2-5 2-4 2-4 3-3 2-5 2-5 2-5 3-5 2-2 2-5 2-4 2-4 3-4 2-2 2 4 2 3 2 5 3 3 2 6 2 5 2 4 2 2 3 4 2 4 2 5 2 4 2 5 3 5 2 5 2 4 2 3 2 4 3 1 2 5 2-2 2-2 2-2 3-3 2-2 2-6 2-4 2-6 3-2 2-3 2-5 2-3 3-2 2-5 2-5 2-6 2-3 3-4 2-6 2-3 2-2 2 7 3 5 2 5 2 1 2 4 2 4 3 4 2 1 2 2 2 4 2 7 3 6 2 3 2 5 2 6 2 5 3 1 2 2 2 3 2 5 2-6 3-4 2-4 2-4 2-4 2-5 3-5 2-5 2-3 2-5 2-4 3-5 2-2 2-2 2-3 3-7 2-6 2-6 2-5 2-4 3 1 2 5 2 6 2 5 2 5 3 3 2 4 2 6 2 4 2 3 3 4 2 8 2 3 2 4 2 1 3 7 2 3 2 5 2 1 2 3 3 2 2-4 2 0 2 1 2-1 3-6 2-7 2-2 2-4 2-3 3-5 2-2 2-4 2-1 3-4 2-4 2-7 2-3 2-1 3-3 2-5 2-2 2 5 2 5 3 7 2 2 2 2 2 2 2 6 3 4 2 3 2 3 2 3 2 5 3 3 2 2 2 2 2 4 2 5 3 6 2 3 2 2 2-7 2-5 3-6 2-6 2-5 2-5 2-3 3-1 2-4 2-4 2-4 3-3 2-6 2-7 2-4 2-5 3-4 2-7 2-1 2-4 2 6 3 2 2 6 2 5 2 2 2 3 3 4 2 5 2 5 2 6 2 5 3 5 2 1 2 5 2 3 2 4 3 4 2 8 2 8 2 5 2-2 3-6 2-4 2-5 2-2 2-2 3-1 2-2 2-2 2-5 3-6 2-7 2-3 2-4 2 0 3-4 2-4 2-3 2-3 2-5 3-6 2 4 2 3 2 6 2 5 3 4 2 6 2 4 2 2 2-1 3 2 2 5 2 5 2 3 2 2 3 4 2 5 2 3 2 3 2 4 3 3 2-1 2-4 2-1 2-3 3-3 2-6 2-3 2-5 3-4 2-3 2-4 2-4 2-4 3-5 2-4 2-2 2-1 2-3 3-5 2-6 2-2 2 4 2 5 3 2 2 2 2 4 2 4 2 5 3 6 2 2 2 3 2 1 2 5 3 5 2 5 2 4 2 2 2 5 3 4 2 4 2 4 2-5 2-3 3-3 2-4 2-5 2-6 2-4 3-5 2-3 2-4 2-5 3-5 2-4 2-4 2-4 2-5 3-6 2-7 2-4 2-4 2 1 3 4 2 6 2 6 2 6 2 2 3 3 2 2 2 4 2 4 2 4 3 5 2 4 2 6 2 3 2 3 3 6 2 6 2 7 2 3 2 5 3-2 2-4 2-3 2-6 2-3 3-3 2-3 2-4 2-5 3-5 2-3 2-4 2-3 2-4 3-4 2-5 2-6 2-2 2-2 3-3 2 0 2 4 2 4 2 6 3 2 2 4 2 2 2 4 2 4 3 4 2 4 2 2 2 3 2 4 3 4 2 5 2 2 2 3 2 6 3 4 2 1 2-3 2-1 2-2 3-5 2-6 2-6 2-6 3-5 2-2 2-3 2-3 2-3 3-4 2-1 2-4 2-1 2-3 3-5 2-6 2-3 2 2 2 3 3 4 2 3 2 6 2 1 2 4 3 2 2 6 2 3 2 3 2-1 3 6 2 5 2 6 2 3 2 3 3 5 2 5 2 4 2 0 2-6 3-5 2-7 2-5 2-4 3-1 2-4 2-4 2-1 2-3 3-4 2-6 2-3 2-3 2-4 3-7 2-6 2-5 2-2 2-4 3 6 2 4 2 3 2 4 2 3 3 7 2 4 2 5 2 2 2 3 3 3 2 4 2 5 2 6 2 5 3 3 2 2 2 3 2 6 2 5 3 1 2-7 2-4 2-7 2-3 3-3 2-3 2-2 2-5 3-1 2-5 2-6 2-6 2-8 3-4 2-4 2-3 2-4 2-3 3-3 2-6 2 5 2 3 2 6 3 2 2 3 2 5 2 3 2 5 3 4 2 6 2 5 2 2 2 5 3 7 2 7 2 4 2 3 2 5 3 6 2 2 2-2 2-6 2-2 3-3 2 0 2-5 2-3 3-11 2-3 2-6 2-2 2-2 3 0 2-2 2-6 2-6 2-4 3-4 2-2 2-4 2 0 2 5 3 4 2 3 2 2 2 4 2 4 3 3 2 3 2 3 2 6 2 3 3 2 2 3 2 6 2 4 2 2 3 3 2 4 2 4 2 3 2-4 3-2 2-6 2-5 2-4 3-4 2-3 2-4 2-6 2-5 3-5 2-4 2-5 2-6 2-3 3-5 2-5 2-3 2-4 2-5 3-1 2 5 2 7 2 4 2 4 3 4 2 5 2 1 2 4 2 5 3 6 2 7 2 2 2 4 2 6 3 4 2 7 2 3 2 4 2 5 3 2 2-3 2-7 2-4 3-5 2-3 2-3 2-5 2-5 3-1 2-4 2-4 2-9 2-4 3-4 2 0 2-3 2-3 2-7 3-4 2-5 2 1 2 5 2 3 3 4 2 1 2 6 2 6 2 4 3 3 2 7 2 6 2 4 2 3 3 5 2 2 2 3 2 2 2 6 3 3 2 7 2 3 2-1 3-5 2-5 2-6 2-4 2-4 3-5 2-3 2-3 2-2 2-3 3-3 2-7 2-7 2-5 2 0 3-2 2-1 2-6 2-6 2 1 3 4 2 5 2 5 2 3 2 3 3 2 2 4 2 5 2 4 2 4 3 5 2 5 2 6 2 3 2 6 3 2 2 2 2 2 2 3 3 3 2-5 2-5 2-4 2-3 3-2 2-4 2-2 2-6 2-6 3-5 2-2 2-1 2-1 2-3 3-3 2-5 2-2 2-5 2-2 3-5 2 3 2 4 2 4 2 3 3 3 2 3 2 2 2 2 2 2 3 4 2 5 2 6 2 3 2 4 3 2 2 6 2 5 2 5 2 4 3 2 2-3 2-6 2-3 3-3 2-1 2-6 2-3 2-5 3-3 2-4 2-4 2-2 2-4 3-2 2-4 2-4 2-6 2-6 3-3 2-4 2 1 2 2 2 5 3 1 2 6 2 3 2 6 2 3 3 4 2 1 2 5 2 6 2 4 3 3 2 1 2 4 2 3 2 6 3 4 2 4 2 3 2 0 3-2 2-5 2-5 2-4 2-5 3-3 2-5 2-3 2-4 2-2 3-2 2-5 2-3 2-4 2-2 3-5 2-6" fill="none" stroke="#008000" stroke-width="16" stroke-linejoin="round"/></g></g><rect x="300.5" y="153.5" width="242.0" height="15.0" fill="none" stroke="#303030" stroke-width="1"/><line x1="297.70" x2="300.50" y1="154.5" y2="154.5" stroke="#262626" stroke-width="0.9"/><text x="296.20" y="156.70" class="tk" text-anchor="end">1</text><line x1="297.70" x2="300.50" y1="164.5" y2="164.5" stroke="#262626" stroke-width="0.9"/><text x="296.20" y="167.00" class="tk" text-anchor="end">0</text><line x1="311.5" x2="311.5" y1="168.5" y2="171.1" stroke="#262626" stroke-width="0.9"/><line x1="355.5" x2="355.5" y1="168.5" y2="171.1" stroke="#262626" stroke-width="0.9"/><line x1="399.5" x2="399.5" y1="168.5" y2="171.1" stroke="#262626" stroke-width="0.9"/><line x1="443.5" x2="443.5" y1="168.5" y2="171.1" stroke="#262626" stroke-width="0.9"/><line x1="487.5" x2="487.5" y1="168.5" y2="171.1" stroke="#262626" stroke-width="0.9"/><line x1="531.5" x2="531.5" y1="168.5" y2="171.1" stroke="#262626" stroke-width="0.9"/><g clip-path="url(#rb9)"><g transform="scale(0.1)"><path d="M3113 1787l2 5 2 22 3-37 2 9 2-21 2 22 2-7 3-2 2-33 2 25 2-13 2 23 3-9 2 6 2 1 2 23 2-15 3 25 2 5 2-24 2 0 3 9 2 32 2 8 2-21 2 28 3-29 2 18 2 7 2-17 2 2 3 25 2 0 2-44 2-1 2-8 3 40 2-22 2-20 2 13 2-10 3 4 2-18 2 8 2 10 2-9 3-13 2-22 2 6 2 5 2-8 3 32 2-27 2 5 2 15 2 10 3 17 2-9 2 13 2-21 3 6 2 17 2 14 2-22 2 7 3-8 2 8 2 23 2 6 2-10 3 2 2-4 2-3 2-21 2 17 3-22 2-8 2 15 2 0 2-42 3 9 2 20 2-23 2-22 2 8 3 3 2-11 2-4 2 3 2 0 3 17 2 7 2-21 2 37 2-31 3 47 2-25 2 4 2-9 3 34 2-3 2 11 2 18 2-33 3 27 2 1 2 25 2-21 2 16 3-29 2 4 2-21 2 14 2-22 3 20 2 0 2-9 2-19 2 15 3 0 2-16 2-29 2 10 2-2 3-17 2-7 2 6 2 14 2-33 3 25 2 16 2-15 2 19 2-8 3 17 2 22 2-22 2 28 2-18 3 4 2-9 2 23 2-11 3 11 2 23 2 14 2-6 2-13 3-3 2-14 2 22 2-12 2-26 3 20 2-5 2 9 2-21 2-4 3-3 2-20 2-10 2 29 2-8 3 2 2-18 2-22 2 13 2-9 3 6 2-3 2 2 2 34 2-30 3 33 2 0 2-2 2-14 2 29 3-4 2 17 2 7 2-8 3-15 2 9 2 11 2-3 2 39 3-38 2 23 2 5 2-20 2 6 3-21 2 4 2-33 2 9 2 20 3-7 2-20 2-9 2-19 2 25 3-18 2 21 2-39 2 37 2-25 3-15 2 33 2 10 2-22 2 20 3-16 2 17 2 24 2-31 2 28 3 6 2 16 2-22 2 15 3-19 2 3 2 32 2-2 2 20 3-8 2-16 2-4 2-20 2 28 3 3 2-43 2 12 2-20 2 4 3 11 2-16 2-22 2 23 2-22 3 24 2-37 2 4 2-11 2 16 3-9 2 14 2-18 2 35 2-8 3 16 2-9 2 30 2-4 2-16 3 6 2-3 2 1 2 28 3-6 2 18 2-13 2 12 2-17 3 37 2-15 2-11 2-22 2-12 3 35 2-33 2 8 2-17 2 29 3-10 2-20 2 8 2-14 2 16 3-40 2-5 2-5 2 16 2-19 3 19 2 4 2-23 2 2 2 30 3 4 2-6 2-7 2 12 2 14 3 25 2-28 2-5 2 37 3 12 2-22 2 30 2 5 2-27 3 23 2-25 2 11 2-22 2-7 3 5 2 4 2-25 2 2 2 5 3 19 2-39 2 16 2-11 2 26 3-41 2 28 2-1 2-39 2 26 3-30 2 18 2 2 2-2 2 33 3-30 2 19 2 13 2 17 2-17 3 26 2-32 2-3 2 38 2-13 3 29 2-5 2-2 2-1 3 20 2-26 2-6 2 4 2-23 3 37 2-21 2-22 2-1 2 5 3 0 2-23 2 28 2-34 2 15 3 0 2 6 2-32 2-11 2 11 3 13 2-30 2 7 2 18 2 15 3 0 2-14 2 25 2 8 2-16 3 24 2 14 2-25 2 3 2 10 3 2 2-4 2 38 2-5 3-26 2-6 2-6 2 41 2-20 3-26 2 23 2-33 2 26 2-12 3 2 2-4 2-28 2 19 2-6 3-15 2 11 2 5 2-43 2-1 3 10 2 13 2 6 2 13 2-22 3-8 2 16 2 17 2 15 2-7 3 12 2 13 2-4 2-13 2-5 3 5 2 3 2 5 2 13 3 17 2-2 2-32 2 10 2 22 3-18 2-31 2 14 2 6 2 8 3-8 2-35 2-8 2 20 2-13 3 17 2-34 2-15 2 14 2-11 3-1 2-7 2 6 2 14 2 34 3-33 2-6 2 17 2 22 2 21 3-29 2 23 2 19 2-25 2 18 3 12 2-16 2 5 2-12 3 25 2-22 2 28 2-18 2-17 3 6 2 0 2 9 2-16 2 10 3 7 2-25 2-23 2 22 2-35 3 25 2-16 2-11 2 4 2-5 3-9 2 22 2 10 2 6 2-10 3 0 2-14 2 26 2 13 2 7 3-35 2 2 2 7 2 3 2 40 3-14 2 15 2-17 2 19 3 14 2 10 2-25 2 2 2-14 3 6 2-12 2 11 2-2 2-34 3 11 2-31 2 5 2 6 2 14 3-14 2-13 2-5 2-11 2 26 3-17 2 1 2-2 2-14 2 12 3 21 2-15 2 31 2-19 2 9 3 25 2-35 2 29 2 10 2 21 3 2 2-40 2 16 2 0 2 16 3-11 2 45 2-44 2-3 3-10 2 37 2-1 2-14 2-15 3-15 2 2 2-5 2 0 2-7 3 1 2 9 2-11 2 5 2-2 3-37 2-10 2 24 2 9 2-20 3 15 2 4 2 25 2-25 2 10 3-1 2 16 2 25 2 0 2-32 3 26 2-6 2 11 2 8 2 16 3 5 2-21 2-10 2-8 3 15 2-3 2 1 2 6 2-6 3-39 2 7 2 3 2 21 2-26 3 6 2 6 2-36 2 20 2-9 3-3 2-24 2 33 2-22 2-11 3 12 2 38 2-10 2 3 2-8 3 13 2 3 2-17 2 15 2 33 3-40 2 3 2 11 2 34 2-1 3 10 2-13 2 6 2-18 3 13 2-23 2-19 2 26 2-23 3 12 2-24 2 17 2-6 2-21 3 12 2-9 2-2 2-12 2-17 3-13 2 16 2-7 2 3 2 15 3 9 2-3 2 0 2-9 2 35 3 9 2 5 2-12 2-9 2 30 3-27 2 28 2 3 2 22 2-16 3-14 2 19 2-9 2-8 3 13 2 8 2 4 2-5 2-24 3 11 2-40 2 3 2 16 2-1 3-22 2 2 2-24 2-6 2 10 3-2 2 0 2 0 2-25 2 42 3-21 2 37 2 9 2-3 2-9 3-2 2-2 2 13 2 20 2-33 3 42 2-17 2 21 2-7 2 17 3-20 2 14 2-17 2 19 2-11 3-5 2 19 2-45 2-5 3-1 2 25 2-3 2-35 2 2 3 5 2 2 2 4 2 1 2-4 3-16 2-28 2 14 2 6 2 20 3 2 2 4 2-18 2 28 2-11 3-3 2 20 2-13 2-9 2 10 3 36 2-4 2-19 2-4 2 28 3 3 2 20 2-1 2 4 2-34 3 2 2 16 2-4 2-47 3 14 2-13 2 16 2-13 2-10 3-16 2 20 2-5 2-6 2 10 3 1 2-9 2 1 2 1 2-14 3-3 2 33 2-37 2 21 2 18 3 1 2 14 2-6 2-12 2 7 3 14 2 22 2-11 2 12 2-11 3-2 2 19 2-1 2 6 2-1 3-13 2-34 2 22 2-21 3 18 2-8 2-15 2-3 2-13 3-6 2 21 2 6 2-41 2 23 3-3 2-36 2-6 2 10 2 15 3-16 2 35 2 12 2-6 2 17 3-30 2 29 2 7 2-21 2 23 3-7 2 27 2 8 2-5 2-4 3 18 2-33 2 32 2 0 2-9 3-12 2-10 2 1 2-1 3 14 2-39 2 25 2-41 2 17 3 12 2-24 2-3 2 13 2-33 3 2 2 16 2-28 2-3 2 1 3 30 2 0 2 7 2-22 2 49 3-20 2 14 2 8 2-12 2 6 3-16 2 40 2-17 2 8 2-5 3 15 2 18 2-33 2 14 2 14 3 0 2-4 2-18 2-16 3-14 2 2 2-9 2 30 2-35 3 39 2-49 2 34 2 0 2-13 3-8 2 6 2-25 2 2 2 20 3-3 2 2 2 4 2-24 2 22 3-14 2 37 2 0 2-13 2-4 3 3 2 9 2 5 2 14 2-18 3 23 2-1 2 30 2-17 2-30 3-1 2 32 2-20 2-22 3 34 2-9 2-19 2 2 2-31 3 30 2 5 2-18 2-16 2-19 3 21 2-22 2-2 2 17 2 0 3-3 2 3 2 6 2-5 2 3 3 31 2-24 2-5 2 27 2 5 3-22 2 45 2-16 2-14 2 23 3 11 2 14 2-7 2-3 2 8 3-3 2-32 2-10 2-6 2-5 3 2 2 24 2-11 2-9 3-22 2 11 2-23 2 10 2-19 3 30 2-36 2 20 2-5 2 12 3 5 2-17 2-14 2 6 2 35 3-15 2 23 2 11 2 7 2 7 3-8 2-26 2 29 2-13 2 5 3 8 2 24 2-26 2 30 2-24 3 17 2-28 2 11 2-26 2 24 3-20 2-15 2 10 2 16 3-41 2 11 2 11 2-24 2-12 3 8 2-10 2 0 2 1 2-9 3 6 2 14 2 20 2-11 2-2 3 13 2 15" fill="none" stroke="#ff0000" stroke-width="16" stroke-linejoin="round"/><path d="M3113 1776l2-8 2 0 3-4 2-3 2-8 2-6 2-3 3-6 2-4 2-4 2 3 2 4 3 4 2 5 2 3 2 5 2 7 3 6 2 4 2 1 2 3 3 5 2 5 2 8 2 4 2 10 3 5 2 6 2-2 2 3 2-3 3-2 2-3 2-5 2-5 2-4 3-4 2-2 2-5 2-4 2-7 3-7 2-3 2-3 2-2 2-8 3-2 2-2 2-2 2-2 2 6 3 3 2 4 2 1 2 4 2 2 3 6 2 4 2 5 2 3 3 3 2 4 2 6 2 6 2 3 3 3 2 5 2 6 2 4 2-3 3-6 2-3 2-4 2-3 2-5 3-3 2-7 2-5 2-6 2-6 3-4 2-5 2-2 2-5 2-4 3-4 2-2 2-4 2-4 2 4 3 5 2 5 2 1 2 5 2 6 3 7 2 4 2 3 2 4 3 4 2 4 2 4 2 3 2 5 3 3 2 6 2 6 2 6 2-2 3-6 2-4 2-5 2-5 2-6 3-2 2-7 2-2 2-5 2-4 3-8 2-5 2-7 2-3 2-6 3-2 2-5 2-5 2-4 2 3 3 4 2 7 2 5 2 6 2 3 3 5 2 3 2 2 2 5 2 6 3 4 2 6 2 5 2 5 3 3 2 6 2 5 2 5 2 2 3-4 2-4 2-3 2-4 2-3 3-3 2-4 2-7 2-6 2-5 3-3 2-5 2-6 2-1 2-2 3-4 2-7 2-10 2-6 2 0 3 9 2 7 2 3 2 1 2 2 3 5 2 6 2 5 2 7 2 4 3 5 2 4 2 6 2 6 3 5 2 3 2 3 2 5 2 5 3-3 2-5 2-2 2-6 2-5 3-6 2-3 2-4 2-6 2-5 3-3 2-1 2-5 2-7 2-7 3-3 2-5 2-2 2-1 2-1 3 0 2 1 2 3 2 8 2 3 3 6 2 4 2 6 2 4 2 6 3 4 2 2 2 3 2 3 3 6 2 4 2 3 2 7 2 4 3-1 2-7 2-4 2-4 2-2 3-3 2-4 2-4 2-5 2-1 3-6 2-4 2-8 2-4 2-5 3-4 2-1 2-5 2-3 2-4 3 4 2 5 2 2 2 4 2 4 3 6 2 2 2 4 2 4 2 7 3 4 2 4 2 5 2 5 3 3 2 3 2 3 2 7 2 6 3 0 2-8 2-7 2-5 2-2 3-3 2-5 2-6 2-6 2-1 3-6 2-3 2-5 2-2 2-3 3-4 2-7 2-9 2-3 2-4 3 3 2 2 2 6 2 6 2 6 3 3 2 3 2 1 2 7 2 4 3 6 2 3 2 7 2 5 3 5 2 5 2 4 2 4 2 2 3 4 2-4 2-2 2-6 2-3 3-5 2-5 2-5 2-4 2-4 3-4 2-7 2-3 2-3 2-2 3-2 2-6 2-4 2-3 2-1 3 1 2 1 2 3 2 3 2 5 3 4 2 6 2 3 2 7 2 5 3 5 2 3 2 2 2 4 2 4 3 3 2 3 2 3 2 4 3 4 2-2 2-3 2-4 2-3 3-4 2-2 2-5 2-4 2-6 3-1 2-5 2-3 2-7 2-4 3-3 2-4 2-5 2-3 2-4 3-1 2 3 2 5 2 6 2 4 3 3 2 3 2 2 2 2 2 2 3 6 2 5 2 7 2 4 2 6 3 1 2 3 2 5 2 4 3 3 2-6 2-3 2-4 2-4 3-5 2-2 2-2 2-2 2-3 3 0 2-6 2-4 2-10 2-3 3-7 2-1 2-5 2-4 2-5 3-2 2 5 2 2 2 3 2 1 3 8 2 3 2 5 2 1 2 4 3 6 2 5 2 6 2 5 2 5 3 1 2 1 2 3 2 7 3 5 2 0 2-4 2-7 2-5 3-4 2-1 2-4 2-5 2-5 3-6 2-3 2-1 2-2 2-5 3-7 2-6 2-3 2-2 2-5 3-6 2 1 2 8 2 3 2 5 3 1 2 4 2 6 2 5 2 6 3 2 2 6 2 4 2 6 2 5 3 5 2 3 2 4 2 2 3 4 2 1 2-5 2-4 2-2 3-2 2-4 2-5 2-7 2-3 3-4 2-4 2-6 2-5 2-7 3-4 2-6 2-5 2-3 2-3 3-4 2 2 2 5 2 7 2 2 3 5 2 2 2 3 2 4 2 7 3 5 2 4 2 4 2 3 2 5 3 3 2 5 2 4 2 9 3 5 2 3 2-6 2-5 2-4 3-6 2-4 2-6 2-5 2-5 3-6 2-6 2-6 2-3 2-4 3 0 2-7 2-3 2-8 2-3 3-5 2-3 2 5 2 4 2 6 3 3 2 5 2 8 2 4 2 4 3 1 2 5 2 7 2 7 2 7 3 5 2 0 2 5 2 2 2 8 3 4 2 1 2-5 2-4 3-5 2-2 2-4 2-2 2-5 3-3 2-5 2-4 2-7 2-5 3-5 2 1 2-5 2-4 2-6 3-1 2-3 2 6 2-1 2 5 3 3 2 6 2 3 2 3 2 5 3 3 2 6 2 4 2 5 2 2 3 4 2 4 2 3 2 3 2 2 3 9 2-2 2 1 2-7 3 0 2-7 2-5 2-7 2-5 3-1 2-2 2-2 2-7 2-2 3-5 2-3 2-7 2-8 2-5 3-6 2 1 2 1 2 8 2 3 3 5 2 4 2 3 2 5 2 4 3 2 2 5 2 4 2 6 2 2 3 3 2 2 2 5 2 7 2 4 3 2 2 2 2-5 2 0 3-5 2-3 2-5 2-6 2-8 3-5 2-5 2-4 2-5 2-6 3-4 2-5 2-3 2-2 2-6 3-4 2-6 2 1 2 3 2 1 3 5 2 5 2 5 2 5 2 4 3 7 2 5 2 6 2 3 2 4 3 3 2 7 2 6 2 7 2 5 3 4 2 4 2-6 2-4 3-4 2-3 2-4 2-6 2-3 3-7 2-4 2-5 2-3 2-3 3-6 2-4 2-9 2-3 2-5 3-1 2-8 2-1 2 5 2 6 3 5 2 6 2 7 2 4 2 1 3 1 2 5 2 5 2 6 2 5 3 3 2 7 2 3 2 7 2 2 3 5 2 3 2-1 2-5 2-1 3-3 2-4 2-7 2-4 3-6 2-6 2-6 2-3 2-1 3-4 2-4 2-6 2-4 2-4 3-4 2-6 2-5 2 2 2 7 3 5 2 6 2 5 2 7 2 1 3 1 2 1 2 8 2 7 2 5 3 2 2 6 2 4 2 2 2 2 3 5 2 6 2 3 2-3 2-6 3-5 2-4 2-4 2-5 3-5 2-2 2-4 2-2 2-4 3-4 2-5 2-6 2-3 2-5 3-3 2-7 2-3 2 1 2 5 3 7 2 4 2 5 2 2 2 6 3 4 2 4 2 4 2 8 2 4 3 5 2-2 2 1 2 5 2 5 3 8 2 4 2 3 2-4 2-5 3-4 2-5 2-4 2-1 3-3 2-5 2-7 2-6 2-3 3-4 2-6 2-5 2-5 2-5 3-4 2-2 2-7 2-1 2 4 3 8 2 6 2 3 2 4 2 5 3 4 2 3 2 3 2 7 2 7 3 5 2 2 2 3 2 5 2 4 3 3 2 2 2 3 2-2 2-2 3-4 2-4 2-4 2-1 3-4 2-2 2-5 2-7 2-5 3-4 2-5 2-6 2-7 2 0 3-4 2 0 2-6 2 0 2 2 3 5 2 5 2 4 2 5 2 6 3 4 2 2 2 1 2 5 2 3 3 8 2 2 2 3 2 3 2 5 3 5 2-1 2 5 2 0 2 0 3-4 2-4 2-6 2-5 3-3 2-5 2-3 2-1 2-3 3-1 2-8 2-2 2-7 2-4 3-5 2-2 2-4 2-5 2 1 3 7 2 6 2 5 2 0 2 4 3 4 2 4 2 4 2 3 2 5 3 5 2 4 2 5 2 6 2 3 3 4 2 4 2 3 2-1 2-5 3-1 2-2 2-6 2-4 3-6 2-7 2-5 2-4 2 0 3-4 2-4 2-6 2-5 2-5 3-3 2-4 2-3 2-6 2 2 3 3 2 5 2 4 2 4 2 4 3 7 2 4 2 6 2 2 2 3 3 4 2 7 2 4 2 5 2 1 3 6 2 4 2 7 2 2 2-6 3-8 2-4 2-3 2-4 2-4 3-5 2-1 2-6 2-5 3-7 2-4 2-2 2-3 2-4 3-6 2-5 2-4 2-5 2 3 3 2 2 6 2 0 2 5 2 4 3 9 2 7 2 4 2 3 2 4 3 4 2 3 2 4 2 2 2 4 3 1 2 6 2 3 2 5 2-2 3-3 2-4 2-4 2-4 2-5 3-3 2-6 2-2 2-4 3-5 2-5 2-5 2-3 2-3 3-7 2-4 2-5 2-3 2-4 3 4 2 2 2 6 2 4 2 6 3 6 2 4" fill="none" stroke="#008000" stroke-width="16" stroke-linejoin="round"/></g></g><rect x="300.5" y="171.5" width="242.0" height="15.0" fill="none" stroke="#303030" stroke-width="1"/><line x1="297.70" x2="300.50" y1="172.5" y2="172.5" stroke="#262626" stroke-width="0.9"/><text x="296.20" y="174.90" class="tk" text-anchor="end">1</text><line x1="297.70" x2="300.50" y1="183.5" y2="183.5" stroke="#262626" stroke-width="0.9"/><text x="296.20" y="185.60" class="tk" text-anchor="end">0</text><line x1="311.5" x2="311.5" y1="186.5" y2="189.1" stroke="#262626" stroke-width="0.9"/><line x1="355.5" x2="355.5" y1="186.5" y2="189.1" stroke="#262626" stroke-width="0.9"/><line x1="399.5" x2="399.5" y1="186.5" y2="189.1" stroke="#262626" stroke-width="0.9"/><line x1="443.5" x2="443.5" y1="186.5" y2="189.1" stroke="#262626" stroke-width="0.9"/><line x1="487.5" x2="487.5" y1="186.5" y2="189.1" stroke="#262626" stroke-width="0.9"/><line x1="531.5" x2="531.5" y1="186.5" y2="189.1" stroke="#262626" stroke-width="0.9"/><text x="311.30" y="196.60" class="tk" text-anchor="middle">0</text><text x="355.40" y="196.60" class="tk" text-anchor="middle">200</text><text x="399.50" y="196.60" class="tk" text-anchor="middle">400</text><text x="443.60" y="196.60" class="tk" text-anchor="middle">600</text><text x="487.70" y="196.60" class="tk" text-anchor="middle">800</text><text x="531.80" y="196.60" class="tk" text-anchor="middle">1000</text></g>
<g><g clip-path="url(#rc0)"><g transform="scale(0.1)"><path d="M1764 2753l2-7 2-17 3 4 2 9 2 10 2 15 2 16 3 6 2 22 2 11 2 2 2-16 3-11 2-9 2-22 2-12 2-23 3-4 2 2 2 8 2 20 3 7 2 17 2 18 2 7 2 22 3 1 2-24 2-11 2-15 2-10 3-13 2-13 2-5 2-9 2 7 3 17 2 11 2 13 2 16 2 18 3 15 2 5 2-26 2-9 2-18 3-18 2-7 2-14 2-10 2-1 3 7 2 16 2 18 2 13 2 15 3 16 2 6 2 2 2-10 3-12 2-18 2-17 2-3 2-20 3-13 2 5 2 4 2 19 2 18 3 1 2 20 2 12 2 14 2 2 3-11 2-16 2-17 2-11 2-11 3-12 2-16 2-4 2 21 2 14 3 6 2 17 2 20 2-1 2 17 3 10 2-19 2-18 2-16 2-6 3-18 2-7 2-8 2-9 3 19 2 10 2 12 2 15 2 15 3 14 2 2 2 4 2-14 2-5 3-23 2-7 2-13 2-11 2-20 3 3 2 11 2 13 2 18 2 7 3 18 2 14 2 11 2 3 2-21 3-5 2-21 2-10 2-16 2-5 3-24 2 5 2 15 2 9 2 18 3 17 2 10 2 11 2 13 2-3 3-13 2-13 2-10 2-12 3-13 2-10 2-21 2 1 2 15 3 11 2 17 2 14 2 18 2 9 3 12 2-2 2-11 2-12 2-14 3-16 2-10 2-14 2-12 2-2 3 15 2 13 2 5 2 21 2 20 3 7 2 13 2-5 2-16 2-4 3-17 2-12 2-14 2-15 2-15 3 3 2 14 2 15 2 5 3 22 2 12 2 8 2 16 2 1 3-14 2-16 2-11 2-10 2-24 3-2 2-17 2 2 2 15 2 10 3 18 2 6 2 15 2 20 2 11 3-3 2-9 2-18 2-15 2-5 3-18 2-12 2-14 2 4 2 6 3 19 2 9 2 3 2 20 2 17 3 12 2-3 2-5 2-14 3-16 2-14 2-15 2-9 2-13 3-3 2 14 2 6 2 22 2 17 3 5 2 17 2 19 2-4 2-9 3-18 2-21 2-8 2-17 2-14 3-8 2 2 2 16 2 9 2 14 3 12 2 12 2 11 2 12 2 12 3-19 2-11 2-13 2-14 2-21 3-8 2-12 2 1 2 9 3 12 2 17 2 19 2 4 2 7 3 21 2 0 2-10 2-15 2-14 3-19 2-14 2-9 2-8 2 2 3 11 2 18 2 10 2 8 2 12 3 11 2 16 2 4 2-18 2-3 3-21 2-9 2-17 2-12 2-14 3-1 2 15 2 6 2 18 2 3 3 27 2 7 2 12 2 9 3-26 2-5 2-14 2-13 2-12 3-14 2-5 2-11 2 10 2 17 3 22 2 10 2 12 2 11 2 15 3 2 2-14 2-9 2-23 2-9 3-18 2-7 2-17 2 8 2 2 3 18 2 11 2 11 2 18 2 11 3 21 2-1 2-13 2-20 2-15 3-5 2-16 2-18 2-12 2 0 3 13 2 16 2 8 2 18 3 11 2 15 2 4 2 7 2-17 3-8 2-9 2-17 2-14 2-9 3-19 2-1 2 22 2-4 2 23 3 18 2 5 2 21 2 6 2 9 3-16 2-21 2-7 2-12 2-22 3-9 2-11 2 2 2 8 2 22 3 0 2 19 2 10 2 18 2 16 3 0 2-21 2 1 2-20 3-15 2-19 2-2 2-19 2 2 3 8 2 23 2 1 2 13 2 23 3 11 2 12 2 2 2-13 2-16 3-17 2-4 2-21 2-8 2-17 3 0 2 18 2 11 2 13 2 13 3 6 2 22 2 15 2-3 2-15 3-9 2-15 2-16 2-8 2-15 3-16 2 0 2 14 2 17 3 10 2 13 2 19 2 3 2 18 3 1 2-14 2-10 2-13 2-13 3-15 2-13 2-21 2 5 2 15 3 9 2 18 2 10 2 15 2 13 3 21 2-10 2-7 2-20 2-12 3-9 2-18 2-7 2-17 2-1 3 19 2 7 2 11 2 16 2 11 3 17 2 15 2-9 2-11 3-11 2-5 2-23 2-14 2-18 3-7 2-11 2 23 2 14 2 17 3 13 2 11 2 14 2 18 2-8 3-12 2-8 2-15 2-11 2-18 3-7 2-18 2-6 2 13 2 19 3 13 2 9 2 16 2 16 2 8 3 7 2-20 2-13 2-14 2-15 3-6 2-14 2-14 2 1 2 10 3 16 2 17 2 19 2 7 3 10 2 19 2-5 2-13 2-15 3-18 2-8 2-12 2-15 2-18 3 3 2 13 2 24 2 9 2 9 3 19 2 6 2 18 2-1 2-15 3-17 2-13 2-18 2 1 2-15 3-16 2-7 2 16 2 20 2 13 3 2 2 20 2 19 2 13 2-7 3-7 2-16 2-14 2-10 3-19 2-12 2-13 2-1 2 15 3 11 2 22 2 0 2 16 2 18 3 15 2-3 2-15 2-6 2-16 3-23 2-5 2-15 2-11 2-2 3 16 2 15 2 8 2 17 2 14 3 9 2 13 2-3 2-10 2-12 3-13 2-15 2-9 2-10 2-24 3 6 2 14 2 5 2 25 3 5 2 20 2 9 2 14 2-2 3-7 2-16 2-18 2-12 2-10 3-16 2-14 2 9 2 10 2 7 3 14 2 15 2 12 2 22 2 5 3 3 2-23 2 2 2-22 2-10 3-14 2-12 2-14 2-1 2 14 3 16 2 2 2 16 2 15 2 18 3 5 2-1 2 0 2-26 3-2 2-21 2-11 2-15 2-14 3 6 2 10 2 16 2 9 2 21 3 2 2 14 2 18 2-3 2-17 3-11 2-12 2-7 2-17 2-21 3-7 2-1 2 16 2 9 2 10 3 23 2 8 2 14 2 14 2 3 3-15 2-21 2 2 2-18 2-20 3-10 2-6 2-9 2 17 3 20 2 9 2 10 2 17 2 11 3 12 2-5 2-12 2-12 2-9 3-12 2-25 2-7 2-10 2-6 3 15 2 18 2 11 2 8 2 26 3 9 2 13 2-1 2-6 2-20 3-17 2-11 2-12 2-14 2-16 3 3 2 4 2 18 2 17 2 13 3 21 2 7 2 8 2 6 3-23 2-7 2-9 2-15 2-18 3-11 2-10 2-2 2 14 2 22 3-3 2 21 2 12 2 22 2 10 3-8 2-14 2-12 2-15 2-8 3-13 2-16 2-13 2 6 2 8 3 14 2 11 2 21 2 8 2 19 3 3 2 7 2-18 2-11 2-19 3-6 2-15 2-19 2-8 2 0 3 17 2 10 2 11 2 19 3 5 2 21 2 19 2-7 2-17 3-17 2-12 2-7 2-16 2-17 3-15 2 8 2 6 2 13 2 20 3 11 2 20 2 12 2 9 2 0 3-14 2-8 2-23 2-11 2-11 3-15 2-4 2-6 2 14 2 12 3 12 2 10 2 18 2 19 2 8 3 3 2-22 2-16 2-10 3-7 2-20 2-5 2-20 2 3 3 23 2 3 2 8 2 23 2-1 3 31 2 7 2-1 2-12 2-19 3-16 2-4 2-10 2-20 2-10 3-6 2 16 2 12 2 15 2 7 3 22 2 17 2 12 2 0 2-25 3-6 2-9 2-14 2-13 2-15 3-20 2 1 2 14 2 19 3 7 2 19 2 10 2 14 2 5 3 14 2-18 2-15 2-19 2-12 3-7 2-9 2-22 2 7 2 12 3 9 2 15 2 9 2 18 2 8 3 16 2 7 2-19 2-14 2-13 3-10 2-14 2-14 2-13 2-2 3 16 2 13 2 8 2 19 2 15 3 9 2 19 2-13 2-7 3-7 2-16 2-17 2-14 2-7 3-16 2 1 2 9 2 23 2 6 3 8 2 17 2 14 2 11 2 8 3-13 2-20 2-13 2-18 2-3 3-25 2-3 2-9 2 17 2 16 3 17 2 10 2 10 2 13 2 19 3-4 2-14 2-8 2-11 2-28 3-10 2-8 2-12 2-7 2 17 3 26 2 3 2 19 2 5 3 22 2 7 2-1 2-2 2-28 3-7 2-14 2-12 2-13 2-18 3-1 2 17 2 16 2 13 2 11 3 15 2 12 2 13 2 11 2-32 3-8 2-17 2-10 2-7 2-18 3-15 2 3 2 15 2 9 2 17 3 9 2 19 2 16 2 10 2-1 3-9 2-12 2-21 2-11 3-16 2-16 2-8 2-3 2 14 3 10 2 20 2 18 2 14 2 2 3 19 2-3 2-11 2-15 2-17 3-9 2-13 2-15 2-18 2 5 3 17 2 11 2 16 2 11 2 16 3 13 2 11 2 0 2-14 2-15 3-8 2-11 2-24 2-6 2-25 3 3 2 14 2 21 2 5 3 21 2 14 2 8 2 13 2 5 3-16 2-13 2-12 2-16 2-12 3-12 2-14 2 4 2 11 2 16 3 8 2 14" fill="none" stroke="#ff0000" stroke-width="13" stroke-linejoin="round"/><path d="M1764 2746l2-14 2-17 3 15 2 15 2 17 2 16 2 15 3 15 2 15 2 14 2-16 2-16 3-16 2-15 2-14 2-15 2-15 3-14 2 16 2 16 2 12 3 13 2 15 2 16 2 14 2 17 3-15 2-15 2-17 2-14 2-14 3-13 2-14 2-15 2 12 2 13 3 13 2 16 2 17 2 17 2 15 3 14 2-17 2-14 2-16 2-15 3-16 2-15 2-15 2-14 2 18 3 18 2 15 2 12 2 14 2 13 3 17 2 15 2-11 2-16 3-16 2-19 2-17 2-13 2-14 3-12 2 14 2 15 2 15 2 15 3 15 2 14 2 15 2 15 2-14 3-18 2-14 2-13 2-14 2-17 3-18 2-13 2 16 2 16 2 14 3 15 2 16 2 15 2 14 2 16 3-13 2-15 2-17 2-18 2-14 3-13 2-15 2-16 2 16 3 16 2 14 2 13 2 14 2 17 3 15 2 17 2-15 2-12 2-16 3-16 2-19 2-17 2-15 2-13 3 17 2 14 2 14 2 15 2 16 3 16 2 13 2 15 2-15 2-15 3-13 2-13 2-13 2-16 2-19 3-16 2 13 2 17 2 16 2 15 3 14 2 16 2 16 2 15 2-16 3-18 2-14 2-14 2-13 3-15 2-15 2-15 2 14 2 14 3 12 2 16 2 16 2 17 2 15 3 16 2-15 2-17 2-16 2-14 3-13 2-14 2-14 2-16 2 16 3 15 2 16 2 12 2 17 2 13 3 15 2 13 2-14 2-14 2-15 3-14 2-14 2-15 2-16 2-16 3 14 2 14 2 15 2 16 3 15 2 16 2 13 2 15 2-17 3-15 2-14 2-13 2-12 2-15 3-16 2-17 2 15 2 16 2 14 3 16 2 15 2 15 2 14 2 14 3-12 2-12 2-15 2-18 2-17 3-16 2-14 2-18 2 18 2 14 3 16 2 12 2 16 2 16 2 16 3 16 2-15 2-15 2-17 3-13 2-15 2-18 2-17 2-14 3 18 2 15 2 15 2 12 2 17 3 14 2 19 2 14 2-14 2-17 3-16 2-13 2-15 2-15 2-17 3-15 2 14 2 16 2 16 2 17 3 13 2 16 2 15 2 17 2-15 3-17 2-15 2-14 2-16 2-15 3-17 2-13 2 17 2 14 3 14 2 11 2 15 2 18 2 18 3 14 2-16 2-16 2-16 2-14 3-15 2-13 2-16 2-16 2 14 3 15 2 16 2 15 2 16 2 17 3 15 2 13 2-14 2-16 2-13 3-15 2-16 2-17 2-19 2-14 3 15 2 15 2 16 2 15 2 19 3 14 2 14 2 14 2-14 3-16 2-14 2-16 2-14 2-15 3-16 2-12 2 14 2 16 2 13 3 16 2 15 2 15 2 13 2 14 3-13 2-13 2-16 2-16 2-15 3-15 2-15 2-17 2 15 2 16 3 15 2 17 2 15 2 16 2 14 3 15 2-16 2-15 2-15 2-15 3-16 2-15 2-15 2-15 2 14 3 15 2 15 2 16 2 17 3 14 2 14 2 13 2-15 2-15 3-13 2-16 2-11 2-16 2-13 3-19 2 14 2 15 2 17 2 15 3 14 2 16 2 17 2 14 2-16 3-15 2-14 2-15 2-17 2-15 3-15 2-13 2 14 2 13 2 16 3 16 2 17 2 14 2 15 2 15 3-15 2-13 2-17 2-15 3-16 2-14 2-16 2-15 2 18 3 13 2 13 2 11 2 17 2 17 3 18 2 16 2-14 2-18 2-17 3-16 2-16 2-13 2-11 2-16 3 14 2 12 2 16 2 14 2 15 3 16 2 16 2 15 2-14 2-15 3-15 2-16 2-14 2-15 2-13 3-16 2 14 2 13 2 17 3 17 2 14 2 13 2 13 2 15 3-14 2-14 2-13 2-15 2-15 3-16 2-13 2-16 2 15 2 16 3 13 2 14 2 14 2 15 2 14 3 12 2-13 2-12 2-13 2-13 3-17 2-15 2-15 2-15 2 16 3 12 2 16 2 12 2 17 2 14 3 17 2 12 2-14 2-17 3-15 2-16 2-14 2-13 2-14 3-14 2 14 2 16 2 15 2 14 3 15 2 15 2 14 2 13 2-14 3-15 2-13 2-15 2-14 2-15 3-14 2-15 2 15 2 15 2 15 3 17 2 13 2 12 2 12 2 15 3-13 2-14 2-14 2-14 2-12 3-14 2-19 2-17 2 15 2 17 3 14 2 13 2 17 2 17 3 15 2 13 2-16 2-14 2-16 3-16 2-16 2-13 2-15 2-14 3 15 2 17 2 16 2 12 2 11 3 13 2 20 2 16 2-14 2-16 3-17 2-17 2-12 2-10 2-13 3-17 2 10 2 14 2 16 2 18 3 14 2 15 2 16 2 16 2-14 3-16 2-17 2-18 2-16 3-12 2-15 2-13 2 15 2 17 3 14 2 14 2 15 2 16 2 12 3 13 2-17 2-12 2-13 2-14 3-16 2-16 2-15 2-14 2 13 3 16 2 15 2 17 2 14 2 14 3 14 2 17 2-16 2-17 2-16 3-13 2-13 2-16 2-15 2-15 3 14 2 14 2 16 2 16 3 15 2 14 2 16 2 15 2-13 3-17 2-14 2-15 2-12 2-17 3-16 2-15 2 16 2 15 2 17 3 14 2 14 2 10 2 14 2 15 3-12 2-13 2-14 2-15 2-16 3-16 2-15 2-14 2 16 2 11 3 15 2 17 2 16 2 15 2 13 3 15 2-16 2-13 2-14 3-14 2-17 2-15 2-14 2-16 3 16 2 13 2 14 2 15 2 14 3 16 2 15 2 18 2-14 2-13 3-19 2-15 2-18 2-11 2-14 3-15 2 15 2 13 2 13 2 15 3 16 2 17 2 15 2 15 2-16 3-15 2-14 2-12 2-17 2-15 3-15 2-13 2 14 2 12 3 17 2 12 2 17 2 13 2 16 3 14 2-15 2-13 2-14 2-14 3-15 2-15 2-15 2-15 2 15 3 15 2 15 2 14 2 15 2 16 3 14 2 14 2-16 2-16 2-14 3-16 2-14 2-18 2-13 2-12 3 15 2 13 2 12 2 16 2 15 3 15 2 13 2 17 2-15 3-12 2-16 2-14 2-18 2-15 3-16 2-12 2 12 2 17 2 14 3 17 2 14 2 16 2 16 2 16 3-12 2-17 2-15 2-18 2-14 3-16 2-14 2-15 2 12 2 14 3 17 2 18 2 16 2 15 2 15 3 16 2-15 2-17 2-17 2-15 3-14 2-15 2-16 2-14 2 16 3 14 2 15 2 12 2 16 3 16 2 14 2 15 2-15 2-16 3-14 2-13 2-15 2-18 2-15 3-15 2 17 2 13 2 15 2 15 3 15 2 13 2 15 2 15 2-10 3-16 2-12 2-15 2-12 2-17 3-17 2-18 2 14 2 18 2 16 3 14 2 14 2 14 2 16 2 14 3-12 2-16 2-16 2-17 3-15 2-15 2-12 2-17 2 15 3 14 2 18 2 16 2 14 2 15 3 15 2 14 2-16 2-16 2-12 3-15 2-16 2-18 2-14 2-13 3 17 2 16 2 15 2 14 2 15 3 12 2 16 2 14 2-13 2-15 3-15 2-15 2-14 2-14 2-16 3-15 2 14 2 16 2 14 3 16 2 15 2 17 2 13 2 13 3-18 2-15 2-14 2-12 2-14 3-17 2-17 2-15 2 17 2 16 3 13 2 17 2 15 2 14 2 14 3 15 2-15 2-16 2-14 2-14 3-13 2-16 2-16 2-16 2 16 3 15 2 15 2 15 2 17 2 17 3 15 2 14 2-17 2-17 3-18 2-15 2-14 2-10 2-14 3-15 2 12 2 14 2 14 2 16 3 13 2 15 2 16 2 17 2-15 3-16 2-13 2-15 2-14 2-16 3-14 2-15 2 13 2 15 2 16 3 15 2 15 2 14 2 15 2 14 3-15 2-15 2-16 2-14 2-16 3-14 2-15 2-16 2 15 2 16 3 15 2 15 2 15 2 15 3 11 2 15 2-17 2-14 2-13 3-11 2-12 2-17 2-16 2-13 3 12 2 15 2 13 2 17 2 15 3 15 2 14 2 16 2-14 2-16 3-15 2-15 2-13 2-17 2-15 3-16 2 14 2 15 2 17 2 14 3 15 2 15 2 17 2 17 2-14 3-14 2-17 2-15 2-15 3-16 2-17 2-17 2 16 2 13 3 17 2 16 2 17 2 16 2 14 3 16 2-13 2-17 2-17 2-17 3-12 2-15 2-14 2-16 2 15 3 16 2 17 2 14 2 14 2 15 3 14 2 13 2-17 2-16 2-13 3-15 2-13 2-14 2-15 2-16 3 15 2 17 2 13 2 13 3 15 2 16 2 18 2 15 2-16 3-16 2-16 2-13 2-16 2-15 3-16 2-14 2 15 2 15 2 13 3 16 2 14" fill="none" stroke="#008000" stroke-width="14" stroke-linejoin="round"/></g></g><rect x="165.5" y="269.5" width="242.0" height="15.0" fill="none" stroke="#303030" stroke-width="1"/><line x1="162.70" x2="165.50" y1="271.5" y2="271.5" stroke="#262626" stroke-width="0.9"/><text x="160.80" y="273.70" class="tk" text-anchor="end">1</text><line x1="162.70" x2="165.50" y1="284.5" y2="284.5" stroke="#262626" stroke-width="0.9"/><text x="160.80" y="286.40" class="tk" text-anchor="end">0</text><line x1="176.5" x2="176.5" y1="284.5" y2="287.1" stroke="#262626" stroke-width="0.9"/><line x1="220.5" x2="220.5" y1="284.5" y2="287.1" stroke="#262626" stroke-width="0.9"/><line x1="264.5" x2="264.5" y1="284.5" y2="287.1" stroke="#262626" stroke-width="0.9"/><line x1="308.5" x2="308.5" y1="284.5" y2="287.1" stroke="#262626" stroke-width="0.9"/><line x1="352.5" x2="352.5" y1="284.5" y2="287.1" stroke="#262626" stroke-width="0.9"/><line x1="396.5" x2="396.5" y1="284.5" y2="287.1" stroke="#262626" stroke-width="0.9"/><g clip-path="url(#rc1)"><g transform="scale(0.1)"><path d="M1764 2927l2 10 2 3 3 3 2-3 2 13 2 2 2 15 3-1 2 11 2 8 2-7 2 14 3 3 2 11 2-14 2-11 2-3 3-8 2-6 2 5 2-10 3-2 2-15 2 1 2-16 2-3 3-11 2 7 2-16 2 16 2 4 3 8 2-1 2 10 2 5 2 3 3 2 2 14 2 3 2 16 2-7 3 8 2 7 2 11 2-9 2 1 3-6 2-6 2-18 2 7 2-2 3-9 2-13 2-5 2-2 2-17 3 11 2-9 2-14 2 1 3 6 2 4 2 12 2-1 2 13 3 6 2-3 2 6 2 13 2-5 3 5 2 11 2 10 2 6 2 0 3-1 2-1 2 2 2-19 2-8 3-3 2-12 2 4 2-12 2 1 3-7 2-7 2 0 2-11 2 5 3-12 2 5 2 7 2 1 2 10 3 3 2 6 2 3 2 8 3 4 2 8 2 3 2-1 2 15 3 6 2 9 2-8 2-2 2-1 3-17 2 3 2-10 2-4 2-17 3 14 2-17 2-2 2-15 2 2 3-9 2-11 2 1 2-1 2 21 3 9 2-3 2 7 2 13 2-6 3 10 2 8 2-4 2 4 2 17 3-5 2 21 2-3 2-3 2-7 3-6 2-2 2-8 2-4 3-1 2-8 2-2 2-17 2-3 3-4 2 5 2-12 2-3 2-11 3 11 2 2 2-2 2 14 2 6 3 3 2 2 2 8 2 12 2 9 3 7 2 8 2-16 2 19 2 0 3-1 2-8 2-1 2-7 2 8 3-30 2-1 2 0 2-9 2 2 3-10 2-11 2-4 2 2 3-7 2-8 2 12 2 4 2 1 3 13 2 0 2 7 2 5 2 8 3 6 2 8 2-5 2 17 2-3 3 15 2-7 2 9 2-13 2 6 3-4 2-13 2-4 2-8 2-4 3-12 2-4 2-13 2 7 2-6 3-7 2-14 2-3 2 9 2 8 3 7 2 6 2-2 2 10 3 11 2 3 2-1 2 8 2 1 3 10 2 9 2 4 2 12 2-10 3-4 2 1 2-10 2-10 2-7 3 6 2-9 2-5 2-10 2-9 3 0 2-6 2-12 2-1 2 1 3 1 2 9 2-2 2 9 2 5 3 7 2-3 2 16 2 6 2 8 3-9 2 14 2 11 2 4 3 9 2-8 2-8 2-1 2-5 3-3 2-10 2-5 2-4 2-4 3-8 2-12 2 1 2-8 2-7 3-1 2-7 2 1 2 10 2 10 3 6 2 5 2-3 2 15 2-2 3 11 2 3 2 6 2 6 2 2 3 13 2 2 2 0 2-5 2-19 3 10 2-13 2-4 2-5 3-5 2 2 2-18 2-8 2 11 3-16 2-1 2-13 2-3 2 12 3-1 2 0 2 12 2-3 2 15 3 14 2-5 2 21 2-10 2 14 3-4 2 5 2 7 2 11 2 0 3-7 2-7 2-8 2-5 2-10 3 3 2-3 2-10 2 0 2-13 3-7 2-10 2 10 2-19 2-5 3 7 2 11 2 5 2 15 3-4 2-1 2 13 2 8 2 0 3 5 2 17 2-7 2 5 2 10 3 11 2-7 2-4 2-9 2-3 3 2 2-16 2-9 2 3 2-4 3-10 2-4 2-9 2 0 2-3 3-12 2-4 2 7 2 0 2 7 3 13 2 4 2 7 2-7 2 11 3 18 2-2 2 3 2-2 3 17 2 2 2 0 2 4 2 2 3-7 2-8 2-12 2-9 2 0 3-11 2 4 2-8 2-5 2-13 3 7 2-12 2-8 2-4 2 6 3 6 2 9 2-3 2 19 2 1 3 12 2-2 2 7 2 10 2-6 3 23 2-8 2 5 2 6 2-8 3 2 2-7 2-7 2-4 3 2 2-10 2-9 2-5 2-5 3-6 2 2 2-13 2-9 2-1 3-11 2 9 2 12 2-2 2 0 3 13 2 10 2 9 2-7 2 6 3 12 2 3 2 8 2 4 2 5 3 6 2-2 2-6 2-2 2-4 3-9 2 0 2-14 2-3 2-4 3-6 2 0 2-19 2 4 3-10 2-5 2-4 2 7 2 15 3-6 2 10 2 3 2 4 2 1 3 11 2 8 2 11 2 4 2 9 3-6 2 7 2 3 2 4 2-8 3-2 2 0 2-4 2-19 2-1 3-2 2-11 2 2 2-7 2-12 3-3 2-14 2-1 2-6 2 11 3 4 2-4 2 13 2 8 2-3 3 9 2 11 2 7 2 13 3 1 2 0 2 16 2-2 2-6 3 8 2-11 2 2 2 3 2-15 3-5 2 0 2-19 2 4 2-8 3-1 2-12 2-1 2-2 2-17 3 1 2-1 2 7 2 17 2-6 3 13 2 7 2-2 2 13 2-6 3 17 2 3 2 7 2 6 2 2 3 5 2 3 2-9 2-11 3 9 2-9 2-10 2 2 2-13 3-7 2-7 2-3 2-10 2-6 3-2 2 3 2-13 2 5 2 14 3-4 2 7 2 11 2 10 2-6 3 9 2 14 2 2 2 3 2-2 3 5 2 10 2 17 2-11 2-7 3-5 2-1 2-12 2-6 2-9 3 9 2-14 2-6 2-4 3 0 2-9 2-15 2-10 2 3 3 6 2 7 2 16 2-5 2 6 3 1 2 11 2 7 2 3 2 6 3 6 2 0 2 6 2 17 2 0 3 7 2-14 2-8 2 1 2-16 3 2 2-14 2 1 2-4 2-3 3-8 2-4 2-12 2-3 2 0 3-8 2 3 2 7 2 2 3 3 2 17 2-6 2 14 2 9 3-1 2 4 2 9 2-3 2 8 3 7 2 8 2-7 2-7 2 7 3-5 2-14 2 6 2-12 2-14 3 3 2-10 2 2 2-7 2 0 3-22 2-4 2-2 2 11 2 2 3 8 2 9 2-1 2 9 2 12 3-4 2 13 2 4 2 3 3 7 2 4 2-4 2 13 2 1 3-12 2-1 2-4 2 1 2-12 3-7 2-4 2-6 2-6 2-11 3 1 2-12 2-8 2 1 2-5 3 7 2 4 2 13 2-6 2 17 3-1 2 11 2 1 2-1 2 21 3-2 2 2 2 14 2-5 2 15 3-7 2-6 2-1 2-14 3-4 2-2 2-4 2-4 2-6 3-9 2-1 2-16 2 0 2-10 3 4 2-8 2 9 2-6 2 12 3 6 2 5 2 10 2-2 2 6 3 9 2 7 2 8 2-1 2 13 3 5 2 7 2-2 2-14 2 2 3-5 2-8 2-3 2 0 2-11 3-12 2-5 2-6 2-6 2-2 3 3 2-15 2-12 2 14 3 3 2 8 2 8 2-1 2 14 3-1 2 7 2 1 2 4 2 12 3 11 2 2 2 7 2 3 2 3 3-9 2-5 2-6 2-4 2-4 3-14 2 4 2-13 2-9 2 0 3-3 2-16 2-4 2-2 2-2 3 5 2 6 2-1 2 9 2 12 3 7 2 8 2-5 2 11 3 6 2 2 2 8 2 5 2 0 3 12 2 4 2-14 2-6 2-5 3-4 2-16 2 7 2-11 2-5 3-3 2-16 2 7 2-10 2-13 3-1 2-6 2 11 2 3 2 5 3 1 2 16 2 4 2 4 2 3 3 12 2-2 2 18 2 5 2-3 3 16 2 2 2-9 2 0 3-8 2-11 2 4 2-14 2 1 3-4 2-9 2-14 2 7 2-12 3-3 2-3 2-10 2-2 2 4 3 2 2 7 2 6 2 15 2 3 3 5 2 3 2 3 2 13 2 2 3 8 2 0 2 13 2 10 2-16 3-4 2-11 2-2 2 4 2-15 3-3 2-8 2-9 2 12 3-19 2-3 2-14 2-2 2 6 3-7 2-2 2 6 2 8 2 7 3 15 2-5 2 11 2-4 2 13 3-2 2 10 2 4 2 7 2 10 3 0 2 1 2-10 2-2 2-11 3 4 2-10 2-8 2 7 2-16 3-7 2-5 2-8 2 2 2-8 3-8 2 0 2 1 2 5 2 11 3-1 2 16 2 2 2 2 3 0 2 18 2-4 2 11 2 1 3 20 2-14 2 10 2-5 2-3 3 4 2-13 2-4 2 3 2-16 3 0 2-19 2 10 2-21 2 13 3-15 2-6 2-7 2-3 2 9 3 7 2-1 2 10 2 3 2 7 3 7 2 1 2 15 2-9 2 12 3 10 2 1 2 10 2-3 3 10 2-13 2-1 2-14 2 3 3-8 2 1 2-9 2-10 2-6 3-6 2-10 2-6 2 3 2-13 3-4 2 5 2 10 2 8 2 2 3 13 2 2 2 0 2 17 2-5 3 4 2 3 2 16 2 13 2-11 3 10 2 0 2 1 2-17 2-2 3 0 2-8 2-7 2-1 3-15 2 1 2-4 2-8 2-11 3-9 2 5 2-11 2 7 2 3 3 5 2 9 2 16 2-1 2 3 3 5 2 2" fill="none" stroke="#ff0000" stroke-width="13" stroke-linejoin="round"/><path d="M1764 2938l2 6 2 9 3 9 2 10 2 7 2 9 2 7 3 10 2 7 2 8 2-5 2-8 3-8 2-6 2-9 2-9 2-10 3-9 2-6 2-8 2-7 3-8 2-7 2-9 2-9 2-7 3 11 2 6 2 9 2 7 2 11 3 8 2 8 2 7 2 9 2 8 3 9 2 7 2 9 2 8 2 7 3-5 2-8 2-7 2-5 2-7 3-8 2-8 2-8 2-8 2-12 3-9 2-8 2-7 2-7 2-10 3-5 2 8 2 8 2 6 3 9 2 9 2 12 2 6 2 7 3 10 2 9 2 7 2 8 2 10 3 7 2 6 2-5 2-7 2-5 3-7 2-7 2-10 2-10 2-11 3-9 2-5 2-7 2-8 2-10 3-9 2-9 2-5 2 10 2 9 3 6 2 8 2 5 2 11 2 7 3 11 2 7 2 9 2 7 3 8 2 10 2 11 2 9 2-5 3-10 2-8 2-6 2-8 2-9 3-11 2-8 2-10 2-8 2-8 3-8 2-8 2-7 2-8 2-5 3 8 2 9 2 10 2 8 2 8 3 8 2 9 2 10 2 8 2 8 3 5 2 8 2 9 2 10 2 6 3-5 2-8 2-7 2-10 2-8 3-8 2-7 2-8 2-8 3-8 2-9 2-6 2-8 2-9 3-9 2-5 2 8 2 8 2 10 3 9 2 10 2 9 2 8 2 5 3 6 2 7 2 9 2 6 2 8 3 7 2 13 2-3 2-9 2-12 3-5 2-8 2-5 2-13 2-7 3-10 2-6 2-7 2-10 2-6 3-9 2-8 2-7 2 7 3 7 2 8 2 11 2 10 2 11 3 7 2 9 2 7 2 9 2 7 3 7 2 5 2 8 2 7 2-1 3-6 2-6 2-9 2-11 2-9 3-7 2-8 2-8 2-9 2-8 3-6 2-8 2-7 2-10 2-3 3 8 2 6 2 8 2 7 2 8 3 6 2 11 2 10 2 11 3 5 2 7 2 9 2 9 2 8 3 8 2-4 2-8 2-8 2-5 3-10 2-8 2-9 2-6 2-12 3-8 2-8 2-7 2-11 2-12 3-6 2-5 2 9 2 7 2 11 3 8 2 9 2 6 2 12 2 8 3 8 2 6 2 9 2 10 2 8 3 8 2 8 2-1 2-7 3-8 2-10 2-8 2-9 2-9 3-11 2-6 2-8 2-8 2-6 3-8 2-8 2-11 2-4 2 7 3 11 2 6 2 7 2 6 2 10 3 9 2 10 2 8 2 8 2 5 3 9 2 7 2 11 2 9 2-1 3-12 2-9 2-8 2-6 2-5 3-11 2-10 2-10 2-8 3-6 2-9 2-9 2-8 2-9 3-4 2 7 2 9 2 9 2 10 3 6 2 9 2 9 2 9 2 5 3 7 2 9 2 11 2 9 2 8 3 5 2-4 2-10 2-6 2-7 3-7 2-8 2-8 2-8 2-10 3-10 2-9 2-7 2-6 2-6 3-6 2-8 2 6 2 7 2 9 3 9 2 10 2 9 2 7 3 9 2 9 2 9 2 8 2 7 3 7 2 7 2 8 2-2 2-8 3-8 2-8 2-8 2-8 2-8 3-9 2-9 2-9 2-6 2-9 3-10 2-6 2-7 2-2 2 5 3 7 2 7 2 9 2 9 2 8 3 9 2 8 2 7 2 8 2 8 3 10 2 6 2 10 2 6 3-4 2-8 2-8 2-7 2-10 3-9 2-8 2-6 2-7 2-8 3-11 2-10 2-7 2-9 2-10 3-7 2 12 2 13 2 8 2 5 3 9 2 8 2 9 2 7 2 8 3 11 2 7 2 9 2 8 2 7 3 7 2-2 2-7 2-9 2-11 3-11 2-6 2-6 2-6 3-9 2-8 2-7 2-8 2-8 3-9 2-10 2-5 2 9 2 11 3 6 2 5 2 9 2 9 2 11 3 6 2 10 2 7 2 7 2 6 3 8 2 10 2 9 2-3 2-10 3-9 2-10 2-6 2-9 2-5 3-7 2-8 2-9 2-8 2-5 3-10 2-10 2-9 2-6 3 10 2 8 2 12 2 8 2 9 3 6 2 6 2 9 2 9 2 8 3 8 2 9 2 8 2 9 2 7 3-2 2-12 2-6 2-9 2-7 3-9 2-12 2-7 2-7 2-6 3-9 2-11 2-7 2-9 2-9 3-8 2 10 2 10 2 10 2 7 3 8 2 9 2 11 2 9 2 9 3 5 2 8 2 6 2 8 3 9 2 11 2-2 2-9 2-11 3-10 2-6 2-8 2-7 2-9 3-7 2-9 2-9 2-7 2-8 3-7 2-9 2-3 2 6 2 10 3 4 2 8 2 7 2 9 2 9 3 10 2 9 2 8 2 8 2 9 3 8 2 9 2 6 2-3 2-8 3-9 2-7 2-9 2-8 3-8 2-9 2-8 2-7 2-8 3-8 2-10 2-7 2-8 2-5 3 7 2 10 2 8 2 9 2 6 3 10 2 7 2 6 2 9 2 7 3 11 2 7 2 9 2 9 2 7 3-2 2-10 2-10 2-7 2-9 3-5 2-10 2-7 2-8 2-7 3-9 2-10 2-6 2-9 3-8 2-6 2 9 2 8 2 8 3 9 2 7 2 9 2 8 2 8 3 9 2 9 2 9 2 7 2 8 3 8 2 6 2-3 2-10 2-5 3-9 2-8 2-10 2-8 2-7 3-7 2-9 2-10 2-10 2-8 3-7 2-8 2-3 2 8 2 11 3 7 2 10 2 4 2 8 3 7 2 9 2 7 2 9 2 8 3 6 2 9 2 8 2 10 2-4 3-9 2-7 2-6 2-7 2-9 3-6 2-8 2-9 2-12 2-10 3-7 2-5 2-9 2-11 2-7 3 12 2 10 2 8 2 7 2 9 3 7 2 7 2 7 2 11 2 9 3 8 2 6 2 8 2 8 3 9 2-1 2-7 2-9 2-9 3-8 2-7 2-9 2-10 2-7 3-9 2-8 2-10 2-8 2-8 3-6 2-6 2 9 2 7 2 9 3 7 2 8 2 8 2 10 2 9 3 7 2 9 2 7 2 7 2 6 3 7 2 11 2-3 2-4 2-8 3-8 2-10 2-8 2-8 3-9 2-8 2-6 2-10 2-8 3-7 2-7 2-8 2-8 2 5 3 6 2 9 2 13 2 10 2 7 3 7 2 7 2 8 2 7 2 7 3 9 2 8 2 11 2 9 2-1 3-9 2-9 2-8 2-8 2-8 3-11 2-7 2-8 2-7 2-9 3-9 2-9 2-7 2-8 2-4 3 7 2 9 2 7 2 10 3 10 2 7 2 5 2 6 2 9 3 10 2 10 2 8 2 7 2 8 3 8 2-2 2-8 2-9 2-10 3-8 2-6 2-6 2-10 2-9 3-9 2-10 2-9 2-7 2-6 3-8 2-6 2 10 2 11 2 7 3 6 2 5 2 8 2 7 2 10 3 7 2 10 2 10 2 10 3 9 2 6 2 5 2-3 2-8 3-6 2-9 2-8 2-9 2-8 3-8 2-7 2-8 2-8 2-9 3-9 2-8 2-6 2-6 2 9 3 8 2 8 2 6 2 8 2 10 3 9 2 10 2 8 2 8 2 7 3 7 2 9 2 7 2 11 2-3 3-7 2-9 2-10 2-9 3-10 2-8 2-10 2-6 2-7 3-8 2-8 2-7 2-8 2-10 3-6 2 8 2 10 2 8 2 10 3 8 2 8 2 8 2 7 2 9 3 7 2 6 2 9 2 9 2 10 3 6 2-5 2-8 2-9 2-9 3-9 2-7 2-4 2-7 2-8 3-8 2-8 2-10 2-11 3-8 2-6 2-3 2 5 2 7 3 8 2 11 2 6 2 8 2 8 3 13 2 7 2 7 2 7 2 9 3 8 2 8 2 9 2-3 2-9 3-12 2-9 2-9 2-7 2-7 3-6 2-8 2-6 2-7 2-8 3-6 2-11 2-9 2-9 2 9 3 7 2 8 2 8 2 8 2 10 3 10 2 8 2 9 2 7 3 10 2 7 2 8 2 9 2 10 3-5 2-9 2-9 2-7 2-9 3-8 2-8 2-7 2-8 2-6 3-8 2-8 2-10 2-8 2-9 3-4 2 8 2 9 2 6 2 9 3 6 2 6 2 7 2 10 2 11 3 7 2 7 2 5 2 10 2 10 3 11 2-3 2-11 2-8 3-9 2-6 2-8 2-8 2-6 3-9 2-8 2-11 2-7 2-6 3-8 2-10 2-5 2 8 2 7 3 9 2 8 2 10 2 8 2 8 3 8 2 4 2 8 2 7 2 10 3 11 2 11 2 8 2-6 2-13 3-7 2-6 2-7 2-10 2-9 3-7 2-6 2-6 2-8 3-12 2-9 2-6 2-6 2-6 3 5 2 10 2 10 2 8 2 7 3 6 2 9 2 8 2 9 2 7 3 8 2 8" fill="none" stroke="#008000" stroke-width="14" stroke-linejoin="round"/></g></g><rect x="165.5" y="287.5" width="242.0" height="15.0" fill="none" stroke="#303030" stroke-width="1"/><line x1="162.70" x2="165.50" y1="289.5" y2="289.5" stroke="#262626" stroke-width="0.9"/><text x="160.80" y="291.90" class="tk" text-anchor="end">1</text><line x1="162.70" x2="165.50" y1="302.5" y2="302.5" stroke="#262626" stroke-width="0.9"/><text x="160.80" y="304.60" class="tk" text-anchor="end">0</text><line x1="176.5" x2="176.5" y1="302.5" y2="305.1" stroke="#262626" stroke-width="0.9"/><line x1="220.5" x2="220.5" y1="302.5" y2="305.1" stroke="#262626" stroke-width="0.9"/><line x1="264.5" x2="264.5" y1="302.5" y2="305.1" stroke="#262626" stroke-width="0.9"/><line x1="308.5" x2="308.5" y1="302.5" y2="305.1" stroke="#262626" stroke-width="0.9"/><line x1="352.5" x2="352.5" y1="302.5" y2="305.1" stroke="#262626" stroke-width="0.9"/><line x1="396.5" x2="396.5" y1="302.5" y2="305.1" stroke="#262626" stroke-width="0.9"/><g clip-path="url(#rc2)"><g transform="scale(0.1)"><path d="M1764 3179l2-9 2-20 3-38 2-10 2-1 2-27 2 6 3 16 2 5 2-17 2 6 2-3 3-3 2-13 2 9 2 14 2-23 3 21 2-20 2 5 2 18 3-32 2 22 2-3 2-12 2 10 3-11 2-4 2 19 2-12 2 16 3-26 2 22 2 4 2 14 2-10 3 8 2-18 2-4 2-5 2-12 3 17 2 1 2 21 2-2 2-20 3 10 2-7 2-18 2 4 2 2 3 8 2-4 2 28 2-21 2 12 3-11 2-10 2 31 2-12 3-17 2 1 2 30 2-35 2 23 3 14 2-39 2 24 2 6 2 2 3 6 2-7 2-12 2 9 2-3 3-6 2 18 2-24 2 2 2 14 3 4 2 6 2-19 2-2 2 9 3-8 2 3 2 4 2 6 2 3 3 2 2-2 2 9 2-4 2 25 3-29 2 6 2 5 2 4 3 12 2-3 2-1 2 14 2-22 3 8 2-2 2 18 2-27 2 9 3-16 2-1 2 26 2-13 2 15 3-8 2 3 2-8 2-4 2 13 3-7 2 25 2 5 2 1 2-17 3 16 2-10 2-15 2 14 2 23 3-21 2 7 2-20 2 21 2 6 3 15 2-13 2-17 2-1 2 32 3-24 2 10 2 22 2-32 3 3 2 8 2 21 2 5 2-17 3-17 2 4 2 39 2-35 2 24 3-9 2-4 2 13 2 13 2-13 3 3 2-26 2 16 2 17 2-14 3-7 2 11 2-20 2 35 2-24 3 25 2-8 2-4 2-16 2 34 3-15 2 5 2 9 2-2 2 1 3 5 2-11 2 5 2 9 3 1 2-8 2-20 2 10 2 14 3-23 2 8 2 12 2 3 2 12 3-17 2-14 2-3 2 6 2 26 3-12 2 12 2-4 2-23 2 17 3 17 2-13 2 4 2 4 2-4 3-6 2-1 2-14 2 33 2-32 3-6 2 28 2-35 2 26 2-16 3 16 2 5 2 9 2-33 3 19 2-8 2 12 2-12 2-6 3 8 2-8 2 1 2-8 2 2 3 20 2-17 2-3 2 1 2 27 3-9 2-15 2-2 2-1 2 5 3-6 2 6 2-15 2 0 2 0 3 32 2-18 2-3 2-6 2-8 3 30 2-26 2 0 2 26 2-17 3-18 2 27 2-13 2 16 3-16 2-25 2 29 2-26 2-2 3 27 2-18 2-17 2 22 2 6 3-9 2 17 2-20 2-15 2 25 3-15 2-8 2-3 2 2 2 3 3-14 2 25 2 5 2-17 2-18 3 26 2-9 2 7 2-21 2 18 3-25 2 14 2 7 2-29 2 28 3-11 2-13 2 0 2 18 3-22 2 6 2-4 2-9 2 34 3-15 2 9 2-22 2-7 2 24 3-25 2 20 2 8 2-30 2 2 3-15 2 12 2 18 2 1 2-1 3 3 2-33 2 0 2 32 2-11 3-22 2 16 2-20 2 25 2-10 3 4 2-1 2-8 2-11 2 14 3-9 2-19 2 14 2 13 2 6 3-32 2 17 2-13 2 11 3 9 2-5 2-5 2 9 2-22 3 9 2-12 2-7 2-1 2 29 3-19 2-17 2 2 2 11 2-6 3 23 2-18 2-14 2 11 2 16 3-24 2 26 2-16 2-7 2 4 3 10 2 1 2 0 2-19 2-7 3 25 2-26 2 10 2-18 2-1 3 31 2-16 2-4 2 20 3 2 2-14 2-10 2 7 2-7 3 11 2 4 2 14 2-27 2 9 3-21 2 39 2-19 2-4 2 7 3-14 2 0 2 36 2-25 2 5 3 3 2-3 2-21 2 17 2-4 3 5 2 7 2 4 2 12 2-14 3 5 2-9 2 5 2-16 2 11 3 15 2 7 2-15 2 13 3-27 2 31 2-23 2 3 2 19 3-10 2 6 2-23 2 13 2 23 3 7 2-5 2-13 2-2 2 21 3-31 2 30 2-20 2 2 2-14 3 35 2-18 2-10 2 24 2-9 3 2 2 7 2-7 2 12 2-2 3-4 2 12 2-29 2 13 2-7 3-2 2 21 2 13 2-15 3-13 2 9 2-9 2 9 2-2 3-1 2 24 2-3 2-11 2 4 3 0 2 29 2-19 2-4 2 21 3 2 2-31 2 35 2-10 2-11 3 17 2-2 2-18 2 19 2 2 3-25 2 13 2-4 2 6 2 7 3 15 2-16 2 21 2-10 2-3 3 13 2-6 2 7 2-11 2 9 3 5 2 1 2-2 2 5 3-10 2 0 2 20 2 6 2-12 3-25 2 18 2 7 2-24 2 35 3-15 2-5 2-1 2 26 2 3 3-33 2 4 2 17 2-5 2 26 3-17 2-6 2 2 2 16 2-7 3-6 2-2 2 23 2-40 2 38 3-6 2 11 2-18 2-14 2-1 3 21 2-5 2-16 2 27 3-2 2-2 2-20 2 7 2-1 3 22 2-19 2 12 2 3 2-2 3-3 2 12 2-25 2 18 2 0 3-24 2 38 2-17 2-5 2-2 3 8 2 6 2-11 2 23 2-37 3 15 2-20 2 32 2-23 2-7 3-7 2 15 2-11 2 19 2-1 3 6 2-24 2 15 2 22 3-9 2-20 2 15 2 12 2-17 3 3 2-2 2 2 2-7 2-5 3-7 2 12 2-14 2 7 2 13 3 2 2-10 2-5 2-2 2-5 3 5 2-15 2-4 2 0 2-3 3 16 2 19 2-13 2 14 2-32 3 17 2 2 2-38 2 40 2-26 3 2 2 10 2 2 2-11 3 6 2 8 2 1 2-18 2-6 3 15 2-5 2-19 2 25 2-16 3 1 2 11 2-21 2 19 2-29 3-1 2 26 2-25 2 11 2 5 3-14 2-4 2 21 2-38 2 14 3 9 2-8 2-17 2 10 2-8 3 22 2-7 2 8 2-18 2 16 3-25 2-7 2 12 2-2 3-8 2-6 2 33 2-26 2 10 3-7 2 15 2-32 2 1 2 28 3-21 2-13 2-2 2 22 2-15 3 7 2 7 2-3 2 8 2 2 3-37 2 20 2-12 2 19 2 1 3-3 2-30 2 24 2 4 2-22 3-11 2 6 2 20 2 0 2 4 3-7 2-1 2 6 2-20 3-5 2 3 2 12 2-11 2 7 3 1 2 4 2-6 2 5 2-23 3 14 2-8 2-10 2 30 2-20 3-10 2 24 2-15 2-18 2 4 3 10 2 8 2 0 2 9 2-27 3-3 2 25 2 1 2-4 2-18 3 10 2 6 2-1 2-25 2 37 3-16 2-21 2 10 2 30 2-21 3-5 2-12 2 28 2 2 3-8 2 8 2 6 2-10 2-14 3-4 2 23 2-22 2 30 2-28 3 14 2-11 2 12 2-21 2 12 3 11 2 1 2-18 2 27 2-9 3 11 2 1 2-21 2 7 2 4 3 12 2-2 2-29 2 32 2-9 3-12 2 12 2-21 2 8 2-9 3 28 2-7 2 0 2-16 3 38 2-5 2 9 2-17 2-16 3 20 2 10 2-8 2-21 2 5 3 29 2-11 2-26 2 39 2-18 3 3 2-9 2 2 2 35 2-32 3-3 2 31 2 4 2-12 2-23 3-1 2 32 2-23 2 29 2-31 3 36 2-22 2-2 2 20 2 3 3-25 2 13 2 4 2 4 3 25 2-38 2 16 2-10 2-4 3 1 2 26 2 9 2-17 2-6 3 14 2-18 2 25 2 10 2-21 3 22 2-16 2-8 2 27 2-14 3 13 2-19 2 0 2 4 2-7 3 14 2 19 2-31 2 5 2 8 3 30 2-10 2-26 2 25 2-13 3 24 2-28 2 7 2-5 3 26 2-37 2 32 2-10 2-2 3 16 2 1 2-7 2-2 2 9 3-12 2 12 2 0 2 14 2-2 3-15 2 2 2 4 2 12 2-25 3 3 2 13 2 1 2-22 2 2 3 6 2 0 2 23 2-27 2 2 3 1 2 26 2-31 2 15 2 0 3-8 2 25 2-25 2 6 2 13 3-14 2-1 2 3 2 18 3 2 2-16 2 20 2 5 2-28 3 26 2 5 2-4 2-31 2 34 3 0 2 2 2-4 2-25 2 27 3-1 2-30 2 2 2 7 2-16 3 14 2 20 2 3 2-14 2-17 3 13 2-22 2 0 2 0 2 16 3-8 2 2 2-4 2-6 2 1 3 23 2-3 2 2 2-11 3-10 2 27 2-2 2-22 2 11 3-2 2-21 2 10 2 2 2-24 3 29 2 2 2-23 2 20 2-19 3-14 2 20 2 9 2 3 2 6 3-23 2-5 2 30 2-21 2-6 3-4 2-4 2-4 2 5 2 16 3-34 2 7 2 14 2 12 2-26 3 14 2-23 2 19 2 2 3-11 2 17 2-23 2 8 2 0 3 7 2 2 2-13 2-23 2 33 3-33 2 14 2 10 2 1 2-22 3 20 2-15" fill="none" stroke="#ff0000" stroke-width="13" stroke-linejoin="round"/><path d="M1764 3164l2-18 2-19 3-18 2-19 2-19 2 0 2 3 3-1 2-1 2 2 2-3 2 0 3-2 2 2 2 3 2-2 2-5 3-3 2 0 2 3 2 0 3 2 2 0 2 3 2-2 2 0 3-3 2 0 2-1 2 2 2 2 3-2 2 1 2 2 2 4 2 0 3-2 2-5 2-6 2-1 2 0 3 6 2 2 2 2 2-2 2 0 3 1 2-2 2 1 2-4 2 3 3-1 2 6 2-1 2 1 2-1 3 0 2 0 2 0 2 5 3 1 2-1 2-3 2-1 2 3 3 0 2-3 2-2 2 1 2 6 3-2 2-1 2 1 2 3 2 3 3-2 2 3 2-2 2 4 2-2 3 3 2-1 2 2 2 3 2 0 3 1 2-2 2 5 2-1 2 1 3-2 2 3 2 4 2 5 2 0 3 1 2-3 2-1 2 0 3 3 2 4 2 3 2 2 2-2 3-2 2 1 2 4 2 3 2-3 3-1 2-3 2 8 2 0 2 2 3-2 2 4 2 3 2 1 2 0 3 2 2 0 2-1 2-2 2 3 3 3 2 4 2-3 2 3 2 1 3 4 2-1 2 0 2 2 2 3 3 3 2 0 2-2 2 1 2 0 3 5 2 2 2 0 2 2 3-4 2 5 2-1 2 3 2-2 3 4 2 2 2 4 2 2 2 3 3-4 2 0 2 1 2 5 2-1 3-1 2-1 2-1 2 0 2 3 3 3 2-1 2-1 2 0 2 2 3 4 2 0 2 2 2-2 2 3 3 0 2-1 2 1 2 4 2 4 3 1 2-5 2 1 2 0 3 1 2-2 2 2 2 3 2 4 3-3 2 1 2 0 2 5 2 4 3-2 2 0 2-4 2 1 2 2 3-3 2 2 2-2 2 4 2-3 3 0 2-1 2 6 2 0 2 0 3-5 2 3 2 1 2 2 2-3 3-3 2-4 2 0 2 2 2 5 3-1 2 3 2-3 2 2 3-2 2-1 2 0 2-2 2 2 3 3 2-1 2 1 2-4 2 0 3-4 2 1 2 0 2 1 2 1 3-3 2-1 2-1 2-1 2-2 3-3 2 2 2 3 2 0 2 1 3-3 2 0 2-4 2-1 2 1 3 3 2 0 2-2 2-3 2-1 3-3 2 1 2 0 2-4 3-5 2 0 2 7 2-1 2-3 3-3 2-2 2-3 2-2 2 3 3-1 2-1 2-5 2 0 2-2 3 0 2-3 2 4 2-1 2-1 3-6 2 0 2 2 2 1 2-1 3-4 2-1 2 0 2-1 2 2 3-2 2 1 2-7 2-2 2-2 3 2 2-1 2 0 2-6 3-3 2-2 2 3 2 4 2 0 3-2 2-2 2-2 2 0 2-2 3 2 2-2 2-3 2-2 2-3 3 0 2-3 2 0 2 0 2-1 3-2 2 0 2 1 2-2 2-6 3-2 2-1 2 4 2-2 2 0 3-3 2 1 2-2 2 2 2-4 3 1 2-5 2-1 2 1 2-2 3 0 2-2 2 3 2-2 3-3 2-4 2 4 2-3 2 0 3-5 2 2 2 2 2-1 2-1 3-4 2 0 2-1 2-1 2-1 3 1 2 1 2 1 2-1 2-2 3-2 2-1 2 1 2-3 2 1 3-1 2-2 2 3 2 1 2 0 3-4 2-1 2 0 2-2 2-1 3 1 2 4 2 2 2-4 3 2 2 0 2-2 2-3 2 1 3 7 2 1 2-4 2-5 2-2 3 0 2 5 2 2 2 1 2 0 3-1 2 3 2 0 2 4 2-4 3-1 2-4 2-1 2 2 2 4 3 0 2 2 2-2 2 0 2-2 3-1 2 3 2 1 2 3 2 0 3-1 2 1 2 2 2 4 3-1 2 1 2-2 2 3 2-2 3 3 2-1 2-2 2 4 2 5 3 7 2-3 2-1 2 0 2 1 3 2 2 0 2-1 2 0 2 2 3 0 2 1 2 0 2 5 2 0 3-2 2-2 2 2 2 3 2 4 3 0 2 0 2-4 2 1 2 0 3 3 2 1 2 4 2 2 3 1 2 1 2 3 2 0 2 0 3 0 2 1 2 4 2 3 2 1 3 2 2 1 2 3 2-2 2 3 3-3 2 3 2 0 2 4 2 1 3 1 2 1 2 1 2-2 2 3 3 0 2 2 2-1 2 1 2 1 3 5 2 5 2 1 2-1 2-2 3 1 2 4 2 1 2 4 2-3 3 0 2-3 2 4 2 1 3 3 2 0 2 5 2 0 2-3 3 1 2 0 2 2 2-2 2 3 3 2 2 4 2 2 2 2 2-1 3 0 2-1 2 4 2 0 2 3 3-2 2 2 2-1 2-1 2 0 3 2 2 3 2-1 2-1 2-1 3 3 2 3 2-2 2-3 2-1 3 0 2 0 2-1 2 3 3 1 2 2 2 2 2 5 2 1 3-4 2-2 2-1 2 1 2 1 3 2 2 1 2 1 2-2 2 1 3 2 2 2 2 1 2-4 2 0 3 1 2 1 2 0 2 3 2 0 3-3 2-3 2-2 2-2 2-3 3 2 2 1 2 2 2 1 2 1 3-3 2 1 2-1 2 3 3-4 2 1 2-3 2 3 2 2 3-1 2-4 2-2 2 0 2 2 3-2 2 1 2-5 2 1 2-1 3 0 2 1 2-3 2-2 2-5 3 0 2 2 2-3 2-1 2 4 3 4 2 0 2-3 2 0 2-2 3-5 2-5 2-3 2 3 2 1 3-1 2-4 2 0 2 3 3 0 2-1 2-4 2-5 2-3 3 3 2 3 2 2 2-6 2-1 3-4 2 4 2-1 2-2 2-3 3-3 2 0 2-1 2 0 2-3 3-1 2-1 2-2 2-2 2 0 3 1 2-1 2-4 2-2 2-4 3-2 2 0 2 3 2 0 2-3 3-2 2-2 2 2 2-1 3-1 2-3 2 3 2-6 2 1 3-2 2 2 2-1 2-5 2-2 3-3 2 4 2-1 2 1 2-7 3 2 2-3 2 1 2-5 2 0 3 1 2 1 2-2 2-2 2 0 3 0 2 0 2-2 2-2 2-3 3-3 2 0 2 2 2 0 2-3 3-3 2-1 2-1 2 1 3 0 2 2 2 3 2-1 2 0 3-2 2 1 2-3 2-2 2-5 3 2 2-1 2 1 2 1 2-4 3 1 2-4 2 0 2-1 2 4 3 3 2 0 2-1 2-4 2-1 3-2 2 4 2-2 2-3 2-2 3 3 2 2 2-1 2-4 2 0 3 2 2 0 2 2 2 2 2 0 3 1 2-8 2 2 2 1 3 5 2 2 2 2 2-2 2-3 3-3 2 2 2 1 2 2 2-2 3 0 2-1 2 2 2 1 2 0 3 0 2 0 2 2 2 2 2 1 3 1 2-2 2-1 2-2 2 1 3 0 2 1 2-2 2 2 2 1 3 4 2 1 2 0 2-2 2-2 3 0 2 5 2-2 2 4 3 2 2 4 2 0 2 2 2 1 3 1 2-2 2 2 2 1 2 2 3 1 2-1 2-4 2 2 2 5 3 4 2 2 2 0 2 1 2-4 3 1 2 5 2 4 2 1 2-4 3-2 2 1 2 4 2 2 2-1 3 4 2 2 2 2 2-1 2 3 3 0 2 1 2 2 2 2 3 5 2 0 2 1 2-1 2 3 3-2 2-2 2 2 2 4 2 4 3-5 2 0 2 1 2 6 2 1 3 3 2 2 2 2 2-4 2-3 3 4 2 5 2 3 2 0 2-2 3 3 2-2 2 2 2 1 2 7 3 1 2-1 2-1 2-1 2 1 3 1 2 4 2 0 2-1 3-2 2 1 2 0 2 4 2 4 3 3 2-3 2 0 2 0 2 4 3 0 2 4 2-2 2 1 2 1 3 2 2 2 2-1 2 0 2 1 3-1 2 1 2 0 2 2 2-4 3 3 2 1 2 3 2-2 2 2 3-1 2 0 2 0 2 2 2-1 3 1 2-1 2 1 2 2 2-1 3 2 2-5 2 5 2-1 3 5 2 1 2 0 2-1 2-1 3 0 2 0 2 1 2 0 2 1 3 1 2-3 2-2 2 0 2 2 3 0 2-1 2-1 2-1 2-1 3 1 2 2 2 0 2 1 2-3 3 1 2-2 2-1 2-5 2-2 3 1 2-1 2-3 2 2 2 1 3-1 2 1 2-2 2 3 3-1 2 1 2 0 2 0 2-1 3-2 2-2 2-2 2-1 2-5 3 3 2-2 2 6 2-3 2-1 3-6 2 2 2-3 2 0 2 0 3 2 2 0 2 0 2 0 2-4 3-3 2-3 2 0 2-3 2-2 3 0 2 2 2 3 2 0 2-4 3-9 2 1 2 1 2 5 3-7 2-2 2-3 2 4 2 0 3 2 2-2 2-4 2-4 2-2 3-1 2-1 2-2 2-2 2 1 3 4 2-3" fill="none" stroke="#008000" stroke-width="14" stroke-linejoin="round"/></g></g><rect x="165.5" y="306.5" width="242.0" height="15.0" fill="none" stroke="#303030" stroke-width="1"/><line x1="162.70" x2="165.50" y1="306.5" y2="306.5" stroke="#262626" stroke-width="0.9"/><text x="160.80" y="309.10" class="tk" text-anchor="end">1</text><line x1="162.70" x2="165.50" y1="320.5" y2="320.5" stroke="#262626" stroke-width="0.9"/><text x="160.80" y="323.00" class="tk" text-anchor="end">0</text><line x1="176.5" x2="176.5" y1="321.5" y2="324.1" stroke="#262626" stroke-width="0.9"/><line x1="220.5" x2="220.5" y1="321.5" y2="324.1" stroke="#262626" stroke-width="0.9"/><line x1="264.5" x2="264.5" y1="321.5" y2="324.1" stroke="#262626" stroke-width="0.9"/><line x1="308.5" x2="308.5" y1="321.5" y2="324.1" stroke="#262626" stroke-width="0.9"/><line x1="352.5" x2="352.5" y1="321.5" y2="324.1" stroke="#262626" stroke-width="0.9"/><line x1="396.5" x2="396.5" y1="321.5" y2="324.1" stroke="#262626" stroke-width="0.9"/><g clip-path="url(#rc3)"><g transform="scale(0.1)"><path d="M1764 3327l2 15 2-2 3 11 2 6 2 8 2 1 2-1 3-1 2-14 2 0 2-19 2 5 3-4 2-15 2 1 2-21 2 7 3-11 2-8 2 0 2 12 3-5 2 14 2 6 2 6 2 10 3-7 2 16 2 4 2 18 2 0 3 2 2 4 2-1 2-8 2-12 3-5 2-3 2-3 2-11 2-9 3-6 2-8 2-4 2-1 2-10 3-3 2 20 2-1 2 1 2 10 3-3 2 30 2-6 2 13 2 3 3 3 2 5 2 12 2-6 3 10 2-23 2-6 2-3 2-5 3-1 2-17 2 2 2-15 2 0 3-15 2-2 2-8 2 13 2 3 3 7 2 7 2 15 2-3 2 17 3 0 2 4 2 6 2 17 2-4 3 6 2-1 2-12 2 4 2-9 3-19 2 6 2-18 2 9 2-23 3 0 2 1 2-17 2-7 3 10 2 1 2 14 2-10 2 16 3 7 2 13 2-2 2 4 2 19 3 4 2 0 2 6 2 2 2-18 3 7 2-10 2-4 2 1 2-13 3-11 2 5 2-21 2-3 2-12 3-3 2 2 2 2 2 7 2 12 3 7 2 4 2 9 2 10 2 0 3-1 2 17 2 7 2 7 2 1 3-11 2-2 2 0 2-9 3-11 2-6 2-2 2-9 2-8 3 0 2-14 2-4 2-9 2 8 3 7 2-3 2 16 2 7 2 7 3 8 2 0 2 9 2 10 2 5 3 4 2 3 2 2 2-4 2-2 3-11 2-7 2-5 2-11 2-2 3-19 2-1 2-12 2 1 2-6 3-10 2 15 2 2 2 12 3 7 2 0 2 15 2 12 2 2 3 2 2 10 2 1 2 11 2 0 3-5 2 8 2-24 2 4 2-20 3-5 2 3 2-9 2-12 2 6 3-17 2-10 2 0 2 3 2 6 3 11 2 3 2 5 2 12 2 6 3 5 2 6 2 5 2 14 2-6 3 14 2 1 2-14 2 7 3-14 2-5 2-3 2-23 2-3 3 2 2-17 2-5 2-1 2-8 3 0 2 16 2 1 2 0 2-1 3 11 2 15 2 2 2 7 2-1 3 15 2 5 2 3 2 10 2-13 3-2 2-5 2-2 2-15 2 4 3-19 2-1 2-1 2-17 2 1 3-8 2-3 2 3 2 7 3 6 2 2 2 8 2 2 2 14 3 0 2 12 2 5 2 14 2-3 3 5 2-2 2-6 2 7 2-11 3-22 2 8 2-4 2-16 2-3 3-10 2-11 2 2 2-7 2 7 3-4 2 8 2 9 2 3 2 6 3 4 2 6 2 8 2 7 2 6 3 9 2 8 2-5 2 4 3-8 2-11 2-7 2-2 2-1 3-3 2-14 2-1 2-16 2-1 3-6 2-4 2 9 2 0 2 10 3-3 2 5 2 16 2 5 2 3 3 6 2 9 2-1 2 11 2 9 3-8 2-7 2 1 2-7 2-2 3-19 2-2 2 0 2-14 2-6 3-1 2-9 2-7 2-2 2 1 3 19 2-6 2 15 2 7 3 4 2 6 2 6 2 9 2 6 3 5 2 10 2 5 2-10 2-16 3 6 2-11 2-5 2-9 2 3 3-7 2-13 2-18 2 8 2-8 3-7 2 4 2 8 2 1 2 5 3 12 2 2 2 12 2 8 2-4 3 9 2 9 2 9 2 13 2-8 3-2 2-14 2 0 2-6 3-17 2-3 2 1 2-11 2-2 3-18 2-1 2-6 2-2 2-2 3 16 2 13 2-9 2 11 2 10 3 5 2 13 2 3 2 8 2 5 3 4 2 0 2 0 2-10 2-11 3 1 2-6 2-7 2-14 2 1 3-7 2-7 2-6 2 0 2-6 3 11 2-7 2 15 2 2 3 10 2 4 2 0 2 15 2 3 3 10 2-1 2 3 2 7 2 1 3-5 2-8 2-3 2-7 2-2 3-9 2-5 2-7 2-20 2 5 3-3 2-15 2-10 2 22 2 2 3 11 2 5 2 5 2 2 2 7 3 4 2 17 2 1 2 9 2 0 3 8 2-9 2 7 2-12 3-8 2-15 2 7 2-8 2-8 3-14 2-12 2 6 2-11 2-12 3 15 2 6 2-2 2 7 2 11 3-2 2 21 2-1 2 9 2 10 3-1 2 7 2 19 2-9 2-7 3 0 2-3 2-21 2-3 2-5 3-3 2-6 2-10 2-14 2 2 3-10 2 3 2-9 2 20 2 5 3 6 2 7 2 3 2-7 3 20 2 2 2 16 2 0 2 17 3 10 2-13 2-14 2-7 2-2 3-4 2-3 2-14 2-11 2-6 3-1 2-1 2-19 2 1 2 4 3 7 2 8 2 7 2-2 2 2 3 10 2 10 2 12 2 10 2-1 3 11 2 15 2-10 2-8 2-10 3-11 2 3 2-8 2-9 3-4 2-8 2-3 2-16 2-2 3-6 2-8 2 5 2 10 2 10 3 8 2 1 2 6 2 7 2 5 3 13 2 8 2 7 2 5 2 10 3-11 2-8 2-8 2-2 2-12 3 3 2-4 2-27 2 8 2-7 3-5 2-8 2-15 2 14 2 6 3 6 2 0 2 11 2 0 3 17 2 1 2 2 2 13 2 9 3 0 2 12 2-8 2 1 2-11 3-1 2-13 2-5 2 1 2-8 3-13 2-7 2-8 2-5 2 2 3-10 2 4 2 13 2 12 2-1 3-2 2 14 2 10 2 0 2 0 3 13 2 10 2 8 2 1 2-6 3-6 2-3 2-5 2-9 3-7 2-10 2-5 2-1 2-7 3-11 2-15 2-2 2 15 2-2 3 7 2 10 2 15 2-9 2 17 3 1 2 11 2 11 2-1 2 6 3 3 2-2 2-3 2-12 2 1 3-8 2-10 2 3 2-12 2-12 3 1 2-11 2-4 2 0 2-13 3 5 2 12 2 5 2 7 3-2 2 17 2 3 2 11 2 12 3 3 2 3 2 11 2 6 2-4 3-11 2-7 2-15 2-5 2-2 3-3 2-14 2 2 2-12 2-5 3-7 2-6 2 0 2 6 2 8 3 10 2 6 2 7 2 3 2 5 3 8 2 6 2 15 2 1 2 8 3 2 2-13 2-5 2-7 3-2 2-10 2-3 2-10 2-4 3-12 2-1 2-5 2-18 2 6 3 4 2 15 2 1 2 3 2 7 3 13 2-6 2 17 2 7 2 2 3 10 2 2 2 2 2-5 2-2 3-12 2 2 2-10 2-8 2-1 3-17 2-10 2 2 2 2 2-11 3-11 2 10 2-5 2 13 2 13 3 5 2 2 2 2 2 16 3 0 2 16 2 5 2 8 2-1 3-8 2 2 2-7 2-10 2-3 3-2 2-17 2-8 2 3 2-14 3 1 2-10 2-6 2 0 2 2 3 16 2-1 2 5 2 9 2 4 3 0 2 17 2 11 2 0 2 4 3 16 2 0 2-4 2-6 2-18 3 8 2-17 2-7 2-5 3-1 2-3 2-3 2-11 2-13 3 0 2-1 2 10 2 5 2 2 3 10 2 2 2 16 2 2 2 12 3 2 2 11 2-3 2 17 2-8 3-8 2-14 2-1 2-3 2-4 3-14 2-12 2-1 2-8 2 0 3-4 2-13 2-5 2 13 2 5 3 5 2 5 2 13 2 3 3 10 2 2 2 3 2 7 2 11 3 8 2 0 2-10 2 3 2-13 3-4 2-13 2 0 2-5 2-3 3-14 2-6 2-13 2-3 2-3 3-1 2 16 2 5 2 8 2 0 3 11 2 8 2-1 2 13 2 7 3 2 2 7 2 10 2-2 2-3 3-10 2-1 2 1 2-24 3 2 2-6 2-15 2-9 2 5 3-14 2-9 2 6 2 2 2 15 3 0 2 8 2 1 2 9 2 14 3 3 2 8 2 5 2 3 2 13 3 15 2-17 2-17 2 2 2-7 3-12 2-7 2-2 2-11 2 3 3-20 2 0 2 3 2-22 2 15 3 8 2 6 2-2 2 17 2 1 3 9 2 1 2 9 2 5 3 8 2 4 2 9 2-3 2-7 3-5 2-7 2-7 2-1 2-7 3-13 2-7 2-9 2 6 2-15 3-8 2 1 2 12 2-2 2 10 3 10 2 1 2 6 2 11 2 8 3 8 2 3 2 0 2 15 2 7 3-21 2 9 2-20 2-2 2-3 3-11 2 6 2-10 2-5 3-19 2-2 2-1 2-15 2 9 3 5 2 12 2 9 2-1 2 11 3 4 2 11 2 5 2-2 2 12 3 12 2 7 2-12 2 5 2-20 3 3 2-14 2-8 2-5 2-13 3 3 2-11 2 5 2-7 2-14 3 0 2 4 2 16 2-5 2 6 3 10 2 15 2-3 2 4 3 15 2-2 2 17 2-5 2 10 3-10 2 3 2-15 2 0 2-8 3-6 2-10 2-1 2-11 2-13 3 5 2-12" fill="none" stroke="#ff0000" stroke-width="13" stroke-linejoin="round"/><path d="M1764 3355l2 9 2 9 3 9 2 5 2-8 2-10 2-12 3-11 2-9 2-9 2-10 2-7 3-9 2-9 2-11 2-9 2-7 3 10 2 7 2 9 2 9 3 11 2 9 2 7 2 9 2 10 3 9 2 10 2 9 2 10 2-6 3-9 2-8 2-11 2-11 2-10 3-7 2-7 2-10 2-10 2-11 3-8 2-8 2 0 2 7 2 8 3 9 2 10 2 12 2 10 2 10 3 9 2 8 2 9 2 11 2 12 3 4 2-13 2-10 2-12 3-6 2-11 2-8 2-13 2-8 3-9 2-7 2-9 2-10 2-8 3 10 2 11 2 9 2 10 2 8 3 9 2 6 2 9 2 10 2 11 3 10 2 10 2 10 2-5 2-10 3-10 2-10 2-11 2-9 2-9 3-9 2-8 2-10 2-9 2-9 3-9 2 0 2 8 2 10 3 8 2 9 2 8 2 8 2 11 3 9 2 10 2 11 2 9 2 8 3 2 2-8 2-7 2-7 2-9 3-9 2-10 2-10 2-8 2-11 3-12 2-11 2-11 2-4 2 11 3 10 2 7 2 7 2 11 2 11 3 11 2 9 2 9 2 9 2 9 3 8 2 11 2-5 2-10 2-11 3-9 2-10 2-9 2-12 3-8 2-9 2-9 2-10 2-10 3-9 2 3 2 10 2 11 2 9 3 9 2 8 2 10 2 9 2 10 3 8 2 8 2 10 2 10 2 5 3-11 2-9 2-10 2-8 2-8 3-11 2-10 2-10 2-7 2-10 3-10 2-10 2-9 2 8 2 11 3 10 2 13 2 9 2 7 3 8 2 9 2 13 2 11 2 11 3 9 2 8 2-5 2-13 2-10 3-11 2-8 2-9 2-9 2-10 3-7 2-11 2-9 2-11 2-9 3 4 2 9 2 10 2 7 2 8 3 8 2 10 2 11 2 10 2 10 3 9 2 8 2 9 2 6 2-10 3-9 2-10 2-8 2-10 3-10 2-9 2-9 2-10 2-11 3-9 2-10 2-7 2 9 2 11 3 9 2 7 2 11 2 11 2 13 3 8 2 8 2 7 2 9 2 10 3 10 2-7 2-9 2-10 2-10 3-12 2-8 2-10 2-8 2-10 3-10 2-9 2-8 2-5 2 2 3 9 2 7 2 8 2 9 3 10 2 9 2 11 2 8 2 10 3 8 2 8 2 9 2 3 2-9 3-9 2-8 2-10 2-9 2-10 3-10 2-8 2-8 2-7 2-8 3-10 2-11 2 9 2 9 2 11 3 7 2 7 2 9 2 10 2 11 3 10 2 9 2 10 2 8 2 11 3-5 2-10 2-10 2-10 3-9 2-9 2-11 2-10 2-9 3-9 2-8 2-11 2-5 2 0 3 10 2 7 2 10 2 8 2 8 3 9 2 10 2 11 2 11 2 12 3 9 2 10 2 1 2-10 2-9 3-11 2-10 2-10 2-4 2-12 3-10 2-12 2-8 2-8 2-9 3-7 2 10 2 9 2 9 2 8 3 10 2 9 2 8 2 10 3 8 2 10 2 8 2 12 2 8 3-6 2-11 2-8 2-8 2-9 3-8 2-9 2-10 2-9 2-10 3-8 2-14 2-10 2 0 2 12 3 9 2 9 2 9 2 10 2 12 3 12 2 11 2 8 2 6 2 8 3 10 2 4 2-8 2-10 2-11 3-11 2-10 2-9 2-9 3-10 2-9 2-7 2-8 2-7 3-10 2 11 2 6 2 11 2 9 3 10 2 8 2 9 2 11 2 10 3 9 2 9 2 9 2 8 2-7 3-10 2-9 2-9 2-8 2-11 3-7 2-11 2-8 2-11 2-10 3-10 2-10 2 2 2 9 2 12 3 9 2 10 2 8 2 9 3 8 2 10 2 10 2 9 2 11 3 12 2 3 2-12 2-11 2-8 3-11 2-8 2-11 2-7 2-9 3-10 2-11 2-8 2-8 2-6 3 8 2 9 2 6 2 9 2 9 3 10 2 9 2 10 2 11 2 13 3 10 2 9 2 7 2-8 2-10 3-10 2-7 2-11 2-7 3-10 2-7 2-10 2-10 2-11 3-9 2-11 2 4 2 7 2 12 3 8 2 11 2 8 2 9 2 7 3 10 2 9 2 11 2 11 2 11 3 5 2-10 2-11 2-8 2-11 3-8 2-11 2-9 2-11 2-10 3-10 2-9 2-9 2-7 2 10 3 9 2 8 2 7 2 10 2 9 3 13 2 9 2 9 2 10 3 9 2 10 2 8 2-6 2-11 3-6 2-10 2-9 2-10 2-9 3-7 2-10 2-9 2-11 2-9 3-8 2 1 2 11 2 7 2 7 3 8 2 8 2 9 2 10 2 12 3 11 2 12 2 9 2 9 2 0 3-9 2-10 2-7 2-12 2-9 3-10 2-9 2-9 2-10 3-8 2-9 2-9 2-7 2 7 3 8 2 8 2 9 2 12 2 10 3 10 2 10 2 8 2 10 2 9 3 11 2 7 2-7 2-10 2-9 3-9 2-7 2-10 2-7 2-12 3-8 2-10 2-10 2-9 2-11 3 2 2 8 2 13 2 7 2 10 3 9 2 13 2 6 2 10 3 9 2 12 2 9 2 8 2 3 3-9 2-12 2-9 2-11 2-7 3-9 2-5 2-11 2-9 2-13 3-8 2-12 2-9 2 9 2 10 3 12 2 10 2 11 2 5 2 11 3 7 2 13 2 9 2 10 2 6 3 11 2-7 2-9 2-10 2-10 3-10 2-8 2-10 2-9 3-11 2-7 2-10 2-8 2-11 3 2 2 8 2 10 2 11 2 9 3 11 2 9 2 9 2 10 2 9 3 11 2 8 2 9 2 3 2-8 3-8 2-10 2-11 2-11 2-10 3-11 2-10 2-7 2-8 2-9 3-9 2-5 2 10 2 8 2 8 3 8 2 9 2 8 2 10 3 11 2 10 2 9 2 8 2 10 3 9 2-4 2-12 2-7 2-13 3-7 2-11 2-6 2-12 2-10 3-11 2-10 2-5 2-8 2 2 3 5 2 6 2 11 2 11 2 14 3 9 2 9 2 8 2 10 2 9 3 10 2 10 2 2 2-13 2-10 3-8 2-8 2-10 2-9 3-7 2-9 2-10 2-10 2-10 3-10 2-8 2 11 2 9 2 10 3 9 2 10 2 7 2 9 2 8 3 12 2 11 2 9 2 8 2 8 3-4 2-10 2-9 2-8 2-10 3-10 2-11 2-7 2-9 2-11 3-8 2-10 2-8 2-1 2 11 3 11 2 10 2 9 2 8 2 10 3 7 2 10 2 7 2 11 3 9 2 11 2 3 2-12 2-9 3-10 2-8 2-10 2-8 2-9 3-11 2-11 2-9 2-10 2-8 3-9 2 11 2 9 2 10 2 11 3 11 2 10 2 8 2 8 2 8 3 10 2 7 2 10 2 11 2-7 3-10 2-11 2-6 2-8 2-10 3-12 2-9 2-8 2-11 3-11 2-10 2-6 2 4 2 12 3 9 2 8 2 7 2 9 2 11 3 10 2 8 2 9 2 9 2 10 3 9 2 3 2-7 2-9 2-9 3-12 2-14 2-9 2-8 2-6 3-9 2-9 2-8 2-10 2-11 3 10 2 8 2 11 2 7 2 8 3 8 2 12 2 13 2 12 3 6 2 9 2 9 2 9 2-6 3-12 2-9 2-7 2-7 2-7 3-11 2-13 2-13 2-11 2-6 3-9 2-9 2 1 2 10 2 13 3 9 2 6 2 7 2 8 2 13 3 10 2 12 2 8 2 10 2 7 3 3 2-11 2-6 2-8 2-9 3-9 2-8 2-10 2-11 3-10 2-9 2-12 2-10 2-10 3 12 2 12 2 10 2 8 2 10 3 10 2 9 2 7 2 10 2 11 3 11 2 12 2 9 2-8 2-11 3-8 2-10 2-10 2-11 2-11 3-10 2-10 2-8 2-10 2-8 3-7 2 2 2 9 2 8 2 8 3 8 2 10 2 12 2 9 2 10 3 9 2 10 2 9 2 11 3 5 2-12 2-12 2-8 2-10 3-10 2-12 2-7 2-10 2-9 3-10 2-10 2-10 2-6 2 12 3 10 2 8 2 6 2 10 2 7 3 11 2 10 2 11 2 10 2 10 3 8 2 9 2-5 2-10 2-9 3-8 2-8 2-10 2-10 2-8 3-9 2-10 2-11 2-10 3-10 2 2 2 8 2 10 2 8 3 10 2 11 2 10 2 8 2 9 3 9 2 11 2 9 2 11 2 2 3-7 2-10 2-6 2-11 2-11 3-11 2-11 2-9 2-10 2-8 3-8 2-9 2-8 2 6 2 11 3 6 2 11 2 7 2 13 2 9 3 11 2 9 2 7 2 9 3 9 2 10 2-5 2-9 2-7 3-8 2-9 2-12 2-14 2-10 3-7 2-8 2-9 2-12 2-7 3 3 2 10" fill="none" stroke="#008000" stroke-width="14" stroke-linejoin="round"/></g></g><rect x="165.5" y="324.5" width="242.0" height="15.0" fill="none" stroke="#303030" stroke-width="1"/><line x1="162.70" x2="165.50" y1="326.5" y2="326.5" stroke="#262626" stroke-width="0.9"/><text x="160.80" y="328.50" class="tk" text-anchor="end">1</text><line x1="162.70" x2="165.50" y1="338.5" y2="338.5" stroke="#262626" stroke-width="0.9"/><text x="160.80" y="341.20" class="tk" text-anchor="end">0</text><line x1="176.5" x2="176.5" y1="339.5" y2="342.1" stroke="#262626" stroke-width="0.9"/><line x1="220.5" x2="220.5" y1="339.5" y2="342.1" stroke="#262626" stroke-width="0.9"/><line x1="264.5" x2="264.5" y1="339.5" y2="342.1" stroke="#262626" stroke-width="0.9"/><line x1="308.5" x2="308.5" y1="339.5" y2="342.1" stroke="#262626" stroke-width="0.9"/><line x1="352.5" x2="352.5" y1="339.5" y2="342.1" stroke="#262626" stroke-width="0.9"/><line x1="396.5" x2="396.5" y1="339.5" y2="342.1" stroke="#262626" stroke-width="0.9"/><g clip-path="url(#rc4)"><g transform="scale(0.1)"><path d="M1764 3475l2 12 2 11 3 13 2 16 2-5 2 6 2 21 3 6 2-15 2-3 2-15 2-17 3-3 2-11 2-18 2-9 2 1 3 10 2 0 2 18 2 19 3-3 2 13 2 12 2 14 2 11 3-10 2-20 2-2 2-21 2-1 3-14 2-7 2-14 2-2 2-7 3 20 2 8 2 10 2 15 2 8 3 10 2 7 2 9 2 3 2 0 3-19 2-13 2-3 2-16 2-10 3-23 2 2 2-7 2 16 2 13 3 0 2 16 2 6 2 13 3 14 2 12 2-2 2-5 2-6 3-11 2-5 2-14 2-9 2-9 3-17 2-12 2-4 2 17 2 9 3 13 2 19 2 11 2 5 2 7 3 8 2 3 2-14 2-7 2-13 3-6 2-17 2-3 2-11 2-21 3 7 2 10 2 8 2 15 2 15 3 5 2 6 2 14 2 12 3 3 2-9 2-14 2 5 2-28 3-8 2-6 2-10 2-15 2-7 3 13 2 1 2 16 2 9 2 10 3 15 2 20 2 0 2 7 2-2 3-12 2-3 2-16 2-17 2-7 3-4 2-22 2-10 2 8 2 8 3 10 2 10 2 14 2 4 2 15 3 11 2 10 2-3 2-6 2-8 3-7 2-17 2-8 2-5 3-19 2-21 2-1 2 17 2 16 3 7 2 15 2 12 2 8 2 10 3-3 2 27 2-26 2-4 2-2 3-16 2-16 2-9 2-12 2-9 3-7 2 4 2 15 2 12 2 9 3 12 2 5 2 12 2 14 2 10 3-3 2-10 2-16 2-11 2-8 3-8 2-6 2-20 2-11 3-3 2 16 2 7 2 11 2 11 3 14 2 3 2 16 2 9 2 5 3-7 2-13 2-11 2-12 2-7 3-12 2-9 2-14 2 1 2 9 3 3 2 9 2 17 2 2 2 18 3 10 2 12 2 11 2-4 2-12 3-24 2 0 2-16 2-10 2-5 3-18 2-10 2 6 2 11 3 16 2-5 2 21 2 5 2 10 3 19 2 6 2 8 2-9 2-13 3-14 2-14 2-7 2-7 2-7 3-19 2-22 2 23 2 15 2 11 3 6 2 18 2 14 2 2 2 11 3 3 2 0 2-15 2-8 2-10 3-11 2-9 2-10 2-19 2-6 3 10 2 11 2 6 2 15 3 9 2 9 2 15 2 12 2 10 3-11 2-2 2-18 2-9 2-10 3-16 2-11 2-1 2-20 2 7 3 9 2 4 2 17 2 20 2 3 3 16 2 6 2 11 2 1 2-6 3-10 2-8 2-18 2-8 2-7 3-16 2-16 2 2 2 5 2 6 3 19 2 9 2 12 2 5 3 10 2 10 2 9 2 3 2-21 3 4 2-23 2-4 2-8 2-21 3-9 2-3 2 0 2 7 2 7 3 6 2 23 2 10 2 11 2 2 3 18 2 2 2-8 2-5 2-19 3-10 2-15 2 2 2-19 2-10 3-10 2 9 2 15 2 9 2 23 3-7 2 15 2 13 2 14 2 5 3-9 2-15 2-4 2-8 3-24 2-8 2-4 2-14 2-7 3 5 2 17 2-4 2 20 2 15 3 3 2 12 2 12 2 4 2 12 3-20 2-8 2-11 2-15 2-5 3-13 2-12 2-15 2-1 2 17 3 2 2 18 2-2 2 23 2 7 3 13 2 15 2 7 2-19 2-4 3-13 2-17 2-4 2-10 3-5 2-21 2-17 2 20 2 16 3-1 2 15 2 15 2 5 2 5 3 25 2 17 2-10 2-20 2-10 3 3 2-17 2-15 2-2 2-25 3-8 2 6 2 15 2 6 2 11 3 7 2 15 2 4 2 13 2 19 3-3 2-13 2-13 2-10 2 0 3-14 2-19 2 0 2-22 3-5 2 15 2 6 2 12 2 8 3 13 2 10 2 17 2 10 2 4 3-6 2-7 2-17 2-6 2-20 3-3 2-15 2-7 2-16 2 12 3 6 2 12 2 12 2 12 2 16 3 7 2 12 2 10 2-7 2-19 3-6 2-5 2-16 2-12 2-4 3-10 2-9 2-6 2 10 3 12 2 14 2 13 2 8 2 10 3 9 2 11 2 12 2-11 2-13 3-22 2 2 2-15 2-10 2-10 3-3 2-14 2 13 2 3 2-3 3 25 2 13 2-1 2 22 2 7 3 17 2-5 2-17 2-12 2-19 3-8 2-5 2-8 2-18 2-4 3 6 2-1 2 27 2-8 2 16 3 13 2 9 2 15 2 6 3 0 2-3 2-16 2-12 2-10 3-7 2-13 2-1 2-20 2-6 3 17 2 9 2 14 2 3 2 5 3 13 2 23 2 3 2 10 2-5 3-19 2-2 2-8 2-20 2-2 3-9 2-27 2-4 2 7 2 8 3 10 2 6 2 20 2 16 2 10 3 4 2 9 2-1 2-14 3 2 2-21 2-10 2-9 2-15 3-8 2-14 2 6 2 4 2 23 3 5 2 6 2 11 2 1 2 11 3 18 2 4 2-4 2-13 2-15 3-15 2 1 2-11 2-11 2-18 3-4 2 10 2 17 2 5 2 9 3 9 2 12 2 21 2 1 2 11 3-11 2-4 2-4 2-8 3-23 2-6 2-11 2-14 2-7 3 1 2 8 2 8 2 13 2 12 3 6 2 12 2 18 2 6 2 1 3-4 2-23 2-2 2-12 2-16 3-4 2-17 2-5 2-11 2 18 3 11 2 7 2 12 2 10 2 13 3 10 2 4 2 17 2-14 2-18 3-2 2-17 2-5 2-7 3-9 2-14 2-19 2 7 2 14 3 17 2 4 2 6 2 20 2 8 3 15 2 15 2 1 2-24 2-10 3-6 2-10 2-13 2-17 2-21 3 3 2-1 2 5 2 9 2 24 3 9 2 1 2 23 2 3 2 15 3 10 2-22 2-7 2-10 2-15 3-2 2-18 2-3 2-9 3-17 2 4 2 14 2 16 2 11 3 12 2 6 2 7 2 21 2 4 3-8 2-13 2-7 2-10 2-12 3-6 2-12 2-13 2 3 2-12 3 14 2 1 2 23 2 9 2 12 3 4 2 6 2 19 2 5 2-15 3-17 2-2 2-7 2-15 2-15 3-19 2-1 2-3 2 10 3 10 2 12 2 5 2 15 2 11 3 7 2 20 2 10 2-14 2-11 3-17 2-5 2-10 2-4 2-18 3-16 2-7 2 0 2 21 2 0 3 16 2 6 2 15 2 5 2 14 3 12 2 4 2-11 2-16 2 2 3-23 2-11 2-13 2-4 2-9 3-4 2 3 2 12 2 9 2 15 3 11 2 17 2 6 2 15 3 5 2-7 2-14 2-21 2-3 3-7 2-16 2-13 2-13 2 4 3 3 2 6 2 11 2 16 2 11 3 11 2 9 2 7 2 14 2-14 3-3 2-6 2-15 2-14 2 0 3-28 2 1 2-5 2-11 2 9 3 27 2-6 2 17 2 8 2 12 3 7 2 14 2 12 2-16 3-10 2-15 2-8 2-15 2-5 3-7 2-19 2-9 2 13 2 6 3 14 2 8 2 11 2 20 2-4 3 22 2 8 2 0 2-17 2-7 3-15 2-7 2-16 2-13 2-13 3 0 2-5 2 11 2 15 2 11 3 10 2 10 2 16 2 7 2 4 3 8 2-12 2-18 2-3 3-19 2-3 2-9 2-8 2-20 3 4 2 12 2 8 2 7 2 10 3 11 2 12 2 22 2-5 2 16 3-13 2-5 2-9 2-14 2-9 3-14 2-12 2-8 2-27 2 21 3 16 2 4 2 10 2 13 2 12 3 7 2 10 2 11 2-5 2-11 3-7 2-10 2-10 2-15 3-12 2-10 2-12 2 1 2 14 3 14 2 13 2-2 2 15 2 14 3 11 2 14 2-4 2-8 2-14 3-9 2-7 2-7 2-15 2-11 3-8 2-6 2-1 2 22 2 4 3 20 2 8 2 15 2 4 2 7 3 17 2-12 2-7 2-14 2-17 3-14 2 0 2-10 2-7 2-13 3-4 2 17 2 14 2 2 3 16 2 11 2 6 2 15 2 3 3 0 2 1 2-18 2-5 2-21 3-10 2-7 2-11 2-16 2 0 3 25 2-10 2 23 2 6 2 6 3 13 2 17 2 10 2 7 2-19 3-4 2-4 2-21 2-12 2-1 3-18 2-15 2-7 2 13 2 5 3 17 2 13 2 8 2 20 3 3 2 10 2 7 2 2 2-26 3-1 2-14 2-4 2-8 2-16 3-10 2-11 2 2 2 8 2 13 3 13 2 3 2 23 2 1 2 5 3 23 2-4 2-10 2-14 2-12 3-2 2-5 2-21 2-13 2-13 3-10 2 24 2 9 2 11 2 14 3 8 2 14 2 6 2 14 3 5 2-10 2-9 2-8 2-17 3-6 2-13 2-8 2-13 2-15 3 6 2 18 2 7 2 19 2-2 3 13 2 13" fill="none" stroke="#ff0000" stroke-width="13" stroke-linejoin="round"/><path d="M1764 3487l2 15 2 14 3 16 2 14 2 17 2 15 2-15 3-15 2-18 2-16 2-15 2-11 3-16 2-19 2-18 2 12 2 17 3 17 2 14 2 14 2 15 3 14 2 17 2 16 2-2 2-17 3-17 2-15 2-13 2-15 2-15 3-15 2-16 2-3 2 13 2 20 3 14 2 17 2 14 2 19 2 15 3 15 2 3 2-14 2-13 2-14 3-19 2-16 2-14 2-13 2-19 3-13 2 17 2 14 2 14 2 13 3 20 2 14 2 17 2 13 3 17 2-13 2-15 2-15 2-15 3-15 2-16 2-13 2-15 2-15 3 2 2 12 2 17 2 18 2 17 3 12 2 14 2 15 2 17 2 2 3-15 2-14 2-16 2-14 2-16 3-15 2-14 2-18 2-9 2 13 3 15 2 15 2 15 2 15 2 15 3 14 2 19 2 17 2-12 3-17 2-16 2-16 2-17 2-14 3-16 2-15 2-15 2 12 2 14 3 16 2 13 2 17 2 14 2 15 3 16 2 13 2 1 2-14 2-15 3-17 2-17 2-16 2-16 2-14 3-13 2-3 2 12 2 14 2 17 3 16 2 15 2 18 2 15 2 16 3 5 2-14 2-17 2-16 2-16 3-16 2-15 2-15 2-13 3-13 2 17 2 16 2 11 2 12 3 14 2 15 2 16 2 17 2 17 3-9 2-18 2-15 2-15 2-13 3-16 2-14 2-17 2-16 2 5 3 15 2 15 2 15 2 16 2 18 3 16 2 13 2 15 2 1 2-11 3-20 2-12 2-15 2-11 2-20 3-18 2-17 2-7 2 16 3 16 2 13 2 17 2 17 2 17 3 14 2 17 2 14 2-14 2-19 3-15 2-17 2-14 2-15 2-16 3-14 2-15 2 12 2 12 2 14 3 14 2 18 2 19 2 16 2 16 3 12 2-3 2-16 2-15 2-15 3-15 2-15 2-19 2-17 2-14 3-1 2 17 2 14 2 19 3 15 2 14 2 12 2 15 2 17 3 8 2-15 2-15 2-16 2-15 3-15 2-16 2-15 2-16 2-14 3 14 2 16 2 15 2 17 2 12 3 17 2 14 2 17 2 14 2-9 3-16 2-14 2-15 2-16 2-13 3-16 2-16 2-18 2 5 2 14 3 16 2 16 2 17 2 18 3 14 2 15 2 14 2 2 2-15 3-13 2-15 2-16 2-20 2-15 3-16 2-14 2-6 2 16 2 18 3 13 2 15 2 13 2 15 2 16 3 16 2 15 2-16 2-14 2-16 3-16 2-16 2-16 2-16 2-17 3-13 2 9 2 16 2 14 2 18 3 16 2 15 2 14 2 14 3 17 2-3 2-14 2-14 2-15 3-17 2-17 2-14 2-15 2-15 3-5 2 14 2 14 2 18 2 15 3 15 2 14 2 15 2 17 2 9 3-15 2-16 2-15 2-13 2-15 3-15 2-16 2-14 2-15 2 13 3 14 2 14 2 17 2 17 2 16 3 17 2 12 2 14 2-12 2-13 3-13 2-14 2-19 2-14 3-13 2-14 2-18 2 0 2 16 3 17 2 16 2 15 2 15 2 15 3 18 2 15 2 2 2-17 2-15 3-11 2-17 2-17 2-18 2-13 3-14 2-9 2 13 2 16 2 15 3 17 2 17 2 15 2 16 2 14 3 13 2-16 2-16 2-13 2-17 3-14 2-16 2-15 2-18 3-17 2 11 2 17 2 15 2 16 3 15 2 16 2 16 2 17 2 16 3-4 2-19 2-16 2-16 2-14 3-17 2-15 2-12 2-15 2-2 3 15 2 17 2 16 2 16 2 15 3 13 2 15 2 16 2 9 2-16 3-15 2-19 2-16 2-16 2-14 3-13 2-16 2-15 2 14 3 19 2 16 2 14 2 13 2 15 3 16 2 16 2 13 2-8 2-16 3-14 2-18 2-15 2-13 2-14 3-13 2-17 2 3 2 13 2 17 3 14 2 14 2 14 2 17 2 19 3 17 2 0 2-17 2-18 2-14 3-14 2-15 2-15 2-15 2-15 3-7 2 13 2 18 2 14 3 15 2 12 2 17 2 14 2 20 3 14 2-14 2-20 2-14 2-16 3-13 2-16 2-12 2-17 2-17 3 6 2 17 2 16 2 14 2 13 3 16 2 16 2 17 2 15 2-3 3-15 2-17 2-15 2-16 2-13 3-12 2-15 2-18 2-6 2 15 3 18 2 15 2 18 2 13 2 17 3 15 2 19 2 9 2-19 3-17 2-17 2-13 2-14 2-16 3-16 2-19 2-13 2 15 2 17 3 11 2 16 2 17 2 19 2 14 3 13 2 16 2-10 2-13 2-15 3-15 2-17 2-15 2-15 2-15 3-18 2 3 2 14 2 17 2 18 3 19 2 17 2 13 2 14 2 13 3 3 2-16 2-16 2-16 3-13 2-16 2-15 2-15 2-14 3-10 2 14 2 13 2 16 2 18 3 14 2 17 2 13 2 18 2 13 3-13 2-19 2-16 2-16 2-14 3-14 2-16 2-13 2-16 2 12 3 13 2 15 2 16 2 14 2 16 3 15 2 15 2 16 2-7 2-13 3-17 2-12 2-15 2-15 3-18 2-15 2-14 2 0 2 16 3 13 2 14 2 14 2 16 2 14 3 19 2 15 2 7 2-17 2-12 3-12 2-17 2-18 2-18 2-15 3-16 2-12 2 16 2 14 2 16 3 16 2 15 2 13 2 15 2 16 3 16 2-8 2-16 2-15 2-17 3-15 2-13 2-16 2-15 3-16 2 5 2 14 2 14 2 15 3 17 2 15 2 14 2 16 2 16 3 3 2-15 2-16 2-15 2-14 3-13 2-15 2-19 2-17 2-6 3 16 2 17 2 12 2 16 2 14 3 16 2 18 2 16 2 13 2-18 3-14 2-17 2-17 2-15 2-13 3-12 2-20 2-13 2 10 3 17 2 14 2 13 2 15 2 17 3 19 2 16 2 13 2-6 2-16 3-16 2-15 2-13 2-16 2-15 3-17 2-13 2-4 2 17 2 16 3 15 2 15 2 14 2 16 2 13 3 14 2 8 2-13 2-15 2-15 3-15 2-14 2-16 2-14 2-16 3-15 2 11 2 15 2 15 3 18 2 17 2 17 2 16 2 15 3 14 2-10 2-16 2-16 2-15 3-14 2-16 2-19 2-17 2-14 3 6 2 16 2 16 2 15 2 15 3 16 2 15 2 15 2 16 2 1 3-14 2-17 2-15 2-15 2-13 3-15 2-15 2-14 2-10 2 16 3 14 2 18 2 15 2 16 2 13 3 15 2 15 2 14 2-15 3-18 2-12 2-17 2-13 2-18 3-17 2-14 2-14 2 10 2 17 3 14 2 15 2 12 2 15 2 17 3 17 2 17 2-6 2-15 2-17 3-14 2-17 2-15 2-15 2-14 3-17 2-3 2 13 2 16 2 15 3 18 2 17 2 16 2 16 2 15 3 10 2-18 2-15 2-16 3-15 2-16 2-18 2-16 2-15 3-13 2 15 2 15 2 14 2 16 3 19 2 16 2 17 2 12 2 13 3-9 2-14 2-15 2-14 2-18 3-14 2-15 2-14 2-17 2 3 3 16 2 17 2 15 2 15 2 17 3 16 2 14 2 12 2 1 2-16 3-11 2-16 2-14 2-19 3-15 2-16 2-15 2-7 2 15 3 14 2 16 2 17 2 16 2 17 3 16 2 16 2 13 2-17 2-16 3-16 2-17 2-13 2-16 2-13 3-14 2-15 2 11 2 11 2 16 3 14 2 17 2 14 2 16 2 15 3 16 2-5 2-14 2-14 2-11 3-15 2-17 2-21 2-19 3-16 2-1 2 18 2 17 2 16 3 13 2 15 2 15 2 17 2 15 3 10 2-13 2-16 2-16 2-15 3-14 2-15 2-19 2-17 2-16 3 18 2 15 2 15 2 16 2 18 3 14 2 12 2 16 2 15 2-9 3-16 2-16 2-12 2-15 2-17 3-18 2-14 2-12 2 3 2 16 3 13 2 17 2 17 2 16 3 14 2 15 2 15 2 5 2-17 3-17 2-19 2-14 2-15 2-12 3-16 2-15 2-9 2 16 2 15 3 14 2 17 2 15 2 16 2 14 3 15 2 15 2-17 2-17 2-15 3-13 2-12 2-16 2-16 2-17 3-16 2 9 2 14 2 19 2 16 3 15 2 12 2 17 2 18 3 16 2-7 2-14 2-14 2-15 3-19 2-15 2-16 2-15 2-17 3-1 2 17 2 16 2 12 2 14 3 16 2 15 2 18 2 12 2 10 3-15 2-13 2-14 2-17 2-15 3-15 2-16 2-18 2-17 2 17 3 16 2 16 2 16 2 18 2 15 3 15 2 14 2 14 2-8 3-17 2-14 2-19 2-14 2-16 3-15 2-16 2-12 2 5 2 16 3 15 2 16 2 16 2 14 2 16 3 14 2 16" fill="none" stroke="#008000" stroke-width="14" stroke-linejoin="round"/></g></g><rect x="165.5" y="342.5" width="242.0" height="15.0" fill="none" stroke="#303030" stroke-width="1"/><line x1="162.70" x2="165.50" y1="344.5" y2="344.5" stroke="#262626" stroke-width="0.9"/><text x="160.80" y="346.90" class="tk" text-anchor="end">1</text><line x1="162.70" x2="165.50" y1="357.5" y2="357.5" stroke="#262626" stroke-width="0.9"/><text x="160.80" y="360.00" class="tk" text-anchor="end">0</text><line x1="176.5" x2="176.5" y1="357.5" y2="360.1" stroke="#262626" stroke-width="0.9"/><line x1="220.5" x2="220.5" y1="357.5" y2="360.1" stroke="#262626" stroke-width="0.9"/><line x1="264.5" x2="264.5" y1="357.5" y2="360.1" stroke="#262626" stroke-width="0.9"/><line x1="308.5" x2="308.5" y1="357.5" y2="360.1" stroke="#262626" stroke-width="0.9"/><line x1="352.5" x2="352.5" y1="357.5" y2="360.1" stroke="#262626" stroke-width="0.9"/><line x1="396.5" x2="396.5" y1="357.5" y2="360.1" stroke="#262626" stroke-width="0.9"/><g clip-path="url(#rc5)"><g transform="scale(0.1)"><path d="M1764 3702l2 10 2 15 3-4 2 1 2 2 2-12 2-8 3 3 2-2 2-11 2-8 2-8 3-4 2-10 2-1 2-8 2-10 3-3 2-1 2 7 2 8 3 10 2 3 2 3 2 11 2 7 3 0 2 15 2 0 2 18 2-5 3 12 2-2 2-6 2-11 2-6 3-4 2 6 2-12 2-11 2-4 3-18 2-3 2-5 2 0 2-3 3-4 2 0 2 7 2 6 2 13 3-8 2 12 2 5 2 22 2-8 3 8 2 6 2 23 2-6 3 1 2-2 2-12 2-3 2-8 3-6 2-11 2-6 2 8 2-20 3-3 2-11 2-4 2-1 2-1 3-9 2 8 2 6 2 9 2 16 3-9 2 17 2 1 2 14 2 4 3 10 2-5 2 18 2-1 2 3 3-12 2-3 2-12 2-6 2 3 3-12 2-8 2-4 2-3 3-10 2-13 2 3 2-7 2-7 3 17 2-2 2 12 2-9 2 27 3-1 2 7 2 5 2 12 2 6 3 7 2 2 2-2 2 12 2-17 3 0 2 0 2-14 2 1 2-17 3-6 2 2 2-10 2-9 2-1 3-11 2-4 2-3 2 2 2 12 3-2 2 14 2 6 2 0 2 15 3-2 2 11 2 1 2 5 3 3 2 10 2 16 2-11 2-7 3 2 2-7 2-2 2-16 2-6 3-5 2-13 2-9 2 6 2-3 3-13 2 1 2-5 2 0 2 10 3 5 2-1 2 14 2 3 2 8 3 2 2 7 2 12 2-1 2 7 3 6 2 14 2-1 2-14 2-13 3 4 2-9 2-13 2 12 3-17 2-12 2-8 2-3 2-1 3 4 2-14 2 8 2 0 2 0 3 2 2 19 2 0 2 12 2 4 3 12 2-7 2 7 2 7 2 11 3 9 2 2 2-16 2 1 2-8 3-13 2-2 2-7 2 0 2-15 3-10 2 1 2-5 2-12 2 9 3-25 2 10 2 8 2 15 3 1 2 3 2 9 2 7 2 8 3 6 2 6 2 1 2 16 2 4 3 3 2-11 2-2 2-5 2-3 3-18 2 0 2-5 2-6 2-5 3-8 2-2 2-8 2-14 2-2 3 11 2 0 2 7 2 10 2 2 3 2 2 15 2 4 2 14 2-12 3 15 2 6 2 12 2-1 3-4 2-1 2-4 2-14 2-5 3 5 2-11 2-12 2 0 2-6 3-22 2 10 2-10 2-10 2 3 3 10 2 2 2 8 2 3 2 6 3 11 2 5 2 10 2-2 2 10 3 4 2 0 2 25 2-7 2-1 3-18 2 9 2-14 2-7 2-3 3-9 2-13 2 6 2-14 3-7 2 0 2-16 2-12 2 16 3 17 2-4 2 7 2 6 2 6 3 4 2 7 2 15 2-1 2 6 3 7 2 16 2-7 2 1 2-11 3-10 2 1 2-11 2-5 2-1 3 1 2-12 2-7 2 0 2-13 3-7 2 3 2-12 2 10 2 5 3 2 2 12 2 4 2 5 2 6 3 13 2-1 2 7 2 10 3-1 2 20 2-4 2-4 2-3 3-8 2-13 2-10 2-2 2-12 3 3 2-8 2-5 2-7 2-3 3-17 2 3 2-4 2 19 2-9 3 15 2 5 2 2 2 10 2 13 3-3 2 9 2 0 2 9 2 5 3 11 2 0 2-2 2-6 2-11 3-11 2 4 2-11 2-7 3-4 2-8 2 4 2-12 2-11 3-3 2-10 2 1 2 20 2-3 3 8 2 21 2-2 2 5 2-1 3 11 2-3 2 16 2 8 2 4 3 14 2-9 2-7 2-12 2-5 3-2 2-6 2-12 2-1 2-7 3-12 2-1 2-8 2-6 2 4 3 1 2 0 2 3 2 6 3 10 2 9 2 1 2-1 2 11 3 3 2 12 2 9 2 6 2 6 3-5 2-2 2-8 2-7 2 2 3-7 2-18 2 7 2-9 2-4 3-19 2-5 2 4 2-10 2-7 3 5 2 11 2 8 2 3 2 6 3 6 2 7 2 2 2 12 2 8 3 3 2 9 2 13 2 1 3-8 2-26 2 18 2-14 2-6 3 0 2-8 2-25 2 8 2-4 3-7 2 1 2-11 2-16 2 13 3 7 2 1 2 7 2 17 2-5 3 8 2 4 2 13 2 3 2 1 3 15 2-3 2 7 2-7 2 6 3-6 2-15 2-2 2-1 2-10 3-4 2-10 2-9 2 2 2-16 3-1 2-11 2 6 2 7 3 3 2 12 2 0 2 9 2 4 3 4 2 7 2 11 2 0 2 12 3 2 2 4 2 9 2-12 2-5 3-7 2 10 2-23 2-1 2-15 3-5 2 3 2-8 2-2 2-13 3-2 2-9 2-5 2 11 2 7 3 7 2 5 2 10 2 12 2 2 3 11 2 4 2 4 2-1 3 11 2 4 2 6 2-8 2-5 3-12 2 1 2-7 2-8 2-12 3-4 2-7 2 0 2-14 2 0 3-7 2-4 2 8 2-5 2 17 3 5 2 9 2 7 2-4 2 10 3 14 2 2 2 7 2 8 2 1 3 3 2-6 2 5 2-7 2-9 3-7 2-14 2-4 2-3 3-2 2-4 2-16 2-4 2-5 3-17 2 6 2 8 2 7 2 15 3 3 2 12 2 2 2 6 2 14 3-3 2 3 2 13 2 1 2 6 3 2 2-4 2-13 2-5 2-7 3-4 2-8 2-2 2-8 2-14 3 6 2-11 2-11 2-4 2 10 3-7 2 13 2 6 2-1 3 15 2-3 2 15 2 1 2 10 3 5 2 0 2 11 2 7 2 9 3-18 2 4 2-4 2-14 2-6 3-3 2-5 2-16 2-5 2-2 3-2 2-4 2-12 2-3 2 3 3 6 2 4 2 11 2 1 2 4 3 0 2 19 2 12 2-4 2 8 3 3 2 11 2 17 2-11 3-4 2-9 2 4 2-20 2-5 3 2 2-11 2-11 2-8 2 0 3-8 2-16 2 0 2 6 2-1 3 9 2 4 2 6 2 10 2 4 3 10 2 11 2 8 2-4 2 15 3-9 2 23 2 0 2-8 2-5 3-9 2-8 2 1 2-14 2-12 3-1 2-9 2-2 2-11 3 3 2-7 2-16 2 16 2-1 3 16 2 6 2-2 2-2 2 14 3 0 2 13 2 13 2 0 2 2 3 11 2 7 2-3 2 2 2-7 3-13 2-7 2-4 2-1 2-9 3-18 2 6 2-14 2-2 2-12 3-3 2 0 2 4 2 21 2-8 3 6 2 3 2 15 2-1 2 11 3 8 2 9 2 1 2-7 3 27 2 2 2-7 2 1 2-15 3-3 2-10 2 3 2-10 2-20 3-1 2 0 2-12 2-6 2-5 3-8 2 6 2 13 2-5 2 0 3 19 2-7 2 19 2 8 2 1 3 11 2 3 2 1 2 8 2 1 3 18 2-17 2-16 2 0 2-3 3 0 2-9 2-7 2-10 3-5 2-8 2-5 2-1 2-7 3-7 2 1 2 6 2 15 2-4 3 14 2 7 2 7 2 15 2-10 3 6 2 14 2 12 2-6 2 8 3-3 2-6 2-12 2 1 2-6 3-10 2-7 2 3 2-8 2-11 3-2 2-13 2-13 2 6 2 0 3 10 2-6 2 11 2 10 3 12 2 1 2 6 2 8 2 10 3 1 2 0 2 15 2-1 2 5 3-5 2-7 2-7 2-6 2-12 3-11 2 4 2-13 2 2 2-8 3-7 2-4 2-4 2-14 2 25 3-9 2 10 2 10 2-2 2 12 3 4 2 9 2 9 2 2 2 5 3 9 2 16 2-5 2-8 3-17 2 11 2-1 2-11 2-12 3-14 2 4 2 0 2-18 2-2 3-20 2-1 2 4 2-1 2 16 3 6 2-5 2 11 2 1 2 18 3-4 2 7 2 11 2 7 2 0 3 2 2 10 2-1 2 0 2-12 3-4 2-12 2-4 2 0 2-8 3-13 2-4 2-6 2-9 2-5 3-4 2 1 2 5 2 2 3 13 2 1 2 1 2 10 2 7 3 6 2 8 2 7 2 4 2 17 3 3 2-10 2 13 2-5 2-11 3-9 2-6 2-5 2-5 2-12 3-8 2-8 2 1 2-13 2 1 3-13 2 11 2 3 2 4 2 14 3 4 2 7 2-3 2 17 2 4 3 0 2 13 2 2 2 5 3 18 2-9 2-1 2-15 2-11 3-4 2 1 2-12 2-2 2 2 3-19 2-2 2-9 2-3 2-7 3-10 2 20 2-4 2 6 2 17 3-1 2 13 2-4 2 13 2 7 3 7 2-5 2 20 2 1 2-4 3 1 2-9 2-2 2-11 2 3 3-16 2 1 2-15 2-4 3-7 2-8 2 7 2-6 2-10 3-9 2 20 2 10 2-4 2 4 3 9 2 4 2 12 2 1 2 14 3 7 2 3" fill="none" stroke="#ff0000" stroke-width="13" stroke-linejoin="round"/><path d="M1764 3740l2 8 2-6 3-10 2-9 2-9 2-6 2-10 3-10 2-9 2-11 2-7 2-8 3-8 2-10 2-10 2 5 2 9 3 11 2 8 2 7 2 5 3 9 2 11 2 11 2 11 2 9 3 7 2 7 2 10 2 3 2-7 3-11 2-11 2-10 2-8 2-6 3-9 2-7 2-13 2-10 2-10 3-7 2-9 2-5 2 10 2 8 3 9 2 9 2 10 2 7 2 8 3 9 2 11 2 7 2 8 2 8 3 12 2 9 2-6 2-10 3-8 2-8 2-10 2-10 2-9 3-8 2-8 2-10 2-14 2-11 3-8 2-8 2 4 2 12 2 13 3 8 2 5 2 6 2 8 2 9 3 9 2 12 2 11 2 10 2 10 3 10 2 1 2-9 2-9 2-10 3-9 2-10 2-8 2-11 2-8 3-8 2-11 2-11 2-11 3-8 2-8 2 10 2 10 2 11 3 8 2 10 2 11 2 10 2 9 3 4 2 9 2 10 2 11 2 7 3 10 2-4 2-10 2-9 2-12 3-7 2-9 2-11 2-9 2-11 3-7 2-7 2-7 2-12 2-11 3 3 2 12 2 10 2 10 2 8 3 9 2 7 2 8 2 8 2 10 3 9 2 10 2 10 2 7 3 2 2-10 2-7 2-8 2-8 3-12 2-11 2-10 2-5 2-9 3-8 2-10 2-10 2-8 2-6 3 9 2 7 2 9 2 8 2 13 3 9 2 10 2 7 2 10 2 10 3 9 2 9 2 7 2 7 2-7 3-8 2-7 2-10 2-8 2-10 3-7 2-13 2-8 2-11 3-7 2-9 2-8 2-10 2 1 3 10 2 11 2 11 2 11 2 6 3 9 2 8 2 10 2 9 2 8 3 8 2 9 2 9 2 2 2-9 3-7 2-8 2-10 2-10 2-10 3-8 2-11 2-9 2-11 2-8 3-8 2-7 2-5 2 10 2 9 3 8 2 9 2 9 2 8 3 10 2 9 2 9 2 7 2 10 3 10 2 10 2 6 2-8 2-13 3-6 2-8 2-6 2-11 2-9 3-8 2-7 2-8 2-11 2-10 3-10 2-9 2 3 2 7 2 10 3 7 2 12 2 8 2 12 2 9 3 8 2 8 2 9 2 9 2 11 3 6 2 2 2-10 2-7 3-7 2-10 2-10 2-7 2-8 3-11 2-12 2-9 2-6 2-8 3-11 2-8 2 6 2 11 2 9 3 11 2 10 2 10 2 7 2 10 3 8 2 10 2 8 2 10 2 7 3 9 2-7 2-8 2-11 2-11 3-10 2-6 2-6 2-5 2-11 3-9 2-11 2-7 2-10 3-8 2 1 2 9 2 8 2 9 3 6 2 10 2 9 2 10 2 10 3 11 2 9 2 10 2 8 2 8 3 1 2-9 2-9 2-10 2-9 3-7 2-10 2-10 2-12 2-8 3-10 2-6 2-8 2-10 2-6 3 10 2 11 2 9 2 5 2 7 3 9 2 14 2 8 2 10 2 7 3 11 2 7 2 8 2 9 3-9 2-9 2-10 2-8 2-7 3-8 2-9 2-10 2-9 2-8 3-8 2-13 2-9 2-10 2 5 3 7 2 12 2 13 2 9 2 4 3 7 2 10 2 11 2 9 2 9 3 12 2 10 2 10 2-1 2-9 3-11 2-9 2-10 2-9 2-10 3-9 2-10 2-7 2-10 3-6 2-10 2-9 2-6 2 11 3 9 2 8 2 10 2 9 2 12 3 8 2 9 2 7 2 9 2 6 3 8 2 10 2 10 2-7 2-9 3-9 2-8 2-10 2-9 2-10 3-9 2-10 2-10 2-6 2-7 3-7 2-13 2 1 2 9 2 13 3 9 2 9 2 5 2 7 3 10 2 9 2 11 2 8 2 11 3 12 2 9 2 0 2-10 2-12 3-9 2-9 2-8 2-10 2-11 3-9 2-8 2-8 2-9 2-7 3-10 2-6 2 10 2 8 2 9 3 9 2 12 2 9 2 9 2 6 3 10 2 6 2 11 2 8 2 11 3 12 2-7 2-10 2-13 3-10 2-9 2-9 2-7 2-8 3-8 2-11 2-11 2-9 2-7 3-7 2 3 2 9 2 11 2 10 3 9 2 6 2 9 2 6 2 11 3 9 2 12 2 7 2 8 2 7 3 1 2-11 2-6 2-9 2-6 3-10 2-10 2-9 2-7 2-8 3-11 2-12 2-11 2-6 2-5 3 10 2 7 2 9 2 10 3 9 2 6 2 10 2 11 2 12 3 9 2 9 2 8 2 8 2 12 3-8 2-11 2-11 2-6 2-10 3-7 2-12 2-7 2-15 2-10 3-8 2-8 2-10 2-10 2 7 3 12 2 9 2 5 2 8 2 10 3 12 2 8 2 8 2 9 2 9 3 8 2 9 2 10 2 5 3-11 2-9 2-12 2-9 2-9 3-9 2-9 2-8 2-9 2-7 3-10 2-7 2-11 2-5 2 8 3 11 2 6 2 9 2 8 2 12 3 9 2 10 2 7 2 8 2 9 3 10 2 10 2 10 2-7 2-9 3-12 2-8 2-8 2-6 2-12 3-11 2-9 2-9 2-11 3-10 2-9 2-7 2 3 2 10 3 8 2 11 2 9 2 11 2 7 3 8 2 8 2 11 2 10 2 11 3 9 2 10 2-1 2-11 2-8 3-11 2-10 2-8 2-6 2-8 3-10 2-12 2-10 2-10 2-6 3-8 2-4 2 6 2 10 2 10 3 10 2 7 2 7 2 10 3 9 2 11 2 7 2 10 2 9 3 9 2 8 2-8 2-7 2-8 3-7 2-10 2-10 2-11 2-10 3-8 2-10 2-9 2-9 2-5 3-8 2 2 2 8 2 5 2 9 3 7 2 14 2 11 2 9 2 5 3 9 2 10 2 10 2 7 2 7 3 4 2-10 2-7 2-10 3-10 2-9 2-8 2-5 2-10 3-13 2-10 2-11 2-9 2-10 3-2 2 11 2 9 2 7 2 7 3 10 2 10 2 8 2 9 2 10 3 11 2 9 2 11 2 9 2 10 3-12 2-9 2-9 2-8 2-9 3-11 2-8 2-8 2-6 2-11 3-9 2-11 2-9 2-8 3 2 2 11 2 7 2 10 2 5 3 9 2 9 2 13 2 11 2 9 3 10 2 11 2 10 2 8 2-1 3-10 2-11 2-8 2-10 2-8 3-8 2-10 2-8 2-10 2-8 3-9 2-11 2-9 2-7 2 8 3 9 2 11 2 8 2 10 2 7 3 11 2 9 2 10 2 9 2 8 3 9 2 9 2 10 2-7 3-8 2-11 2-9 2-12 2-9 3-9 2-8 2-9 2-10 2-7 3-9 2-9 2-9 2 6 2 9 3 8 2 7 2 10 2 8 2 10 3 8 2 10 2 9 2 9 2 10 3 9 2 8 2 0 2-10 2-7 3-9 2-9 2-7 2-10 2-8 3-11 2-8 2-9 2-10 3-9 2-9 2-5 2 9 2 10 3 8 2 10 2 7 2 10 2 7 3 7 2 10 2 10 2 14 2 6 3 8 2 5 2-5 2-6 2-9 3-8 2-10 2-7 2-11 2-11 3-10 2-9 2-7 2-11 2-8 3-9 2 5 2 10 2 6 2 7 3 9 2 9 2 11 2 9 3 10 2 8 2 8 2 10 2 9 3 13 2 1 2-9 2-12 2-8 3-10 2-9 2-9 2-9 2-7 3-10 2-8 2-11 2-9 2-10 3-6 2 7 2 10 2 9 2 12 3 9 2 8 2 10 2 8 2 10 3 11 2 10 2 7 2 6 2 9 3-6 2-9 2-8 2-10 3-8 2-11 2-8 2-11 2-9 3-10 2-8 2-9 2-9 2-9 3 3 2 8 2 10 2 10 2 10 3 7 2 11 2 9 2 9 2 8 3 8 2 10 2 8 2 9 2 1 3-9 2-9 2-11 2-8 2-10 3-7 2-10 2-6 2-7 2-10 3-8 2-12 2-10 2-8 2 9 3 11 2 11 2 10 2 6 3 8 2 8 2 12 2 9 2 10 3 10 2 11 2 8 2 7 2-8 3-9 2-7 2-10 2-10 2-10 3-10 2-6 2-10 2-7 2-11 3-9 2-12 2-9 2 2 2 9 3 10 2 11 2 12 2 8 2 11 3 8 2 9 2 7 2 9 2 8 3 9 2 6 2 3 2-10 3-7 2-7 2-10 2-8 2-12 3-5 2-11 2-8 2-10 2-9 3-8 2-11 2-3 2 7 2 12 3 6 2 9 2 8 2 11 2 10 3 10 2 9 2 9 2 8 2 6 3 10 2 8 2-5 2-12 2-7 3-9 2-7 2-10 2-9 2-9 3-8 2-11 2-9 2-10 3-8 2-10 2 3 2 6 2 12 3 9 2 12 2 7 2 9 2 8 3 11 2 10 2 10 2 8 2 8 3 10 2 2" fill="none" stroke="#008000" stroke-width="14" stroke-linejoin="round"/></g></g><rect x="165.5" y="361.5" width="242.0" height="15.0" fill="none" stroke="#303030" stroke-width="1"/><line x1="162.70" x2="165.50" y1="362.5" y2="362.5" stroke="#262626" stroke-width="0.9"/><text x="160.80" y="365.00" class="tk" text-anchor="end">1</text><line x1="162.70" x2="165.50" y1="375.5" y2="375.5" stroke="#262626" stroke-width="0.9"/><text x="160.80" y="377.90" class="tk" text-anchor="end">0</text><line x1="176.5" x2="176.5" y1="376.5" y2="379.1" stroke="#262626" stroke-width="0.9"/><line x1="220.5" x2="220.5" y1="376.5" y2="379.1" stroke="#262626" stroke-width="0.9"/><line x1="264.5" x2="264.5" y1="376.5" y2="379.1" stroke="#262626" stroke-width="0.9"/><line x1="308.5" x2="308.5" y1="376.5" y2="379.1" stroke="#262626" stroke-width="0.9"/><line x1="352.5" x2="352.5" y1="376.5" y2="379.1" stroke="#262626" stroke-width="0.9"/><line x1="396.5" x2="396.5" y1="376.5" y2="379.1" stroke="#262626" stroke-width="0.9"/><g clip-path="url(#rc6)"><g transform="scale(0.1)"><path d="M1764 3867l2-13 2-14 3-8 2 1 2 20 2 0 2 9 3 8 2 8 2 12 2 11 2 10 3-3 2 1 2 4 2-11 2-12 3-7 2-12 2-5 2-10 3-11 2-5 2-9 2 6 2 15 3 3 2 9 2 7 2 19 2 6 3 6 2 22 2-8 2-4 2-9 3-11 2-8 2-12 2-9 2-4 3-8 2-15 2-6 2 6 2 17 3 6 2 10 2 4 2 13 2 18 3 0 2 8 2 11 2-13 2-18 3-3 2-11 2 5 2-18 3 2 2-13 2-18 2-2 2 8 3 7 2 9 2 5 2 11 2 12 3 7 2 3 2 18 2 1 2-3 3-9 2-12 2-11 2-12 2-9 3-6 2-11 2 1 2-16 2 20 3 8 2 8 2 5 2 10 2 7 3 9 2 9 2 6 2 4 2-8 3-10 2-15 2 0 2-3 3-11 2-4 2-7 2-18 2-1 3 12 2 0 2 20 2-2 2 14 3 6 2 9 2 11 2 5 2 6 3-8 2-9 2-9 2-14 2-8 3 2 2-22 2 0 2-7 2-9 3 12 2 11 2 5 2 8 2 8 3 1 2 18 2 8 2 11 2-4 3-5 2-6 2-13 2-10 2-4 3-4 2-13 2-4 2-15 3-5 2 7 2 10 2 9 2 7 3 10 2 14 2 4 2 8 2 8 3 10 2-14 2-5 2-16 2 0 3-8 2-13 2-10 2-5 2-15 3 5 2 0 2 16 2 6 2 14 3-4 2 15 2 8 2 16 2 6 3 8 2-16 2-10 2-14 2 4 3-21 2-2 2-3 2-12 3-8 2-8 2 11 2 7 2 6 3 14 2 9 2 8 2 1 2 22 3-2 2 15 2-7 2-17 2-23 3 2 2-12 2-3 2-9 2-8 3-8 2-5 2 12 2 4 2 5 3 19 2 1 2 7 2 12 2 9 3 4 2 14 2-19 2-5 2-12 3-5 2-6 2-12 2-8 3-7 2-6 2-13 2 9 2 11 3 0 2 20 2 13 2 1 2 10 3 12 2 7 2 6 2-6 2-8 3-12 2-6 2-15 2-4 2-14 3-4 2-10 2-7 2 10 2 14 3 8 2 4 2 12 2 4 2 10 3 13 2-1 2 13 2-4 2-15 3 0 2-12 2-14 2-5 3-11 2-5 2-15 2-1 2 1 3 15 2 5 2 14 2 3 2 14 3 3 2 18 2-1 2 9 2-9 3-10 2-10 2-4 2-15 2-7 3-6 2-5 2-17 2-4 2 12 3 9 2 15 2 5 2 5 2 15 3 2 2 6 2 15 2 2 2-10 3-6 2-8 2-9 2-14 3-8 2-6 2-1 2-16 2 1 3 1 2 6 2 12 2 9 2 12 3 6 2 14 2 4 2 12 2-2 3-6 2 3 2-22 2-4 2-13 3-5 2 2 2-19 2-11 2-4 3 7 2 15 2-2 2 12 2 7 3 10 2 9 2 9 2 17 2-4 3 1 2-25 2 0 2-9 2-7 3-4 2-15 2-4 2-9 3-4 2 10 2-5 2 9 2 25 3-1 2 9 2 2 2 21 2 7 3 8 2-14 2-10 2-10 2 0 3-22 2-4 2-1 2-14 2-11 3-7 2 9 2 14 2-4 2 19 3 9 2 15 2 5 2 9 2 5 3 5 2-11 2-9 2-2 2-16 3 1 2-23 2 0 2-3 3-17 2-1 2 8 2 0 2 22 3 10 2 6 2 10 2 9 2 2 3 11 2 9 2-14 2-9 2 0 3-8 2-18 2-5 2-5 2-18 3-4 2-9 2 12 2 15 2 0 3 8 2 16 2 2 2 13 2 18 3-2 2-2 2-12 2-4 2-12 3-1 2-10 2-6 2-15 3-7 2-2 2-6 2 5 2 8 3 7 2 11 2 9 2 0 2 10 3 17 2 10 2 0 2-3 2 0 3-19 2-15 2-4 2-3 2-17 3-3 2-7 2-9 2 6 2 11 3 5 2 16 2 8 2 6 2 12 3 9 2 13 2-6 2-3 2-7 3-8 2-17 2 5 2-14 3-21 2-6 2-4 2-6 2 8 3 10 2 5 2 10 2 17 2 0 3 11 2 13 2 13 2-4 2-7 3-14 2-3 2-3 2-10 2-11 3-13 2-12 2-6 2-4 2 11 3 2 2 11 2 7 2 15 2 7 3 10 2 11 2 0 2 7 2-13 3-4 2-8 2-3 2-11 2-6 3-6 2-21 2-4 2-1 3 6 2 10 2 1 2 18 2 4 3 13 2 10 2 14 2 2 2-3 3 2 2-11 2-11 2-9 2-10 3-2 2-19 2-5 2-11 2-4 3 14 2 1 2 15 2 0 2 25 3 0 2 12 2 7 2 9 2 8 3-18 2-2 2-7 2-7 2-18 3-3 2-15 2-4 2-7 3-5 2 2 2 10 2 9 2 11 3 14 2-1 2 10 2 10 2 4 3 14 2-9 2-17 2-8 2-1 3-15 2-11 2 1 2-18 2-9 3-1 2 7 2 13 2 7 2 13 3 6 2 15 2 0 2 7 2 14 3-1 2 2 2-20 2-5 2-9 3-22 2 8 2-14 2-3 3-12 2-12 2 11 2 19 2 11 3 6 2 3 2 8 2 15 2 4 3 9 2 12 2-20 2-4 2-12 3-9 2-7 2-8 2-1 2-18 3-14 2 5 2 10 2 6 2 9 3 4 2 10 2 9 2 4 2 13 3 3 2 12 2-9 2-7 2-12 3-4 2-10 2-16 2-11 3-1 2-11 2-1 2 2 2 13 3 10 2 10 2 11 2 10 2 8 3 4 2 14 2 7 2-14 2-7 3-8 2-14 2-5 2-16 2-13 3-9 2 8 2-6 2 4 2 5 3 15 2 3 2 10 2 10 2 8 3 10 2 7 2 3 2-2 2-7 3-15 2-12 2-2 2-11 3-5 2-18 2 0 2-10 2 11 3-1 2 19 2 4 2 9 2 9 3 8 2 12 2 11 2-8 2 8 3-15 2-14 2 3 2-11 2-13 3-11 2-11 2-5 2-9 2 19 3-4 2 20 2 6 2 7 2 6 3 8 2 11 2 8 2 8 2-11 3-1 2-13 2-17 2-6 3-8 2-10 2-7 2-11 2 0 3 3 2 18 2-2 2 12 2 15 3 3 2 18 2-4 2 23 2 3 3-9 2-18 2-7 2-2 2-16 3-9 2-5 2-15 2-7 2 2 3 9 2 7 2 3 2 12 2 14 3 10 2 0 2 9 2 7 2 9 3-2 2-13 2-19 2-1 2-7 3-15 2-8 2 1 2-2 3-15 2 6 2 4 2 13 2 21 3-5 2 11 2 4 2 20 2 11 3 7 2-15 2-14 2-7 2-9 3-13 2-7 2 3 2-21 2-4 3-4 2 8 2 6 2 17 2-5 3 19 2 7 2 4 2 1 2 19 3 2 2-2 2-17 2 1 2-14 3-14 2-7 2-6 2-6 3-5 2-14 2 12 2 8 2 6 3 9 2 3 2 18 2 12 2 15 3-9 2 6 2-2 2-7 2-7 3-14 2-11 2-1 2-21 2-4 3-3 2-6 2 6 2 8 2 13 3 11 2 2 2 12 2 9 2 10 3 8 2 7 2-15 2 8 2-18 3-7 2-19 2 6 2-22 3-5 2-6 2 1 2 8 2-5 3 18 2 5 2 12 2 11 2 1 3 10 2 11 2 2 2-11 2-2 3-12 2 0 2-18 2-6 2-16 3-3 2-14 2 0 2 6 2 12 3 11 2 4 2 12 2 6 2 8 3 7 2 18 2 2 2-7 2-20 3-2 2-12 2-16 2 5 3-15 2 1 2-16 2-2 2 3 3 9 2 17 2 6 2 12 2-2 3 15 2 7 2 15 2-4 2 6 3-24 2-2 2-9 2-13 2-6 3-9 2-9 2-3 2-7 2-1 3 18 2 8 2 9 2 7 2 4 3 5 2 19 2 9 2 4 2-10 3-12 2-5 2-11 2-10 2-11 3-10 2-3 2-3 2-10 3 2 2 14 2 5 2 14 2 4 3 8 2 11 2 15 2-2 2 18 3-19 2-7 2 1 2-21 2-9 3-3 2-5 2-13 2-9 2-1 3 4 2 10 2 7 2 10 2 2 3 18 2 1 2 9 2 19 2 2 3-13 2-1 2-20 2 0 2-8 3-10 2-8 2-22 2-2 3 0 2 17 2 1 2-1 2 21 3 3 2 12 2 2 2 17 2 4 3 6 2-15 2-5 2-10 2-11 3-11 2-7 2 1 2-11 2-9 3-4 2 2 2 16 2 8 2 10 3 6 2 8 2 6 2 11 2 3 3 13 2-12 2-10 2-2 2-16 3-5 2-6 2-14 2-13 3 3 2-13 2 14 2 5 2 7 3 3 2 19 2 16 2-5 2 12 3 12 2 2 2-12 2-3 2-9 3-19 2 7" fill="none" stroke="#ff0000" stroke-width="13" stroke-linejoin="round"/><path d="M1764 3834l2-11 2-7 3 12 2 11 2 12 2 14 2 14 3 10 2 12 2 10 2 17 2 6 3-11 2-12 2-13 2-11 2-16 3-13 2-15 2-9 2-12 3-5 2 12 2 12 2 9 2 11 3 14 2 15 2 13 2 11 2 13 3 8 2-10 2-12 2-13 2-16 3-14 2-14 2-12 2-11 2-14 3-6 2 13 2 14 2 11 2 12 3 13 2 12 2 14 2 12 2 13 3 5 2-12 2-12 2-12 2-13 3-11 2-13 2-12 2-13 3-12 2-7 2 10 2 12 2 14 3 14 2 13 2 13 2 14 2 14 3 11 2 6 2-11 2-12 2-12 3-16 2-13 2-13 2-13 2-13 3-13 2-6 2 15 2 13 2 12 3 13 2 11 2 10 2 10 2 14 3 15 2 9 2-13 2-14 2-13 3-13 2-14 2-13 2-11 3-11 2-12 2-7 2 13 2 14 3 12 2 13 2 14 2 12 2 10 3 12 2 13 2 8 2-13 2-14 3-13 2-14 2-9 2-15 2-11 3-15 2-13 2-7 2 12 2 15 3 14 2 13 2 13 2 14 2 11 3 11 2 9 2 10 2-11 2-12 3-15 2-14 2-13 2-12 2-10 3-14 2-11 2-7 2 15 3 12 2 10 2 11 2 15 2 14 3 12 2 11 2 13 2 9 2-13 3-11 2-15 2-13 2-12 2-13 3-13 2-14 2-14 2-6 2 14 3 14 2 11 2 12 2 10 2 12 3 14 2 15 2 14 2 7 2-12 3-10 2-13 2-15 2-16 2-14 3-9 2-11 2-13 2-10 3 13 2 13 2 13 2 12 2 14 3 12 2 12 2 11 2 14 2 8 3-14 2-13 2-12 2-12 2-13 3-13 2-11 2-12 2-13 2-5 3 16 2 12 2 9 2 10 2 13 3 14 2 10 2 12 2 14 2 8 3-13 2-13 2-13 2-10 2-12 3-12 2-13 2-13 2-14 3-7 2 14 2 14 2 12 2 13 3 12 2 13 2 11 2 11 2 11 3 8 2-11 2-12 2-12 2-13 3-13 2-14 2-11 2-14 2-15 3-7 2 13 2 14 2 12 2 13 3 14 2 11 2 15 2 11 2 14 3 5 2-14 2-13 2-13 2-9 3-12 2-10 2-13 2-13 3-12 2-9 2 12 2 12 2 12 3 13 2 11 2 14 2 12 2 13 3 13 2 7 2-13 2-13 2-13 3-11 2-12 2-12 2-12 2-13 3-15 2-9 2 11 2 13 2 12 3 17 2 14 2 12 2 11 2 14 3 16 2 7 2-14 2-14 2-13 3-12 2-13 2-13 2-13 3-12 2-11 2-8 2 12 2 13 3 12 2 15 2 11 2 11 2 10 3 14 2 13 2 9 2-16 2-10 3-14 2-10 2-13 2-11 2-13 3-12 2-12 2-8 2 11 2 10 3 12 2 13 2 15 2 14 2 14 3 10 2 12 2 6 2-12 2-13 3-14 2-11 2-12 2-12 2-15 3-12 2-13 2-6 2 11 3 15 2 11 2 12 2 11 2 13 3 16 2 13 2 13 2 8 2-15 3-15 2-14 2-10 2-10 2-10 3-15 2-15 2-13 2-6 2 15 3 12 2 12 2 12 2 13 2 11 3 13 2 14 2 14 2 6 2-15 3-12 2-13 2-12 2-13 2-12 3-11 2-10 2-12 2-8 3 11 2 12 2 12 2 12 2 13 3 14 2 10 2 13 2 11 2 10 3-12 2-13 2-14 2-12 2-12 3-13 2-14 2-13 2-11 2-8 3 15 2 12 2 15 2 11 2 11 3 12 2 11 2 14 2 12 2 5 3-12 2-13 2-9 2-15 2-12 3-11 2-12 2-12 2-15 3-7 2 13 2 17 2 13 2 12 3 10 2 12 2 11 2 12 2 12 3 8 2-11 2-11 2-12 2-13 3-15 2-12 2-12 2-13 2-13 3-7 2 13 2 12 2 13 2 12 3 13 2 13 2 15 2 14 2 12 3 4 2-13 2-12 2-13 2-14 3-13 2-12 2-14 2-15 3-10 2-6 2 15 2 10 2 11 3 14 2 13 2 14 2 12 2 14 3 15 2 6 2-14 2-14 2-15 3-12 2-12 2-13 2-13 2-12 3-10 2-8 2 11 2 11 2 14 3 16 2 11 2 13 2 9 2 15 3 13 2 8 2-16 2-12 2-10 3-10 2-13 2-14 2-13 2-12 3-12 2-8 2 12 2 12 3 12 2 11 2 12 2 14 2 15 3 12 2 11 2 5 2-11 2-11 3-13 2-11 2-13 2-11 2-14 3-12 2-12 2-7 2 14 2 11 3 13 2 12 2 14 2 11 2 10 3 11 2 14 2 9 2-13 2-13 3-13 2-12 2-12 2-11 2-13 3-13 2-18 2-6 2 11 3 16 2 10 2 14 2 14 2 14 3 13 2 11 2 13 2 6 2-12 3-13 2-14 2-13 2-12 2-10 3-12 2-14 2-13 2-6 2 13 3 14 2 11 2 12 2 13 2 13 3 13 2 12 2 12 2 8 2-11 3-13 2-14 2-13 2-12 2-13 3-13 2-13 2-11 2-8 3 12 2 11 2 13 2 10 2 13 3 15 2 14 2 12 2 14 2 6 3-10 2-15 2-13 2-15 2-12 3-13 2-12 2-12 2-12 2-7 3 12 2 14 2 14 2 13 2 11 3 13 2 14 2 12 2 14 2 4 3-13 2-13 2-11 2-12 2-15 3-14 2-12 2-13 2-12 3-7 2 15 2 12 2 14 2 12 3 12 2 12 2 14 2 14 2 14 3 5 2-16 2-13 2-12 2-12 3-14 2-13 2-11 2-12 2-13 3-7 2 12 2 14 2 11 2 13 3 10 2 15 2 15 2 13 2 10 3 5 2-11 2-11 2-10 2-14 3-13 2-14 2-11 2-12 3-14 2-7 2 13 2 14 2 14 3 12 2 13 2 11 2 13 2 10 3 13 2 7 2-12 2-12 2-14 3-15 2-14 2-10 2-11 2-11 3-12 2-8 2 12 2 13 2 14 3 11 2 13 2 12 2 15 2 11 3 11 2 4 2-12 2-11 2-10 3-13 2-14 2-14 2-12 3-13 2-12 2-7 2 13 2 12 3 10 2 13 2 15 2 15 2 13 3 11 2 13 2 6 2-12 2-12 3-13 2-13 2-14 2-8 2-11 3-12 2-15 2-8 2 12 2 10 3 14 2 12 2 12 2 10 2 14 3 14 2 14 2 6 2-13 2-11 3-11 2-12 2-14 2-14 2-14 3-11 2-12 2-3 2 12 3 12 2 9 2 11 2 12 2 13 3 13 2 13 2 12 2 9 2-12 3-12 2-14 2-14 2-13 2-14 3-13 2-13 2-11 2-6 2 15 3 11 2 12 2 12 2 13 2 14 3 13 2 12 2 11 2 4 2-13 3-12 2-9 2-11 2-12 2-14 3-13 2-13 2-12 2-6 3 14 2 13 2 13 2 13 2 13 3 12 2 10 2 13 2 11 2 8 3-10 2-12 2-12 2-16 2-13 3-12 2-12 2-10 2-16 2-8 3 9 2 13 2 13 2 15 2 13 3 11 2 12 2 12 2 15 2 8 3-10 2-14 2-13 2-14 2-11 3-13 2-15 2-12 2-12 3-6 2 13 2 11 2 12 2 12 3 14 2 13 2 11 2 10 2 13 3 9 2-11 2-11 2-14 2-12 3-12 2-9 2-13 2-13 2-16 3-7 2 12 2 15 2 13 2 11 3 13 2 13 2 13 2 11 2 11 3 7 2-14 2-11 2-14 2-12 3-14 2-9 2-14 2-12 3-13 2-6 2 11 2 12 2 12 3 16 2 13 2 13 2 11 2 11 3 15 2 4 2-11 2-15 2-11 3-13 2-12 2-14 2-12 2-14 3-13 2-7 2 15 2 13 2 14 3 11 2 14 2 9 2 12 2 13 3 15 2 9 2-13 2-12 2-13 3-13 2-16 2-10 2-14 2-11 3-14 2-6 2 12 2 13 3 13 2 14 2 12 2 10 2 13 3 12 2 15 2 6 2-10 2-15 3-11 2-15 2-10 2-14 2-12 3-15 2-13 2-6 2 15 2 14 3 11 2 12 2 12 2 15 2 10 3 15 2 11 2 9 2-14 2-14 3-13 2-11 2-11 2-12 2-14 3-16 2-12 2-7 2 14 3 10 2 13 2 12 2 14 2 10 3 12 2 13 2 15 2 6 2-12 3-13 2-13 2-13 2-11 2-9 3-13 2-13 2-12 2-6 2 10 3 13 2 10 2 15 2 11 2 12 3 12 2 10 2 17 2 8 2-10 3-14 2-15 2-12 2-14 2-10 3-11 2-13 2-14 2-6 3 12 2 11 2 10 2 14 2 13 3 13 2 12 2 14 2 14 2 6 3-12 2-13 2-11 2-16 2-11 3-13 2-11" fill="none" stroke="#008000" stroke-width="14" stroke-linejoin="round"/></g></g><rect x="165.5" y="379.5" width="242.0" height="15.0" fill="none" stroke="#303030" stroke-width="1"/><line x1="162.70" x2="165.50" y1="381.5" y2="381.5" stroke="#262626" stroke-width="0.9"/><text x="160.80" y="383.90" class="tk" text-anchor="end">1</text><line x1="162.70" x2="165.50" y1="393.5" y2="393.5" stroke="#262626" stroke-width="0.9"/><text x="160.80" y="396.20" class="tk" text-anchor="end">0</text><line x1="176.5" x2="176.5" y1="394.5" y2="397.1" stroke="#262626" stroke-width="0.9"/><line x1="220.5" x2="220.5" y1="394.5" y2="397.1" stroke="#262626" stroke-width="0.9"/><line x1="264.5" x2="264.5" y1="394.5" y2="397.1" stroke="#262626" stroke-width="0.9"/><line x1="308.5" x2="308.5" y1="394.5" y2="397.1" stroke="#262626" stroke-width="0.9"/><line x1="352.5" x2="352.5" y1="394.5" y2="397.1" stroke="#262626" stroke-width="0.9"/><line x1="396.5" x2="396.5" y1="394.5" y2="397.1" stroke="#262626" stroke-width="0.9"/><g clip-path="url(#rc7)"><g transform="scale(0.1)"><path d="M1764 4079l2-11 2-9 3-9 2-3 2-5 2-10 2-8 3-10 2 6 2 5 2 12 2 10 3-2 2 20 2-8 2 21 2 6 3 5 2 13 2-1 2-12 3-2 2-10 2-5 2-6 2-14 3-7 2-10 2 5 2-16 2 4 3-10 2 4 2 10 2 6 2 7 3 12 2 5 2 4 2 13 2 15 3 10 2 1 2-7 2-3 2-12 3-7 2-8 2-1 2-12 2-9 3-2 2-4 2-11 2-12 2 12 3-8 2 18 2 8 2 10 3 9 2 10 2 10 2-1 2-1 3 18 2-6 2 2 2-3 2-15 3 1 2-19 2-11 2 4 2-18 3-3 2-5 2-9 2-5 2 8 3 9 2 6 2 19 2-3 2 20 3 2 2 6 2 11 2 2 2 8 3-2 2-12 2-8 2-2 2-9 3-11 2-9 2-4 2-9 3-1 2-13 2-7 2 2 2 8 3 9 2 4 2 22 2-2 2 14 3 1 2-1 2 20 2 12 2-4 3-5 2-12 2-1 2-14 2-4 3-8 2-10 2-6 2-8 2-11 3-4 2-6 2 5 2 25 2-7 3 5 2 20 2 5 2 6 2 11 3 13 2-2 2 10 2-1 2-13 3-4 2 0 2-14 2-11 3-6 2-2 2-24 2 11 2-18 3-13 2 14 2 12 2 9 2-1 3 20 2-4 2 10 2-1 2 17 3 4 2 16 2-1 2-3 2-12 3-9 2-1 2-14 2-12 2-3 3-7 2-18 2 5 2-6 2-9 3 3 2 20 2-1 2 13 2 10 3-2 2 15 2 13 2 8 3 1 2 7 2-5 2-5 2-6 3-6 2-9 2-10 2-2 2-15 3-3 2-8 2-7 2-8 2 12 3 1 2 11 2 1 2 14 2 11 3 1 2 11 2 7 2 5 2 7 3 4 2-17 2-3 2-6 2 1 3-8 2-15 2-12 2 3 2-10 3-13 2-7 2-2 2 8 3 16 2 5 2 12 2 1 2 5 3 13 2 3 2 9 2 9 2 9 3-7 2-2 2-17 2-1 2-6 3-13 2-8 2-2 2-9 2-18 3 0 2-6 2 8 2 18 2-3 3 10 2-1 2 12 2 7 2 13 3 1 2 16 2-2 2 3 2-2 3-7 2-12 2-7 2-2 3-1 2-12 2-7 2-10 2-1 3-15 2-6 2 12 2 21 2-8 3 15 2 6 2 4 2 19 2-3 3 7 2 7 2 10 2-5 2-9 3-4 2-8 2-8 2-3 2-10 3-13 2-7 2-3 2-6 2-20 3 19 2 2 2 7 2 11 2 1 3 10 2 11 2 0 2 19 3 0 2 20 2-2 2-10 2-9 3-3 2-8 2-15 2-14 2 4 3-3 2-24 2-2 2-4 2 3 3 0 2 15 2 6 2 5 2 9 3 11 2 6 2 9 2 8 2 7 3 10 2-12 2-1 2-8 2-16 3-4 2 6 2-12 2-13 2-11 3-8 2-3 2-10 2 7 2 4 3 21 2 4 2 3 2 10 3 3 2 16 2 3 2 3 2 6 3 11 2-14 2-5 2-6 2-9 3-7 2-5 2-6 2-15 2-5 3-1 2-18 2 1 2 3 2 13 3 5 2 7 2 14 2 8 2 10 3-5 2 18 2-4 2 11 2-3 3 2 2-9 2-6 2-15 2-10 3-1 2-9 2-9 2 0 3-15 2-10 2 11 2 10 2 4 3 8 2 16 2 0 2 0 2 16 3 7 2 11 2 3 2 4 2-8 3-5 2-9 2-6 2-7 2-13 3-6 2-9 2-2 2-10 2-10 3 1 2 11 2 3 2 9 2 6 3 10 2 10 2 6 2 8 2-1 3 21 2 8 2-16 2 3 3-13 2-6 2-18 2 0 2 1 3-16 2 0 2-9 2-20 2 6 3 2 2 10 2 8 2 15 2 0 3 12 2 5 2 2 2 11 2 1 3 15 2 10 2-24 2-2 2-5 3-17 2 1 2-13 2 0 2-16 3 3 2-5 2-10 2-6 2 13 3 8 2 9 2 2 2 9 3 7 2 7 2 2 2 14 2 8 3 15 2-22 2 7 2-19 2 4 3-11 2-10 2-3 2-6 2-13 3-7 2-15 2-2 2 7 2 14 3-1 2 19 2-1 2 1 2 6 3 10 2 10 2 12 2 13 2-6 3-8 2 1 2-14 2-6 2-9 3-3 2-13 2-4 2-15 2 1 3-16 2 7 2 7 2 9 3 7 2 0 2 16 2 4 2 20 3-2 2 6 2 13 2 14 2-15 3-8 2-4 2-17 2 13 2-24 3-6 2-15 2-9 2 3 2-10 3-13 2 17 2 4 2 20 2 1 3 6 2 7 2 15 2 0 2 8 3 3 2 16 2-4 2-1 2-8 3-13 2-11 2-3 2-13 3-7 2-7 2 1 2-12 2-10 3-4 2 5 2 18 2 9 2 12 3 1 2 10 2-7 2 24 2 11 3-4 2 7 2 4 2-12 2-7 3-6 2-16 2 1 2-16 2-11 3-2 2 0 2-20 2-5 2 16 3 1 2 5 2 16 2 1 2-1 3 24 2 4 2 8 2 13 3-2 2 7 2-11 2-7 2 8 3-9 2-24 2 2 2-16 2-6 3-3 2-2 2-15 2 0 2 1 3 14 2 10 2 2 2 2 2 12 3 4 2 20 2 0 2 14 2 2 3-4 2 0 2-8 2-8 2-8 3-16 2-10 2-2 2-5 2-5 3-12 2-13 2 19 2-2 3 10 2 10 2 11 2 7 2 2 3 16 2 0 2 14 2 8 2-2 3-6 2-5 2-9 2-9 2-4 3-11 2-6 2-7 2-13 2-4 3-9 2 1 2 10 2 7 2 2 3 9 2 6 2 15 2 4 2 6 3 7 2 11 2 3 2 0 2-9 3-2 2-13 2-1 2-10 3-14 2-7 2-2 2-3 2-14 3-7 2-4 2 19 2 12 2 7 3 1 2 15 2-2 2 19 2-4 3 9 2 8 2 11 2-9 2-17 3 0 2-12 2-11 2-1 2-7 3-9 2-11 2 7 2-16 2 2 3 7 2 3 2-3 2 10 2 12 3 16 2-4 2 8 2 20 3 3 2 14 2-5 2-13 2-9 3-6 2-11 2 0 2-8 2-12 3-11 2-7 2 0 2-19 2 22 3 1 2-1 2 16 2 14 2-5 3 13 2 7 2 8 2 12 2 6 3-1 2-1 2-23 2 4 2-14 3-7 2-3 2-6 2-8 2-12 3-2 2-14 2-2 2 7 2 16 3 5 2 7 2-1 2 22 3 1 2 7 2 6 2 8 2 5 3-6 2 5 2-12 2-14 2-6 3-4 2-5 2-4 2-10 2-16 3 4 2-8 2 3 2 6 2 1 3 12 2 7 2 1 2 18 2 5 3 8 2 2 2 15 2 6 2-5 3-9 2-16 2 2 2-17 2-3 3-7 2 3 2-17 2-12 3-8 2-3 2 20 2 4 2 8 3 7 2 7 2 13 2 1 2 7 3 4 2 14 2 3 2 9 2-22 3-12 2-4 2-5 2-4 2-9 3-10 2-2 2-11 2-6 2-12 3 9 2 7 2 3 2 24 2-2 3 11 2 10 2-1 2 10 2 5 3 9 2 2 2-11 2-9 3-1 2-10 2-2 2-12 2-4 3-12 2-13 2 3 2-10 2-4 3 15 2 7 2 5 2 5 2 13 3 7 2-1 2 12 2 4 2 5 3 13 2 13 2-21 2-9 2-15 3-8 2 1 2-8 2-3 2-17 3-3 2-7 2-13 2 16 2 2 3 6 2 10 2 5 2 14 3 9 2 2 2 4 2 14 2 13 3-6 2-5 2-12 2-1 2-10 3-4 2-11 2-1 2-12 2-12 3 6 2-17 2-6 2 12 2 12 3 5 2 2 2 29 2-11 2 4 3 14 2 8 2 4 2 14 2-5 3-10 2-5 2-12 2-11 2-2 3-13 2 0 2-7 2-11 2-8 3-6 2 7 2 6 2 7 3 7 2 13 2 13 2-3 2 3 3 15 2 4 2 21 2-9 2-9 3-9 2-2 2-8 2-4 2-10 3-3 2-25 2 3 2-4 2-12 3-3 2 12 2 1 2 11 2 6 3 11 2 13 2 8 2-2 2 8 3 17 2 15 2-15 2-3 2-10 3-23 2 3 2-3 2 0 3-18 2-3 2-14 2-9 2-5 3 7 2 7 2 7 2 15 2-3 3 12 2 6 2 16 2 0 2 6 3 7 2 3 2 2 2-14 2-16 3 6 2-7 2-8 2-8 2-13 3-4 2-15 2 7 2-10 2 19 3-4 2 6 2 3 2 11 2 14 3 7 2 6 2 11 2 6 3 3 2 0 2-12 2-9 2-9 3 3 2-15 2-8 2-3 2-5 3-12 2-11 2-13 2 16 2 7 3 11 2 2" fill="none" stroke="#ff0000" stroke-width="13" stroke-linejoin="round"/><path d="M1764 4055l2-13 2-10 3-9 2-8 2-11 2-4 2 10 3 12 2 10 2 10 2 11 2 15 3 12 2 11 2 10 2 12 2 12 3-6 2-12 2-13 2-9 3-12 2-8 2-12 2-10 2-13 3-11 2-11 2-12 2 7 2 11 3 12 2 14 2 11 2 9 2 10 3 9 2 13 2 12 2 13 2 8 3-12 2-12 2-11 2-12 2-11 3-10 2-11 2-10 2-11 2-9 3-10 2-7 2 11 2 10 2 16 3 10 2 11 2 8 2 10 3 10 2 10 2 12 2 13 2-2 3-14 2-11 2-10 2-9 2-12 3-11 2-12 2-11 2-11 2-11 3-10 2 8 2 12 2 8 2 8 3 10 2 12 2 14 2 12 2 12 3 11 2 11 2 11 2-11 2-11 3-14 2-10 2-10 2-9 2-13 3-13 2-11 2-12 2-12 3-3 2 12 2 12 2 11 2 9 3 12 2 11 2 14 2 10 2 9 3 12 2 11 2-2 2-14 2-13 3-8 2-9 2-10 2-13 2-11 3-11 2-12 2-11 2-10 2 7 3 10 2 11 2 12 2 11 2 12 3 11 2 13 2 9 2 11 2 12 3 9 2-11 2-13 2-9 2-13 3-10 2-13 2-9 2-9 3-12 2-10 2-10 2-2 2 7 3 10 2 10 2 14 2 11 2 11 3 9 2 12 2 11 2 12 2 11 3-3 2-9 2-13 2-11 2-11 3-10 2-13 2-10 2-11 2-8 3-13 2-12 2 5 2 10 2 14 3 14 2 14 2 7 2 10 2 7 3 13 2 10 2 14 2 9 3-10 2-11 2-10 2-10 2-10 3-12 2-12 2-14 2-11 2-9 3-11 2-1 2 12 2 10 2 11 3 8 2 14 2 10 2 10 2 9 3 10 2 13 2 11 2-1 2-11 3-12 2-10 2-13 2-10 2-12 3-9 2-12 2-10 2-13 2-11 3 9 2 8 2 11 2 10 3 14 2 13 2 10 2 8 2 10 3 13 2 15 2 8 2-12 2-13 3-8 2-12 2-9 2-13 2-12 3-11 2-11 2-10 2-12 2-3 3 11 2 14 2 10 2 11 2 8 3 12 2 10 2 11 2 10 2 12 3 12 2 0 2-14 2-12 2-10 3-10 2-9 2-11 2-11 3-12 2-13 2-10 2-10 2 7 3 12 2 10 2 11 2 11 2 12 3 10 2 11 2 9 2 13 2 9 3 10 2-12 2-10 2-12 2-9 3-11 2-10 2-14 2-11 2-11 3-11 2-11 2-4 2 12 2 12 3 14 2 10 2 13 2 8 2 10 3 9 2 11 2 12 2 9 3-1 2-10 2-10 2-11 2-11 3-10 2-11 2-14 2-12 2-8 3-9 2-11 2 5 2 12 2 11 3 15 2 9 2 10 2 9 2 11 3 12 2 11 2 12 2 11 2-12 3-13 2-13 2-10 2-11 2-11 3-12 2-10 2-12 2-10 2-13 3-4 2 9 2 13 2 14 2 13 3 11 2 10 2 10 2 9 3 12 2 11 2 13 2-3 2-11 3-10 2-13 2-11 2-13 2-9 3-9 2-9 2-10 2-11 2-12 3 7 2 9 2 12 2 9 2 12 3 8 2 14 2 12 2 12 2 10 3 12 2 9 2-13 2-15 2-11 3-8 2-10 2-11 2-13 2-10 3-11 2-10 2-13 2-1 3 9 2 11 2 11 2 10 2 14 3 11 2 12 2 10 2 13 2 13 3 10 2-5 2-11 2-13 2-12 3-10 2-10 2-9 2-11 2-13 3-12 2-14 2-10 2 8 2 12 3 12 2 11 2 13 2 10 2 9 3 12 2 11 2 12 2 11 2 11 3-10 2-13 2-11 2-12 3-12 2-10 2-11 2-11 2-11 3-10 2-11 2-5 2 9 2 12 3 12 2 14 2 9 2 9 2 10 3 12 2 14 2 11 2 11 2-3 3-13 2-11 2-11 2-9 2-12 3-10 2-13 2-13 2-13 2-9 3-8 2 8 2 12 2 11 2 11 3 10 2 10 2 11 2 11 3 11 2 12 2 11 2 8 2-12 3-11 2-10 2-11 2-11 2-13 3-10 2-11 2-9 2-12 2-12 3-1 2 11 2 13 2 9 2 11 3 11 2 9 2 11 2 12 2 12 3 8 2 12 2-1 2-11 2-13 3-10 2-9 2-12 2-11 2-10 3-9 2-11 2-11 2-11 2 4 3 8 2 9 2 12 2 12 3 12 2 12 2 12 2 10 2 12 3 11 2 9 2-12 2-9 2-11 3-12 2-12 2-11 2-7 2-11 3-12 2-11 2-12 2-4 2 8 3 10 2 11 2 11 2 14 2 11 3 12 2 12 2 11 2 11 2 8 3 0 2-9 2-8 2-12 2-13 3-12 2-14 2-11 2-12 3-10 2-10 2-9 2 9 2 11 3 10 2 10 2 10 2 10 2 9 3 8 2 12 2 14 2 16 2 9 3-11 2-12 2-14 2-12 2-11 3-7 2-11 2-11 2-13 2-10 3-14 2-3 2 9 2 13 2 9 3 13 2 11 2 11 2 11 2 11 3 12 2 9 2 13 2 0 3-8 2-13 2-12 2-10 2-14 3-12 2-14 2-9 2-11 2-8 3-10 2 7 2 10 2 10 2 12 3 10 2 11 2 11 2 13 2 10 3 12 2 10 2 11 2-13 2-10 3-12 2-11 2-12 2-9 2-13 3-12 2-12 2-8 2-11 2-2 3 8 2 10 2 10 2 14 3 13 2 10 2 9 2 9 2 11 3 11 2 13 2-3 2-10 2-12 3-8 2-10 2-10 2-11 2-12 3-12 2-10 2-10 2-11 2 8 3 9 2 9 2 10 2 11 2 11 3 11 2 10 2 13 2 12 2 14 3 11 2-12 2-14 2-15 2-10 3-12 2-9 2-10 2-12 3-10 2-13 2-9 2-1 2 10 3 13 2 7 2 11 2 9 2 11 3 13 2 12 2 15 2 10 2 8 3-7 2-12 2-7 2-9 2-12 3-13 2-7 2-10 2-10 2-14 3-14 2-12 2 9 2 12 2 12 3 11 2 10 2 10 2 11 2 14 3 13 2 13 2 11 2 8 3-13 2-13 2-11 2-11 2-12 3-12 2-9 2-9 2-11 2-12 3-13 2-4 2 11 2 13 2 11 3 12 2 11 2 11 2 10 2 9 3 10 2 13 2 13 2 0 2-12 3-11 2-15 2-10 2-11 2-11 3-11 2-10 2-11 2-13 2-11 3 8 2 13 2 11 2 12 2 12 3 9 2 11 2 16 2 13 3 10 2 8 2 7 2-12 2-13 3-12 2-10 2-13 2-10 2-12 3-8 2-11 2-10 2-10 2-4 3 11 2 10 2 11 2 10 2 12 3 9 2 13 2 11 2 13 2 8 3 10 2-4 2-11 2-10 2-9 3-9 2-12 2-12 2-11 2-11 3-9 2-11 2-11 2 7 3 11 2 12 2 11 2 8 2 11 3 11 2 12 2 12 2 11 2 12 3 6 2-11 2-10 2-10 2-10 3-14 2-11 2-12 2-9 2-9 3-8 2-11 2-5 2 10 2 10 3 10 2 10 2 9 2 14 2 9 3 13 2 10 2 12 2 13 2-2 3-10 2-14 2-13 2-13 3-10 2-10 2-8 2-13 2-12 3-12 2-9 2 10 2 11 2 11 3 10 2 10 2 11 2 12 2 11 3 9 2 9 2 11 2 13 2-10 3-10 2-14 2-9 2-12 2-10 3-14 2-13 2-11 2-9 2-8 3-5 2 11 2 9 2 12 2 9 3 13 2 11 2 14 2 9 3 12 2 10 2 10 2-3 2-7 3-12 2-11 2-17 2-9 2-11 3-9 2-11 2-11 2-11 2-11 3 7 2 11 2 13 2 12 2 11 3 10 2 10 2 11 2 11 2 12 3 12 2 10 2-12 2-10 2-13 3-12 2-12 2-11 2-10 2-10 3-9 2-12 2-11 2-5 2 9 3 10 2 11 2 12 2 13 3 11 2 12 2 9 2 11 2 10 3 14 2-1 2-10 2-14 2-10 3-13 2-10 2-15 2-10 2-13 3-9 2-9 2-9 2 8 2 10 3 12 2 9 2 9 2 11 2 12 3 14 2 10 2 9 2 9 2 10 3-10 2-12 2-9 2-12 2-11 3-10 2-11 2-9 2-12 3-10 2-12 2-2 2 11 2 9 3 9 2 10 2 12 2 13 2 12 3 10 2 10 2 11 2 12 2-1 3-11 2-10 2-12 2-12 2-13 3-11 2-13 2-11 2-11 2-10 3-9 2 7 2 12 2 10 2 12 3 12 2 10 2 12 2 10 2 11 3 11 2 11 2 9 2-12 3-12 2-11 2-9 2-9 2-9 3-14 2-11 2-11 2-11 2-10 3-3 2 9 2 11 2 8 2 14 3 9 2 14" fill="none" stroke="#008000" stroke-width="14" stroke-linejoin="round"/></g></g><rect x="165.5" y="397.5" width="242.0" height="15.0" fill="none" stroke="#303030" stroke-width="1"/><line x1="162.70" x2="165.50" y1="399.5" y2="399.5" stroke="#262626" stroke-width="0.9"/><text x="160.80" y="401.90" class="tk" text-anchor="end">1</text><line x1="162.70" x2="165.50" y1="412.5" y2="412.5" stroke="#262626" stroke-width="0.9"/><text x="160.80" y="414.80" class="tk" text-anchor="end">0</text><line x1="176.5" x2="176.5" y1="412.5" y2="415.1" stroke="#262626" stroke-width="0.9"/><line x1="220.5" x2="220.5" y1="412.5" y2="415.1" stroke="#262626" stroke-width="0.9"/><line x1="264.5" x2="264.5" y1="412.5" y2="415.1" stroke="#262626" stroke-width="0.9"/><line x1="308.5" x2="308.5" y1="412.5" y2="415.1" stroke="#262626" stroke-width="0.9"/><line x1="352.5" x2="352.5" y1="412.5" y2="415.1" stroke="#262626" stroke-width="0.9"/><line x1="396.5" x2="396.5" y1="412.5" y2="415.1" stroke="#262626" stroke-width="0.9"/><g clip-path="url(#rc8)"><g transform="scale(0.1)"><path d="M1764 4256l2 7 2-13 3-2 2-9 2-11 2-8 2 13 3-19 2-3 2-5 2 2 2-5 3-5 2 7 2-14 2 17 2-8 3 8 2-11 2 1 2 10 3 5 2-7 2 13 2-9 2 25 3 3 2 0 2 13 2 10 2-8 3 16 2 4 2-5 2 1 2 11 3 7 2 3 2 3 2 2 2-6 3 4 2-8 2-5 2 2 2 7 3-2 2 1 2-16 2-4 2-2 3-8 2-11 2 1 2 0 2-10 3-5 2-15 2 7 2-16 3 4 2-14 2 10 2-11 2 4 3-9 2 2 2 7 2-10 2 8 3 3 2 4 2-2 2 9 2 3 3-1 2 10 2 10 2-1 2 11 3-5 2 7 2 16 2 2 2 5 3-4 2 15 2 3 2 2 2 0 3-9 2 11 2 2 2 4 2-3 3-5 2-4 2 7 2-2 3-18 2 0 2-4 2-2 2-5 3-7 2-2 2-5 2-10 2 4 3-18 2 2 2-7 2-4 2-7 3 3 2 3 2-10 2 4 2-2 3-1 2 7 2-3 2-6 2 8 3 2 2 3 2 0 2 3 2 8 3 2 2 6 2 14 2-6 2 8 3 16 2 4 2 7 2-1 2 7 3 5 2-5 2 3 2 4 3 4 2 0 2 3 2-8 2-6 3 8 2-6 2-9 2 7 2 0 3-10 2-11 2 10 2-8 2-15 3 5 2-13 2-10 2-2 2-7 3 6 2-20 2 11 2-9 2-14 3 12 2-2 2-5 2-8 2 9 3-10 2 9 2 4 2 5 2 6 3-4 2 10 2 3 2-3 3 12 2 7 2 19 2-5 2 4 3 3 2 12 2 0 2 1 2 1 3 15 2-5 2 2 2 9 2-15 3 10 2 0 2-5 2 2 2-14 3 7 2 0 2-2 2-14 2 4 3-3 2-10 2-7 2-3 2-13 3-1 2 2 2-9 2-8 2-7 3 4 2 1 2-11 2 0 3-3 2-2 2 5 2 6 2-9 3 0 2 5 2-7 2 7 2 10 3 2 2 6 2 6 2 4 2 11 3-13 2 24 2-8 2 14 2 6 3 2 2 3 2 8 2 1 2 7 3 4 2-6 2-8 2 11 2-1 3-6 2 7 2-7 2 1 2-8 3 2 2-13 2 1 2 4 3-21 2 3 2 0 2-17 2-4 3-6 2 2 2-8 2-4 2-8 3-3 2 1 2-1 2 0 2 1 3-4 2 5 2-6 2 12 2 2 3-1 2 2 2 1 2 3 2-5 3 18 2 1 2 10 2 3 2 8 3 5 2 11 2 1 2 4 2-6 3 5 2 9 2 1 2-1 3 5 2 14 2-9 2-2 2 12 3-11 2-8 2 2 2-6 2-16 3 9 2-3 2-4 2-18 2-2 3-2 2-4 2-5 2-4 2-13 3-4 2-2 2 2 2 1 2-9 3-1 2-3 2 0 2-4 2-5 3 6 2 3 2 10 2-2 2 5 3 3 2-3 2 5 2 20 2 0 3 11 2-14 2 8 2 10 3 4 2 7 2 11 2 0 2 13 3-9 2-2 2 7 2 8 2-6 3 4 2 1 2-6 2 3 2-2 3-6 2 4 2-11 2-1 2-14 3-5 2-8 2 7 2-9 2-15 3 2 2-9 2 1 2-1 2-12 3-5 2-9 2 11 2-9 2 0 3 6 2-1 2 0 2-1 3-4 2-3 2 9 2 9 2-4 3 18 2-4 2 14 2-5 2 5 3 2 2 12 2 11 2 6 2 2 3 1 2 2 2 16 2-12 2 10 3-2 2 3 2 8 2-4 2-3 3 3 2-6 2-2 2-5 2-7 3 3 2-7 2-5 2-4 2-6 3-1 2-16 2-1 2-4 3-6 2-4 2-3 2 0 2-2 3-14 2 2 2-4 2 3 2 0 3-14 2 10 2-7 2 2 2 11 3 3 2 3 2 5 2 6 2 3 3 8 2-12 2 28 2-6 2 4 3 8 2 6 2 3 2 6 2 2 3 10 2 4 2 2 2 13 2-8 3-1 2-5 2 0 2 4 3 2 2-8 2-5 2-4 2-2 3-1 2-5 2-9 2-14 2-4 3 0 2 1 2-7 2-3 2-14 3 1 2-7 2 2 2-10 2 1 3-4 2 3 2-5 2 1 2 6 3-7 2 8 2-7 2 8 2 4 3 6 2 7 2-1 2 8 2 1 3 4 2 3 2 4 2 13 2 6 3-1 2 9 2 6 2 3 3 4 2 3 2-1 2 3 2 0 3-2 2 7 2-9 2 8 2-10 3-8 2 8 2-11 2-7 2 10 3-9 2-11 2-7 2-6 2-4 3-5 2-6 2-9 2 0 2 6 3-13 2-3 2-7 2-5 2 6 3-8 2 7 2-7 2 3 2 2 3 2 2-8 2 13 2 7 3 7 2 7 2 9 2-2 2 9 3-3 2 7 2 23 2 3 2-9 3 13 2-2 2 7 2 0 2 6 3 4 2 2 2-8 2 9 2-7 3 5 2-5 2-2 2-8 2 5 3-6 2-12 2-9 2 5 2 0 3-13 2-2 2-12 2-7 2-1 3 0 2-16 2-4 2 4 3-7 2 1 2 4 2-7 2-3 3 3 2-12 2 11 2 3 2 4 3 3 2 8 2 1 2-1 2 7 3 4 2 7 2 9 2 1 2 7 3-3 2 16 2-6 2 13 2 0 3 8 2 6 2-2 2 9 2-3 3-3 2 9 2-2 2 1 2-8 3-3 2 6 2-17 2 5 3-10 2-1 2-12 2-6 2-9 3 1 2 6 2-21 2 2 2-8 3-1 2-11 2 0 2-8 2 11 3-9 2 4 2-8 2-9 2 11 3-6 2 2 2 2 2 15 2 2 3-1 2-1 2 20 2-4 2 3 3 5 2 9 2 1 2 5 2 10 3 1 2 12 2-2 2-1 3 4 2 14 2-5 2 11 2 4 3-3 2-7 2-6 2-3 2 3 3-1 2-8 2 1 2 3 2-12 3-3 2-14 2 3 2-15 2-8 3 4 2-6 2 3 2-10 2-10 3-3 2-1 2-10 2 3 2 0 3 7 2-4 2-2 2 6 2-12 3 1 2 15 2-8 2 13 3 3 2-5 2 19 2 5 2-10 3 16 2 7 2 9 2 1 2 1 3 16 2 0 2-9 2 9 2 6 3 3 2-1 2 8 2-3 2-8 3 12 2-8 2-11 2 8 2-11 3 2 2-4 2-11 2-1 2 0 3-9 2-8 2-5 2-5 2 1 3-6 2-9 2-13 2 11 2-10 3 0 2-7 2 3 2-4 3 2 2 3 2-4 2 2 2 3 3 3 2 2 2 8 2-1 2 8 3 11 2 8 2-9 2 20 2 0 3 7 2 5 2-3 2 4 2 4 3 9 2 7 2-1 2-5 2 5 3 18 2-5 2-8 2-3 2-10 3 14 2-8 2-11 2 5 2-8 3-11 2 0 2-4 2-3 3-8 2-10 2 0 2-12 2-9 3 10 2-9 2-1 2-11 2 3 3-5 2 1 2-6 2-4 2 9 3 0 2 2 2 1 2 8 2 6 3 8 2-10 2 8 2 3 2 12 3 0 2 4 2 1 2 8 2 16 3 1 2 12 2-7 2 16 2-9 3 3 2 4 2 13 2-9 3 3 2-11 2 10 2-9 2 2 3-7 2-4 2-1 2-3 2-1 3-19 2-1 2-2 2-2 2-8 3-11 2 3 2-3 2-10 2-5 3 1 2-3 2-8 2 4 2-8 3-3 2 6 2 2 2 2 2-2 3 4 2 7 2 4 2-8 2 10 3-6 2 18 2 0 2 7 3 0 2 7 2 11 2 11 2-8 3 2 2 13 2 4 2 9 2-5 3 5 2 2 2-1 2 1 2-4 3 5 2-2 2-5 2-7 2-7 3 4 2 3 2-12 2-13 2 5 3 0 2-20 2 0 2 0 2-11 3-8 2 0 2-4 2 8 2-19 3 2 2-1 2 3 2-13 2-1 3 0 2 6 2 1 2 15 3-3 2-4 2 2 2 2 2 11 3-2 2 17 2 0 2 1 2 12 3 10 2 4 2-1 2 4 2 4 3 16 2 4 2-4 2 4 2-3 3-3 2 0 2 6 2-4 2-6 3-2 2 2 2-9 2-1 2-10 3 12 2-6 2-14 2-9 2-2 3-8 2 2 2-18 2-7 3 0 2-2 2-17 2 14 2-7 3 0 2-3 2 3 2-6 2 4 3 0 2-2 2-1 2 13 2-1 3 3 2 7 2-3 2 10 2 13 3 6 2 6 2-8 2 9 2 8 3 8 2 9 2-5 2 9 2 7 3-3 2 7 2-8 2 19 2-14 3-4 2 10 2-12 2 5 3-9 2-2 2-4 2 8 2-21 3 4 2-6 2-5 2-23 2 9 3-3 2-9 2-6 2-3 2-8 3 7 2-12" fill="none" stroke="#ff0000" stroke-width="13" stroke-linejoin="round"/><path d="M1764 4249l2-4 2-7 3-7 2-8 2-3 2-4 2-5 3-4 2-4 2-2 2-4 2-4 3-4 2 0 2 1 2 2 2 2 3 5 2 4 2 5 2 7 3 5 2 6 2 2 2 6 2 7 3 6 2 6 2 5 2 5 2 5 3 6 2 6 2 6 2 3 2 2 3 3 2 3 2 2 2 0 2-2 3-1 2-3 2-3 2-5 2-6 3-4 2-4 2-5 2-6 2-8 3-4 2-6 2-5 2-5 2-6 3-5 2-6 2-3 2-4 3-4 2-5 2-3 2-4 2-4 3-1 2 1 2 2 2 2 2 4 3 5 2 4 2 5 2 6 2 7 3 7 2 6 2 4 2 6 2 3 3 8 2 7 2 5 2 5 2 6 3 5 2 2 2 2 2 3 2 2 3 3 2 2 2-2 2-2 2-3 3 1 2-3 2-4 2-8 3-6 2-7 2-4 2-7 2-5 3-7 2-4 2-7 2-5 2-7 3-4 2-4 2-5 2-4 2-5 3-4 2-4 2-4 2 2 2 5 3 5 2 2 2 3 2 3 2 3 3 5 2 5 2 2 2 5 2 5 3 8 2 3 2 8 2 7 2 8 3 4 2 5 2 5 2 5 2 4 3 5 2 4 2 4 2 2 3 2 2-4 2-5 2-4 2-4 3-1 2-4 2-5 2-6 2-3 3-6 2-7 2-8 2-5 2-5 3-5 2-4 2-4 2-8 2-6 3-7 2-2 2-3 2-1 2-3 3-5 2-3 2 2 2 5 2 4 3 3 2 4 2 5 2 5 2 3 3 4 2 6 2 8 2 7 3 5 2 6 2 4 2 4 2 4 3 8 2 5 2 4 2 4 2 7 3 5 2 2 2 1 2 1 2-4 3-4 2 0 2-2 2-3 2-9 3-4 2-8 2-4 2-4 2-4 3-5 2-6 2-5 2-6 2-7 3-5 2-6 2-3 2-6 2-6 3-6 2-1 2-4 2-2 3-4 2 5 2 4 2 3 2 1 3 5 2 5 2 8 2 4 2 4 3 4 2 6 2 6 2 7 2 4 3 7 2 5 2 7 2 4 2 3 3 3 2 5 2 5 2 5 2 2 3 6 2 3 2-4 2-8 2-5 3-1 2 1 2-5 2-6 2-4 3-5 2-5 2-7 2-5 3-8 2-5 2-7 2-5 2-5 3-5 2-4 2-6 2-3 2-6 3-4 2-3 2-1 2 0 2 2 3 4 2 4 2 2 2 6 2 3 3 6 2 3 2 6 2 4 2 5 3 8 2 7 2 4 2 4 2 4 3 7 2 6 2 6 2 5 2 0 3 5 2 3 2 9 2 2 3-2 2-4 2-6 2 0 2-3 3-2 2-1 2-5 2-4 2-10 3-6 2-7 2-6 2-5 2-7 3-4 2-6 2-4 2-7 2-4 3-5 2-4 2-2 2-4 2-3 3-4 2-3 2 2 2 3 2 4 3 5 2 6 2 6 2 4 2 4 3 5 2 5 2 6 2 7 2 4 3 5 2 3 2 7 2 5 3 4 2 5 2 4 2 7 2 3 3 5 2 2 2 3 2 2 2-1 3-2 2-5 2-6 2-3 2-6 3-4 2-7 2-3 2-5 2-5 3-6 2-8 2-6 2-6 2-3 3-5 2-3 2-7 2-5 2-6 3-3 2-4 2-3 2 0 2-1 3 1 2 0 2 4 2 6 3 6 2 5 2 3 2 4 2 5 3 5 2 7 2 3 2 6 2 4 3 6 2 6 2 6 2 6 2 6 3 6 2 7 2 2 2 4 2 2 3 3 2-2 2-2 2-4 2-2 3-5 2-4 2-4 2-4 2-6 3-4 2-4 2-6 2-5 2-7 3-5 2-8 2-6 2-6 3-3 2-4 2-5 2-4 2-6 3-4 2-4 2-1 2 0 2 4 3 3 2 2 2 0 2 6 2 6 3 6 2 4 2 6 2 7 2 4 3 5 2 4 2 8 2 7 2 8 3 4 2 4 2 3 2 3 2 3 3 5 2 6 2 4 2 0 2 0 3-2 2-1 2-2 2-5 3-4 2-3 2 1 2-6 2-8 3-10 2-6 2-6 2-4 2-5 3-4 2-5 2-6 2-5 2-7 3-4 2-5 2-3 2-3 2-3 3-4 2-3 2 0 2 4 2 5 3 6 2 6 2 2 2 6 2 3 3 6 2 6 2 5 2 5 2 4 3 7 2 7 2 4 2 7 2 6 3 6 2 2 2 4 2 5 3 6 2 3 2 2 2 1 2-5 3-4 2-5 2-4 2-3 2-2 3-3 2-6 2-7 2-7 2-4 3-5 2-4 2-7 2-4 2-7 3-4 2-5 2-3 2-7 2-5 3-5 2-4 2-3 2-1 2-1 3 2 2 0 2 5 2 3 2 5 3 4 2 7 2 4 2 7 3 5 2 5 2 4 2 5 2 9 3 5 2 6 2 4 2 6 2 4 3 5 2 5 2 3 2 1 2 3 3 2 2 3 2-3 2-3 2-3 3-3 2-3 2-7 2-4 2-5 3-4 2-5 2-6 2-2 2-9 3-7 2-6 2-7 2-6 2-6 3-3 2-3 2-3 2-3 3-4 2-2 2-3 2-1 2-1 3 5 2 0 2 5 2 3 2 6 3 4 2 5 2 4 2 7 2 6 3 5 2 7 2 5 2 6 2 6 3 7 2 6 2 3 2 5 2 4 3 3 2 2 2 4 2 4 2 2 3-2 2-4 2-3 2-5 2-4 3-6 2-4 2-4 2-6 3-6 2-7 2-4 2-4 2-6 3-7 2-6 2-6 2-4 2-5 3-4 2-5 2-6 2-4 2-2 3-1 2 0 2 2 2 2 2 3 3 5 2 5 2 4 2 5 2 4 3 7 2 5 2 5 2 5 2 5 3 7 2 6 2 6 2 3 2 4 3 6 2 10 2 6 2 3 3 0 2 5 2 3 2 3 2-7 3-4 2-6 2-3 2-5 2-4 3-2 2-3 2-7 2-7 2-7 3-4 2-4 2-6 2-7 2-5 3-7 2-3 2-6 2-3 2-5 3-3 2-4 2-4 2-5 2 1 3 1 2 3 2 5 2 5 2 4 3 1 2 2 2 5 2 8 3 10 2 7 2 5 2 2 2 5 3 7 2 8 2 3 2 5 2 3 3 7 2 5 2 6 2 1 2 2 3 2 2 3 2-2 2-2 2-3 3-5 2-4 2-6 2-5 2-5 3-4 2-5 2-5 2-6 2-5 3-9 2-5 2-5 2-4 2-5 3-7 2-3 2-6 2-2 2-4 3-3 2-5 2-3 2 2 3 3 2 6 2 6 2 7 2 5 3 1 2 3 2 4 2 8 2 6 3 8 2 7 2 8 2 3 2 2 3 5 2 3 2 7 2 5 2 5 3 2 2 3 2 4 2 6 2 2 3-2 2-3 2-4 2-6 2-6 3-3 2-4 2-6 2-5 2-5 3-5 2-7 2-6 2-6 3-7 2-5 2-5 2-5 2-5 3-5 2-4 2-2 2-5 2-1 3-6 2 1 2 4 2 4 2 3 3 2 2 2 2 5 2 4 2 6 3 6 2 7 2 5 2 6 2 6 3 5 2 3 2 5 2 4 2 7 3 5 2 6 2 1 2 4 2 3 3 4 2 1 2 3 2 2 3-3 2-4 2-6 2-3 2-4 3-4 2-5 2-5 2-7 2-5 3-7 2-2 2-6 2-6 2-8 3-7 2-5 2-3 2-6 2-4 3-7 2-2 2-2 2-2 2 1 3 2 2 1 2 4 2 3 2 5 3 2 2 7 2 4 2 4 2 6 3 8 2 6 2 7 2 3 3 7 2 8 2 6 2 7 2 2 3 6 2 3 2 3 2 0 2 4 3 4 2 4 2-2 2-1 2-8 3-6 2-6 2-2 2-5 2-5 3-4 2-6 2-5 2-6 2-5 3-8 2-6 2-5 2-2 2-5 3-5 2-5 2-5 2-6 2-3 3-4 2-1 2-2 2 6 2 2 3 5 2 2 2 1 2 5 3 2 2 8 2 5 2 8 2 5 3 7 2 6 2 5 2 4 2 4 3 6 2 5 2 3 2 6 2 3 3 7 2 1 2 6 2 2 2 4 3-4 2-4 2-5 2-4 2-3 3-4 2-6 2-6 2-4 2-4 3-6 2-6 2-8 2-6 2-5 3-3 2-5 2-6 2-6 3-5 2-5 2-3 2-4 2-1 3-3 2-2 2 1 2 3 2 4 3 5 2 4 2 7 2 4 2 3 3 3 2 6 2 7 2 6 2 6 3 8 2 4 2 6 2 4 2 5 3 6 2 5 2 6 2 2 2 4 3 3 2 4 2-1 2-5 2-3 3-3 2-2 2-4 2-2 3-5 2-6 2-7 2-6 2-6 3-6 2-6 2-5 2-6 2-2 3-3 2-5 2-9 2-7 2-5 3-2 2-3" fill="none" stroke="#008000" stroke-width="14" stroke-linejoin="round"/></g></g><rect x="165.5" y="416.5" width="242.0" height="15.0" fill="none" stroke="#303030" stroke-width="1"/><line x1="162.70" x2="165.50" y1="418.5" y2="418.5" stroke="#262626" stroke-width="0.9"/><text x="160.80" y="420.70" class="tk" text-anchor="end">1</text><line x1="162.70" x2="165.50" y1="430.5" y2="430.5" stroke="#262626" stroke-width="0.9"/><text x="160.80" y="433.00" class="tk" text-anchor="end">0</text><line x1="176.5" x2="176.5" y1="431.5" y2="434.1" stroke="#262626" stroke-width="0.9"/><line x1="220.5" x2="220.5" y1="431.5" y2="434.1" stroke="#262626" stroke-width="0.9"/><line x1="264.5" x2="264.5" y1="431.5" y2="434.1" stroke="#262626" stroke-width="0.9"/><line x1="308.5" x2="308.5" y1="431.5" y2="434.1" stroke="#262626" stroke-width="0.9"/><line x1="352.5" x2="352.5" y1="431.5" y2="434.1" stroke="#262626" stroke-width="0.9"/><line x1="396.5" x2="396.5" y1="431.5" y2="434.1" stroke="#262626" stroke-width="0.9"/><g clip-path="url(#rc9)"><g transform="scale(0.1)"><path d="M1764 4404l2-4 2-13 3-2 2-2 2-8 2 20 2 5 3 9 2-10 2 17 2 6 2 11 3 9 2-12 2 12 2 9 2 3 3 10 2 4 2-4 2-11 3 1 2-21 2 7 2-7 2-4 3-12 2-3 2-7 2-13 2-3 3 3 2-14 2 3 2 5 2 7 3 1 2 14 2-7 2 14 2 2 3 12 2 11 2 9 2-5 2 7 3 12 2-2 2 5 2-5 2-13 3-1 2-5 2-8 2 2 2-19 3 0 2-6 2-8 2-3 3-7 2-8 2-12 2 8 2 8 3 2 2 8 2 11 2 0 2 5 3 6 2 9 2 17 2-2 2 10 3 8 2-7 2 11 2-13 2 2 3-8 2-4 2-2 2-11 2 1 3-19 2 6 2-14 2-7 2-1 3-3 2-13 2 1 2 10 2-3 3 13 2-1 2 2 2 7 3 8 2 10 2 5 2 2 2 7 3 9 2 1 2 16 2-10 2-4 3 3 2-9 2-8 2-3 2-13 3 5 2-15 2-2 2-6 2-7 3-6 2-15 2 12 2-9 2 11 3 9 2-6 2 6 2 9 2 9 3 11 2-6 2 16 2-9 2 10 3 9 2 9 2 16 2-7 2-7 3-10 2-12 2-3 2-12 3 3 2 1 2-14 2-2 2-5 3-10 2-13 2 3 2-13 2 14 3 3 2 10 2 5 2-1 2 7 3 9 2 6 2 6 2-3 2 18 3 7 2-1 2 6 2 2 2-5 3 5 2-18 2-4 2-9 2-8 3 11 2-15 2-5 2-15 2-3 3 2 2-11 2-6 2-1 3 4 2 9 2 13 2-5 2 10 3 5 2 12 2-2 2 9 2 5 3 2 2 15 2-6 2 6 2 11 3-3 2-13 2-6 2-5 2-7 3 0 2-10 2-17 2-6 2 3 3-6 2-3 2-12 2-4 2 2 3 4 2 13 2 5 2 6 2 10 3 0 2 1 2 18 2-4 3 9 2 6 2 12 2 2 2 6 3-11 2-1 2-2 2-15 2-7 3-6 2-6 2 2 2-12 2-5 3-13 2 4 2-6 2-7 2-9 3 9 2 8 2-2 2 14 2 2 3 12 2-1 2 10 2 6 2 12 3 2 2 9 2 1 2 8 2-1 3-4 2-3 2-21 2 7 3-15 2 1 2 3 2-14 2-15 3-7 2 6 2-8 2-8 2 7 3-20 2 14 2 5 2 10 2 4 3 7 2 2 2 6 2 6 2 5 3 4 2 15 2-3 2 16 2 7 3-20 2 14 2-20 2 3 2-12 3 3 2-4 2-19 2-1 2-6 3-7 2-13 2-4 2-2 3 3 2 2 2 4 2-2 2 18 3 5 2 0 2 8 2 5 2 12 3-7 2 13 2 11 2 7 2 5 3 9 2-15 2-5 2-4 2-8 3-3 2-13 2-5 2-5 2 1 3-6 2-17 2-3 2-5 2-1 3-14 2 14 2 1 2 10 2 6 3 10 2 7 2-5 2 11 2 15 3 0 2 5 2 3 2 16 3-3 2-4 2-6 2 0 2-5 3-8 2-8 2-5 2 1 2-12 3-5 2-10 2-1 2-17 2 4 3-10 2 1 2 11 2 1 2 12 3 9 2 2 2 14 2-4 2 13 3 4 2 3 2 3 2 9 2 2 3 10 2-4 2 5 2-20 2-2 3-7 2-10 2-5 2-5 3-4 2-10 2 2 2-16 2-2 3-1 2-7 2 6 2 10 2-1 3 10 2 5 2 1 2 9 2 7 3 4 2 3 2 3 2 14 2 3 3 14 2 0 2-9 2 2 2-8 3-14 2-6 2-6 2-7 2 0 3-15 2 0 2-3 2-5 2-8 3-12 2 4 2 6 2 12 3-2 2 11 2-3 2 13 2 5 3 1 2 16 2 4 2 0 2 13 3-4 2 9 2-3 2-4 2-17 3-1 2-3 2-7 2 4 2-18 3 1 2-7 2-3 2-4 2-7 3-9 2-3 2 1 2 19 2-8 3 3 2 11 2 12 2-2 2 10 3 7 2-4 2 12 2 3 3 17 2 0 2 7 2-7 2-11 3 1 2-3 2-10 2-10 2-16 3 2 2-1 2-6 2-9 2-6 3-7 2 0 2-10 2 11 2 10 3-2 2-5 2 16 2 5 2 10 3 4 2 6 2 6 2 5 2 4 3 15 2 9 2-2 2-24 2 11 3-16 2 4 2-13 2 2 2-16 3-10 2 10 2-8 2-4 3-7 2-6 2-9 2-6 2 15 3 4 2 5 2 4 2 4 2 17 3-9 2 17 2-3 2 6 2 16 3 10 2-2 2 3 2 10 2-15 3-10 2-1 2-15 2 1 2-6 3-7 2-6 2-2 2-5 2-12 3-1 2-8 2-7 2-4 2 14 3 9 2-1 2 2 2 19 3 6 2 2 2 6 2 10 2-6 3 21 2 2 2 3 2-1 2-5 3-8 2-11 2 5 2-9 2-1 3-10 2-3 2-13 2-5 2 3 3-14 2 1 2-15 2-1 2 10 3 5 2 5 2 11 2 2 2 6 3 9 2 13 2-1 2-2 2 14 3 16 2-5 2 6 2-1 3-10 2-11 2 3 2 2 2-15 3-7 2-7 2-5 2-6 2-10 3 3 2-18 2 0 2-5 2 3 3 4 2 19 2 3 2-3 2 11 3 6 2-1 2 11 2 12 2-2 3 12 2 9 2-2 2 0 2-6 3 3 2-12 2-2 2-11 2 7 3-11 2-13 2 0 2-10 3-2 2-5 2-13 2-3 2-8 3 14 2 11 2-1 2 10 2 1 3 7 2 4 2 5 2 6 2 8 3 11 2-1 2 10 2 4 2-2 3-16 2 8 2-7 2-1 2-11 3-2 2-11 2-4 2-9 2-5 3-4 2-5 2-9 2-14 2 0 3 19 2 4 2 11 2-1 3 15 2 2 2 3 2 17 2-3 3 14 2 4 2-6 2 15 2 4 3-13 2-5 2-5 2-6 2-1 3-9 2-2 2-4 2-3 2-16 3 1 2-4 2-15 2-6 2-2 3 12 2 5 2 5 2 12 2-8 3 8 2 13 2-1 2 16 2-6 3 15 2 3 2 7 2 5 3 0 2-6 2-7 2-7 2-9 3-3 2-8 2-4 2-2 2-9 3-2 2-7 2-4 2-6 2-5 3 1 2-5 2 14 2-3 2 10 3 10 2-1 2 13 2 2 2 2 3 16 2 7 2-1 2 7 2 10 3-10 2-6 2 2 2-6 2-9 3-6 2-10 2-8 2-6 2 4 3-10 2-2 2-6 2-7 3-13 2 11 2-1 2 9 2 3 3 15 2-1 2 8 2 7 2 6 3 6 2-1 2 15 2 3 2 8 3 7 2-7 2-13 2 11 2-28 3 6 2-18 2 2 2-7 2 1 3-7 2-3 2-19 2-1 2-3 3 0 2-6 2 16 2 2 2 7 3 9 2 9 2 2 2 4 3 4 2 7 2 7 2 12 2-5 3 3 2 14 2-18 2 4 2-3 3-14 2 1 2-7 2-9 2-10 3 3 2-21 2-3 2 2 2-4 3-18 2 5 2 18 2-6 2 14 3 4 2 4 2 6 2 9 2 5 3-6 2 17 2 2 2 13 2 1 3 10 2 0 2-14 2 3 3-10 2-8 2-9 2-9 2 0 3-3 2-11 2-5 2-4 2-5 3-9 2-1 2 4 2 0 2 6 3 7 2 2 2 12 2-3 2 11 3 13 2 9 2 1 2 1 2 12 3 3 2 4 2-7 2-2 2-5 3-10 2-8 2-9 2 0 2-9 3-10 2 6 2-8 2-17 3 4 2-13 2 3 2 3 2 11 3 4 2 2 2 8 2 13 2 4 3 9 2 4 2 8 2-1 2 6 3 4 2 8 2 5 2-3 2-18 3 10 2-17 2-10 2-1 2-7 3-8 2-9 2 1 2-4 2-4 3-19 2 4 2 5 2-5 2 13 3 4 2 5 2 17 2-2 2 8 3 10 2 3 2 2 2 5 3 9 2 9 2-4 2 1 2-13 3 0 2-7 2 0 2-16 2-3 3 4 2-16 2-4 2-1 2-9 3-6 2-3 2-11 2 12 2 10 3 5 2-4 2 8 2 1 2 17 3-2 2 14 2 2 2 8 2-1 3 6 2 15 2-6 2 0 2-8 3-7 2-11 2-6 2-5 3 3 2-11 2-9 2-6 2-7 3-1 2-16 2-1 2 7 2 0 3 10 2 5 2 6 2 9 2 6 3 2 2 12 2 6 2 2 2-1 3 16 2 1 2 8 2 6 2-14 3-15 2-2 2 2 2-7 2-17 3 0 2-8 2 0 2-12 2-6 3-4 2-14 2 9 2 1 3 5 2 3 2 5 2 8 2 3 3 7 2 12 2 5 2 6 2 6 3 10 2 1 2 3 2 2 2-1 3-13 2 0" fill="none" stroke="#ff0000" stroke-width="13" stroke-linejoin="round"/><path d="M1764 4369l2-11 2 9 3 10 2 10 2 7 2 8 2 8 3 10 2 5 2 10 2 6 2 11 3 7 2 9 2 8 2 11 2-8 3-9 2-9 2-8 2-8 3-10 2-8 2-7 2-10 2-11 3-7 2-6 2-8 2-10 2-4 3 7 2 7 2 6 2 9 2 11 3 9 2 11 2 9 2 11 2 8 3 8 2 7 2 9 2 10 2 1 3-8 2-9 2-8 2-9 2-10 3-9 2-9 2-8 2-8 2-11 3-10 2-7 2-8 2-8 3 0 2 10 2 9 2 8 2 8 3 9 2 10 2 7 2 6 2 10 3 8 2 12 2 7 2 11 2 6 3-6 2-11 2-8 2-10 2-7 3-5 2-8 2-8 2-11 2-8 3-9 2-8 2-9 2-11 2-8 3 8 2 10 2 9 2 8 2 6 3 7 2 13 2 10 2 10 3 6 2 7 2 9 2 8 2 10 3 6 2-6 2-9 2-9 2-9 3-8 2-11 2-7 2-8 2-9 3-12 2-10 2-9 2-7 2-9 3 0 2 6 2 8 2 10 2 12 3 10 2 8 2 9 2 9 2 9 3 9 2 7 2 7 2 7 2 10 3-1 2-8 2-11 2-8 2-9 3-8 2-9 2-9 2-7 3-9 2-8 2-8 2-8 2-8 3-9 2 6 2 10 2 5 2 8 3 7 2 8 2 7 2 8 2 11 3 12 2 7 2 8 2 9 2 11 3 8 2-11 2-9 2-8 2-6 3-9 2-10 2-7 2-8 2-9 3-12 2-7 2-6 2-7 2-10 3-5 2 6 2 9 2 8 3 10 2 8 2 9 2 5 2 12 3 9 2 11 2 6 2 10 2 9 3 7 2 1 2-12 2-6 2-8 3-7 2-10 2-12 2-10 2-7 3-8 2-7 2-8 2-8 2-10 3-8 2 2 2 8 2 11 2 9 3 10 2 9 2 8 2 8 2 7 3 9 2 9 2 12 2 6 3 6 2 6 2-6 2-7 2-7 3-8 2-10 2-11 2-9 2-8 3-9 2-8 2-9 2-8 2-9 3-9 2-7 2 9 2 9 2 9 3 9 2 8 2 8 2 10 2 11 3 7 2 8 2 7 2 10 2 10 3 9 2 4 2-9 2-11 2-9 3-8 2-7 2-7 2-10 3-7 2-10 2-8 2-8 2-9 3-11 2-7 2 0 2 10 2 6 3 9 2 9 2 8 2 8 2 9 3 10 2 7 2 10 2 8 2 9 3 7 2 7 2-2 2-8 2-9 3-9 2-7 2-11 2-7 2-10 3-5 2-9 2-8 2-8 2-8 3-9 2-10 2 7 2 8 3 8 2 8 2 7 2 7 2 8 3 12 2 11 2 8 2 8 2 8 3 9 2 6 2 9 2-8 2-5 3-11 2-9 2-12 2-6 2-8 3-9 2-11 2-7 2-9 2-5 3-9 2-8 2-7 2 10 2 7 3 8 2 9 2 11 2 8 2 7 3 7 2 11 2 7 2 9 2 8 3 10 2 10 2 1 2-10 3-10 2-7 2-8 2-9 2-9 3-9 2-8 2-11 2-7 2-9 3-10 2-10 2-8 2 4 2 8 3 11 2 9 2 8 2 8 2 7 3 9 2 9 2 10 2 9 2 7 3 9 2 7 2 11 2-6 2-10 3-9 2-9 2-6 2-8 2-8 3-11 2-9 2-8 2-6 3-10 2-6 2-9 2-6 2 7 3 8 2 9 2 7 2 11 2 6 3 7 2 5 2 9 2 9 2 8 3 10 2 11 2 10 2 4 2-10 3-8 2-9 2-7 2-9 2-9 3-9 2-9 2-7 2-10 2-12 3-6 2-9 2-7 2-4 2 11 3 11 2 8 2 8 2 7 3 9 2 8 2 9 2 10 2 8 3 8 2 7 2 11 2 8 2 0 3-10 2-8 2-10 2-7 2-8 3-10 2-10 2-9 2-7 2-10 3-8 2-11 2-6 2-9 2 7 3 9 2 7 2 10 2 8 2 12 3 6 2 7 2 7 2 11 2 10 3 8 2 6 2 8 2 9 3-8 2-10 2-8 2-8 2-7 3-9 2-11 2-9 2-9 2-9 3-8 2-12 2-7 2-6 2-3 3 12 2 6 2 11 2 8 2 10 3 5 2 7 2 11 2 11 2 9 3 4 2 8 2 8 2 14 2-2 3-9 2-14 2-7 2-6 2-6 3-11 2-11 2-10 2-5 2-4 3-9 2-8 2-12 2-6 3 1 2 10 2 6 2 8 2 8 3 8 2 8 2 7 2 8 2 11 3 10 2 13 2 8 2 9 2 4 3-4 2-12 2-6 2-12 2-6 3-10 2-7 2-7 2-7 2-10 3-10 2-11 2-6 2-7 2-8 3 8 2 7 2 8 2 10 2 8 3 11 2 6 2 9 2 8 3 9 2 7 2 10 2 10 2 8 3 2 2-7 2-8 2-8 2-10 3-9 2-9 2-10 2-7 2-7 3-7 2-10 2-7 2-10 2-8 3-1 2 10 2 8 2 7 2 7 3 10 2 10 2 9 2 8 2 6 3 8 2 10 2 9 2 9 2 7 3-3 2-8 2-8 2-5 3-12 2-6 2-10 2-6 2-11 3-9 2-8 2-10 2-6 2-10 3-9 2 3 2 8 2 9 2 10 3 12 2 9 2 9 2 6 2 9 3 7 2 9 2 7 2 11 2 8 3 8 2-11 2-8 2-10 2-7 3-9 2-8 2-10 2-6 2-9 3-6 2-7 2-10 2-12 3-10 2-4 2 11 2 7 2 8 3 9 2 11 2 11 2 7 2 6 3 7 2 8 2 10 2 11 2 10 3 9 2-2 2-10 2-9 2-7 3-7 2-10 2-10 2-8 2-10 3-7 2-10 2-5 2-8 2-10 3-8 2 1 2 9 2 7 2 7 3 10 2 9 2 11 2 8 3 10 2 10 2 8 2 8 2 8 3 9 2 8 2-8 2-8 2-8 3-10 2-8 2-10 2-6 2-10 3-8 2-10 2-10 2-8 2-8 3-8 2-6 2 8 2 9 2 7 3 8 2 9 2 9 2 11 2 9 3 9 2 8 2 9 2 9 2 8 3 9 2 5 2-10 2-10 3-10 2-10 2-8 2-9 2-10 3-8 2-7 2-6 2-8 2-9 3-8 2-10 2-2 2 8 2 7 3 8 2 9 2 10 2 11 2 10 3 9 2 9 2 8 2 8 2 7 3 7 2 11 2-4 2-6 2-12 3-6 2-10 2-7 2-9 2-11 3-8 2-9 2-6 2-9 2-4 3-9 2-10 2 3 2 9 3 9 2 7 2 6 2 8 2 11 3 11 2 10 2 4 2 8 2 9 3 8 2 8 2 7 2-9 2-8 3-7 2-6 2-7 2-10 2-12 3-9 2-7 2-5 2-11 2-8 3-9 2-5 2-5 2 7 2 5 3 8 2 8 2 8 2 9 2 10 3 11 2 9 2 9 2 8 3 8 2 8 2 10 2 2 2-9 3-9 2-9 2-9 2-8 2-7 3-10 2-7 2-9 2-8 2-10 3-8 2-8 2-11 2 0 2 8 3 9 2 12 2 6 2 8 2 9 3 10 2 10 2 7 2 7 2 8 3 10 2 10 2 8 2-8 2-9 3-7 2-8 2-9 2-7 3-9 2-8 2-11 2-8 2-9 3-8 2-7 2-10 2-5 2 6 3 8 2 7 2 8 2 9 2 11 3 10 2 8 2 6 2 9 2 12 3 9 2 8 2 8 2 1 2-7 3-11 2-7 2-9 2-7 2-6 3-7 2-10 2-10 2-11 2-7 3-6 2-8 2-9 2-5 3 11 2 7 2 11 2 7 2 9 3 9 2 9 2 8 2 5 2 7 3 11 2 9 2 9 2 8 2-1 3-7 2-7 2-7 2-9 2-12 3-10 2-11 2-7 2-6 2-6 3-7 2-12 2-9 2-9 2 9 3 6 2 8 2 7 2 8 2 8 3 8 2 10 2 10 2 9 2 9 3 7 2 8 2 10 2 10 3-9 2-9 2-10 2-8 2-10 3-8 2-9 2-8 2-9 2-7 3-9 2-9 2-10 2-9 2-3 3 8 2 9 2 9 2 10 2 8 3 8 2 10 2 7 2 12 2 8 3 11 2 3 2 9 2 7 2 3 3-11 2-11 2-9 2-7 2-5 3-8 2-8 2-10 2-10 3-10 2-8 2-7 2-7 2-7 3 3 2 7 2 7 2 8 2 8 3 8 2 8 2 8 2 10 2 8 3 9 2 7 2 10 2 11 2 8 3-7 2-9 2-9 2-8 2-11 3-7 2-9 2-9 2-9 2-9 3-8 2-7 2-9 2-8 2-8 3 12 2 9 2 6 2 7 3 10 2 10 2 7 2 7 2 10 3 10 2 9 2 10 2 7 2 9 3 2 2-7 2-8 2-8 2-6 3-10 2-9" fill="none" stroke="#008000" stroke-width="14" stroke-linejoin="round"/></g></g><rect x="165.5" y="434.5" width="242.0" height="15.0" fill="none" stroke="#303030" stroke-width="1"/><line x1="162.70" x2="165.50" y1="436.5" y2="436.5" stroke="#262626" stroke-width="0.9"/><text x="160.80" y="438.50" class="tk" text-anchor="end">1</text><line x1="162.70" x2="165.50" y1="448.5" y2="448.5" stroke="#262626" stroke-width="0.9"/><text x="160.80" y="451.20" class="tk" text-anchor="end">0</text><line x1="176.5" x2="176.5" y1="449.5" y2="452.1" stroke="#262626" stroke-width="0.9"/><line x1="220.5" x2="220.5" y1="449.5" y2="452.1" stroke="#262626" stroke-width="0.9"/><line x1="264.5" x2="264.5" y1="449.5" y2="452.1" stroke="#262626" stroke-width="0.9"/><line x1="308.5" x2="308.5" y1="449.5" y2="452.1" stroke="#262626" stroke-width="0.9"/><line x1="352.5" x2="352.5" y1="449.5" y2="452.1" stroke="#262626" stroke-width="0.9"/><line x1="396.5" x2="396.5" y1="449.5" y2="452.1" stroke="#262626" stroke-width="0.9"/><text x="176.40" y="459.40" class="tk" text-anchor="middle">0</text><text x="220.50" y="459.40" class="tk" text-anchor="middle">200</text><text x="264.60" y="459.40" class="tk" text-anchor="middle">400</text><text x="308.70" y="459.40" class="tk" text-anchor="middle">600</text><text x="352.80" y="459.40" class="tk" text-anchor="middle">800</text><text x="396.90" y="459.40" class="tk" text-anchor="middle">1000</text></g>
<text x="0" y="0" class="yl" text-anchor="middle" transform="translate(12.5 96.6) rotate(-90)">Amplitude</text>
<text x="0" y="0" class="yl" text-anchor="middle" transform="translate(280.0 98.0) rotate(-90)">Amplitude</text>
<text x="0" y="0" class="yl" text-anchor="middle" transform="translate(143.4 360.0) rotate(-90)">Amplitude</text>
<text x="124.1" y="237.7" class="cap" text-anchor="middle">(<tspan font-weight="bold">a</tspan>)</text>
<text x="394.4" y="237.7" class="cap" text-anchor="middle">(<tspan font-weight="bold">b</tspan>)</text>
<text x="324.7" y="500.6" class="cap" text-anchor="middle">(<tspan font-weight="bold">c</tspan>)</text>
</svg>
</body></html>
